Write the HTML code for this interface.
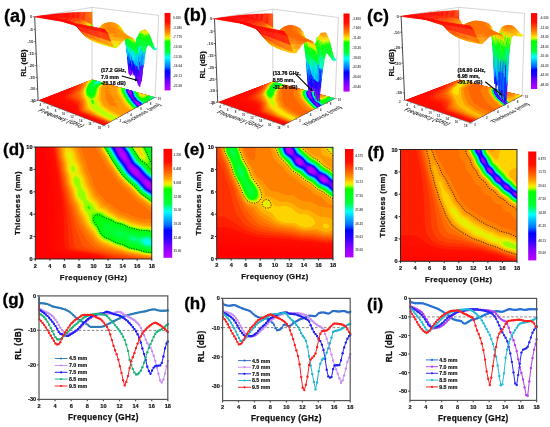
<!DOCTYPE html><html><head><meta charset="utf-8"><style>
html,body{margin:0;padding:0;background:#fff;width:550px;height:427px;overflow:hidden;}
svg{display:block;font-family:"Liberation Sans",sans-serif;filter:blur(0.35px);}
.cb{font-size:3.1px;fill:#555;font-weight:bold}
.tk{font-size:5.6px;fill:#111;font-weight:bold;stroke:#111;stroke-width:0.18px}
.ax{font-size:7.7px;fill:#111;font-weight:bold;letter-spacing:0.4px;stroke:#111;stroke-width:0.25px}
.ax2{font-size:8.2px;fill:#111;font-weight:bold;letter-spacing:0.35px;stroke:#111;stroke-width:0.25px}
.lg{font-size:5.3px;fill:#111;font-weight:bold;stroke:#111;stroke-width:0.18px}
.pl{font-size:17px;fill:#000;font-weight:bold;stroke:#000;stroke-width:0.3px}
.pl3{font-size:18px;fill:#000;font-weight:bold;stroke:#000;stroke-width:0.3px}
.z3{font-size:4.3px;fill:#333;font-weight:bold}
.t3{font-size:3.0px;fill:#444;font-weight:bold}
.a3{font-size:5.8px;fill:#333;font-weight:bold}
.a3b{font-size:5.3px;fill:#333;font-weight:bold}
.an{font-size:5.2px;fill:#000;font-weight:bold;stroke:#000;stroke-width:0.2px}
.r3{font-size:7.6px;fill:#111;font-weight:bold;stroke:#111;stroke-width:0.2px}
.k0{fill:#ff0100;stroke:#ff0100}.k1{fill:#ff0300;stroke:#ff0300}.k2{fill:#ff0500;stroke:#ff0500}.k3{fill:#ff0700;stroke:#ff0700}.k4{fill:#ff0900;stroke:#ff0900}.k5{fill:#ff0b00;stroke:#ff0b00}.k6{fill:#ff0e00;stroke:#ff0e00}.k7{fill:#ff1000;stroke:#ff1000}.k8{fill:#ff1c00;stroke:#ff1c00}.k9{fill:#ff2a00;stroke:#ff2a00}.k10{fill:#ff3800;stroke:#ff3800}.k11{fill:#ff4700;stroke:#ff4700}.k12{fill:#ff5500;stroke:#ff5500}.k13{fill:#ff6400;stroke:#ff6400}.k14{fill:#ff7300;stroke:#ff7300}.k15{fill:#ff8300;stroke:#ff8300}.k16{fill:#ff9500;stroke:#ff9500}.k17{fill:#ffa800;stroke:#ffa800}.k18{fill:#ffbe00;stroke:#ffbe00}.k19{fill:#ffd800;stroke:#ffd800}.k20{fill:#e8ed00;stroke:#e8ed00}.k21{fill:#c3ff00;stroke:#c3ff00}.k22{fill:#69ff00;stroke:#69ff00}.k23{fill:#10ff00;stroke:#10ff00}.k24{fill:#00ff06;stroke:#00ff06}.k25{fill:#00ff0d;stroke:#00ff0d}.k26{fill:#00ff14;stroke:#00ff14}.k27{fill:#00ff1c;stroke:#00ff1c}.k28{fill:#00ff23;stroke:#00ff23}.k29{fill:#00ff2a;stroke:#00ff2a}.k30{fill:#00ff31;stroke:#00ff31}.k31{fill:#00ff38;stroke:#00ff38}.k32{fill:#00ff50;stroke:#00ff50}.k33{fill:#00ff78;stroke:#00ff78}.k34{fill:#00ff9f;stroke:#00ff9f}.k35{fill:#00ffc4;stroke:#00ffc4}.k36{fill:#00ffe8;stroke:#00ffe8}.k37{fill:#00f7ff;stroke:#00f7ff}.k38{fill:#00e3ff;stroke:#00e3ff}.k39{fill:#00cfff;stroke:#00cfff}.k40{fill:#00bbff;stroke:#00bbff}.k41{fill:#00a9ff;stroke:#00a9ff}.k42{fill:#0097ff;stroke:#0097ff}.k43{fill:#0085ff;stroke:#0085ff}.k44{fill:#0073ff;stroke:#0073ff}.k45{fill:#0056ff;stroke:#0056ff}.k46{fill:#0034ff;stroke:#0034ff}.k47{fill:#0011ff;stroke:#0011ff}.k48{fill:#0400ff;stroke:#0400ff}.k49{fill:#0d00ff;stroke:#0d00ff}.k50{fill:#1600ff;stroke:#1600ff}.k51{fill:#1f00ff;stroke:#1f00ff}.k52{fill:#2800ff;stroke:#2800ff}.k53{fill:#3b00ff;stroke:#3b00ff}.k54{fill:#4d00ff;stroke:#4d00ff}.k55{fill:#5f00ff;stroke:#5f00ff}.k56{fill:#7000ff;stroke:#7000ff}.k57{fill:#7b00ff;stroke:#7b00ff}.k58{fill:#8600ff;stroke:#8600ff}.k59{fill:#9100ff;stroke:#9100ff}.k60{fill:#9d00ff;stroke:#9d00ff}.k61{fill:#a500ff;stroke:#a500ff}.k62{fill:#ad00ff;stroke:#ad00ff}.k63{fill:#b500ff;stroke:#b500ff}
</style></head><body>
<svg width="550" height="427" viewBox="0 0 550 427">
<rect width="550" height="427" fill="#fff"/>
<clipPath id="cd"><rect x="35.3" y="147" width="116.5" height="112"/></clipPath>
<g clip-path="url(#cd)">
<rect x="35.3" y="147" width="116.5" height="112" fill="#ff0100"/>
<path fill="#ff0400" fill-rule="evenodd" d="M151.9 147 151.8 259 86 259 84.8 257.9 79.7 256.6 63 255.3 56.4 254.3 52 252.8 49.5 250.6 48.7 248.7 48.2 245 47.6 182.5 46.9 167.5 45.1 147 151.9 147Z"/>
<path fill="#ff0700" fill-rule="evenodd" d="M151.9 147 151.8 259 89.9 259 89.2 258.1 87.2 257.1 83.3 256.2 65.2 254.5 58.9 253.4 55 251.9 52.6 249.7 51.9 247.8 51.5 244.1 51.1 199.3 50.6 181.5 49.6 166.6 47.3 147 151.9 147Z"/>
<path fill="#ff0a00" fill-rule="evenodd" d="M151.9 147 151.8 259 93.4 259 92.8 258.1 91.1 257.1 86.3 255.8 61.5 252.7 58.4 251.5 56 249.7 55.1 247.8 54.6 244.1 54.1 200.2 53.2 181.5 51.8 166.6 49.2 147 151.9 147Z"/>
<path fill="#ff0c00" fill-rule="evenodd" d="M151.9 147 151.8 259 97 259 96.4 258.1 94.9 257.1 89.2 255.4 64.4 252.1 60.7 250.6 58.8 248.7 58 246.9 57.7 244.1 57.4 213.3 56.6 194.6 53.7 166.6 50.7 147 151.9 147Z"/>
<path fill="#ff0f00" fill-rule="evenodd" d="M151.9 147 151.8 259 100.8 259 100.2 258.1 98.8 257.1 94.3 255.6 87 254.1 68.1 251.6 64.9 250.6 62.3 248.7 61.4 246.9 61 244.1 60.4 213.3 59.2 195.5 55.3 165.7 52.1 147 151.9 147Z"/>
<path fill="#ff1e00" fill-rule="evenodd" d="M151.9 147 151.8 259 105 259 103 257.1 97.7 255.3 90.6 253.8 71 250.8 67.6 249.7 65.5 247.8 64.5 244.1 63.7 217 62.8 205.8 61.4 194.6 53.4 147 151.9 147Z"/>
<path fill="#ff3100" fill-rule="evenodd" d="M151.9 147 151.8 259 110.6 259 107.9 257.1 102.8 255.3 92.8 253.1 76.9 250.6 73.2 249.6 70 247.8 69 245.9 68.6 244.1 67.7 225.4 66.2 210.5 54.7 147 151.9 147Z"/>
<path fill="#ff4400" fill-rule="evenodd" d="M151.8 147 151.8 259 125.5 259 102.3 253.7 81.2 249.7 78 248.7 75.1 246.9 73.8 244.1 73.1 236.6 69.4 213.3 63.1 186.2 55.9 147 151.8 147Z"/>
<path fill="#ff5800" fill-rule="evenodd" d="M151.8 147 151.8 259 138.2 259 134.8 258.1 112.5 254.5 87.8 248.7 85.3 247.8 82.7 245.9 81.2 243.2 75.4 227.3 70.8 208.6 68.2 200.2 66.6 192.7 64.2 184.3 63.1 177.8 61.5 171.3 60.4 163.8 58.7 157.3 57 147 151.8 147Z"/>
<path fill="#ff6c00" fill-rule="evenodd" d="M151.8 147 151.8 259 144.5 258.8 135.8 256.7 111 252.5 96.9 248.7 93.1 246.9 90.7 245 82.8 233.8 79.1 227.3 75.1 216.1 72.7 207.7 69.9 200.2 67.9 191.8 65.8 185.3 64.4 177.8 62.5 170.3 61.6 163.8 59.9 157.3 59.1 150.7 58.3 147 151.8 147Z"/>
<path fill="#ff8000" fill-rule="evenodd" d="M80.3 147 82.2 150.7 84.1 157.6 86.7 163.8 88.4 170.3 91 175.9 93.7 184.3 98.9 193.7 103.1 197.4 107.4 202.9 109.6 203 115.2 207.7 121.2 211.7 127 213.4 134.3 216.8 143.1 218.7 151.8 218.9 151.8 258.3 144.5 257.5 135.8 255.5 126.3 254.2 112.5 251.1 100.8 247.5 97.8 245.9 94.3 242.9 84.1 230.1 80.4 223.8 76.7 214.2 74.4 206.7 71 198.5 69.4 191.8 66.8 184.3 65.5 176.9 63.9 171.3 62.9 163.8 61 157.3 60.3 150.7 59.5 147 80.3 147ZM151.8 147 151.8 212.2 135.8 200.6 128.1 191.8 119.8 184.2 115 178.7 111.8 173.3 106 165.7 95.1 147 151.8 147Z"/>
<path fill="#ff9800" fill-rule="evenodd" d="M76.5 147 79 151.7 80.7 158.2 83.6 164.7 85.2 171.3 87.9 176.9 90.7 185.3 96.1 195.5 100.1 199.3 104.5 205.1 105.9 204.9 107.4 205.8 113.2 210.4 119.8 214.6 125.6 216.4 132.8 219.8 141.6 222.1 151.8 223.1 151.8 257.1 144.5 256.4 127 253.2 113.2 249.6 102.3 245.7 99.4 244 95.7 240.8 86.4 229.1 82.4 222.6 81.1 218.9 78.3 213.1 75.9 205.8 72.4 198.3 70.6 190.9 68.1 184.3 66.8 176.9 64.9 170.3 64.1 163.8 62 156.3 61.6 150.7 60.8 147 76.5 147ZM151.8 147 151.8 208.3 137.2 197.8 130.1 189.9 123.4 183.9 118.3 178.5 108.2 163.8 98.2 147 151.8 147Z"/>
<path fill="#ffb200" fill-rule="evenodd" d="M73.5 147 76.7 152.6 78.3 159.1 81.1 164.7 82.9 172.2 85.8 177.8 88.5 186.2 93.7 196.5 98.3 201.1 102.3 206.7 104 206.7 105.9 207.8 111 211.8 118.3 216.4 124.9 218.4 131.8 221.7 141.6 224.3 151.8 225.4 151.8 256.2 144.5 255.6 127.8 252.3 113.9 248.2 103 243.9 100.1 242.1 97.1 239.4 92.1 232.6 88.2 228.2 84.2 221.7 82.9 217.9 79.7 212 77.4 204.9 73.9 198.3 72.1 190.9 69.2 183.4 68.2 176.9 66 169.4 65.3 162.9 63.3 156.3 62.9 149.8 62.4 147 73.5 147ZM151.8 147 151.8 206.4 138.7 196.9 131.4 189 124.1 182.5 119 177 109.4 162.9 100 147 151.8 147Z"/>
<path fill="#ffd300" fill-rule="evenodd" d="M70.2 147 74.2 152.6 76.1 160.1 79.5 166.6 80.9 173.1 83.9 178.7 85.7 185.3 88.5 190.4 91 196.5 92.2 198.3 96.3 202.1 100.8 208.5 101.6 208.3 104.5 209.3 109.6 213.1 117.6 218 124.9 220.2 131.4 223.3 140.9 225.8 151.8 227.1 151.8 255.4 143.8 254.6 136.5 252.8 128.5 251.5 113.9 246.7 108.1 243.9 103.7 242.5 100.8 240.6 97.9 237.9 93.6 231.6 89.8 227.3 85.9 220.7 84.6 217 81.3 211.4 78.8 203.9 75.5 198.3 73.4 189.9 70.6 183.4 69.5 175.9 67.3 169.4 66.7 161.9 65 157.3 64.5 154.5 64.9 148.9 64.5 147 70.2 147ZM151.8 147 151.8 205.1 139.4 196 132.9 188.9 124.9 181.6 119.8 176.1 110.7 162.9 101.3 147 151.8 147Z"/>
<path fill="#e3f000" fill-rule="evenodd" d="M70.3 151.7 72.2 154.5 72.8 160.1 77.2 166.6 78.4 173.1 81.9 179 83.7 186.2 87 191.8 89 197.4 90 199.3 94.3 203 98.7 209.5 102.3 210.2 108.1 214.3 114.7 217.6 116.9 219.3 124.1 221.4 130.7 224.6 140.9 227.2 148.2 227.6 151.8 228.4 151.8 254.6 143.8 253.9 136.5 251.9 127.8 250.2 121.2 247.5 114.7 245.6 108.8 242.7 104.5 241.3 101.6 239.4 98.6 236.6 94.4 230.1 89.9 224.5 86.4 216.1 82.6 209.9 80.6 203 77.2 198.3 76.4 196.5 75.2 189.9 71.8 182.5 71.3 175.9 68.7 168.5 68.9 161 66.5 155.4 66.6 153.5 67.4 151.7 68.1 151.2 70.3 151.7ZM151.8 147 151.8 204 139.4 194.8 133.2 188.1 125.6 181.1 120.7 175.9 111.2 161.9 102.3 147 135.4 147 140.2 154.4 142.3 156.5 143.1 156.3 142.7 154.5 139.1 147 151.8 147Z"/>
<path fill="#96ff00" fill-rule="evenodd" d="M77 176.9 78.4 177.8 80.2 180.6 80.9 187.1 85 192.7 86.4 199.3 87 200.2 92.1 203.9 95.3 209.5 97.3 211.4 99.4 211.2 102.3 212.2 108 216.1 113.2 218.4 116.1 220.5 123.4 222.5 130.7 225.9 140.9 228.4 148.2 228.8 151.8 229.6 151.8 253.9 143.8 253.1 136.5 251 128.5 249.5 121.9 246.5 115.4 244.6 108.8 241.3 105.2 240.2 103 238.9 100.4 236.6 98.6 234.4 95.7 229.2 91.4 223.7 88.5 214.9 84.3 208.6 83.2 202.1 78.4 196.5 77.7 193.7 77.7 189.9 77.3 188.1 74.1 183.4 73.4 180.6 73.8 177.8 74.6 176.4 76.1 176.2 77 176.9ZM151.8 147 151.8 203.1 140.2 194.5 133.3 187.1 126.3 180.8 121.2 175.4 112 161.9 103.1 147 133.7 147 140.9 158.2 144.5 159.6 145.7 159.1 145.8 158.2 145 154.5 141.2 147 151.8 147ZM74 166.6 74.9 168.5 74.9 170.3 74.6 171.6 73.2 171.9 71.7 170.3 71.1 167.5 71.7 166.2 73.2 166.1 74 166.6Z"/>
<path fill="#1fff00" fill-rule="evenodd" d="M100.2 213.3 106.4 217 112.5 219.5 115.4 221.6 122.7 223.5 130 226.9 140.2 229.4 148.2 229.8 151.8 230.7 151.8 253.2 144.3 252.5 137.2 250.2 129.2 248.7 121.9 245.3 115.4 243.4 109.6 240.3 103.7 237.9 99.7 233.8 96.5 227.6 92.8 222.9 92 220.7 92 216.1 92.8 213.9 96.5 213.1 100.2 213.3ZM88.7 205.8 90 206.7 90.5 208.6 89.9 209.3 89.2 209.5 87.5 207.7 87.7 205.9 88.7 205.8ZM151.8 147 151.8 202.3 140.9 194.3 134.2 187.1 126.3 179.9 121.7 175 112.2 161 103.9 147 132.6 147 140.2 158.9 146 162.6 148.2 163.4 148.7 161.9 148.1 159.1 146.1 153.5 142.7 147 151.8 147Z"/>
<path fill="#00ff07" fill-rule="evenodd" d="M99.1 215.1 105.9 218.6 111.8 220.5 115.4 222.9 122.7 224.7 129.2 227.8 140.2 230.5 147.4 230.7 151.8 231.7 151.8 252.5 144.5 251.8 137.2 249.3 130 247.9 122.7 244.4 115.4 242.2 110.3 239.3 104.5 237 100.6 232.9 97.6 226.3 94.9 222.6 94.1 220.7 93.9 218.9 94.5 217 96.5 215.4 99.1 215.1ZM131.8 147 139.4 159.1 146.7 164.9 151.8 170.7 151.8 201.5 141 193.7 134.3 186.4 126.3 179.2 121.9 174.4 112.8 161 104.6 147 131.8 147ZM151.8 147 151.8 163.6 146.9 152.6 143.9 147 151.8 147Z"/>
<path fill="#00ff11" fill-rule="evenodd" d="M101.4 218.9 103.7 219.8 109.6 220.9 114.7 223.9 121.9 225.6 129.7 229.1 140.2 231.5 148.2 231.7 151.8 232.7 151.8 251.7 144.5 251 137.2 248.4 130 247 123.4 243.5 116.1 241.4 110.3 238 105.2 236.1 101.4 231.9 98.9 224.5 97 220.7 97.1 218.9 97.9 218.1 101.4 218.9ZM131 147 138.7 159.3 146.1 165.7 151.8 171.9 151.8 200.8 141.6 193.5 134.8 186.2 127 179.2 122.4 174.1 113.4 161 105.2 147 131 147ZM151.8 147 151.8 160.8 145.2 147 151.8 147Z"/>
<path fill="#00ff1a" fill-rule="evenodd" d="M110.2 222.6 114.7 225.3 121.9 226.7 129.2 230.1 140.2 232.5 147.4 232.5 151.8 233.6 151.8 251 144.5 250.3 137.2 247.4 130 246 123.4 242.3 116.9 240.5 111 237 105.9 235.1 103.6 232.9 101.9 230.1 101.3 226.3 101.8 223.5 103 222.3 105.9 221.8 110.2 222.6ZM130.4 147 138.6 160.1 144.2 164.7 151.8 172.8 151.8 200.2 141.6 192.9 135.1 185.7 127.8 179.2 123 174.1 113.4 160.1 105.7 147 130.4 147ZM151.8 147 151.8 157.9 146.4 147 151.8 147Z"/>
<path fill="#00ff24" fill-rule="evenodd" d="M108.4 223.5 110.3 224.1 113.9 226.5 121.2 227.6 128.5 231.1 140.2 233.5 147.4 233.4 151.8 234.5 151.8 250.2 145.1 249.7 137.2 246.5 130.7 245.2 124.1 241.4 117 239.4 111 235.4 106.7 234 103.7 230.7 103 228.2 103.1 226.3 103.7 224.8 105.2 223.9 106.7 223.4 108.4 223.5ZM129.8 147 138 160.1 143.4 164.7 151.8 173.6 151.8 199.6 142.1 192.7 135.2 185.3 127.8 178.6 123.4 173.9 113.9 160.1 106.2 147 129.8 147ZM151.8 147 151.8 155 147.8 147 151.8 147Z"/>
<path fill="#00ff2e" fill-rule="evenodd" d="M109.1 225.4 113.2 228.1 120.5 228.6 127.8 232.3 132.9 232.8 139.4 234.5 147.4 234.2 151.8 235.4 151.8 249.4 144.5 248.7 138 245.6 130.5 244.1 124.1 239.9 116.9 238 111.8 233.9 107.7 232.9 105.2 230.1 104.8 228.2 105.5 226.3 107.4 225.1 109.1 225.4ZM129.2 147 138 160.8 142.7 164.7 151.8 174.2 151.8 199.1 142.3 192.4 135.8 185.3 127.8 178 123.4 173.3 114.4 160.1 106.7 147 129.2 147ZM151.8 147 151.8 151.1 149.9 147 151.8 147Z"/>
<path fill="#00ff37" fill-rule="evenodd" d="M120.6 230.1 125.6 233.3 127 233.8 132.1 233.8 140.2 235.7 147.4 235.1 151.8 236.3 151.8 248.6 145.2 248.1 138 244.5 131.1 243.1 129.2 242.2 124.9 238.4 119.5 237.5 117.1 236.6 114.5 233.8 114 231.9 114.6 231 116.9 230 120.6 230.1ZM109.8 229.1 110 230.1 109.6 230.5 108.8 230.2 108.2 229.1 108.8 228.7 109.8 229.1ZM128.7 147 137.6 161 142.3 165 151.8 174.8 151.8 198.6 142.3 191.9 136.4 185.3 128.5 178.2 123.8 173.1 114.8 160.1 107.2 147 128.7 147Z"/>
<path fill="#00ff57" fill-rule="evenodd" d="M134.7 235.7 139.4 237 147.4 236 151.8 237.3 151.8 247.6 145.2 247.2 138 243.1 131.4 241.8 129.3 240.3 127.6 237.5 127.7 236.6 129.2 235.6 131.4 235.2 134.7 235.7ZM120.1 231.9 121.6 232.9 122.5 234.7 120.3 235.7 119 235.4 117.6 234.3 117.5 232.9 118.2 231.9 120.1 231.9ZM128.3 147 137.1 161 141.6 164.9 151.8 175.3 151.8 198.1 142.8 191.8 136 184.3 128.6 177.8 124.1 172.9 115.3 160.1 107.6 147 128.3 147Z"/>
<path fill="#00ff8c" fill-rule="evenodd" d="M149.9 237.5 151.8 238.4 151.8 246.6 148.2 246.8 145.2 246.3 141.6 244.1 138 240.4 132.9 240.4 131.2 239.4 130.7 238.5 131.4 237.4 134.3 237.5 138 239.4 144.5 237.1 147.4 236.9 149.9 237.5ZM127.8 147 130.5 150.7 136.6 161 141.6 165.4 147.8 172.2 151.8 175.8 151.8 197.6 143.1 191.6 136.5 184.3 129.1 177.8 124.1 172.4 121.2 167.5 115.1 159.1 108.1 147 127.8 147Z"/>
<path fill="#00ffbe" fill-rule="evenodd" d="M149.4 238.5 151.8 239.8 151.8 245.2 148.2 245.7 145.2 245.2 143.1 243.7 141.6 241.3 142.3 239.5 143.8 238.6 146.7 237.9 149.4 238.5ZM127.3 147 130.1 150.7 136.5 161.5 140.9 165.2 147.2 172.2 151.8 176.3 151.8 197.2 143.1 191.1 137 184.3 129.2 177.5 124.4 172.2 121.2 166.9 115.5 159.1 108.5 147 127.3 147Z"/>
<path fill="#00ffee" fill-rule="evenodd" d="M148 239.4 149.6 240.1 150.7 241.3 151.3 242.2 150.9 243.1 148.9 244.3 146.7 244.3 144.5 243.2 143.8 242.2 143.7 241.3 144.5 240 146 239.3 148 239.4ZM126.9 147 130 151.2 136.4 161.9 140.2 165 146.7 172.2 151.8 176.8 151.8 196.8 143.3 190.9 136.5 183.4 129.2 177 124.9 172.2 121.4 166.6 115.9 159.1 108.9 147 126.9 147Z"/>
<path fill="#00edff" fill-rule="evenodd" d="M126.5 147 129.9 151.7 136 161.9 140.2 165.5 147.1 173.1 151.8 177.2 151.8 196.4 143.8 190.9 137 183.4 126.9 174.1 116.3 159.1 109.3 147 126.5 147Z"/>
<path fill="#00d2ff" fill-rule="evenodd" d="M126.1 147 129.5 151.7 135.8 162.2 140.8 166.6 146.7 173.2 151.8 177.6 151.8 196 143.8 190.5 137.2 183.2 127.3 174.1 125 171.3 122.2 166.6 116.6 159.1 109.7 147 126.1 147Z"/>
<path fill="#00b8ff" fill-rule="evenodd" d="M125.7 147 129.1 151.7 133.3 159.1 135.8 162.7 139.4 165.7 146.2 173.1 151.8 178 151.8 195.6 143.8 190.1 137.2 182.7 127.7 174.1 125.3 171.3 122.6 166.6 117 159.1 110 147 125.7 147Z"/>
<path fill="#00a0ff" fill-rule="evenodd" d="M125.3 147 128.8 151.7 132.9 159.1 135.5 162.9 140.2 166.8 146.6 174.1 151.8 178.4 151.8 195.2 144.5 190.3 137.4 182.5 127.8 173.7 117.3 159.1 110.4 147 125.3 147Z"/>
<path fill="#0088ff" fill-rule="evenodd" d="M124.9 147 128.4 151.7 132.5 159.1 135.1 162.9 140.2 167.2 146.2 174.1 151.8 178.8 151.8 194.8 144.5 189.9 137.9 182.5 131.3 176.9 127.8 173.2 117.6 159 110.8 147 124.9 147Z"/>
<path fill="#0070ff" fill-rule="evenodd" d="M124.5 147 128.1 151.7 132.2 159.1 134.7 162.9 140 167.5 146 174.3 151.8 179.2 151.8 194.4 144.5 189.5 138 182.1 131.4 176.6 128.1 173.1 117.6 158.4 111.1 147 124.5 147Z"/>
<path fill="#0045ff" fill-rule="evenodd" d="M124.1 147 128.3 152.6 132.1 159.7 134.3 162.9 139.6 167.5 146 174.7 151.8 179.6 151.8 194.1 145.2 189.8 138 181.7 131.4 176.2 128.5 173.1 126.2 170.3 123.5 165.7 117.8 158.2 111.5 147 124.1 147Z"/>
<path fill="#0017ff" fill-rule="evenodd" d="M123.8 147 127.8 152.2 132 160.1 134.3 163.3 139.2 167.5 145.8 175 151.8 180 151.8 193.7 145.2 189.4 138.2 181.5 128.8 173.1 126.5 170.3 123.4 165.1 118.1 158.2 111.8 147 123.8 147Z"/>
<path fill="#0600ff" fill-rule="evenodd" d="M123.4 147 127.7 152.6 131.6 160.1 134.3 163.8 138.8 167.5 145.3 175 151.8 180.4 151.8 193.4 145.2 189.1 138.7 181.5 129.2 173.1 126.9 170.3 123.5 164.7 118.4 158.2 112.2 147 123.4 147Z"/>
<path fill="#1200ff" fill-rule="evenodd" d="M123 147 127.3 152.6 131.3 160.1 133.9 163.8 138.7 167.8 145.2 175.4 151.8 180.8 151.8 193 145.6 189 139.1 181.5 129.6 173.1 127 170 123.9 164.7 118.8 158.2 112.6 147 123 147Z"/>
<path fill="#1e00ff" fill-rule="evenodd" d="M122.6 147 127 152.6 130.9 160.1 133.6 163.9 138.7 168.2 145.2 175.8 151.8 181.1 151.8 192.6 146 189 139.4 181.4 130 173.1 127 169.5 124.3 164.7 119 158.1 113 147 122.6 147Z"/>
<path fill="#2b00ff" fill-rule="evenodd" d="M122.2 147 126.7 152.6 131.1 161 133.6 164.4 138.5 168.5 144.9 175.9 151.8 181.5 151.8 192.3 146 188.6 139.4 180.9 133.2 175.9 130 172.7 127.3 169.4 124.7 164.7 119 157.6 113.3 147 122.2 147Z"/>
<path fill="#4400ff" fill-rule="evenodd" d="M121.7 147 126.3 152.6 130.7 161 133.4 164.7 138.1 168.5 144.5 176.1 151.8 181.9 151.8 191.9 146 188.2 139.4 180.4 133.6 175.9 130 172.2 127.7 169.4 125.1 164.7 119.2 157.3 113.7 147 121.7 147Z"/>
<path fill="#5c00ff" fill-rule="evenodd" d="M121.3 147 126 152.6 130.3 161 133 164.7 138 168.7 144.5 176.6 151.8 182.3 151.8 191.5 146.2 188.1 139.4 179.9 133.6 175.5 130.3 172.2 128.1 169.4 125.6 164.7 119.5 157.3 114.2 147 121.3 147Z"/>
<path fill="#7200ff" fill-rule="evenodd" d="M120.8 147 126.2 153.5 129.8 161 131.7 163.8 138 169.1 143.8 176.4 151.8 182.7 151.8 191.2 146.7 188.1 140.2 180.1 133.6 175.1 130.7 172.2 128 168.5 126.1 164.7 119.8 157.1 114.6 147 120.8 147Z"/>
<path fill="#8100ff" fill-rule="evenodd" d="M120.2 147 125.9 153.5 129.3 161 131.2 163.8 137.8 169.4 143.7 176.9 151.8 183.1 151.8 190.8 146.7 187.6 140.3 179.7 132 173.1 128.5 168.7 125.9 163.8 120.5 157.6 115.1 147 120.2 147Z"/>
<path fill="#9000ff" fill-rule="evenodd" d="M119.6 147 125.5 153.5 129.2 161.9 130.6 163.8 137.3 169.4 143.1 177 151.8 183.5 151.8 190.3 146.7 187.2 140.9 179.5 133.6 174.2 130.8 171.3 128.8 168.5 126.6 163.8 120 156.3 115.8 147 119.6 147Z"/>
<path fill="#9f00ff" fill-rule="evenodd" d="M118.7 147 122.7 150.6 125.1 153.5 129.6 163.8 136.9 169.4 142.3 177.3 148.9 181.5 151.8 184 151.8 189.9 146.7 186.7 140.9 178.5 134.3 174.4 131.2 171.3 129.4 168.5 127.5 163.8 122.6 159.1 119.8 155.2 116.6 147 118.7 147Z"/>
<path fill="#a900ff" fill-rule="evenodd" d="M146.5 180.6 151.8 184.5 151.8 189.4 148.9 187.9 146.7 186.2 144.5 183.1 143.6 180.6 143.8 179.9 144.5 179.8 146.5 180.6ZM130.4 165.7 133.6 167.3 137.2 170.3 139.6 174.1 140.2 176.3 139.4 176.6 136.5 175.4 132.5 172.2 129.6 167.5 129.7 165.7 130.4 165.7ZM119.2 148.9 122.7 151.2 125.2 154.5 126.8 158.2 127 161.4 124.1 160 120.9 156.3 118.9 151.7 118.6 149.8 118.8 148.9 119.2 148.9Z"/>
<path fill="#b400ff" fill-rule="evenodd" d="M147.1 181.5 151.8 185.1 151.8 188.7 148.4 187.1 145.9 184.3 144.9 181.5 146 181.1 147.1 181.5ZM132.9 167.5 135.7 169.4 137.4 171.3 138.5 173.1 138.9 175 137.2 175 135.8 174.4 132.3 171.3 131.1 169.4 130.6 167.5 131.4 167.1 132.9 167.5ZM121.1 150.7 123.4 152.7 125.2 155.4 126.2 158.2 126.2 159.1 125.6 159.9 122.7 158 120.5 154.8 119.5 151.7 119.8 150.7 121.1 150.7Z"/>
<path fill="#b900ff" fill-rule="evenodd" d="M147.4 182.5 151.2 185.3 151.8 186.1 151.8 187.7 149.4 187.1 147.2 185.3 146.2 183.4 146.2 182.5 147.4 182.5ZM133.2 168.5 134.9 169.4 136.7 171.3 137.7 173.1 137.2 173.9 135.1 173.2 132.9 171.3 131.9 169.4 131.9 168.5 133.2 168.5ZM122.5 152.6 124.9 155.9 125.2 157.3 124.9 158.5 122.7 157.2 120.6 153.5 120.5 152.5 121.2 151.8 122.5 152.6Z"/>
<path fill="none" stroke="#111" stroke-width="0.9" stroke-dasharray="1.1 1.4" d="M151.8 252.6 144.5 251.9 137.2 249.5 130 248.1 122.7 244.6 116.1 242.7 109.6 239.2 105.2 237.7 102.3 235.3 100.4 232.9 97.3 226.3 94.3 222.1 93.7 220.7 93.6 218.9 94 217 95.7 215.3 97.2 214.8 99.4 214.8 105.2 218 111.8 220.3 115.2 222.6 122.7 224.5 129.2 227.6 140.2 230.3 147.4 230.6 151.8 231.5"/>
<path fill="none" stroke="#111" stroke-width="0.9" stroke-dasharray="1.1 1.4" d="M151.8 201.6 140.9 193.7 134.3 186.5 127 180 121.9 174.5 112.7 161 104.5 147"/>
<path fill="none" stroke="#111" stroke-width="0.9" stroke-dasharray="1.1 1.4" d="M131.9 147 139.5 159.1 147.4 165.3 151.8 170.5"/>
<path fill="none" stroke="#111" stroke-width="0.9" stroke-dasharray="1.1 1.4" d="M151.8 164 150.9 162.9 146.7 152.6 143.7 147"/>
</g>
<rect x="35.3" y="147" width="116.5" height="112" fill="none" stroke="#1a1a1a" stroke-width="0.9"/>
<path d="M35.3 259v1.8M49.9 259v1.8M64.4 259v1.8M79 259v1.8M93.6 259v1.8M108.1 259v1.8M122.7 259v1.8M137.2 259v1.8M151.8 259v1.8M35.3 259h-1.8M35.3 236.6h-1.8M35.3 214.2h-1.8M35.3 191.8h-1.8M35.3 169.4h-1.8M35.3 147h-1.8" stroke="#1a1a1a" stroke-width="0.9" fill="none"/>
<text x="35.3" y="267.6" class="tk" text-anchor="middle">2</text>
<text x="49.9" y="267.6" class="tk" text-anchor="middle">4</text>
<text x="64.4" y="267.6" class="tk" text-anchor="middle">6</text>
<text x="79" y="267.6" class="tk" text-anchor="middle">8</text>
<text x="93.6" y="267.6" class="tk" text-anchor="middle">10</text>
<text x="108.1" y="267.6" class="tk" text-anchor="middle">12</text>
<text x="122.7" y="267.6" class="tk" text-anchor="middle">14</text>
<text x="137.2" y="267.6" class="tk" text-anchor="middle">16</text>
<text x="151.8" y="267.6" class="tk" text-anchor="middle">18</text>
<text x="32.5" y="261" class="tk" text-anchor="end">0</text>
<text x="32.5" y="238.6" class="tk" text-anchor="end">2</text>
<text x="32.5" y="216.2" class="tk" text-anchor="end">4</text>
<text x="32.5" y="193.8" class="tk" text-anchor="end">6</text>
<text x="32.5" y="171.4" class="tk" text-anchor="end">8</text>
<text x="32.5" y="149" class="tk" text-anchor="end">10</text>
<text x="93.6" y="279.6" class="ax" text-anchor="middle">Frequency (GHz)</text>
<text transform="translate(19.7,203) rotate(-90)" class="ax" text-anchor="middle">Thickness (mm)</text>
<clipPath id="ce"><rect x="216.7" y="147.3" width="116.3" height="111.5"/></clipPath>
<g clip-path="url(#ce)">
<rect x="216.7" y="147.3" width="116.3" height="111.5" fill="#ff0100"/>
<path fill="#ff0400" fill-rule="evenodd" d="M333.1 147.3 333 253.7 308.3 252.5 259.6 251.6 230.5 249.7 216.7 249.5 216.7 147.3 333.1 147.3Z"/>
<path fill="#ff0700" fill-rule="evenodd" d="M333.1 147.3 333 250.7 309 249.3 261 248.2 229.8 245.2 216.7 245 216.7 147.3 333.1 147.3Z"/>
<path fill="#ff0a00" fill-rule="evenodd" d="M333.1 147.3 333 248.4 322.8 248.1 309 246.8 261.8 245.4 250.1 244.3 229.8 241.4 216.7 241 216.7 147.3 333.1 147.3Z"/>
<path fill="#ff0c00" fill-rule="evenodd" d="M333.1 147.3 333 246.4 323.6 246.2 311.8 244.9 287.2 243.5 261.8 242.8 250.1 241.4 229.1 237.4 216.7 237 216.7 147.3 333.1 147.3Z"/>
<path fill="#ff0f00" fill-rule="evenodd" d="M333.1 147.3 333 244.7 323.6 244.5 311.9 243 287.2 241.3 261 240.2 248.7 238.2 228.3 232.9 216.7 232.6 216.7 147.3 333.1 147.3Z"/>
<path fill="#ff1e00" fill-rule="evenodd" d="M333.1 147.3 333 243.1 324.3 242.9 311.9 241.2 301.7 240.8 287.9 239.2 260 237.4 247.4 234.6 228.3 227.4 224.7 226.9 216.7 226.9 216.7 147.3 333.1 147.3Z"/>
<path fill="#ff3100" fill-rule="evenodd" d="M333 147.3 333 241.5 324.3 241.4 312.6 239.5 301 239 287.9 237.1 266.1 235.6 257.4 234.2 250.1 232 243.5 229.1 226.1 217.4 224 216.8 216.7 216.3 216.7 147.3 333 147.3Z"/>
<path fill="#ff4400" fill-rule="evenodd" d="M333 147.3 333 240 324.3 239.9 313.4 237.9 301.7 237.4 289.4 235.3 263.9 232.5 254.4 230 246.1 225.4 242.8 222.6 240.4 219.8 237.7 216.1 235.3 211.4 232.8 203.1 230.7 191.9 229.1 186.3 225.6 178 221.8 166.6 216.7 155.9 216.7 147.3 333 147.3Z"/>
<path fill="#ff5800" fill-rule="evenodd" d="M333 147.3 333 238.4 327.9 238.6 322.8 238.2 313.4 236.3 301.7 235.8 290.1 233.4 270.6 230.9 258.9 228 255.1 226.3 251.6 223.9 246 217.9 242.5 212.3 240.3 207.7 236.8 198.4 233.6 188.2 228.8 177 224.7 165 220 154.7 218.5 150.1 218.2 147.3 333 147.3Z"/>
<path fill="#ff6c00" fill-rule="evenodd" d="M333 147.3 333 236.9 327.2 237.2 322.8 236.7 314.1 234.7 301.7 234.1 290.8 231.5 277.8 229.9 262.5 225.7 259.5 224.4 256 222.1 252.8 218.8 248.1 212.3 245 208.9 241 202.1 238.6 196.5 235.6 188 230.2 176.1 226.1 164.2 222.1 155.7 220.3 150.1 219.9 147.3 333 147.3Z"/>
<path fill="#ff8000" fill-rule="evenodd" d="M333 147.3 333 235.1 327.9 235.6 323.6 235.3 314.8 233 302.5 232.6 291.6 229.7 279.2 228 273.4 226.4 263.9 222.5 258.1 218.9 255.2 215.7 250.9 209.6 249.4 209 246.5 206.6 242.6 201.2 240.3 196.5 236.7 187.3 231.1 175.2 227.6 164.7 222.6 153.8 221.5 150.1 221.1 147.3 243.5 147.3 248 156.9 250.1 159.4 252.3 160.5 253.8 160.1 255.2 157.5 255.6 154.7 255.6 147.3 333 147.3Z"/>
<path fill="#ff9800" fill-rule="evenodd" d="M241.5 147.3 245.8 158.2 252.1 167.7 255.6 175.2 264 182.6 269.8 190.4 276.3 191.4 285 195 288.7 195.4 289.4 194.8 293 195.4 301.7 200.7 307.6 202.1 309.7 201.7 311.2 202.1 319.9 206.6 333 208.5 333 233.2 326.5 233.9 323.6 233.5 315.6 231.1 303.2 231 298.8 230 292.3 227.7 282.8 226.6 278.5 225.5 274.9 224.3 263 217.9 258.4 214.2 253.5 207.7 250.9 207.1 246.5 204 244.3 201.5 242 197.5 237.8 187 232.4 176.1 228.3 163.9 223.6 153.8 222.2 149.2 222 147.3 241.5 147.3ZM333 147.3 333 205.8 327.9 203.6 322.8 198.4 320.6 196.7 314.1 194.1 308.7 188.2 301 184 296.1 178.9 288.7 174.5 285 170.5 282.6 166.8 277 162.4 275.2 160.3 273.6 157.5 271.4 151 268.7 147.3 333 147.3Z"/>
<path fill="#ffb200" fill-rule="evenodd" d="M240.2 147.3 244.3 158.4 250 167.7 253.4 176.1 260.2 184.5 263.7 190 265.4 193.8 265.4 196 269.8 196.6 279.9 201.4 283.6 202 286.5 201.6 289.4 202.3 293 204 299.6 208.4 303.2 209.6 306.1 210.1 306.8 209.8 309.7 210.5 319.2 216.2 321.4 216.9 328.6 217.6 330.8 218.4 333 220 333 230.3 329.4 231.7 326.5 231.9 322.8 231.2 316.3 228.8 304.7 229.4 299.6 228.2 293 225.5 284.3 224.8 280.7 223.9 275.6 221.8 271.9 218.6 261.8 212.5 259.6 210.4 256 205.6 251.6 205.3 246.5 202.2 245 200.6 242.2 195.6 238.5 186.3 232.9 175.2 229.2 164 224.5 153.8 223 149.2 222.8 147.3 240.2 147.3ZM303.6 147.3 313 154.7 320.6 157.8 325.5 164 333 169.5 333 200.7 329.4 198.9 322.5 193.8 316.3 190.6 310.4 185.4 303.9 181.6 297.5 176.1 290.8 172 285 164.9 278.4 158.4 276.8 155.7 274.6 150.1 272.9 147.3 303.6 147.3ZM333 147.3 333 160.1 329.4 157.8 323.6 155.6 322.4 154.7 321.4 152.9 320.6 147.3 333 147.3Z"/>
<path fill="#ffd300" fill-rule="evenodd" d="M328.4 224.4 329.1 225.4 329 227.2 327.2 228.4 325 228.2 323.6 227.4 322.6 225.4 323.2 224.4 325 223.6 326.5 223.6 328.4 224.4ZM239.2 147.3 243.6 159.4 249.1 168.7 252.2 177 258.6 185.4 260.8 189.1 262.8 194.7 262.9 197.5 262.1 199.3 262.5 199.9 265.4 198.6 268.3 198.8 270.5 200.3 274.1 205.4 275.6 206.3 279.9 206.6 284.3 205.7 287.2 206.2 290.8 207.8 298.1 213.5 300.3 214.2 305.4 214.2 309 215.3 313.4 218.8 315.1 222.6 314.8 223.8 313.4 225.3 311.2 226.4 305.4 227.4 300.3 226 294.5 222.9 285.8 222.7 282.1 222 277 219.5 273.4 214.6 271.2 212.6 262.5 208.3 260.7 205.8 260.2 203.1 259.6 202.2 256 203.9 252.3 204 250.1 203.2 246.5 200.8 242.9 194.9 239.4 186.3 233.7 175.2 229.8 163.4 225.2 153.8 223.5 147.3 239.2 147.3ZM260.3 202 259.9 202.1 260.3 202.7 260.3 202ZM261 201.2 261 201.2ZM261.8 200 261.8 200.5 261.8 200ZM301.9 147.3 311.2 155.7 318.5 159.8 325 165.8 333 171.2 333 199.2 329.4 197.3 323.6 192.8 317 189.4 311.2 184.4 304.7 180.4 298.5 175.2 291.6 170.9 286 164 279.4 157.5 274.5 147.3 301.9 147.3ZM333 147.3 333 157.1 327.7 151.9 324.7 147.3 333 147.3Z"/>
<path fill="#e3f000" fill-rule="evenodd" d="M268.8 201.2 269.5 202.1 270 204 269 206.2 266.1 207 264.7 206.5 263.3 204.9 263.1 203.1 264.7 200.9 266.9 200.3 268.8 201.2ZM238.4 147.3 242.2 158.4 248 168.7 251.5 178 257.1 185.4 259.7 190 260.9 194.7 260.7 197.5 259.6 199.9 256.5 202.1 253 202.6 249.4 201.6 246.5 199.4 244.3 196 240 185.8 234 174.2 230.5 163.3 225.9 153.8 224.2 147.3 238.4 147.3ZM300.8 147.3 303.3 150.1 310.8 156.6 317.7 160.7 323.5 165.9 330.1 170 333 172.3 333 198.2 329.4 196.2 323.8 191.9 317.7 188.8 311.6 183.5 304.7 179.4 298.8 174.3 292.3 170.4 286.4 163.1 280.5 157.5 278.8 154.7 275.6 147.3 300.8 147.3ZM333 147.3 333 154.8 327 147.3 333 147.3Z"/>
<path fill="#96ff00" fill-rule="evenodd" d="M267.3 203.1 267.2 204 265.9 204 266.1 202.8 267.3 203.1ZM237.6 147.3 239.1 151 241.7 159.4 247.1 168.7 250.4 178 256.5 186.3 258.5 190 259.4 195.6 257.9 199.3 256.7 200.4 253.8 201.4 250.1 200.7 247.5 199.3 245 195.6 240.5 185.4 234.6 174.2 231.1 163.1 226.2 152.9 224.9 147.3 237.6 147.3ZM300 147.3 302.3 150.1 310.8 157.5 317.7 161.6 323.5 166.8 329.4 170.3 333 173.2 333 197.4 330.1 195.9 324.3 191.4 317.7 188 311.5 182.6 306.1 179.5 299.9 174.2 292.5 169.6 287.2 163 280.6 156.6 276.4 147.3 300 147.3ZM333 147.3 333 152.6 328.9 147.3 333 147.3Z"/>
<path fill="#1fff00" fill-rule="evenodd" d="M236.8 147.3 238.5 151 240.8 159.4 246.3 168.7 249.9 178.9 255.4 186.3 257.8 191 258.1 195.6 256.9 198.4 256 199.3 253 200.3 249.4 199.5 248 198.6 245.3 194.7 241.3 185.4 235.2 174.2 231.8 163.1 226.8 152.9 225.5 147.3 236.8 147.3ZM299.3 147.3 301.7 150.3 309.8 157.5 317 161.8 322.8 167 329.4 170.9 333 173.9 333 196.8 330.1 195.2 324.7 191 318.5 187.8 312.4 182.6 305.4 178.4 299.6 173.3 293 169.4 287.3 162.2 281.3 156.6 277.1 147.3 299.3 147.3ZM333 147.3 333 150.3 330.7 147.3 333 147.3Z"/>
<path fill="#00ff07" fill-rule="evenodd" d="M236.1 147.3 238.1 151.9 240 159.4 246 169.6 249 178.9 255 187.3 256.8 191 256.9 195.6 256.1 197.5 255.2 198.4 252.3 199.3 248.7 198.4 245.5 193.8 241.6 184.5 235.8 174.2 232.5 163.1 227.7 153.8 226.1 147.3 236.1 147.3ZM298.7 147.3 301.7 151 310.1 158.4 317 162.5 322.8 167.7 328.6 171 333 174.6 333 196.3 325 190.6 317.7 186.7 312 181.7 306.1 178.3 300.4 173.3 293 168.7 287.9 162.1 281.4 155.9 277.7 147.3 298.7 147.3Z"/>
<path fill="#00ff11" fill-rule="evenodd" d="M235.4 147.3 237.5 151.9 239.6 160.3 245.3 169.6 248.6 179.8 254.1 187.3 255.9 191 256.2 191.9 256.1 194.7 254.5 197.6 252.3 198.3 250.1 198.2 249 197.5 246.3 193.8 242.4 184.5 236.3 174 233.3 163.1 228.3 153.8 226.7 148.2 226.7 147.3 235.4 147.3ZM298.2 147.3 301.1 151 309.4 158.4 316.3 162.5 322.1 167.7 328.6 171.5 333 175.1 333 195.8 325 190 318.5 186.7 312.8 181.7 306.8 178.3 300.3 172.7 293.6 168.7 287.9 161.5 281.7 155.7 278.2 147.3 298.2 147.3Z"/>
<path fill="#00ff1a" fill-rule="evenodd" d="M234.7 147.3 236.8 151.9 238.7 160.3 244.6 169.6 245.7 172.4 247.7 179.8 253.1 187.3 255 191 255.3 193.8 253.8 196.8 251.6 197.5 250.1 197.3 246.5 192.8 242.8 183.5 237 174.2 235.7 170.5 233.7 162.2 228.5 152.9 227.3 147.3 234.7 147.3ZM297.8 147.3 300.5 151 309.7 159.3 316.3 163 322.1 168.2 328.6 172 333 175.7 333 195.4 325.7 190 319.2 186.8 312.6 181.1 306.8 177.8 300.6 172.4 293.7 168.3 288.3 161.2 282.2 155.7 278.6 147.3 297.8 147.3Z"/>
<path fill="#00ff24" fill-rule="evenodd" d="M234 147.3 236.2 151.9 237.2 158.4 238.1 161.2 243.9 169.6 245.1 172.4 247.1 180.8 252.2 187.3 254.1 191 254.7 193.8 252.3 196.5 250.6 196.5 246.8 191.9 243.8 183.5 238.5 175.8 237.1 172.9 234.3 161.2 230.5 155.6 229.1 152.6 228 147.3 234 147.3ZM297.3 147.3 300.3 151.3 309.3 159.4 316.3 163.4 322.1 168.7 327.9 171.9 333 176.1 333 195 325.7 189.6 318.5 185.8 312.8 180.8 306.8 177.4 301 172.2 293.7 167.8 288.8 161.2 282.6 155.7 281.2 152.9 279.1 147.3 297.3 147.3Z"/>
<path fill="#00ff2e" fill-rule="evenodd" d="M237.5 163.1 240.7 165.9 243.7 170.5 244.8 174.2 245.9 181.7 250.3 186.3 252.8 190 253.6 193.8 252.3 195.4 251.6 195.6 250.1 194.7 248 192.3 246.5 189.1 244.9 182.6 240 176.8 237.9 173.3 236.9 170.5 236.3 166.8 236.3 163.8 237.1 162.8 237.5 163.1ZM297 147.3 300.3 151.8 309 159.6 316.3 163.8 321.5 168.7 327.9 172.3 333 176.6 333 194.6 325.7 189.2 319.2 185.9 313.4 180.7 307.6 177.5 301 171.8 294.1 167.7 289.2 161.2 282.8 155.4 279.5 147.3 297 147.3ZM233.2 147.3 234.9 150.3 235.9 153.8 236.1 157.5 235.6 159.8 233.4 158.3 231.2 155.6 229.8 152.9 229 150.1 228.8 147.3 233.2 147.3Z"/>
<path fill="#00ff37" fill-rule="evenodd" d="M296.6 147.3 300 151.9 309 160 315.6 163.7 321.4 169 327.9 172.7 333 177 333 194.3 326.3 189.1 319.2 185.6 314 180.8 306.8 176.6 301.2 171.5 294.5 167.7 289.4 160.9 282.8 154.9 279.8 147.3 296.6 147.3ZM249.5 187.3 251.1 189.1 251.9 191 252.1 191.9 251.6 193.2 250.9 193.5 249.7 192.8 247.9 190 247.4 187.3 248 186.5 249.5 187.3ZM239.2 165.9 241.8 168.7 243.6 172.3 244.1 175.2 243.6 178.3 242.1 177.8 240 175.6 237.8 171.5 237.3 166.8 237.8 165.7 239.2 165.9ZM232 147.3 234 150.1 234.9 152.6 235.1 155.7 234.9 156.6 234.1 157 231.6 154.7 229.9 151 229.6 149.2 230 147.3 232 147.3Z"/>
<path fill="#00ff57" fill-rule="evenodd" d="M296.3 147.3 299.5 151.9 308.8 160.3 315.6 164.1 321.4 169.4 327.9 173 333 177.4 333 194 326.5 188.9 319.2 185.2 313.4 179.9 306.8 176.3 301.7 171.5 294.5 167.3 289.4 160.4 283.1 154.7 280.2 147.3 296.3 147.3ZM240.7 168.7 242.1 170.8 243 173.3 242.9 175.2 242.1 175.9 240 174.3 238.4 170.5 238.5 168.3 239.2 167.8 240.7 168.7ZM232 149.2 233.7 151.9 233.7 153.8 233.4 154.3 232 153.5 231.2 151.9 230.8 150.1 231.1 149.2 232 149.2Z"/>
<path fill="#00ff8c" fill-rule="evenodd" d="M295.9 147.3 299.1 151.9 308.3 160.3 315.6 164.4 321.1 169.6 327.2 172.9 333 177.7 333 193.7 326.5 188.5 319.2 184.9 314.1 180 307.1 176.1 301.7 171.1 294.5 166.9 289.7 160.3 283.4 154.7 280.5 147.3 295.9 147.3ZM240.8 171.5 241 172.4 240.7 172.6 240.3 171.5 240.8 171.5Z"/>
<path fill="#00ffbe" fill-rule="evenodd" d="M295.6 147.3 298.8 152.1 303.9 156.3 308.3 160.6 315.6 164.7 320.6 169.6 327.2 173.2 333 178.1 333 193.4 326.5 188.2 319.2 184.5 314.1 179.7 307.5 176.1 301.7 170.8 295.2 167.2 293.2 165 290.1 160.3 283.8 154.7 282.3 151.9 280.8 147.3 295.6 147.3Z"/>
<path fill="#00ffee" fill-rule="evenodd" d="M295.3 147.3 298.8 152.5 303.2 156 308.3 161 314.8 164.5 320.6 170 327.2 173.5 333 178.4 333 193.1 327.1 188.2 319.5 184.5 314.1 179.3 307.6 175.8 301.7 170.4 295.2 166.9 290.1 159.9 284.1 154.7 282.6 151.9 281.1 147.3 295.3 147.3Z"/>
<path fill="#00edff" fill-rule="evenodd" d="M295 147.3 298.8 152.9 303.2 156.3 308.1 161.2 314.8 164.8 320.6 170.3 327.2 173.8 333 178.8 333 192.8 327.2 187.9 319.9 184.4 314.1 179 307.6 175.5 301.7 170.1 295.2 166.5 290.1 159.5 284.3 154.6 282.9 151.9 281.5 147.3 295 147.3Z"/>
<path fill="#00d2ff" fill-rule="evenodd" d="M294.7 147.3 298.4 152.9 303.1 156.6 307.7 161.2 314.8 165.1 320.4 170.5 327.2 174.1 333 179.1 333 192.5 327.2 187.6 319.9 184.2 314.1 178.6 307.6 175.2 302.5 170.2 295.2 166.2 290.4 159.4 284.3 154.2 283.1 151.9 281.7 147.3 294.7 147.3Z"/>
<path fill="#00b8ff" fill-rule="evenodd" d="M294.4 147.3 298 152.9 302.8 156.6 307.6 161.5 314.8 165.4 320 170.5 326.5 173.9 333 179.4 333 192.2 327.2 187.3 319.9 183.9 314.1 178.3 307.9 175.2 302.5 169.9 295.9 166.5 293.7 164.1 290.8 159.4 285.8 155.5 284.3 153.8 282 147.3 294.4 147.3Z"/>
<path fill="#00a0ff" fill-rule="evenodd" d="M294.1 147.3 297.6 152.9 302.5 156.6 307.6 161.9 314.8 165.7 319.9 170.8 326.5 174.1 333 179.7 333 192 327.2 186.9 319.9 183.6 314.8 178.5 308.3 175.2 302.5 169.6 295.9 166.2 294 164 291.1 159.4 284.6 153.8 283.6 151.9 282.3 147.3 294.1 147.3Z"/>
<path fill="#0088ff" fill-rule="evenodd" d="M293.9 147.3 297.4 153 302.5 156.9 307.6 162.2 314.7 165.9 319.9 171.2 326.5 174.4 333 180 333 191.7 327.2 186.6 320.2 183.5 314.8 178.1 308.3 174.9 302.5 169.2 295.9 166 294.3 164 291.5 159.4 284.8 153.8 283.9 151.9 282.6 147.3 293.9 147.3Z"/>
<path fill="#0070ff" fill-rule="evenodd" d="M293.6 147.3 297.4 153.4 302.5 157.2 307.6 162.6 314.3 165.9 319.8 171.5 326.5 174.7 330.9 178.9 333 180.3 333 191.4 327.9 186.8 320.6 183.5 314.8 177.8 308.3 174.6 303.2 169.4 295.9 165.6 291.6 159 285.1 153.8 283.8 151 282.9 147.3 293.6 147.3Z"/>
<path fill="#0045ff" fill-rule="evenodd" d="M293.4 147.3 296.7 153 302.5 157.5 306.8 162.3 314.1 166 319.4 171.5 326.5 174.9 330.8 179.2 333 180.6 333 191.2 327.9 186.4 320.6 183.3 314.8 177.5 308.3 174.4 303.2 169.1 295.9 165.3 291.6 158.6 285.4 153.8 284 151 283.1 147.3 293.4 147.3Z"/>
<path fill="#0017ff" fill-rule="evenodd" d="M293.1 147.3 296.7 153.5 302.5 157.8 306.8 162.7 314.1 166.3 319.2 171.7 326.4 175.2 330.8 179.6 333 180.9 333 190.9 327.9 186.1 320.6 183 315.6 177.6 308.5 174.2 303.2 168.7 296.7 165.7 295.1 164 291.6 158.2 285.7 153.8 284.3 151 283.4 147.3 293.1 147.3Z"/>
<path fill="#0600ff" fill-rule="evenodd" d="M292.8 147.3 296.7 153.9 302.5 158.1 306.8 163.1 314.1 166.5 319.2 172.1 326 175.2 330.8 179.9 333 181.2 333 190.6 327.9 185.7 322.8 184 320.6 182.8 315.6 177.3 308.9 174.2 303.2 168.3 296.7 165.4 294.7 163.1 292.2 158.4 285.8 153.6 284.3 150.4 283.7 147.3 292.8 147.3Z"/>
<path fill="#1200ff" fill-rule="evenodd" d="M292.6 147.3 296.7 154.3 301.7 157.7 306.8 163.5 314.1 166.8 319.1 172.4 325.7 175.2 330.8 180.3 333 181.5 333 190.3 328.6 185.8 320.8 182.6 315.6 176.9 309 174.1 303.9 168.5 296.7 165.1 294.9 163.1 292.3 158.1 285.8 153.2 284.4 150.1 284 147.3 292.6 147.3Z"/>
<path fill="#1e00ff" fill-rule="evenodd" d="M292.3 147.3 295.9 154 301.7 158 306.8 163.9 313.7 166.8 318.6 172.4 325.7 175.5 330.8 180.8 333 181.8 333 190.1 328.6 185.4 321.2 182.6 315.6 176.5 309 173.8 303.9 168.1 296.8 165 295.2 163.1 292.3 157.6 287.2 154.4 285.8 152.9 284.7 150.1 284.3 147.3 292.3 147.3Z"/>
<path fill="#2b00ff" fill-rule="evenodd" d="M292 147.3 295.9 154.6 301.7 158.3 306.1 163.8 307.6 164.7 313.4 166.8 315.6 168.8 318.5 172.8 325.7 175.8 330.8 181.2 333 182.1 333 189.8 328.6 185 321.4 182.5 319.5 180.8 316.3 176.5 309 173.6 303.9 167.6 298.8 165.9 296.7 164.5 295.2 162.6 292.7 157.5 288.1 154.7 286.1 152.9 284.9 150.1 284.6 147.3 292 147.3Z"/>
<path fill="#4400ff" fill-rule="evenodd" d="M291.7 147.3 293.5 150.1 295.5 154.7 301.6 158.4 306.1 164.3 313.4 167.1 315.9 169.6 318.5 173.3 325.7 176 327.8 178 330.1 181.1 333 182.5 333 189.5 328.6 184.5 323.6 183.3 320.7 181.7 316.3 176.1 311.2 174.5 309 173.3 303.9 167.2 298.8 165.6 296.7 164.2 295.2 162.2 293 157.2 287.2 153.8 285.8 151.9 285.1 150.1 284.9 147.3 291.7 147.3Z"/>
<path fill="#5c00ff" fill-rule="evenodd" d="M291.4 147.3 293.2 150.1 295.2 155.2 301.2 158.4 303.7 161.2 306.1 164.9 311.2 166.3 313.4 167.4 315.6 169.6 318.5 173.9 322.8 174.9 325.5 176.1 327.5 178 330.1 181.8 333 182.8 333 189.2 329.4 184.4 323.6 183.1 321.1 181.7 319.4 179.8 317 176 311.2 174.3 309 173 307.5 171.5 304.7 167 298.8 165.4 296.8 164 295.5 162.2 294.2 158.4 293.1 156.6 287.6 153.8 286.5 152.7 285.6 151 285.1 147.3 291.4 147.3Z"/>
<path fill="#7200ff" fill-rule="evenodd" d="M291.1 147.3 293.3 151 294.5 155.7 299.6 157.6 301 158.6 303.9 162.1 305.4 165.6 310.5 166.3 313.4 167.6 315.6 170 317.7 174.6 322.1 175 325 176.1 327.2 178 330.1 183 333 183.1 333 188.9 329.4 183.4 324.3 183 321.4 181.6 319.7 179.8 317.7 175.6 317 174.9 311.9 174.2 309 172.7 307.2 170.5 305.4 166.3 299.6 165.4 297.1 164 295.3 161.2 294.2 156.6 288.7 154.3 286.9 152.9 285.9 151 285.4 147.3 291.1 147.3Z"/>
<path fill="#8100ff" fill-rule="evenodd" d="M333 183.5 333 188.5 332 187.3 331 184.5 331.5 183.8 333 183.5ZM321.5 175.2 324.5 176.1 326.8 178 328.5 180.8 328.5 182.6 324.3 182.8 320.6 180.7 319.4 178.9 318.6 176.1 319.2 175.4 321.5 175.2ZM311.3 166.8 313.4 168 315.6 170.5 316.2 172.4 315.8 174.2 312.6 174.1 309.7 172.9 307.5 170.5 306.5 167.7 306.7 166.8 307.6 166.5 311.3 166.8ZM298.7 157.5 301 158.9 302.5 160.4 304 163.1 303.9 165.1 301.7 165.5 299.6 165.2 296.6 163.1 295.3 160.3 295.1 157.5 296.7 157 298.7 157.5ZM290.7 147.3 292.3 149.4 293.4 151.9 293.6 153.8 293 155 290.8 154.9 288.7 154 287.2 152.8 286.1 151 285.7 147.3 290.7 147.3Z"/>
<path fill="#9000ff" fill-rule="evenodd" d="M333 184.5 333 188.1 331.9 186.3 331.8 184.5 333 183.9 333 184.5ZM323.9 176.1 326.5 177.9 327.8 179.8 327.9 181.7 327.2 182.5 324.7 182.6 322.2 181.7 320.3 179.8 319.5 178 319.3 176.1 319.9 175.7 323.9 176.1ZM310.1 166.8 312.6 167.7 314.1 169 315.6 171.5 315.5 173.3 314.1 173.9 311.9 173.7 310.5 173.1 308.5 171.5 307.5 169.6 307.1 167.7 308.3 166.8 310.1 166.8ZM297.6 157.5 299.6 158.2 302.1 160.3 303.6 163.1 303.6 164 303.2 164.7 301.7 165.2 299.6 164.9 296.9 163.1 295.8 161.2 295.5 158.4 296.6 157.5 297.6 157.5ZM290.3 147.3 292.3 149.9 293.1 151.9 293 153.8 292.3 154.4 290.8 154.5 288.7 153.7 286.8 151.9 286.1 150.1 286.1 147.3 290.3 147.3Z"/>
<path fill="#9f00ff" fill-rule="evenodd" d="M333 184.5 333 187.6 332.3 185.4 332.6 184.5 333 184.5ZM323 176.1 326.1 178 327.4 179.8 327.5 180.8 327.2 181.7 325.7 182.3 323.6 182 320.6 179.8 319.8 178 320.2 176.1 323 176.1ZM312.1 167.7 313.5 168.7 314.9 170.5 315.3 172.4 314.8 173.1 312.6 173.5 310.5 172.8 308.8 171.5 307.8 169.6 307.7 167.7 308.3 167.3 310.5 167.2 312.1 167.7ZM299.5 158.4 302.4 161.2 303.2 163.1 303.1 164 301.7 164.8 299.6 164.6 298.1 163.9 296.7 162.2 296 160.3 296.1 158.4 297.4 157.9 299.5 158.4ZM289.9 147.3 290.9 148.2 292.5 151 292.6 152.9 292.3 153.9 290.8 154.1 288.7 153.3 286.7 151 286.3 149.2 286.5 147.3 289.9 147.3Z"/>
<path fill="#a900ff" fill-rule="evenodd" d="M333 185.4 333 187.1 333 185.4ZM324.6 177 327 179.8 327 180.8 326.5 181.5 325 181.9 322.8 181.4 321 179.8 320.3 178 320.6 176.7 321.4 176.4 324.6 177ZM311.2 167.7 313.9 169.6 314.9 171.5 314.8 172.4 312.6 173.2 310.5 172.5 309.2 171.5 308.2 169.6 308.5 167.7 311.2 167.7ZM298.5 158.4 300.4 159.4 302 161.2 302.7 163.1 302.4 164 299.6 164.3 297.4 162.8 296.5 161.2 296.3 159.4 297.4 158.4 298.5 158.4ZM289.3 147.3 290.8 148.6 292.2 151 292.2 152.9 291.6 153.5 290.1 153.7 288.7 153 287 151 286.7 149.2 287.1 147.3 289.3 147.3Z"/>
<path fill="#b400ff" fill-rule="evenodd" d="M324 177 326 178.9 326.6 179.8 326.5 180.8 325 181.5 323.6 181.4 322.1 180.5 320.9 178.9 320.7 178 321.2 177 324 177ZM312.5 168.7 314.2 170.5 314.4 171.5 314.1 172.4 312.6 172.9 310.9 172.4 309.6 171.5 308.6 169.6 309 168.2 309.7 168 312.5 168.7ZM299.8 159.4 302.1 162.2 302.3 163.1 301.7 163.8 300.3 164.1 298.8 163.7 298 163.1 296.9 161.2 296.8 159.4 297.4 159 298.1 158.8 299.8 159.4ZM290.1 148.2 291.8 151 291.6 153 290.1 153.3 289 152.9 287.8 151.9 287.2 150.7 287 149.2 287.9 147.4 290.1 148.2Z"/>
<path fill="#b900ff" fill-rule="evenodd" d="M324.8 178 326.1 179.8 325.8 180.8 325 181.1 323 180.8 321.3 178.9 321.2 178 322.1 177.2 324.8 178ZM311.9 168.7 313.7 170.5 313.9 171.5 313.4 172.3 311.2 172.1 309.4 170.5 309.1 169.6 309.5 168.7 311.9 168.7ZM298.7 159.4 300.5 160.3 301.2 161.2 301.7 163.1 300.3 163.7 298.1 162.7 297.1 160.3 297.8 159.4 298.7 159.4ZM289.5 148.2 290.5 149.2 291.4 151 291.4 151.9 290.8 152.6 289.4 152.7 287.7 151 287.4 150.1 287.8 148.2 289.5 148.2Z"/>
<path fill="none" stroke="#111" stroke-width="0.9" stroke-dasharray="1.1 1.4" d="M268.9 200.3 269.9 201.2 271.2 204 271.2 205.8 270 207.7 268.3 208.1 265.4 208 263.9 207.4 262.5 205.8 261.9 204 262 203.1 263.2 200.9 264.7 199.9 266.1 199.5 268.9 200.3"/>
<path fill="none" stroke="#111" stroke-width="0.9" stroke-dasharray="1.1 1.4" d="M238.7 147.3 242.9 159.1 248.5 168.7 251.6 177.1 258.4 186.3 259.9 189.1 261.3 192.8 261.8 195.6 261.3 198.4 260.2 200.3 258.1 202 255.2 203.2 251.6 203 247.2 200.7 244.8 197.5 242.8 193.8 239.4 185.4 233.7 174.2 230.5 164 225.6 153.8 224.1 149.2 223.9 147.3"/>
<path fill="none" stroke="#111" stroke-width="0.9" stroke-dasharray="1.1 1.4" d="M333 198.6 330.1 197.1 323 191.9 317 188.8 310.9 183.5 305.4 180.3 299.3 175.2 291.6 170.2 285.9 163.1 280 157.5 278.9 155.7 276.6 150.1 275.1 147.3"/>
<path fill="none" stroke="#111" stroke-width="0.9" stroke-dasharray="1.1 1.4" d="M301.3 147.3 303.9 150.1 311.5 156.6 318.5 160.6 324.1 165.9 329.4 169 333 171.8"/>
<path fill="none" stroke="#111" stroke-width="0.9" stroke-dasharray="1.1 1.4" d="M333 155.8 328.6 151 326.1 147.3"/>
</g>
<rect x="216.7" y="147.3" width="116.3" height="111.5" fill="none" stroke="#1a1a1a" stroke-width="0.9"/>
<path d="M216.7 258.8v1.8M231.2 258.8v1.8M245.8 258.8v1.8M260.3 258.8v1.8M274.9 258.8v1.8M289.4 258.8v1.8M303.9 258.8v1.8M318.5 258.8v1.8M333 258.8v1.8M216.7 258.8h-1.8M216.7 236.5h-1.8M216.7 214.2h-1.8M216.7 191.9h-1.8M216.7 169.6h-1.8M216.7 147.3h-1.8" stroke="#1a1a1a" stroke-width="0.9" fill="none"/>
<text x="216.7" y="267.4" class="tk" text-anchor="middle">2</text>
<text x="231.2" y="267.4" class="tk" text-anchor="middle">4</text>
<text x="245.8" y="267.4" class="tk" text-anchor="middle">6</text>
<text x="260.3" y="267.4" class="tk" text-anchor="middle">8</text>
<text x="274.9" y="267.4" class="tk" text-anchor="middle">10</text>
<text x="289.4" y="267.4" class="tk" text-anchor="middle">12</text>
<text x="303.9" y="267.4" class="tk" text-anchor="middle">14</text>
<text x="318.5" y="267.4" class="tk" text-anchor="middle">16</text>
<text x="333" y="267.4" class="tk" text-anchor="middle">18</text>
<text x="213.9" y="260.8" class="tk" text-anchor="end">0</text>
<text x="213.9" y="238.5" class="tk" text-anchor="end">2</text>
<text x="213.9" y="216.2" class="tk" text-anchor="end">4</text>
<text x="213.9" y="193.9" class="tk" text-anchor="end">6</text>
<text x="213.9" y="171.6" class="tk" text-anchor="end">8</text>
<text x="213.9" y="149.3" class="tk" text-anchor="end">10</text>
<text x="274.9" y="279.4" class="ax" text-anchor="middle">Frequency (GHz)</text>
<text transform="translate(201.1,203.1) rotate(-90)" class="ax" text-anchor="middle">Thickness (mm)</text>
<clipPath id="cf"><rect x="400.5" y="149.5" width="116.5" height="111.8"/></clipPath>
<g clip-path="url(#cf)">
<rect x="400.5" y="149.5" width="116.5" height="111.8" fill="#ff0700"/>
<path fill="#ff0a00" fill-rule="evenodd" d="M517.1 149.5 517 261.3 400.5 261.3 400.5 149.5 517.1 149.5Z"/>
<path fill="#ff0c00" fill-rule="evenodd" d="M517.1 149.5 517 261.3 494.9 261.3 488.9 259.4 477 258 444.2 257.1 418 254.6 400.5 254.4 400.5 149.5 517.1 149.5Z"/>
<path fill="#ff0f00" fill-rule="evenodd" d="M517.1 149.5 517 261.3 508.5 261.3 494.4 256.6 479.9 254 443.5 252.5 432.5 250.7 417.2 246.4 400.5 246.2 400.5 149.5 517.1 149.5Z"/>
<path fill="#ff1e00" fill-rule="evenodd" d="M517.1 149.5 517 261.3 515.6 261.3 494.4 254.5 479.1 251.2 467.5 250.1 447.8 249.5 439.3 248.3 434 246.7 428.9 244.4 416.5 235.7 400.5 235.1 400.5 149.5 517.1 149.5Z"/>
<path fill="#ff3100" fill-rule="evenodd" d="M517.1 149.5 517 260.1 494.9 252.9 479.1 249.1 463.8 247.1 447.8 246.4 441.3 245.1 436.9 243.5 432.5 240.9 429.6 238 427.7 235.2 425.7 230.6 424.8 225 423.8 197 422.3 179.7 420.2 167.1 416.4 149.5 517.1 149.5Z"/>
<path fill="#ff4400" fill-rule="evenodd" d="M517 149.5 517 258.7 495.2 251.6 478.4 247 462.4 244 449.3 243.1 444.9 242.3 439.1 239.7 436.9 238 434.5 235.2 432.8 231.5 431.5 225.9 430.3 206.3 428.8 193.3 425.9 178.4 420.2 154.2 419.4 149.5 517 149.5Z"/>
<path fill="#ff5800" fill-rule="evenodd" d="M517 149.5 517 257.6 479.1 245.4 460.9 240.6 447.8 238.6 443.5 236.6 440.2 233.4 438.7 230.6 437.7 226.8 435.3 210.1 432.7 197 422.2 154.2 421.4 149.5 517 149.5Z"/>
<path fill="#ff6c00" fill-rule="evenodd" d="M517 149.5 517 256.5 504.6 252.8 495.6 249.2 470.4 241.3 462.4 237.9 449.7 233.4 447.1 231.7 445.3 229.6 443.9 226.8 442 221.3 431.6 184.9 427.7 170 423.1 149.5 517 149.5Z"/>
<path fill="#ff8000" fill-rule="evenodd" d="M434.5 149.5 438.2 158.8 442.5 165.3 445.6 172.3 450.4 178.4 452.9 185 456.6 191.4 460.2 198.9 468.2 208.3 471.9 210.2 478.1 214.7 489.3 221.1 495.9 223.6 501.2 226.8 511.9 229.9 517 232.7 517 255.5 504.6 251.8 495.9 248.1 471.5 239.9 456.6 232 449.3 226.8 444.3 217.5 437.8 199.8 433 184 429 169.1 427.5 160.7 425.3 153.2 424.8 149.5 434.5 149.5ZM517 149.5 517 219.6 514.8 218.8 513.4 217.6 510.4 212.8 505.4 211.4 503.9 210.5 501.6 206.3 500.3 205 496.6 203.9 493.7 202 490.8 196.8 485.7 194.8 483.2 192.4 480.8 186.8 476.2 184.4 474.8 183 474 181.1 472 178.4 471.1 174.7 466.1 170 464.4 162.5 460.1 157.9 459.6 156 459.7 152.3 458.8 150.4 457.7 149.5 517 149.5Z"/>
<path fill="#ff9800" fill-rule="evenodd" d="M431 149.5 432.5 152.3 434.5 158.8 438.6 165.3 441.8 173.7 446.4 180.2 456.5 200.7 460.7 205.4 465.3 211.5 469.7 214 478.4 220.2 487.1 225.1 495.2 228.5 499.5 231 509.7 233.8 517 237.1 517 254.6 504.6 250.8 495.9 246.9 488.6 244.7 481.3 241.6 472.6 238.6 458.8 230.4 451.5 224.5 446.5 216.6 443.3 209.1 439.6 199.8 434.3 183 432.7 175.6 430.4 168.1 429.3 159.7 427.5 154.2 427 151.4 427 149.5 431 149.5ZM517 149.5 517 210 514.3 207.3 508.3 204.1 504.4 199.8 498.8 196.6 494.5 191.4 490.1 188.9 488.8 187.7 485.1 182.1 480.6 178.6 477.8 174.7 476.3 170.9 472.4 166.3 470.2 159.7 466.5 154.2 465.5 149.5 517 149.5Z"/>
<path fill="#ffb200" fill-rule="evenodd" d="M434.9 165.3 436.6 168.1 438.8 174.7 443.8 181.2 447.2 188.6 450.9 194.2 454.2 201.7 459 207.3 463.7 213.8 468.2 216.1 476.2 222.1 486.4 227.8 494.4 231.1 498.8 233.6 509 236.1 517 239.5 517 253.6 505.4 250 496.6 245.9 489.3 243.6 482.1 240.3 473.3 237.2 459.5 228.3 453.7 223.3 447.4 213.8 440.7 197.9 438.7 190.5 436.2 183.6 434.8 174.7 432.6 168.1 432.5 165.7 433.3 164.5 434.9 165.3ZM517 149.5 517 176 516 177.4 515.7 179.3 516 181.2 517 182.8 517 207 515 205.4 510.4 203 506.1 198.7 500.3 194.9 496.3 190.5 490.8 186.6 486.8 181.2 482.1 177 479.7 173.7 478 170 474.4 165.3 471.8 158.8 468.5 153.2 467.5 149.5 488.9 149.5 490.8 152.1 493 151.8 495 149.5 517 149.5Z"/>
<path fill="#ffd300" fill-rule="evenodd" d="M439.9 181.2 441.5 183 443.6 188.6 448.8 195.2 452.2 203.1 457.3 208.5 461.7 215 467.5 218.3 474 223.5 485.7 230.1 493 232.8 498.1 235.8 508.3 237.8 517 241.4 517 252.5 505.4 248.9 496.6 244.4 490.1 242.5 482.8 238.8 474.8 236 458.8 225.1 455.1 221.6 449.6 213.8 443.3 199.8 442.1 196.1 441.1 189.6 438.5 183 438.7 181.2 439.9 181.2ZM517 149.5 517 167.2 513.4 168.4 510.4 170.3 509.3 171.9 508.8 173.7 509.8 176.5 513.4 180.1 515.3 183 517 184.7 517 205.5 511.2 202.1 506.8 197.9 501 194 496.8 189.6 491.7 185.8 487.4 180.2 482.8 176.1 480.4 172.8 478.6 169.1 475.2 164.4 472.6 158 469.8 153.2 468.6 149.5 487.3 149.5 489.1 153.2 492.5 156 495.2 159.3 496.6 159.7 498.5 157.9 500.1 149.5 517 149.5Z"/>
<path fill="#e3f000" fill-rule="evenodd" d="M451.9 207.3 455.3 210.1 459.5 217 464.9 219.4 471.9 225.5 479.9 229.6 485 233 492.2 235 498.1 238.6 507.5 239.5 517 243.4 517 251.3 505.4 247.7 497.3 242.6 490.8 241 483.5 236.6 475.9 234.3 473.3 232.6 469.7 229.1 462.4 225.3 459.2 222.2 456 217.5 451.5 212.2 450.6 210.1 450.3 208.2 450.7 207.1 451.9 207.3ZM486.4 149.5 487.9 153.1 490.6 156 493.7 161.2 495 162.5 497.3 163.1 499.4 164.4 502 168.1 504.9 170.9 507.6 176.5 511.9 180.3 514.9 184 517 185.7 517 204.6 511.2 201.1 506.9 197 501.7 193.7 497.3 189 492.2 185.4 488.4 180.2 483.5 175.7 481.3 172.8 479.5 169.1 476.1 164.4 473.4 157.9 470.6 153.2 469.4 149.5 486.4 149.5Z"/>
<path fill="#96ff00" fill-rule="evenodd" d="M508.4 241.7 517 245.6 517 249.6 505.8 246.4 503.3 244.5 502.8 243.6 502.8 242.7 503.9 241.5 508.4 241.7ZM485.8 149.5 487.2 153.2 490.3 157 493.5 162.5 497.2 165.3 500 169.1 503.9 172.7 507.2 177.4 511.2 180.7 515 184.9 517 186.4 517 203.9 511.9 200.9 507.5 196.8 501.7 192.9 497.8 188.6 492.6 184.9 488.6 179.7 484.2 175.6 482 172.8 479.9 168.6 476.8 164.4 474 157.9 471.3 153.2 470 149.5 485.8 149.5Z"/>
<path fill="#1fff00" fill-rule="evenodd" d="M485.3 149.5 486.6 153.2 489.6 157 493 163.1 495.9 165.4 499.5 170 503.2 173.2 507.2 178.4 511.2 181.5 514.3 184.9 517 187 517 203.3 511.9 200.3 507.4 196.1 502.4 192.9 498.1 188.3 493 184.6 488.9 179.3 484.2 175 476.8 163.5 474 157 471.4 152.3 470.5 149.5 485.3 149.5Z"/>
<path fill="#00ff07" fill-rule="evenodd" d="M484.9 149.5 486.4 153.7 489 157 492.6 163.5 495.8 166.3 498.6 170 502.7 173.7 506.5 178.4 511.2 182.1 514.8 186 517 187.5 517 202.8 512.6 200.3 508 196.1 502.4 192.3 498.1 187.7 493 184 489.3 179.2 484.5 174.7 482.4 171.9 480.6 168.1 477.2 163.5 474.8 157.5 471.8 152.3 470.9 149.5 484.9 149.5Z"/>
<path fill="#00ff11" fill-rule="evenodd" d="M484.5 149.5 485.7 153.2 489.1 157.9 492.2 163.7 495.1 166.3 498.8 170.9 502.4 174.2 506.1 178.6 511.2 182.6 514.8 186.5 517 187.9 517 202.4 512.6 199.9 508.3 195.8 502.4 191.9 498.6 187.7 493.4 184 489.3 178.6 485 174.6 482.9 171.9 481 168.1 477.7 163.5 474.9 157 472.2 152.3 471.2 149.5 484.5 149.5Z"/>
<path fill="#00ff1a" fill-rule="evenodd" d="M484.2 149.5 485.7 153.9 488.1 157 490.8 162.3 492.2 164.4 494.6 166.3 498.2 170.9 502.3 174.7 506.2 179.3 510.4 182.4 514.7 186.8 517 188.2 517 202 512.6 199.5 508.3 195.4 503.2 192.1 499.1 187.7 493.7 183.8 489.5 178.4 485 174.1 483.3 171.9 481.4 168.1 478 163.5 471.6 149.5 484.2 149.5Z"/>
<path fill="#00ff24" fill-rule="evenodd" d="M483.9 149.5 485.5 154.2 488.3 157.9 490.5 162.5 491.8 164.4 494.4 166.6 497.7 170.9 501.8 174.7 505.8 179.3 510.4 182.9 514.2 186.8 517 188.6 517 201.7 512.6 199.1 508.5 195.2 503.2 191.7 499.5 187.7 493.7 183.4 490 178.4 485.7 174.5 483.5 171.7 481.8 168.1 477.8 162.5 475.6 157 472.9 152.3 471.9 149.5 483.9 149.5Z"/>
<path fill="#00ff2e" fill-rule="evenodd" d="M483.6 149.5 485.2 154.2 488 157.9 491.5 164.5 494.4 167.1 497.3 171.1 501.7 175 505.4 179.4 510.4 183.2 514.1 187.1 517 188.9 517 201.4 513.4 199.3 508.9 195.2 503.3 191.4 498.9 186.8 494.4 183.7 490.1 178.1 485.7 174.1 483.5 171.2 482.1 168 478.1 162.5 475.9 157 473.2 152.3 472.1 149.5 483.6 149.5Z"/>
<path fill="#00ff37" fill-rule="evenodd" d="M483.3 149.5 484.9 154.2 487.7 157.9 490.1 163 491.5 165 494.1 167.2 497.3 171.5 501.7 175.5 505.4 179.8 510.4 183.6 514.1 187.4 517 189.2 517 201.1 513.4 199 509 194.9 503.2 191 499.3 186.8 494.4 183.4 490.1 177.7 485.7 173.7 483.6 170.9 482.1 167.5 478.4 162.5 476.2 157 473.5 152.3 472.4 149.5 483.3 149.5Z"/>
<path fill="#00ff57" fill-rule="evenodd" d="M483.1 149.5 484.6 154.2 487.4 157.9 490 163.5 491.5 165.3 493.7 167.2 497.2 171.9 501 175.1 505.4 180.1 509.7 183.3 514 187.7 517 189.5 517 200.8 513.4 198.7 509 194.6 503.9 191.3 499.5 186.6 494.5 183 490.2 177.4 486 173.7 483.9 170.9 482.2 167.2 478.7 162.5 476.5 157 473.7 152.3 472.7 149.5 483.1 149.5Z"/>
<path fill="#00ff8c" fill-rule="evenodd" d="M482.8 149.5 484.3 154.2 487.1 157.9 489.8 163.5 491.2 165.3 493.4 167.2 496.9 171.9 501 175.5 505.1 180.2 509.7 183.6 513.7 187.7 517 189.7 517 200.5 513.4 198.5 509 194.3 503.9 191 499.5 186.3 494.8 183 490.5 177.4 486.3 173.7 484.2 170.9 482.4 167.2 479 162.5 476.7 157 474 152.3 472.9 149.5 482.8 149.5Z"/>
<path fill="#00ffbe" fill-rule="evenodd" d="M482.6 149.5 484.1 154.2 486.9 157.9 489.5 163.5 490.8 165.3 493.1 167.2 496.6 172 501 175.8 504.7 180.2 509.7 183.9 513.4 187.7 517 190 517 200.3 513.4 198.2 509.3 194.2 504.6 191.3 499.5 186 495.2 183.1 490.8 177.4 487.1 174.3 484.4 170.9 482.7 167.2 479.1 162.4 477 156.8 474.2 152.3 473.1 149.5 482.6 149.5Z"/>
<path fill="#00ffee" fill-rule="evenodd" d="M482.4 149.5 483.8 154.2 486.6 157.9 489.2 163.5 490.8 165.6 493 167.4 496.6 172.3 500.4 175.6 504.6 180.5 509 183.5 513.4 188 517 190.2 517 200 514.1 198.5 509.7 194.2 504.6 191.1 499.6 185.8 495.2 182.8 491.1 177.4 487.1 174 484.7 170.9 483 167.2 479.4 162.5 477 156.3 474.4 152.3 473.3 149.5 482.4 149.5Z"/>
<path fill="#00edff" fill-rule="evenodd" d="M482.2 149.5 483.6 154.2 486.9 158.8 488.9 163.5 490.8 166 493 167.7 496.6 172.7 500.3 175.7 504.6 180.8 509 183.8 513.4 188.3 517 190.4 517 199.8 514.1 198.2 509.7 194 504.6 190.8 500 185.8 495.2 182.6 491.4 177.4 487.1 173.7 485 170.9 483.2 167.2 479.7 162.5 477 156 474.7 152.3 473.5 149.5 482.2 149.5Z"/>
<path fill="#00d2ff" fill-rule="evenodd" d="M482 149.5 483.4 154.2 486.7 158.8 488.7 163.5 490.7 166.3 493 168 496.4 172.8 500.3 176 504.6 181.1 509 184.1 513.4 188.6 517 190.7 517 199.6 513.4 197.4 509.1 193.3 504.6 190.6 500.3 185.8 495.2 182.3 491.5 177.3 485.8 171.9 483.5 167.2 479.4 161.6 477.3 156 474.9 152.3 473.7 149.5 482 149.5Z"/>
<path fill="#00b8ff" fill-rule="evenodd" d="M481.8 149.5 483.1 154.2 486.5 158.8 488.5 163.5 489.7 165.3 492.8 168.1 496.1 172.8 500.3 176.3 504.4 181.2 509 184.3 513.4 188.8 517 190.9 517 199.4 513.4 197.2 509.5 193.3 504.6 190.3 500.3 185.6 495.9 182.7 491.5 177 486.1 171.9 483.7 167.2 479.6 161.6 477.5 156 475.1 152.3 473.9 149.5 481.8 149.5Z"/>
<path fill="#00a0ff" fill-rule="evenodd" d="M481.6 149.5 482.9 154.2 486.3 158.8 489.4 165.3 492.5 168.1 495.8 172.8 500.3 176.6 504.1 181.2 509 184.5 513.4 189.1 517 191.1 517 199.2 514.1 197.5 509.7 193.2 504.6 190.1 500.3 185.3 495.9 182.5 491.5 176.7 486.3 171.9 483.9 167.2 479.8 161.6 477.7 156 475.3 152.3 474.1 149.5 481.6 149.5Z"/>
<path fill="#0088ff" fill-rule="evenodd" d="M481.4 149.5 482.7 154.2 486.1 158.8 489.1 165.3 492.3 168.1 495.6 172.8 500.3 176.8 503.9 181.3 509 184.8 513.4 189.3 517 191.3 517 199 514.1 197.3 509.7 193 504.6 189.9 500.3 185 495.9 182.3 491.6 176.5 486.5 171.9 484.2 167.2 480 161.6 478 156 475.5 152.3 474.3 149.5 481.4 149.5Z"/>
<path fill="#0070ff" fill-rule="evenodd" d="M481.3 149.5 482.5 154.2 485.9 158.8 488.9 165.3 492.2 168.4 495.3 172.8 500.3 177.1 503.9 181.5 508.9 184.9 512.6 189 517 191.5 517 198.8 514 197 509.7 192.7 504.6 189.7 500.4 184.9 495.9 182 491.9 176.5 486.7 171.9 484.2 166.9 480.2 161.6 478.2 156 475.5 151.9 474.5 149.5 481.3 149.5Z"/>
<path fill="#0045ff" fill-rule="evenodd" d="M481.1 149.5 482.2 154.2 485.7 158.8 488.6 165.3 492.2 168.6 495.2 173 500.3 177.4 503.9 181.8 508.6 184.9 513 189.6 517 191.7 517 198.6 514.1 196.9 510.4 193 504.8 189.6 500.7 184.9 495.9 181.8 492.2 176.5 486.9 171.9 485.7 170 484.2 166.5 480.4 161.6 478.4 156 475.9 152.3 474.7 149.5 481.1 149.5Z"/>
<path fill="#0017ff" fill-rule="evenodd" d="M480.9 149.5 482.5 155.1 485.7 159.2 488.4 165.3 492.2 168.9 495.2 173.3 499.5 176.9 503.9 182.1 508.3 184.9 512.6 189.6 517 191.9 517 198.4 514.1 196.7 510.4 192.7 505 189.6 501 184.8 495.9 181.6 492.2 176.3 487.1 171.9 484.3 166.3 480.6 161.6 478.6 156 476.1 152.3 474.8 149.5 480.9 149.5Z"/>
<path fill="#0600ff" fill-rule="evenodd" d="M480.7 149.5 482.1 154.7 485.8 159.7 487.5 164.4 488.9 166.3 492.2 169.1 495.2 173.6 499.5 177.1 503.6 182.1 509 185.7 512.6 189.8 517 192 517 198.2 514.1 196.4 510.4 192.5 505.3 189.6 501 184.6 495.9 181.3 492.2 176 487.3 171.9 484.6 166.3 480.7 161.6 478.9 156 476.2 152.2 475 149.5 480.7 149.5Z"/>
<path fill="#1200ff" fill-rule="evenodd" d="M480.5 149.5 481.9 155.1 485.6 159.7 487.8 165.3 491.9 169.1 494.9 173.7 499.5 177.3 503.2 182.1 508.3 185.3 512.6 190.1 517 192.2 517 198 514.1 196.2 510.4 192.2 505.4 189.4 501 184.3 496.6 181.8 492.2 175.7 487.5 171.9 485.9 169.1 484.9 166.3 480.9 161.6 479.1 156 476.2 151.8 475.2 149.5 480.5 149.5Z"/>
<path fill="#1e00ff" fill-rule="evenodd" d="M480.4 149.5 481.6 155.1 485.4 159.7 487.5 165.3 491.7 169.1 494.6 173.7 499.4 177.4 503.2 182.4 508.3 185.5 511.9 189.9 517 192.4 517 197.8 514.2 196.1 510.4 191.8 505.4 189.2 501 184 496.6 181.6 495.2 179.9 493 176.1 487.7 171.9 486.1 169.1 485.2 166.3 481.1 161.6 479.4 156 476.2 151.5 475.4 149.5 480.4 149.5Z"/>
<path fill="#2b00ff" fill-rule="evenodd" d="M480.2 149.5 481.3 155.1 485.3 159.7 487.2 165.3 491.5 169.1 494.4 173.9 499.2 177.4 503.2 182.8 508.3 185.7 511.9 190.3 517 192.6 517 197.6 514.4 196.1 511.2 192 505.4 189 501.4 184 496.6 181.4 495 179.3 493 175.7 487.9 171.8 486.3 169.1 485.5 166.3 481.3 161.6 480.5 159.7 479.7 156 476.3 151.4 475.6 149.5 480.2 149.5Z"/>
<path fill="#4400ff" fill-rule="evenodd" d="M480 149.5 480.8 155.1 485.1 159.7 486.6 165.3 491.2 169.1 494.7 174.7 499.5 178.1 502.4 182.6 508.1 185.8 511.9 190.9 517 192.9 517 197.4 514.1 195.5 511.2 191.5 506.8 189.8 505.4 188.7 501.7 183.7 496.6 181.2 495.2 179.3 493.3 175.6 487.9 171.5 486.5 169.1 486 166.3 481.5 161.6 480.7 159.7 479.8 155.1 477 152 475.8 149.5 480 149.5Z"/>
<path fill="#5c00ff" fill-rule="evenodd" d="M515.7 192.4 517 193.1 517 197.2 514.1 195.2 512.3 192.4 512.6 191.7 513.4 191.7 515.7 192.4ZM504.1 184 508.3 186.2 510 188.6 510.6 190.5 507.5 189.9 505.4 188.5 503.1 184.9 503 184 504.1 184ZM488.2 167.2 490.1 168.3 491.8 170 493.9 174.7 497.3 176.4 499.5 178.4 500.9 180.2 501.8 183 498.8 182.3 496.9 181.2 495.4 179.3 493.7 175.1 490.8 173.7 488.4 171.9 486.7 169.1 486.5 167.2 487.1 166.6 488.2 167.2ZM482.2 157 485 160 485.8 162.5 485.7 164.6 485 164.7 483.5 163.6 481.2 160.7 480.7 158.8 480.6 156.6 481.3 156.3 482.2 157ZM479.8 149.5 480.3 152.3 479.9 154.4 477.4 152.3 476 149.5 479.8 149.5Z"/>
<path fill="#7200ff" fill-rule="evenodd" d="M515 192.4 517 193.3 517 197 514.3 195.2 512.9 192.4 515 192.4ZM506 184.9 508.5 186.8 509.7 188.6 509.7 189.9 507.5 189.7 505.8 188.6 504.2 186.8 503.6 184.9 504.6 184.4 506 184.9ZM497 176.5 500 179.3 501.1 182.1 498.8 182 496.3 180.2 494.6 176.5 495.2 175.9 497 176.5ZM489.5 168.1 491.6 170 492.5 171.9 493 173.8 492.2 174 489.7 172.8 487.9 170.9 487 169.1 487.1 167.3 489.5 168.1ZM481.4 157 482.8 157.7 484.6 159.7 485.6 162.5 485 164.1 482.8 162.7 481.4 160.7 480.9 157.9 481.4 157ZM479.6 149.5 480 152.3 479.9 153 479.1 153.4 477 151.4 476.1 149.5 479.6 149.5Z"/>
<path fill="#8100ff" fill-rule="evenodd" d="M514.2 192.4 517 193.5 517 196.8 515.5 196 513.9 194.2 513.5 193.3 514.2 192.4ZM505.5 184.9 508.3 186.8 509.4 188.6 509.3 189.6 507.5 189.5 505.1 187.7 504.1 185.8 504.2 184.9 505.5 184.9ZM496.2 176.5 498.1 177.4 499.8 179.3 500.6 181.2 500.3 181.9 498.1 181.5 496.5 180.2 495.1 177.4 495.2 176.5 496.2 176.5ZM489 168.1 491.5 170.3 492.3 171.9 492.2 173.5 490.1 172.8 487.9 170.5 487.2 168.1 487.9 167.8 489 168.1ZM482.7 157.9 484.9 160.7 485.3 162.5 485 163.4 484.2 163.5 483.5 163 481.7 160.7 481.2 157.9 482.1 157.6 482.7 157.9ZM479.4 149.5 479.8 151.4 479.1 152.9 477.7 152 476.4 149.5 479.4 149.5Z"/>
<path fill="#9000ff" fill-rule="evenodd" d="M516.3 193.3 517 193.8 517 196.5 514.8 195.2 514 193.3 514.8 192.9 516.3 193.3ZM506.9 185.8 508.3 187.1 509 188.8 508.3 189.3 506.8 188.9 505.4 187.7 504.4 185.8 505.4 185.2 506.9 185.8ZM497.7 177.4 499.6 179.3 500.2 181.2 498.8 181.5 497.3 180.8 496.1 179.3 495.4 177.4 495.9 176.9 497.7 177.4ZM490.1 169.1 491.7 170.9 491.9 172.8 490.8 172.9 489.3 172 487.9 170.1 487.6 169.1 487.9 168.3 488.6 168.2 490.1 169.1ZM483.4 158.8 485 161.6 485 162.5 484.2 163.1 482.8 162 481.6 159.7 481.5 158.8 482.1 158 483.4 158.8ZM479.2 149.5 479.5 151.4 479.1 152.3 477.7 151.6 476.6 149.5 479.2 149.5Z"/>
<path fill="#9f00ff" fill-rule="evenodd" d="M515.6 193.3 517 194.1 517 196.3 515.2 195.2 514.5 194.2 514.7 193.3 515.6 193.3ZM506.2 185.8 507.7 186.8 508.6 188.6 507.5 188.9 505.7 187.7 505 185.8 506.2 185.8ZM497.1 177.4 499.3 179.3 499.7 180.2 499.6 181.2 498.1 181 496.3 179.3 495.8 177.4 497.1 177.4ZM489.7 169.1 491.4 170.9 491.5 172.3 490.1 172.2 488.1 170 488 169.1 488.6 168.6 489.7 169.1ZM483 158.8 484.4 160.7 484.6 161.6 484.2 162.5 482.8 161.7 482.1 160.4 482 158.8 483 158.8ZM478.9 149.5 479.2 151.4 478.4 151.8 477.7 151.2 476.8 149.5 478.9 149.5Z"/>
<path fill="#a900ff" fill-rule="evenodd" d="M516.7 194.2 517 195.8 515.6 195.2 515 194.2 515.5 193.8 516.7 194.2ZM507.2 186.8 507.9 187.7 507.5 188.5 506.1 187.7 505.5 186.8 506.1 186.4 507.2 186.8ZM498.1 178.4 499.4 180.2 498.8 180.8 497.4 180.2 496.3 178.4 496.6 177.8 498.1 178.4ZM490.4 170 491 170.9 491.1 171.9 490.1 171.9 489 170.9 488.5 170 488.6 169.1 490.4 170ZM483.6 159.7 484.2 161.6 483.3 161.6 482.3 159.7 482.8 159.2 483.6 159.7ZM478.6 149.5 478.8 150.4 478.4 151.3 477.2 149.5 478.6 149.5Z"/>
<path fill="#b400ff" fill-rule="evenodd" d="M506.9 187.7 506.9 187.7ZM497.4 178.4 498.5 179.3 498.8 180.2 498.1 180.3 497.1 179.3 497.1 178.4 497.4 178.4ZM489.8 170 490.5 170.9 489.5 170.9 489.1 170 489.8 170ZM483.5 160.7 483.5 160.7Z"/>
<path fill="none" stroke="#111" stroke-width="0.9" stroke-dasharray="1.1 1.4" d="M517 254.6 504.6 250.8 495.9 246.9 488.6 244.7 481.3 241.6 472.6 238.6 458.8 230.4 451.5 224.6 446 215.6 439.3 198.9 437.2 191.4 434.6 184 432.7 175.6 430.6 169.1 429.2 159.7 427.2 153.2 426.9 149.5"/>
<path fill="none" stroke="#111" stroke-width="0.9" stroke-dasharray="1.1 1.4" d="M431.1 149.5 432.6 152.3 434.6 158.8 438.6 165.3 441.9 173.7 446.4 180.2 449.4 186.8 453.2 193.3 456.6 200.7 460.8 205.4 465.3 211.4 469.7 213.9 478.4 220.2 487.1 225.1 495.2 228.5 499.5 231 509.7 233.8 517 237.1"/>
<path fill="none" stroke="#111" stroke-width="0.9" stroke-dasharray="1.1 1.4" d="M517 210.1 514.2 207.3 509.7 205.2 508.3 204.2 504.3 199.8 498.8 196.7 494.4 191.4 490.1 189 488.7 187.7 485.1 182.1 480.6 178.8 477.8 174.7 476.3 170.9 472.3 166.3 470.1 159.7 466.5 154.2 465.5 149.5"/>
</g>
<rect x="400.5" y="149.5" width="116.5" height="111.8" fill="none" stroke="#1a1a1a" stroke-width="0.9"/>
<path d="M400.5 261.3v1.8M415.1 261.3v1.8M429.6 261.3v1.8M444.2 261.3v1.8M458.8 261.3v1.8M473.3 261.3v1.8M487.9 261.3v1.8M502.4 261.3v1.8M517 261.3v1.8M400.5 261.3h-1.8M400.5 238.9h-1.8M400.5 216.6h-1.8M400.5 194.2h-1.8M400.5 171.9h-1.8M400.5 149.5h-1.8" stroke="#1a1a1a" stroke-width="0.9" fill="none"/>
<text x="400.5" y="269.9" class="tk" text-anchor="middle">2</text>
<text x="415.1" y="269.9" class="tk" text-anchor="middle">4</text>
<text x="429.6" y="269.9" class="tk" text-anchor="middle">6</text>
<text x="444.2" y="269.9" class="tk" text-anchor="middle">8</text>
<text x="458.8" y="269.9" class="tk" text-anchor="middle">10</text>
<text x="473.3" y="269.9" class="tk" text-anchor="middle">12</text>
<text x="487.9" y="269.9" class="tk" text-anchor="middle">14</text>
<text x="502.4" y="269.9" class="tk" text-anchor="middle">16</text>
<text x="517" y="269.9" class="tk" text-anchor="middle">18</text>
<text x="397.7" y="263.3" class="tk" text-anchor="end">0</text>
<text x="397.7" y="240.9" class="tk" text-anchor="end">2</text>
<text x="397.7" y="218.6" class="tk" text-anchor="end">4</text>
<text x="397.7" y="196.2" class="tk" text-anchor="end">6</text>
<text x="397.7" y="173.9" class="tk" text-anchor="end">8</text>
<text x="397.7" y="151.5" class="tk" text-anchor="end">10</text>
<text x="458.8" y="281.9" class="ax" text-anchor="middle">Frequency (GHz)</text>
<text transform="translate(384.9,205.4) rotate(-90)" class="ax" text-anchor="middle">Thickness (mm)</text>
<linearGradient id="gd" x1="0" y1="0" x2="0" y2="1"><stop offset="0.000" stop-color="#ff0000"/><stop offset="0.120" stop-color="#ff1000"/><stop offset="0.190" stop-color="#ff5000"/><stop offset="0.240" stop-color="#ff8000"/><stop offset="0.280" stop-color="#ffb000"/><stop offset="0.310" stop-color="#ffe000"/><stop offset="0.335" stop-color="#c8ff00"/><stop offset="0.370" stop-color="#00ff00"/><stop offset="0.500" stop-color="#00ff3c"/><stop offset="0.535" stop-color="#00ff96"/><stop offset="0.580" stop-color="#00ffff"/><stop offset="0.630" stop-color="#00beff"/><stop offset="0.700" stop-color="#006eff"/><stop offset="0.750" stop-color="#0000ff"/><stop offset="0.820" stop-color="#2800ff"/><stop offset="0.880" stop-color="#6e00ff"/><stop offset="0.950" stop-color="#a000ff"/><stop offset="1.000" stop-color="#b900ff"/></linearGradient><rect x="163.5" y="148.8" width="8.7" height="109" fill="url(#gd)"/><text x="173.6" y="156.3" class="cb">3.200</text><text x="173.6" y="170.4" class="cb">6.400</text><text x="173.6" y="183.9" class="cb">9.600</text><text x="173.6" y="197.5" class="cb">12.80</text><text x="173.6" y="211.3" class="cb">16.00</text><text x="173.6" y="225.1" class="cb">19.20</text><text x="173.6" y="238.5" class="cb">22.40</text><text x="173.6" y="252.2" class="cb">25.60</text>
<linearGradient id="ge" x1="0" y1="0" x2="0" y2="1"><stop offset="0.000" stop-color="#ff0000"/><stop offset="0.120" stop-color="#ff1000"/><stop offset="0.190" stop-color="#ff5000"/><stop offset="0.240" stop-color="#ff8000"/><stop offset="0.280" stop-color="#ffb000"/><stop offset="0.310" stop-color="#ffe000"/><stop offset="0.335" stop-color="#c8ff00"/><stop offset="0.370" stop-color="#00ff00"/><stop offset="0.500" stop-color="#00ff3c"/><stop offset="0.535" stop-color="#00ff96"/><stop offset="0.580" stop-color="#00ffff"/><stop offset="0.630" stop-color="#00beff"/><stop offset="0.700" stop-color="#006eff"/><stop offset="0.750" stop-color="#0000ff"/><stop offset="0.820" stop-color="#2800ff"/><stop offset="0.880" stop-color="#6e00ff"/><stop offset="0.950" stop-color="#a000ff"/><stop offset="1.000" stop-color="#b900ff"/></linearGradient><rect x="345" y="149" width="8.5" height="108.4" fill="url(#ge)"/><text x="355.2" y="156.6" class="cb">4.375</text><text x="355.2" y="170.2" class="cb">8.750</text><text x="355.2" y="183.2" class="cb">13.13</text><text x="355.2" y="196.9" class="cb">17.50</text><text x="355.2" y="211.4" class="cb">21.88</text><text x="355.2" y="224.8" class="cb">26.25</text><text x="355.2" y="238" class="cb">30.63</text><text x="355.2" y="250.9" class="cb">35.00</text>
<linearGradient id="gf" x1="0" y1="0" x2="0" y2="1"><stop offset="0.000" stop-color="#ff0000"/><stop offset="0.120" stop-color="#ff1000"/><stop offset="0.190" stop-color="#ff5000"/><stop offset="0.240" stop-color="#ff8000"/><stop offset="0.280" stop-color="#ffb000"/><stop offset="0.310" stop-color="#ffe000"/><stop offset="0.335" stop-color="#c8ff00"/><stop offset="0.370" stop-color="#00ff00"/><stop offset="0.500" stop-color="#00ff3c"/><stop offset="0.535" stop-color="#00ff96"/><stop offset="0.580" stop-color="#00ffff"/><stop offset="0.630" stop-color="#00beff"/><stop offset="0.700" stop-color="#006eff"/><stop offset="0.750" stop-color="#0000ff"/><stop offset="0.820" stop-color="#2800ff"/><stop offset="0.880" stop-color="#6e00ff"/><stop offset="0.950" stop-color="#a000ff"/><stop offset="1.000" stop-color="#b900ff"/></linearGradient><rect x="528.2" y="151.5" width="8.1" height="108.9" fill="url(#gf)"/><text x="538.2" y="159.5" class="cb">6.875</text><text x="538.2" y="173.1" class="cb">13.75</text><text x="538.2" y="186.7" class="cb">20.63</text><text x="538.2" y="199.5" class="cb">27.50</text><text x="538.2" y="213.9" class="cb">34.38</text><text x="538.2" y="227.2" class="cb">41.25</text><text x="538.2" y="241.6" class="cb">48.13</text><text x="538.2" y="253.8" class="cb">55.00</text>
<path d="M39 330.4H167.8" stroke="#666" stroke-width="0.8" stroke-dasharray="2.6 1.8"/>
<marker id="mg45" markerWidth="3" markerHeight="3" refX="1.5" refY="1.5" markerUnits="userSpaceOnUse"><circle cx="1.5" cy="1.5" r="1.2" fill="#2b7bb9"/></marker><marker id="mg70" markerWidth="3" markerHeight="3" refX="1.5" refY="1.5" markerUnits="userSpaceOnUse"><circle cx="1.5" cy="1.5" r="1.2" fill="#c88cf5"/></marker><marker id="mg75" markerWidth="3" markerHeight="3" refX="1.5" refY="1.5" markerUnits="userSpaceOnUse"><circle cx="1.5" cy="1.5" r="1.2" fill="#1c1cff"/></marker><marker id="mg85" markerWidth="3" markerHeight="3" refX="1.5" refY="1.5" markerUnits="userSpaceOnUse"><circle cx="1.5" cy="1.5" r="1.2" fill="#1fb37a"/></marker><marker id="mg95" markerWidth="3" markerHeight="3" refX="1.5" refY="1.5" markerUnits="userSpaceOnUse"><circle cx="1.5" cy="1.5" r="1.2" fill="#ff1f1f"/></marker>
<polyline points="39,296.9 39.3,303.1 40.9,303.2 42.5,303.3 44.2,303.5 45.8,303.8 47.4,304.1 49,304.7 50.6,305.4 52.2,306.2 53.8,306.7 55.4,307 57,307.4 58.6,307.7 60.3,308.1 61.9,308.5 63.5,309 65.1,309.5 66.7,310.2 68.3,311 69.9,312.1 71.5,313.4 73.1,314.9 74.7,316.5 76.4,317.9 78,319.1 79.6,320.1 81.2,321.1 82.8,322.1 84.4,322.9 86,323.6 87.6,324.6 89.2,326 90.8,326.9 92.5,326.9 94.1,326.9 95.7,326.9 97.3,326.9 98.9,326.9 100.5,326.9 102.1,326.6 103.7,326.2 105.3,325.5 106.9,324.7 108.6,323.9 110.2,323 111.8,322.1 113.4,321.3 115,320.5 116.6,319.7 118.2,318.9 119.8,318.2 121.4,317.4 123,316.7 124.7,316 126.3,315.5 127.9,315 129.5,314.6 131.1,314.2 132.7,313.9 134.3,313.5 135.9,313.1 137.5,312.7 139.1,312.4 140.8,312.1 142.4,311.8 144,311.5 145.6,311.2 147.2,310.8 148.8,310.3 150.4,309.9 152,309.5 153.6,309.4 155.2,309.5 156.9,310 158.5,310.4 160.1,310.7 161.7,310.7 163.3,310.7 164.9,310.7 166.5,310.5 167.8,310.4" fill="none" stroke="#2b7bb9" stroke-width="1.0" stroke-linejoin="round" marker-mid="url(#mg45)" marker-end="url(#mg45)"/>
<polyline points="39,297.6 39.4,309 41,309.7 42.6,310.4 44.2,311.1 45.8,311.9 47.5,312.7 49.1,313.6 50.7,314.6 52.3,315.9 53.9,317.7 55.5,319.8 57.1,322 58.7,324.9 60.3,327.6 61.9,330 63.6,331.9 65.2,332.7 66.8,333.3 68.4,333.8 70,333.8 71.6,333.4 73.2,332.7 74.8,331.9 76.4,330.9 78,329.7 79.7,328.3 81.3,326.8 82.9,325 84.5,323.2 86.1,321.7 87.7,320.4 89.3,319.1 90.9,318.1 92.5,317 94.1,316.1 95.8,315.3 97.4,314.8 99,314.4 100.6,314.2 102.2,314 103.8,313.8 105.4,313.7 107,313.6 108.6,313.5 110.2,313.4 111.9,313.3 113.5,313.1 115.1,312.6 116.7,312 118.3,311.8 119.9,312.1 121.5,312.8 123.1,313.8 124.7,314.9 126.3,315.8 128,316.6 129.6,317.4 131.2,318.3 132.8,319.2 134.4,320.3 136,321.6 137.6,323.2 139.2,325 140.8,327.7 142.4,331.3 144.1,335.2 145.7,339.7 147.3,343.2 148.9,345.4 150.5,347.6 152.1,351.1 153.7,355.8 155.3,361.1 156.9,367.5 158.5,373.7 160.2,380.5 161.8,382.6 163.4,379.4 165,373.4 166.6,366.3 167.8,361.1" fill="none" stroke="#c88cf5" stroke-width="1.0" stroke-linejoin="round" marker-mid="url(#mg70)" marker-end="url(#mg70)"/>
<polyline points="39,297.6 39.4,309.7 41,310.7 42.6,311.9 44.2,313.1 45.8,314.5 47.5,316 49.1,317.7 50.7,319.6 52.3,321.6 53.9,323.8 55.5,326.1 57.1,328.7 58.7,331.9 60.3,333.7 61.9,334.2 63.6,334.7 65.2,335.4 66.8,335.9 68.4,335.7 70,334.8 71.6,333.8 73.2,332.8 74.8,331.6 76.4,330.4 78,329 79.7,327.3 81.3,325.5 82.9,323.8 84.5,322.2 86.1,320.7 87.7,319.3 89.3,318.1 90.9,317 92.5,316.1 94.1,315.4 95.8,314.7 97.4,314.1 99,313.8 100.6,313.5 102.2,313.4 103.8,313 105.4,312.1 107,311.8 108.6,312.1 110.2,312.7 111.9,313.4 113.5,314 115.1,314.4 116.7,314.7 118.3,315.2 119.9,315.7 121.5,316.5 123.1,317.6 124.7,318.8 126.3,320 128,321.5 129.6,323.3 131.2,325.1 132.8,327 134.4,329 136,331.4 137.6,334.2 139.2,337.7 140.8,342.5 142.4,348.4 144.1,354 145.7,360 147.3,366.8 148.9,371.1 150.5,373.7 152.1,370.5 153.7,367.6 155.3,366.1 156.9,365.7 158.5,365.6 160.2,365.4 161.8,362.9 163.4,356.4 165,348.3 166.6,343.4 167.8,341.4" fill="none" stroke="#1c1cff" stroke-width="1.0" stroke-linejoin="round" marker-mid="url(#mg75)" marker-end="url(#mg75)"/>
<polyline points="39,297.6 39.4,313.8 41,314.5 42.6,315.7 44.2,317.2 45.8,319.2 47.5,321.8 49.1,324.8 50.7,327.9 52.3,331.3 53.9,334.2 55.5,337.3 57.1,339.3 58.7,339.4 60.3,339.3 61.9,338.1 63.6,336.3 65.2,334.8 66.8,333.1 68.4,331.4 70,329.8 71.6,328.2 73.2,326.7 74.8,325.3 76.4,323.9 78,322.5 79.7,321 81.3,319.6 82.9,318.2 84.5,317.2 86.1,316.4 87.7,315.7 89.3,315.2 90.9,314.8 92.5,314.4 94.1,314.1 95.8,313.9 97.4,313.8 99,314 100.6,314.2 102.2,314.4 103.8,314.6 105.4,315 107,316.1 108.6,317.8 110.2,319.6 111.9,321.3 113.5,323.1 115.1,325.1 116.7,327.1 118.3,329.1 119.9,331.3 121.5,333.8 123.1,336.7 124.7,340.1 126.3,344.6 128,350.9 129.6,359.7 131.2,365 132.8,368.9 134.4,372.4 136,374.5 137.6,374.2 139.2,372.8 140.8,370.8 142.4,367.3 144.1,362.7 145.7,357.5 147.3,352.2 148.9,347.9 150.5,344.1 152.1,340.6 153.7,336.9 155.3,333.7 156.9,331.8 158.5,330.8 160.2,330 161.8,329.1 163.4,327.9 165,326.7 166.6,325.3 167.8,324.2" fill="none" stroke="#1fb37a" stroke-width="1.0" stroke-linejoin="round" marker-mid="url(#mg85)" marker-end="url(#mg85)"/>
<polyline points="39,303.5 39.4,319.4 41,321 42.6,322.9 44.2,325 45.8,327.4 47.5,330.1 49.1,332.8 50.7,335.5 52.3,338.2 53.9,340.7 55.5,343.5 57.1,344.5 58.7,344 60.3,342.3 61.9,338.6 63.6,335.2 65.2,332.5 66.8,330 68.4,327.6 70,325.2 71.6,323.2 73.2,321.7 74.8,320.3 76.4,319.1 78,318.1 79.7,316.9 81.3,315.8 82.9,315.1 84.5,314.9 86.1,314.9 87.7,314.9 89.3,314.9 90.9,314.9 92.5,315.3 94.1,316.1 95.8,317 97.4,317.8 99,318.4 100.6,319.3 102.2,320.7 103.8,322.6 105.4,324.7 107,327 108.6,329.9 110.2,334.4 111.9,340.1 113.5,345.7 115.1,350.3 116.7,354.3 118.3,359.6 119.9,366.3 121.5,372.9 123.1,380.2 124.7,385.4 126.3,381.9 128,376 129.6,368.1 131.2,361.2 132.8,357.2 134.4,353 136,348.1 137.6,343.6 139.2,339.5 140.8,336.3 142.4,333.5 144.1,331.2 145.7,329.4 147.3,327.8 148.9,326.5 150.5,325.3 152.1,324.1 153.7,323.1 155.3,322.8 156.9,323.3 158.5,324.2 160.2,325.3 161.8,326.4 163.4,327.7 165,329.1 166.6,330.8 167.8,332.1" fill="none" stroke="#ff1f1f" stroke-width="1.0" stroke-linejoin="round" marker-mid="url(#mg95)" marker-end="url(#mg95)"/>
<rect x="39" y="295.9" width="128.8" height="103.5" fill="none" stroke="#555" stroke-width="1.2"/>
<path d="M39 399.4v1.8M55.1 399.4v1.8M71.2 399.4v1.8M87.3 399.4v1.8M103.4 399.4v1.8M119.5 399.4v1.8M135.6 399.4v1.8M151.7 399.4v1.8M167.8 399.4v1.8M39 295.9h-1.8M39 330.4h-1.8M39 364.9h-1.8M39 399.4h-1.8" stroke="#555" stroke-width="1.2" fill="none"/>
<text x="39" y="408" class="tk" text-anchor="middle">2</text>
<text x="55.1" y="408" class="tk" text-anchor="middle">4</text>
<text x="71.2" y="408" class="tk" text-anchor="middle">6</text>
<text x="87.3" y="408" class="tk" text-anchor="middle">8</text>
<text x="103.4" y="408" class="tk" text-anchor="middle">10</text>
<text x="119.5" y="408" class="tk" text-anchor="middle">12</text>
<text x="135.6" y="408" class="tk" text-anchor="middle">14</text>
<text x="151.7" y="408" class="tk" text-anchor="middle">16</text>
<text x="167.8" y="408" class="tk" text-anchor="middle">18</text>
<text x="36.2" y="297.9" class="tk" text-anchor="end">0</text>
<text x="36.2" y="332.4" class="tk" text-anchor="end">-10</text>
<text x="36.2" y="366.9" class="tk" text-anchor="end">-20</text>
<text x="36.2" y="401.4" class="tk" text-anchor="end">-30</text>
<path d="M54.8 358.5H67.5" stroke="#2b7bb9" stroke-width="0.95"/>
<circle cx="61.1" cy="358.5" r="1.1" fill="#2b7bb9"/>
<text x="68.9" y="360.4" class="lg">4.5 mm</text>
<path d="M54.8 365.5H67.5" stroke="#c88cf5" stroke-width="0.95"/>
<circle cx="61.1" cy="365.5" r="1.1" fill="#c88cf5"/>
<text x="68.9" y="367.4" class="lg">7.0 mm</text>
<path d="M54.8 372.3H67.5" stroke="#1c1cff" stroke-width="0.95"/>
<circle cx="61.1" cy="372.3" r="1.1" fill="#1c1cff"/>
<text x="68.9" y="374.2" class="lg">7.5 mm</text>
<path d="M54.8 379.1H67.5" stroke="#1fb37a" stroke-width="0.95"/>
<circle cx="61.1" cy="379.1" r="1.1" fill="#1fb37a"/>
<text x="68.9" y="381" class="lg">8.5 mm</text>
<path d="M54.8 386H67.5" stroke="#ff1f1f" stroke-width="0.95"/>
<circle cx="61.1" cy="386" r="1.1" fill="#ff1f1f"/>
<text x="68.9" y="387.9" class="lg">9.5 mm</text>
<text x="103.4" y="419.8" class="ax2" text-anchor="middle">Frequency (GHz)</text>
<text transform="translate(20.8,343.8) rotate(-90)" class="ax2" text-anchor="middle">RL (dB)</text>
<path d="M222.6 327.6H350.2" stroke="#666" stroke-width="0.8" stroke-dasharray="2.6 1.8"/>
<marker id="mh45" markerWidth="3" markerHeight="3" refX="1.5" refY="1.5" markerUnits="userSpaceOnUse"><circle cx="1.5" cy="1.5" r="1.2" fill="#2a6ccc"/></marker><marker id="mh70" markerWidth="3" markerHeight="3" refX="1.5" refY="1.5" markerUnits="userSpaceOnUse"><circle cx="1.5" cy="1.5" r="1.2" fill="#c98ef0"/></marker><marker id="mh75" markerWidth="3" markerHeight="3" refX="1.5" refY="1.5" markerUnits="userSpaceOnUse"><circle cx="1.5" cy="1.5" r="1.2" fill="#2020f5"/></marker><marker id="mh85" markerWidth="3" markerHeight="3" refX="1.5" refY="1.5" markerUnits="userSpaceOnUse"><circle cx="1.5" cy="1.5" r="1.2" fill="#20b4cc"/></marker><marker id="mh95" markerWidth="3" markerHeight="3" refX="1.5" refY="1.5" markerUnits="userSpaceOnUse"><circle cx="1.5" cy="1.5" r="1.2" fill="#ff1f1f"/></marker>
<polyline points="222.6,299.3 223,303.9 224.6,304.7 226.2,305.3 227.8,305.6 229.4,305.7 231,305.5 232.6,305.2 234.2,305.1 235.8,305.5 237.4,306.3 238.9,307 240.5,307.6 242.1,308.3 243.7,308.9 245.3,309.5 246.9,309.9 248.5,310.5 250.1,311.2 251.7,312.5 253.3,314 254.9,315.4 256.5,316.3 258.1,317.1 259.7,317.6 261.3,317.8 262.9,318 264.5,318.1 266.1,318.3 267.7,319 269.3,320 270.8,321.2 272.4,322.7 274,324.7 275.6,328.2 277.2,330.2 278.8,329.9 280.4,329.2 282,327.8 283.6,325 285.2,324.5 286.8,325.4 288.4,326.1 290,325.8 291.6,324.7 293.2,323.2 294.8,322.1 296.4,321.2 298,320.3 299.6,319.5 301.2,318.9 302.7,318.4 304.3,317.8 305.9,317.1 307.5,316.3 309.1,315.7 310.7,315.7 312.3,315.9 313.9,316.1 315.5,316.1 317.1,314.7 318.7,313.2 320.3,312.7 321.9,312.5 323.5,312.4 325.1,312.8 326.7,313.3 328.3,313.6 329.9,313 331.5,311.8 333.1,311 334.6,311 336.2,311.3 337.8,311.5 339.4,311.5 341,311.2 342.6,311 344.2,311 345.8,311.5 347.4,312.2 349,312.4 350.2,311.8" fill="none" stroke="#2a6ccc" stroke-width="1.0" stroke-linejoin="round" marker-mid="url(#mh45)" marker-end="url(#mh45)"/>
<polyline points="222.6,300.7 223,311.5 224.6,311.8 226.2,312.1 227.8,312.6 229.4,313.1 231,313.8 232.6,314.8 234.2,316 235.8,317.9 237.4,320.3 238.9,322.8 240.5,325.6 242.1,328.3 243.7,331.2 245.3,333.6 246.9,335.1 248.5,336.3 250.1,336.6 251.7,336.5 253.3,336.1 254.9,335.6 256.5,334.8 258.1,333.4 259.7,331.8 261.3,330.3 262.9,328.9 264.5,327.3 266.1,325.7 267.7,323.9 269.3,322 270.8,320.6 272.4,319.3 274,318.3 275.6,317.3 277.2,316.4 278.8,315.5 280.4,314.8 282,314.2 283.6,313.6 285.2,313.1 286.8,313 288.4,313 290,313 291.6,313 293.2,313 294.8,313 296.4,313 298,313.1 299.6,313.4 301.2,313.8 302.7,314.3 304.3,314.7 305.9,315.1 307.5,315.9 309.1,317.4 310.7,319.3 312.3,320.9 313.9,322.5 315.5,323.8 317.1,324.9 318.7,325.9 320.3,326.8 321.9,327.7 323.5,329.4 325.1,334 326.7,338.7 328.3,343.1 329.9,348.6 331.5,354.6 333.1,360.5 334.6,365.2 336.2,369.4 337.8,373.8 339.4,378.2 341,382.8 342.6,380.2 344.2,375.4 345.8,368.8 347.4,361.8 349,357.7 350.2,353.9" fill="none" stroke="#c98ef0" stroke-width="1.0" stroke-linejoin="round" marker-mid="url(#mh70)" marker-end="url(#mh70)"/>
<polyline points="222.6,300.7 223,312.4 224.6,313.1 226.2,313.9 227.8,314.9 229.4,315.9 231,317.1 232.6,318.5 234.2,320.2 235.8,322.7 237.4,325.5 238.9,328.2 240.5,330.9 242.1,333 243.7,334.9 245.3,336 246.9,336.1 248.5,336.1 250.1,336.1 251.7,336 253.3,335.4 254.9,334.3 256.5,333 258.1,331.1 259.7,329.2 261.3,327.6 262.9,326.1 264.5,324.7 266.1,323.1 267.7,321.2 269.3,319.3 270.8,318 272.4,317.2 274,316.5 275.6,315.8 277.2,315 278.8,314 280.4,313.2 282,312.9 283.6,312.6 285.2,312.5 286.8,312.5 288.4,313.4 290,313.8 291.6,313.9 293.2,314 294.8,314.2 296.4,314.6 298,315.2 299.6,315.8 301.2,316.4 302.7,317.2 304.3,318 305.9,318.9 307.5,319.8 309.1,321.4 310.7,325.2 312.3,328.9 313.9,332 315.5,334.1 317.1,336.1 318.7,338.4 320.3,341.1 321.9,344.7 323.5,349.9 325.1,358.7 326.7,369.7 328.3,376.4 329.9,377.6 331.5,377.1 333.1,369.1 334.6,365.5 336.2,365.3 337.8,365.3 339.4,365 341,360.3 342.6,353.2 344.2,347.4 345.8,342.6 347.4,338.8 349,336.1 350.2,334.9" fill="none" stroke="#2020f5" stroke-width="1.0" stroke-linejoin="round" marker-mid="url(#mh75)" marker-end="url(#mh75)"/>
<polyline points="222.6,300.7 223,313.3 224.6,314.7 226.2,316.3 227.8,318.2 229.4,320.3 231,322.7 232.6,325.4 234.2,328.3 235.8,331.6 237.4,334.8 238.9,337.9 240.5,340.8 242.1,341.1 243.7,340 245.3,338.5 246.9,336.3 248.5,334 250.1,332 251.7,330 253.3,328.1 254.9,326.3 256.5,324.5 258.1,323 259.7,321.8 261.3,320.7 262.9,319.8 264.5,318.9 266.1,318 267.7,316.9 269.3,315.7 270.8,314.8 272.4,314.4 274,314.2 275.6,314.1 277.2,314 278.8,313.8 280.4,313.6 282,313.3 283.6,313.1 285.2,313 286.8,314.3 288.4,316.6 290,318.3 291.6,319.7 293.2,321.1 294.8,322.8 296.4,324.7 298,327 299.6,329.7 301.2,333 302.7,335.8 304.3,337.8 305.9,340.8 307.5,346.8 309.1,356.3 310.7,365.6 312.3,374 313.9,381.9 315.5,389.4 317.1,382.4 318.7,371.2 320.3,363.7 321.9,359.8 323.5,358.5 325.1,356.7 326.7,352.6 328.3,348.2 329.9,343.3 331.5,337.8 333.1,331.9 334.6,331 336.2,330.7 337.8,330.4 339.4,329.9 341,329.2 342.6,328.3 344.2,327.3 345.8,326 347.4,324.9 349,324.3 350.2,324.1" fill="none" stroke="#20b4cc" stroke-width="1.0" stroke-linejoin="round" marker-mid="url(#mh85)" marker-end="url(#mh85)"/>
<polyline points="222.6,301.3 223,317.1 224.6,319.2 226.2,321.6 227.8,324.2 229.4,327.4 231,330.6 232.6,333.5 234.2,336.2 235.8,338.8 237.4,342.1 238.9,344.4 240.5,344.1 242.1,342.6 243.7,339.7 245.3,336.7 246.9,333.9 248.5,331.4 250.1,329.2 251.7,327.3 253.3,325.4 254.9,323.6 256.5,321.8 258.1,320.3 259.7,319.2 261.3,318.4 262.9,317.6 264.5,316.9 266.1,316 267.7,315.2 269.3,314.6 270.8,314.5 272.4,315 274,315.9 275.6,316.9 277.2,317.6 278.8,318.3 280.4,319.1 282,320 283.6,321.1 285.2,322.4 286.8,323.9 288.4,326.1 290,330.3 291.6,334.5 293.2,339.1 294.8,345.1 296.4,350.4 298,356.1 299.6,364.3 301.2,377 302.7,387.7 304.3,390.1 305.9,384.7 307.5,376.8 309.1,365 310.7,359.4 312.3,357.8 313.9,356.1 315.5,353.5 317.1,347.2 318.7,339.4 320.3,333.7 321.9,331.2 323.5,330.9 325.1,330.7 326.7,330.4 328.3,329.3 329.9,327.4 331.5,325.8 333.1,324.3 334.6,323.5 336.2,323.6 337.8,323.8 339.4,324 341,324.3 342.6,324.8 344.2,325.5 345.8,326.5 347.4,329.2 349,331.9 350.2,333.4" fill="none" stroke="#ff1f1f" stroke-width="1.0" stroke-linejoin="round" marker-mid="url(#mh95)" marker-end="url(#mh95)"/>
<rect x="222.6" y="298.4" width="127.6" height="102.2" fill="none" stroke="#555" stroke-width="1.2"/>
<path d="M222.6 400.6v1.8M238.5 400.6v1.8M254.5 400.6v1.8M270.4 400.6v1.8M286.4 400.6v1.8M302.4 400.6v1.8M318.3 400.6v1.8M334.2 400.6v1.8M350.2 400.6v1.8M222.6 298.4h-1.8M222.6 327.6h-1.8M222.6 356.8h-1.8M222.6 386h-1.8" stroke="#555" stroke-width="1.2" fill="none"/>
<text x="222.6" y="409.2" class="tk" text-anchor="middle">2</text>
<text x="238.5" y="409.2" class="tk" text-anchor="middle">4</text>
<text x="254.5" y="409.2" class="tk" text-anchor="middle">6</text>
<text x="270.4" y="409.2" class="tk" text-anchor="middle">8</text>
<text x="286.4" y="409.2" class="tk" text-anchor="middle">10</text>
<text x="302.4" y="409.2" class="tk" text-anchor="middle">12</text>
<text x="318.3" y="409.2" class="tk" text-anchor="middle">14</text>
<text x="334.2" y="409.2" class="tk" text-anchor="middle">16</text>
<text x="350.2" y="409.2" class="tk" text-anchor="middle">18</text>
<text x="219.8" y="300.4" class="tk" text-anchor="end">0</text>
<text x="219.8" y="329.6" class="tk" text-anchor="end">-10</text>
<text x="219.8" y="358.8" class="tk" text-anchor="end">-20</text>
<text x="219.8" y="388" class="tk" text-anchor="end">-30</text>
<path d="M238 360.6H251" stroke="#2a6ccc" stroke-width="0.95"/>
<circle cx="244.5" cy="360.6" r="1.1" fill="#2a6ccc"/>
<text x="251.9" y="362.5" class="lg">4.5 mm</text>
<path d="M238 367.2H251" stroke="#c98ef0" stroke-width="0.95"/>
<circle cx="244.5" cy="367.2" r="1.1" fill="#c98ef0"/>
<text x="251.9" y="369.1" class="lg">7.0 mm</text>
<path d="M238 373.8H251" stroke="#2020f5" stroke-width="0.95"/>
<circle cx="244.5" cy="373.8" r="1.1" fill="#2020f5"/>
<text x="251.9" y="375.7" class="lg">7.5 mm</text>
<path d="M238 380.5H251" stroke="#20b4cc" stroke-width="0.95"/>
<circle cx="244.5" cy="380.5" r="1.1" fill="#20b4cc"/>
<text x="251.9" y="382.4" class="lg">8.5 mm</text>
<path d="M238 387.3H251" stroke="#ff1f1f" stroke-width="0.95"/>
<circle cx="244.5" cy="387.3" r="1.1" fill="#ff1f1f"/>
<text x="251.9" y="389.2" class="lg">9.5 mm</text>
<text x="286.4" y="421" class="ax2" text-anchor="middle">Frequency (GHz)</text>
<text transform="translate(204.4,346.4) rotate(-90)" class="ax2" text-anchor="middle">RL (dB)</text>
<path d="M410 316.9H536.6" stroke="#666" stroke-width="0.8" stroke-dasharray="2.6 1.8"/>
<marker id="mi45" markerWidth="3" markerHeight="3" refX="1.5" refY="1.5" markerUnits="userSpaceOnUse"><circle cx="1.5" cy="1.5" r="1.2" fill="#2470d4"/></marker><marker id="mi70" markerWidth="3" markerHeight="3" refX="1.5" refY="1.5" markerUnits="userSpaceOnUse"><circle cx="1.5" cy="1.5" r="1.2" fill="#b340f0"/></marker><marker id="mi75" markerWidth="3" markerHeight="3" refX="1.5" refY="1.5" markerUnits="userSpaceOnUse"><circle cx="1.5" cy="1.5" r="1.2" fill="#2a2af0"/></marker><marker id="mi85" markerWidth="3" markerHeight="3" refX="1.5" refY="1.5" markerUnits="userSpaceOnUse"><circle cx="1.5" cy="1.5" r="1.2" fill="#22bcd8"/></marker><marker id="mi95" markerWidth="3" markerHeight="3" refX="1.5" refY="1.5" markerUnits="userSpaceOnUse"><circle cx="1.5" cy="1.5" r="1.2" fill="#ff1f1f"/></marker>
<polyline points="410,299 410.6,301.9 412.2,302.5 413.8,302.9 415.4,303.2 417,303.2 418.5,303.2 420.1,303.2 421.7,303.2 423.3,303.5 424.9,304 426.5,304.5 428,305 429.6,305.7 431.2,306.3 432.8,306.9 434.4,307.5 436,308 437.5,308.7 439.1,309.5 440.7,310.4 442.3,311.4 443.9,312.4 445.4,313.4 447,314.2 448.6,315.5 450.2,317 451.8,318.4 453.4,319.3 454.9,319.8 456.5,320.2 458.1,320.5 459.7,320.8 461.3,321.3 462.9,322.7 464.4,323.6 466,323.2 467.6,322.2 469.2,321.2 470.8,320.3 472.4,319.6 473.9,319.2 475.5,318.9 477.1,318.4 478.7,317.7 480.3,317 481.8,316.3 483.4,315.5 485,314.8 486.6,314.1 488.2,313.5 489.8,312.9 491.3,312.4 492.9,311.9 494.5,311.4 496.1,311.2 497.7,311.3 499.3,311.5 500.8,311.7 502.4,311.7 504,311.2 505.6,310.5 507.2,309.9 508.7,309.3 510.3,309.2 511.9,309.5 513.5,309.8 515.1,309.9 516.7,309.7 518.2,309.4 519.8,309.2 521.4,309.3 523,309.6 524.6,309.9 526.2,309.8 527.7,309.5 529.3,309.2 530.9,309.2 532.5,309.2 534.1,309.2 535.7,309.2 536.6,309.2" fill="none" stroke="#2470d4" stroke-width="1.0" stroke-linejoin="round" marker-mid="url(#mi45)" marker-end="url(#mi45)"/>
<polyline points="410,299.9 410.6,306.4 412.2,307 413.8,307.8 415.4,308.5 417,309.3 418.5,310 420.1,310.9 421.7,312.2 423.3,314.3 424.9,316.7 426.5,319.3 428,322.2 429.6,324.6 431.2,326.9 432.8,328.2 434.4,328.2 436,328 437.5,327.6 439.1,327.2 440.7,326.5 442.3,325.5 443.9,324.5 445.4,323 447,321.4 448.6,319.7 450.2,318.1 451.8,316.4 453.4,314.8 454.9,313.5 456.5,312.3 458.1,311.3 459.7,310.9 461.3,310.7 462.9,310.6 464.4,310.5 466,310.3 467.6,310.2 469.2,310 470.8,309.9 472.4,309.9 473.9,309.9 475.5,309.9 477.1,309.9 478.7,309.9 480.3,309.9 481.8,309.9 483.4,309.9 485,310 486.6,310.2 488.2,310.4 489.8,310.7 491.3,311 492.9,311.4 494.5,312.1 496.1,313.8 497.7,315.7 499.3,317.4 500.8,319 502.4,320.1 504,320.7 505.6,321.5 507.2,324 508.7,327.8 510.3,332.3 511.9,336.2 513.5,340.2 515.1,345.2 516.7,351.1 518.2,359.2 519.8,367.3 521.4,372.9 523,379.4 524.6,387.4 526.2,395.1 527.7,395.8 529.3,381.4 530.9,368.1 532.5,358.1 534.1,349.6 535.7,343.9 536.6,339.2" fill="none" stroke="#b340f0" stroke-width="1.0" stroke-linejoin="round" marker-mid="url(#mi70)" marker-end="url(#mi70)"/>
<polyline points="410,299.9 410.6,306.9 412.2,307.9 413.8,309 415.4,310.1 417,311.2 418.5,312.3 420.1,313.5 421.7,315 423.3,317.1 424.9,319.3 426.5,321.9 428,324.4 429.6,326 431.2,327 432.8,327.5 434.4,327.4 436,327 437.5,326.4 439.1,325.7 440.7,324.4 442.3,323 443.9,321.6 445.4,320 447,318.4 448.6,317.1 450.2,315.9 451.8,315 453.4,314.1 454.9,313.3 456.5,312.5 458.1,311.9 459.7,311.4 461.3,311.1 462.9,310.8 464.4,310.5 466,310.1 467.6,309.6 469.2,309.2 470.8,309.2 472.4,309.2 473.9,309.2 475.5,309.2 477.1,309.3 478.7,309.6 480.3,309.9 481.8,310.2 483.4,310.5 485,310.9 486.6,311.4 488.2,311.8 489.8,312.4 491.3,313.2 492.9,314.4 494.5,316.2 496.1,318.7 497.7,322 499.3,325.4 500.8,328.9 502.4,332.4 504,335.1 505.6,337.8 507.2,341.2 508.7,346.6 510.3,353.5 511.9,361.9 513.5,372.5 515.1,383.4 516.7,385 518.2,375.1 519.8,363.7 521.4,352.6 523,349.8 524.6,349 526.2,348.2 527.7,346.7 529.3,342.2 530.9,337.5 532.5,332.7 534.1,329.8 535.7,327.8 536.6,326.2" fill="none" stroke="#2a2af0" stroke-width="1.0" stroke-linejoin="round" marker-mid="url(#mi75)" marker-end="url(#mi75)"/>
<polyline points="410,299.9 410.6,307.9 412.2,309.8 413.8,311.7 415.4,313.7 417,315.6 418.5,317.6 420.1,319.7 421.7,322 423.3,324.7 424.9,327.3 426.5,329.8 428,331.4 429.6,330.8 431.2,329.3 432.8,327.9 434.4,326.3 436,324.6 437.5,323 439.1,321.4 440.7,319.7 442.3,318.2 443.9,316.6 445.4,315.1 447,313.9 448.6,313.1 450.2,312.4 451.8,311.8 453.4,311.4 454.9,311 456.5,310.6 458.1,310.3 459.7,310 461.3,309.8 462.9,309.6 464.4,309.4 466,309.3 467.6,309.4 469.2,309.7 470.8,310.1 472.4,310.9 473.9,312 475.5,313.2 477.1,314.6 478.7,316.2 480.3,318 481.8,320.4 483.4,323.2 485,326.1 486.6,329.1 488.2,331.9 489.8,335 491.3,339.1 492.9,343.9 494.5,349.4 496.1,356.7 497.7,365.4 499.3,376.1 500.8,385.2 502.4,384.2 504,373.2 505.6,357.7 507.2,349.5 508.7,343.5 510.3,339 511.9,335.6 513.5,332.7 515.1,330.2 516.7,327.8 518.2,325.4 519.8,323.7 521.4,323.1 523,322.8 524.6,322.5 526.2,322.1 527.7,321.7 529.3,321.3 530.9,320.8 532.5,320.2 534.1,319.4 535.7,318.5 536.6,317.9" fill="none" stroke="#22bcd8" stroke-width="1.0" stroke-linejoin="round" marker-mid="url(#mi85)" marker-end="url(#mi85)"/>
<polyline points="410,300.3 410.6,311.6 412.2,314.1 413.8,316.7 415.4,319.3 417,322.1 418.5,324.7 420.1,327 421.7,329.1 423.3,330.7 424.9,332 426.5,332.7 428,332.1 429.6,330.8 431.2,328.3 432.8,326.1 434.4,323.8 436,321.9 437.5,320.1 439.1,318.5 440.7,317.1 442.3,315.8 443.9,314.6 445.4,313.6 447,312.7 448.6,311.9 450.2,311.2 451.8,310.9 453.4,310.7 454.9,310.6 456.5,310.5 458.1,310.5 459.7,311 461.3,312 462.9,313 464.4,313.7 466,314.4 467.6,315.2 469.2,316 470.8,316.7 472.4,317.8 473.9,320.2 475.5,325.6 477.1,330.5 478.7,334 480.3,338 481.8,343.5 483.4,350 485,359.6 486.6,371.4 488.2,378.8 489.8,385.1 491.3,377.6 492.9,365.9 494.5,355.4 496.1,346.9 497.7,337.6 499.3,333.6 500.8,331.4 502.4,329.6 504,326.9 505.6,323.9 507.2,321.7 508.7,320.9 510.3,320.6 511.9,320.4 513.5,320.3 515.1,320.1 516.7,319.9 518.2,319.8 519.8,319.7 521.4,320 523,320.5 524.6,321 526.2,321 527.7,321 529.3,321 530.9,321.1 532.5,322 534.1,323.5 535.7,326.8 536.6,327.1" fill="none" stroke="#ff1f1f" stroke-width="1.0" stroke-linejoin="round" marker-mid="url(#mi95)" marker-end="url(#mi95)"/>
<rect x="410" y="298.4" width="126.6" height="102" fill="none" stroke="#555" stroke-width="1.2"/>
<path d="M410 400.4v1.8M425.8 400.4v1.8M441.6 400.4v1.8M457.5 400.4v1.8M473.3 400.4v1.8M489.1 400.4v1.8M505 400.4v1.8M520.8 400.4v1.8M536.6 400.4v1.8M410 298.4h-1.8M410 316.9h-1.8M410 335.5h-1.8M410 354h-1.8M410 372.6h-1.8M410 391.1h-1.8" stroke="#555" stroke-width="1.2" fill="none"/>
<text x="410" y="409" class="tk" text-anchor="middle">2</text>
<text x="425.8" y="409" class="tk" text-anchor="middle">4</text>
<text x="441.6" y="409" class="tk" text-anchor="middle">6</text>
<text x="457.5" y="409" class="tk" text-anchor="middle">8</text>
<text x="473.3" y="409" class="tk" text-anchor="middle">10</text>
<text x="489.1" y="409" class="tk" text-anchor="middle">12</text>
<text x="505" y="409" class="tk" text-anchor="middle">14</text>
<text x="520.8" y="409" class="tk" text-anchor="middle">16</text>
<text x="536.6" y="409" class="tk" text-anchor="middle">18</text>
<text x="407.2" y="300.4" class="tk" text-anchor="end">0</text>
<text x="407.2" y="318.9" class="tk" text-anchor="end">-10</text>
<text x="407.2" y="337.5" class="tk" text-anchor="end">-20</text>
<text x="407.2" y="356" class="tk" text-anchor="end">-30</text>
<text x="407.2" y="374.6" class="tk" text-anchor="end">-40</text>
<text x="407.2" y="393.1" class="tk" text-anchor="end">-50</text>
<path d="M425.9 359.9H438.2" stroke="#2470d4" stroke-width="0.95"/>
<circle cx="432" cy="359.9" r="1.1" fill="#2470d4"/>
<text x="439.2" y="361.8" class="lg">4.5 mm</text>
<path d="M425.9 366.7H438.2" stroke="#b340f0" stroke-width="0.95"/>
<circle cx="432" cy="366.7" r="1.1" fill="#b340f0"/>
<text x="439.2" y="368.6" class="lg">7.0 mm</text>
<path d="M425.9 373.3H438.2" stroke="#2a2af0" stroke-width="0.95"/>
<circle cx="432" cy="373.3" r="1.1" fill="#2a2af0"/>
<text x="439.2" y="375.2" class="lg">7.5 mm</text>
<path d="M425.9 380.1H438.2" stroke="#22bcd8" stroke-width="0.95"/>
<circle cx="432" cy="380.1" r="1.1" fill="#22bcd8"/>
<text x="439.2" y="382" class="lg">8.5 mm</text>
<path d="M425.9 386.9H438.2" stroke="#ff1f1f" stroke-width="0.95"/>
<circle cx="432" cy="386.9" r="1.1" fill="#ff1f1f"/>
<text x="439.2" y="388.8" class="lg">9.5 mm</text>
<text x="473.3" y="420.8" class="ax2" text-anchor="middle">Frequency (GHz)</text>
<text transform="translate(391.8,346.4) rotate(-90)" class="ax2" text-anchor="middle">RL (dB)</text>
<text x="4" y="22.4" class="pl3">(a)</text>
<text x="183.8" y="21" class="pl3">(b)</text>
<text x="366.9" y="22.2" class="pl3">(c)</text>
<text x="3" y="154.6" class="pl">(d)</text>
<text x="184" y="154.6" class="pl">(e)</text>
<text x="367.4" y="157.8" class="pl">(f)</text>
<text x="2.5" y="305.2" class="pl">(g)</text>
<text x="184.2" y="308.6" class="pl">(h)</text>
<text x="367.1" y="310.3" class="pl">(i)</text>
<path d="M34.7 16.8L92.1 7.4L158.7 15.3M92.1 7.4L92.1 79.4M158.7 15.3L155 97.3" stroke="#b8b8b8" stroke-width="0.6" fill="none"/>
<clipPath id="fla"><polygon points="38.1,100.2 103.9,125.4 155,97.3 92.1,79.4"/></clipPath>
<g clip-path="url(#fla)">
<polygon points="38.1,100.2 103.9,125.4 155,97.3 92.1,79.4" fill="#ff0200"/>
<path fill="#ff0500" fill-rule="evenodd" d="M155.1 97.3 103.9 125.4 38.3 100.3 92.4 79.4 155.1 97.3Z"/>
<path fill="#ff0800" fill-rule="evenodd" d="M155.1 97.3 103.9 125.4 76.9 114 66.3 107.5 54.2 102.5 52.1 101.1 51.2 100 50.7 98.7 51 96.3 50.2 95.7 92.4 79.4 155.1 97.3Z"/>
<path fill="#ff0c00" fill-rule="evenodd" d="M155.1 97.3 105.5 124.5 78.4 113.3 75.6 111.3 72.4 107.4 70.4 105.7 61.1 102 58.7 100.7 57.6 99.3 57.3 98 57.7 96.6 60.1 93.2 60.3 92.5 59.7 92 92.3 79.4 155.1 97.3Z"/>
<path fill="#ff0f00" fill-rule="evenodd" d="M155.1 97.3 106.4 124 79.4 112.8 77.3 111 74.9 106.3 73.3 104.5 71.6 103.5 63.8 100.5 62.4 99.5 61.6 98.4 61.6 96.8 62.4 95.5 66.2 91.2 66.4 90.4 65.8 89.7 92.3 79.4 155.1 97.3Z"/>
<path fill="#ff2000" fill-rule="evenodd" d="M155.1 97.3 107.2 123.6 80.3 112.4 78.3 110.1 77 105.4 75.7 103.4 73.3 102 67 99.5 65.7 98.6 65.1 96.9 65.6 95.5 71.2 89.6 71.3 88.4 70.5 87.9 92.3 79.4 155.1 97.3Z"/>
<path fill="#ff3700" fill-rule="evenodd" d="M155.1 97.3 107.9 123.2 81.2 112 79.6 109.9 78.8 104.5 77.7 102.5 76.8 101.7 68.9 97.6 68.5 96.5 69 95.1 74.5 89.6 75.4 88.3 75.5 87.2 74.4 86.3 92.3 79.4 155.1 97.3Z"/>
<path fill="#ff4e00" fill-rule="evenodd" d="M155.1 97.3 108.5 122.8 83.1 112 81.5 110.9 80.8 109.4 80.3 103.4 79.5 101.7 72.5 96.9 72 96.1 72.1 95.1 72.9 93.8 77 89.8 78.8 87.2 78.8 85.9 77.8 85.1 92.3 79.4 155.1 97.3Z"/>
<path fill="#ff6600" fill-rule="evenodd" d="M155.1 97.3 109.1 122.5 93.5 115.8 84.1 111.5 82.6 110.4 82.1 108.8 82 104 81.4 101.7 75.5 95.2 76 93.6 81.2 87 81.4 85.2 80.5 84 92.3 79.4 155.1 97.3Z"/>
<path fill="#ff7e00" fill-rule="evenodd" d="M155.1 97.3 109.8 122.1 94.3 115.4 84.8 110.7 83.7 109.4 82.9 101.5 79.4 96.3 78.6 94 79.3 92.2 83 86.2 83.3 84.5 82.8 83.1 92.3 79.4 155.1 97.3Z"/>
<path fill="#ff9b00" fill-rule="evenodd" d="M155.1 97.3 110.5 121.8 95.2 115 86.7 110.3 85.1 108.7 84.3 101.4 81.4 96.2 80.8 93.4 82.4 89.2 84.3 86.1 85.1 82.2 92.3 79.4 155.1 97.3ZM119.3 108.8 116.7 109.1 117.2 109.4 118.3 109.3 119 109.2 119.3 108.8ZM119.2 107.4 116.3 107.2 114.2 107.6 114.2 107.9 115.8 108.1 118.2 107.8 119.2 107.4ZM111 93.4 107.2 93.1 105.1 93.5 105.5 93.8 106.6 94.1 105 94.8 106.1 95.6 104.9 96.3 105.8 97.8 105.1 98.6 106.4 99.2 105.9 100.1 107.2 100.6 106.5 101.4 108 102 108.7 104 108.2 104.6 110.8 105.3 110.5 105.9 110.9 106.1 113.7 106.4 117.5 105.4 118.2 104.9 115.6 104.8 115.7 104.3 117.2 103.7 117.4 103.4 115.2 103.1 113.6 101.6 115.2 101 115.5 100.6 113.2 100.4 113.5 100 115 99.5 112.5 99 112.4 98.6 114.1 98.2 113.9 97.8 111.7 97.6 111.4 97.3 112.3 97.1 113.2 96 109.8 95.4 112.3 94.7 108.4 94.1 110.4 93.7 111.1 93.4 111 93.4ZM120 109 119.5 108.8 120 109ZM115 106.5 114.4 106.6 114.5 106.8 114.9 106.8 115 106.5ZM116 106.5 115.8 106.6 116 106.5ZM117.9 106 117.5 106.2 117.9 106ZM110.2 91.3 107.6 90.9 105.1 91.1 105.3 92.4 106.4 92.7 108.2 92.6 110.1 92.2 110.2 91.3ZM109.7 90 106.5 89.5 105.1 89.8 104.7 90.1 106.8 90.5 109.7 90.3 109.7 90ZM109.9 88.8 106.8 88.3 104.4 88.7 105.4 89.3 106.8 89.4 110 89.1 109.9 88.8ZM108.5 86.8 107.6 86.5 106.4 86.8 105.4 87.8 106.1 88.2 108.1 88.1 108.8 87.9 108.5 86.8Z"/>
<path fill="#ffbc00" fill-rule="evenodd" d="M106.9 83.6 102.5 86 101.3 87.8 100.9 89 101.1 94.2 100.6 98.9 103.8 105.4 111.5 110.8 121.4 115.8 111.2 121.4 96.6 114.8 88.6 109.9 86.7 108 85.7 101.3 83.1 96.2 82.5 92.7 83.5 89.1 85.1 86.4 87.1 81.4 92.3 79.4 106.9 83.6ZM155.1 97.3 130.7 110.7 128.3 109.2 127.6 108.1 125.6 107.6 126.5 106.6 124.4 106 125.4 105.3 123.7 105 124.7 104 122.7 103.6 123.6 102.6 121.9 102.1 120.9 101.2 121.8 100.6 121.8 100.3 120.2 99.7 121.1 98.9 119.3 98.3 120.3 97.7 118.6 96.9 119.4 96 117.6 95.2 118.4 94.7 118.4 94.4 116.8 93.9 117.6 93.1 116 92.7 117.2 92.1 116.9 91.4 115.6 90.7 117.1 90.3 115.6 89.7 115.7 89.5 117.1 89 115.6 88.5 117 86.5 155.1 97.3Z"/>
<path fill="#fae300" fill-rule="evenodd" d="M105.8 83.3 101.3 85.7 99.7 87.8 99.3 88.9 99 94.4 98 98.5 101.1 105.8 108.9 111.6 119.3 116.9 112.1 120.9 98.2 114.5 91 109.7 88.2 106.8 87 100.9 84.5 96 83.8 92.2 84.5 89.1 85.9 86.6 86.9 83.9 88.3 82.2 89 80.7 92.3 79.4 105.8 83.3ZM155.1 97.3 132.4 109.7 130.7 108.5 130.2 107.7 128.8 107.4 129 106.3 127.3 105.7 127.9 105.1 126.4 104.6 127.1 103.8 125.3 103.2 125.8 102.3 124.4 101.8 123.8 101.1 123.8 100.7 124.3 100.4 123 99.7 122.9 99.4 123.5 99 123.2 98.7 122 98.2 122.7 97.4 121.2 96.9 121.8 95.8 120.3 95.2 121 94.6 119.6 93.9 120.2 93.2 118.8 92.6 119.6 91.9 119.7 91.5 118.6 90.7 119.6 90.2 118.7 89.8 118.6 89.5 119.3 89.1 118.4 88.5 119.2 87.1 141.6 93.5 140.5 94 141.1 94.2 142.5 94.4 144.2 94.2 155.1 97.3ZM143.1 95 142.3 95 141.6 95.2 142.9 95.2 143.1 95Z"/>
<path fill="#baff00" fill-rule="evenodd" d="M105 83 100.1 85.7 98.5 87.8 97.4 94.4 95.6 98.7 98.4 106.1 106.6 112.3 117.4 118 113.3 120.2 99.5 113.7 91.7 107.9 89.8 105.5 88.3 99.5 85.4 94.8 84.9 91.3 85.3 89.2 87.6 84.1 89.8 81.7 90.7 80.1 92.3 79.4 105 83ZM155.1 97.3 133.4 109.2 131.5 107.5 130.3 107.1 130.7 106.4 129.2 105.7 129.1 104.7 128 104.3 128.4 103.6 126.8 102.9 127.2 102.2 125.2 100.9 125.7 100.2 124.3 99.5 124.8 98.8 123.5 98.1 124.1 97.4 122.7 96.7 123 95.7 122 95.3 121.9 94.9 122.4 94.5 121.2 93.9 121.4 93 120.4 92.6 121.1 91.5 120.3 91.1 120.1 90.8 120.7 90.5 120.7 90.1 120.1 89.6 120.8 89.2 119.9 88.5 120.5 87.5 138.5 92.6 139.8 93.4 138.9 94 140.2 94.7 139.6 95.1 139.8 95.3 141 95.6 140.6 96.3 142 96.5 143.9 96.3 144.6 96.1 144.8 95.5 145.7 95.1 145.7 94.6 155.1 97.3Z"/>
<path fill="#2bff00" fill-rule="evenodd" d="M93.1 100.1 93.8 101.3 93.8 104.1 93 104.1 91.7 103 91.2 101.5 91.2 99.9 91.6 99.5 92.5 99.7 93.1 100.1ZM104.4 82.9 99.3 85.5 97.1 88.7 96.3 93.1 95.3 95.7 93.7 97.7 92.7 98.4 91.9 98.6 91.6 99 89.4 97.8 87.4 95.9 86.2 93.4 86 90.6 86.2 89.1 88.3 84.2 90.8 81.6 92.3 79.4 104.4 82.9ZM155.1 97.3 134 108.8 132.6 107.5 131.4 107.1 131.5 106 130.3 105.6 130.2 104.6 129 104.2 129.3 103.4 127.8 102.9 127.9 101.9 126.8 101.5 126.2 100.9 126.7 100.1 125.3 99.4 125.8 98.7 124.4 98 124.9 97.4 123.6 96.7 123.9 95.7 122.8 95.1 123.2 94.3 122.2 93.9 122.7 93.3 121.4 92.5 122 91.7 121.1 91 121.3 90.7 121.9 90.4 121 89.7 121.9 89.1 120.9 88.4 121.4 87.7 137.9 92.4 137.5 92.8 138.6 93.2 138.1 93.9 139 94.8 138.5 95.2 139.3 95.6 139.4 96.5 141.8 97.1 141.6 97.7 143.3 97.8 144.5 97.4 144.5 97 146.1 96.1 146.8 95 155.1 97.3Z"/>
<path fill="#00ff08" fill-rule="evenodd" d="M103.9 82.7 98.4 85.6 96.2 88.8 94.5 94.4 93 95.9 91.5 96.5 89.6 96.1 87.9 94.5 87 91.6 87 89.2 89 84.1 93.2 79.7 103.9 82.7ZM155.1 97.3 134.5 108.6 133.6 107.5 132.1 106.7 132.4 106 130.8 105.3 131.1 104.7 129.9 104.3 129.9 103.3 128.5 102.7 128.7 102 127 100.9 127.2 99.9 126.1 99.5 126.5 98.6 125.3 98.1 125.6 97.4 124.4 96.7 124.8 95.7 123.6 94.9 123.9 94.4 122.9 93.8 123.4 93 122.3 92.6 122.8 91.6 121.8 90.8 122.5 90.5 121.8 89.6 122.4 89.3 121.8 88.4 122.1 87.9 137.4 92.3 136.9 92.8 137.8 93.3 137.2 94 138.3 94.7 137.7 95.5 138.8 95.8 138.5 96.5 140.3 97.1 140.3 97.9 143.1 98.3 144.3 98.2 145.6 97.8 147.2 96 147.5 95.2 155.1 97.3ZM144.1 98.8 143.6 98.6 142.7 98.7 142.7 99 143.5 99.1 144.1 98.8Z"/>
<path fill="#00ff14" fill-rule="evenodd" d="M103.4 82.6 97.8 85.5 95.2 88.9 93.6 93.2 92.1 94.7 91.2 94.8 89.8 94.5 88.8 93.4 87.9 90.5 87.9 89.1 89.5 84.3 94 79.9 103.4 82.6ZM155 97.3 135 108.3 134 107.3 132.8 106.8 133 106.2 131.6 105.4 131.5 104.5 130.4 104 130.3 103.1 129.2 102.7 129.1 101.7 128.1 101.3 127.5 100.7 127.9 100 126.6 99.2 127 98.6 125.8 97.9 126.2 97.2 125.2 96.8 125.3 95.8 124.1 95.1 124.6 94.5 123.5 93.7 123.9 93.1 122.8 92.4 123.3 91.7 122.5 91 123.2 90.4 122.4 89.7 123.1 89.1 122.4 88.5 122.7 88.1 136.9 92.1 136.2 92.8 137.3 93.5 136.8 94.2 137.6 94.6 137.1 95.3 138.1 95.7 137.8 96.4 139.2 97 139.3 97.9 141.1 98.4 140.7 99.1 142.7 99.5 142.7 100 144.8 99.8 145.5 99.6 146.4 98.1 147.3 97.3 148.3 95.4 155 97.3Z"/>
<path fill="#00ff1f" fill-rule="evenodd" d="M155 97.3 135.3 108.1 134.8 107.4 133.2 106.6 133.5 105.9 132 105.2 132.2 104.6 130.9 103.9 131 103.2 129.5 102.5 129.8 101.9 128.1 100.8 128.2 99.8 127.2 99.4 127.3 98.4 126.4 98 126.8 97.3 125.5 96.6 125.8 95.6 124.9 95.2 125.1 94.4 124.1 93.8 124.4 93.3 123.4 92.5 123.8 91.8 123.1 91 123.7 90.3 123 89.8 123.6 89.2 122.8 88.5 123.1 88.2 136.1 91.9 136.3 92.2 135.7 92.7 136.8 93.4 136.1 94.1 137.1 94.8 136.8 95.5 137.6 95.9 137.4 96.6 138.6 97.1 138.5 97.9 140.1 98.4 139.9 99 140.2 99.4 141.5 99.7 141.5 100.2 144.8 100.3 146.3 99.8 147.4 98.7 149 95.6 155 97.3ZM102.9 82.5 97.2 85.3 94.3 88.8 92.5 91.9 91.7 92.6 90.7 92.6 89.5 91.4 88.8 89.3 90.1 84.4 94.6 80.1 102.9 82.5Z"/>
<path fill="#00ff2b" fill-rule="evenodd" d="M155 97.3 146.3 102.1 145.4 102.4 145.1 102.8 135.6 108 135 107.2 133.9 106.8 133.8 105.8 132.7 105.4 132.6 104.4 131.4 104 131.4 103.1 129.9 102.3 130.2 101.7 128.5 100.7 128.8 100 127.6 99.2 128 98.5 126.8 97.8 127.1 97.2 125.9 96.5 126.3 95.7 125.1 95 125.5 94.4 124.5 93.7 124.9 93 123.8 92.3 124.3 91.7 123.4 90.8 123.9 90.6 124.1 90.2 123.4 89.7 123.9 89.3 123.4 88.3 135.1 91.6 135.8 92 135.9 92.3 135.3 92.7 136.3 93.5 135.8 94 136.7 94.7 136.2 95.4 137.1 95.8 136.9 96.6 138.1 97.1 137.9 97.8 139.3 98.4 139.7 98.7 139.3 99.1 140.6 99.7 140.5 100.2 143.1 100.8 142.9 101.4 145.2 101.7 146.7 101.4 147.1 101 147.1 100.2 147.9 99.4 149.7 95.8 155 97.3ZM102.5 82.3 100.6 83.4 96.6 85.1 92.6 89.1 91.7 89.8 91.1 89.9 90.3 89.3 90 87.9 90.8 84.5 95.2 80.2 102.5 82.3Z"/>
<path fill="#00ff36" fill-rule="evenodd" d="M134.8 91.5 135.5 92.2 134.9 92.9 135.8 93.3 135.5 93.9 136.3 94.9 135.8 95.3 136.8 95.9 136.5 96.6 137.9 97.2 137.6 97.9 139.1 98.5 139.2 99.4 140.3 99.8 140 100.3 142.1 100.8 142 101.4 142.4 101.7 144.5 102.1 144.3 103.2 135.9 107.8 135.3 107.1 134.2 106.6 134 105.7 132.9 105.2 132.8 104.3 131.7 103.9 131.9 103.2 130.5 102.5 130.4 101.6 129 100.8 129.3 99.9 128.2 99.4 128.2 98.4 127.2 97.9 127.4 97 126.4 96.6 126.6 95.7 125.5 95 125.8 94.3 125 93.8 125.3 93.1 124.1 92.4 124.6 91.6 123.8 91 124.6 90.3 123.7 89.6 124.4 89.2 123.7 88.4 134.8 91.5ZM102.1 82.2 100.1 83.3 96.1 85 93.4 87.2 91.9 87.8 91.3 87 91.5 84.4 95.7 80.4 102.1 82.2ZM155 97.3 148 101.1 150.3 96 155 97.3Z"/>
<path fill="#00ff5c" fill-rule="evenodd" d="M134.6 91.5 135.1 92.1 134.6 92.8 135.6 93.5 135.1 94.1 135.8 94.6 135.5 95.3 136.5 96 136.3 96.7 137.4 97.2 137.3 98 138.7 98.7 138.4 99.3 139.5 99.7 139.4 100.3 141.3 100.8 141.6 101.6 143.5 102.1 144 103.4 136.1 107.7 136 107.2 134.5 106.5 134.7 105.8 133.2 105.1 133 104.2 132.1 103.8 132.2 103.1 130.7 102.4 130.9 101.8 129.3 100.7 129.6 100 128.4 99.3 128.7 98.6 127.5 97.9 127.9 97.1 126.7 96.5 126.8 95.5 125.9 95.1 126.2 94.3 125.2 93.7 125.6 93.1 124.5 92.4 124.9 91.7 124.2 90.9 124.8 90.4 124 89.7 124.8 89.1 123.9 88.4 134.6 91.5ZM101.7 82.1 99.7 83.1 94.8 85 93.8 85.6 92.9 85.6 92.4 84.8 92.5 84.3 96.2 80.5 101.7 82.1ZM155 97.3 149.4 100.4 149.3 99.8 150.9 96.1 155 97.3Z"/>
<path fill="#00ff9c" fill-rule="evenodd" d="M134.4 91.4 134.8 92.4 134.3 92.8 135.2 93.4 134.7 94.1 135.7 94.9 135.1 95.4 136.1 95.9 136 96.8 137.1 97.2 136.9 97.9 138.1 98.5 138 99.2 139.3 99.9 139.2 100.4 141 100.9 141.3 101.8 143.1 102.3 143.1 103.2 143.8 103.5 136.4 107.5 136.2 107.1 135 106.7 135 105.7 133.8 105.3 133.7 104.3 132.5 103.9 132.5 102.9 131 102.2 131.2 101.6 129.8 100.9 129.5 100.5 129.9 99.9 128.7 99.1 129.1 98.5 127.8 97.7 128.1 97.1 126.9 96.4 127.1 95.5 126.2 95 126.6 94.4 125.4 93.6 125.9 93 125 92.6 125.2 91.6 124.6 91.1 125.1 90.5 124.4 89.8 125 89.2 124.2 88.5 134.4 91.4ZM101.2 82 99.2 83 96.7 83.9 95.1 84.3 94.4 84.3 94 84.2 94.8 82.6 96.7 80.7 101.2 82ZM155 97.3 150.3 99.9 151.5 96.3 155 97.3Z"/>
<path fill="#00ffd6" fill-rule="evenodd" d="M134.1 91.4 133.7 91.6 134.6 92.2 134.1 92.9 134.9 93.3 134.3 94 135.4 94.8 134.8 95.5 135.9 96 135.5 96.6 136.8 97.3 136.5 97.9 137.9 98.6 137.7 99.3 139.1 100 138.8 100.4 140.8 101 141.1 101.9 142.4 102.2 143 103.4 143.6 103.6 136.7 107.4 135.2 106.6 135.3 105.9 134 105.2 133.9 104.2 132.7 103.8 132.6 102.9 131.5 102.5 131.5 101.5 130 100.8 130.2 99.8 129.2 99.4 129.3 98.5 128.3 98 128.3 97 127.3 96.5 127.6 95.7 126.7 95.2 126.7 94.3 125.8 93.8 126.2 93 125.2 92.5 125.5 91.5 124.8 90.8 125.3 90.3 124.7 89.8 125.3 89.2 124.6 88.6 134.1 91.4ZM100.7 81.8 97.9 83 96.3 83.4 95.6 83.2 95.8 82.4 97.3 80.8 100.7 81.8ZM155 97.3 151.5 99.2 152.6 96.6 155 97.3Z"/>
<path fill="#00f5ff" fill-rule="evenodd" d="M133.9 91.3 133.5 91.6 134.3 92.3 133.8 93 134.7 93.4 134.2 94.1 135 94.7 134.5 95.4 135.6 96.1 135.3 96.7 136.6 97.4 136.3 98 137.6 98.6 137.4 99.4 138.6 99.9 138.8 100.6 140.1 100.9 140.4 101.7 142.2 102.3 142.4 103.2 143.4 103.7 136.9 107.3 135.4 106.5 135.6 105.9 134.2 105.1 134 104.1 132.9 103.7 132.8 102.8 131.7 102.4 131.6 101.4 130.2 100.7 130.5 99.8 129.3 99.3 129.6 98.6 128.4 97.9 128.5 96.9 127.6 96.5 127.9 95.7 126.8 95.1 126.9 94.2 126.1 93.7 126.5 93.1 125.4 92.4 125.8 91.7 125 90.9 125.6 90.2 124.9 89.7 125.5 89.1 125 88.8 133.9 91.3ZM100.1 81.6 97.4 82.5 97.2 82.3 98 81 100.1 81.6Z"/>
<path fill="#00d5ff" fill-rule="evenodd" d="M133.7 91.2 133.3 91.5 134.1 92.2 133.5 92.9 134.5 93.5 134 94.2 134.8 94.7 134.3 95.4 135.2 95.8 135.1 96.8 136.3 97.3 136.1 98.2 137.2 98.5 137.1 99.4 138.3 99.9 138.2 100.4 139.9 101 140.2 101.9 142 102.4 142.1 103.4 143.2 103.8 137.1 107.1 135.7 106.5 135.8 105.7 134.3 105 134.1 104.1 133.1 103.6 133.3 103 131.8 102.3 131.8 101.3 130.4 100.6 130.8 99.9 129.5 99.2 129.9 98.5 128.6 97.8 129 97.1 127.8 96.4 128.2 95.8 126.9 95 127.4 94.4 126.3 93.6 126.7 93 125.6 92.3 126.1 91.6 125.2 90.9 125.9 90.3 125.2 89.6 125.6 88.9 133.7 91.2Z"/>
<path fill="#00b5ff" fill-rule="evenodd" d="M133.5 91.2 133 91.6 133.8 92.1 133.2 92.8 134.2 93.5 133.8 94.3 134.6 94.8 134.1 95.5 135.1 95.9 135 96.9 136 97.3 135.7 98.1 137 98.6 136.8 99.3 138.1 100 137.9 100.6 139.7 101.1 140 101.9 141.8 102.5 141.9 103.5 143.1 103.9 137.3 107 136.2 106.6 136.1 105.6 134.5 104.9 134.7 104.3 133.3 103.5 133.5 102.9 132 102.2 132 101.3 130.6 100.5 131 99.8 129.7 99.1 130.1 98.4 128.9 97.6 129.3 97.1 128 96.3 128.4 95.7 127.2 94.9 127.7 94.3 126.7 93.9 126.9 92.9 125.8 92.4 126.3 91.7 125.5 91 126.2 90.4 125.4 89.7 126 89 133.5 91.2Z"/>
<path fill="#0099ff" fill-rule="evenodd" d="M133.4 91.1 132.8 91.7 133.6 92.2 133 92.8 134 93.5 133.4 94.2 134.4 94.9 133.9 95.6 134.9 96 134.5 96.8 135.8 97.4 135.4 98 136.9 98.7 136.5 99.4 137.9 100.1 137.8 100.7 139.6 101.2 139.9 102 141.1 102.4 141.8 103.6 142.9 104 137.4 107 136.3 106.5 136.2 105.5 135.1 105.1 135 104.1 133.8 103.8 133.7 102.8 132.2 102.1 132.5 101.4 131.1 100.8 130.8 100.4 131.2 99.7 130.1 99.2 130.4 98.4 129.3 97.9 129.5 97.2 128.2 96.3 128.6 95.6 127.7 95.1 127.9 94.4 126.9 93.8 127 92.9 126.1 92.5 126.5 91.7 125.7 91.1 126.4 90.4 125.6 89.7 126.3 89.1 133.4 91.1Z"/>
<path fill="#007cff" fill-rule="evenodd" d="M133.2 91.1 132.6 91.8 133.4 92.3 132.8 92.7 132.9 93 133.8 93.4 133.1 94.1 134.2 94.9 133.7 95.6 134.6 96.1 134.2 96.7 135.6 97.5 135.3 98.1 136.7 98.8 136.3 99.5 137.7 100.1 137.4 100.5 137.6 100.7 139.4 101.3 139.3 101.8 141 102.4 141.2 103.3 142.7 104.1 137.5 106.9 136.4 106.5 136.3 105.5 135.2 105 135.1 104.1 133.9 103.7 133.9 102.7 132.4 102 132.7 101.4 131.2 100.7 131.3 99.7 130.4 99.2 130.7 98.4 129.4 97.8 129.8 97.2 128.4 96.4 128.8 95.6 127.8 95.1 128.1 94.4 126.9 93.6 127.3 92.8 126.3 92.4 126.7 91.7 126.1 90.8 126.6 90.5 125.8 89.7 126.5 89.2 133.2 91.1Z"/>
<path fill="#0052ff" fill-rule="evenodd" d="M133 91 132.2 91.7 133.1 92.1 133.2 92.4 132.6 92.7 133.6 93.5 133 94.2 134 94.8 133.2 95.5 134.2 95.9 134 96.6 135.4 97.5 135.1 98.2 136.4 98.8 136.1 99.6 137.2 100 137.1 100.5 138.8 101.1 139.2 101.4 139 102 140.8 102.5 141 103.5 142.5 104.2 137.6 106.9 136.6 106.4 136.5 105.4 135.3 105 135.2 104 134 103.6 134 102.6 132.5 101.9 132.8 101.3 131.3 100.6 131.7 99.7 130.5 99.1 130.9 98.5 129.5 97.6 130 97.1 128.6 96.4 129.2 95.7 127.9 95 128.3 94.4 127.2 93.7 127.7 93 126.4 92.3 126.9 91.6 126.2 91.2 126.8 90.5 126 89.9 126.1 89.5 126.7 89.2 133 91Z"/>
<path fill="#001bff" fill-rule="evenodd" d="M132.8 91 132 91.6 132.9 92.1 132.4 92.8 133.3 93.7 132.9 94.3 133.8 94.8 133 95.4 134.1 95.9 133.8 96.6 134 96.9 135.2 97.5 135 98.3 136.1 98.7 135.7 99.5 137.1 100 136.9 100.6 138.7 101.2 138.9 102 140.7 102.6 140.8 103.5 142.3 104.3 137.7 106.8 136.7 106.3 137 105.6 135.4 104.9 135.7 104.3 134.2 103.5 134.1 102.6 132.8 102 133 101.2 131.5 100.5 132 99.8 130.7 99.1 131.1 98.4 129.7 97.7 130.2 97 128.9 96.3 129.4 95.6 128 94.9 128.5 94.3 127.4 93.5 127.9 93 126.6 92.2 127.1 91.6 126.4 91.1 126.9 90.4 126.3 89.9 126.3 89.5 126.9 89.3 132.8 91Z"/>
<path fill="#0700ff" fill-rule="evenodd" d="M132.4 90.9 132.5 91.3 131.9 91.6 132.9 92.3 132.1 92.9 133.2 93.7 132.7 94 133.5 94.9 132.9 95.4 134.1 96.2 133.5 96.7 135 97.4 134.4 98.1 135.9 98.7 135.4 99.5 137 100.1 136.7 100.7 138.5 101.2 138.8 102.1 140.5 102.7 140.7 103.6 141.9 104 142.1 104.4 137.8 106.7 136.9 106.2 137.2 105.5 135.6 104.8 135.9 104.2 134.3 103.5 134.3 102.5 133 102.1 133.2 101.1 131.7 100.4 132.2 99.7 130.8 99 131.3 98.3 129.9 97.7 130.5 97 129.3 96.5 129.5 95.5 128.2 94.9 128.7 94.2 127.7 93.8 128.1 93.1 126.8 92.3 127.3 91.6 126.5 91 127.1 90.3 126.4 89.6 127 89.3 132.4 90.9Z"/>
<path fill="#1500ff" fill-rule="evenodd" d="M132 90.8 132.4 91.1 131.7 91.5 132.7 92.2 131.9 92.9 132.9 93.4 132.3 94.2 133.3 95 132.7 95.3 133.9 96.1 133.3 96.8 134.8 97.4 134.2 98.2 135.7 98.8 135.2 99.5 136.8 100.2 136.5 100.8 138.4 101.3 138.7 102.2 140.4 102.8 140.6 103.7 141.9 104.3 137.9 106.7 137.1 106.1 137.4 105.4 135.7 104.7 136.1 104 134.5 103.4 134.8 102.6 133.2 102.1 133.5 101.2 132.1 100.7 131.9 100.3 132.4 99.6 131 99 131.6 98.2 130.3 97.8 130.2 97.5 130.7 97 129.4 96.5 129.7 95.5 128.5 95 129 94.2 127.8 93.7 128.3 93.1 127 92.3 127.6 91.6 126.6 91 127.4 90.3 126.5 89.6 127.1 89.3 132 90.8Z"/>
<path fill="#2400ff" fill-rule="evenodd" d="M131.5 90.6 132.2 91.2 131.6 91.5 132.5 92.2 131.7 92.8 132.9 93.6 132 94.2 133 94.7 133.1 95 132.2 95.5 133.7 96.1 133 96.8 134.6 97.5 133.9 98 134 98.3 135.6 98.9 135.1 99.6 136.7 100.2 136.1 100.6 136.4 100.9 138.3 101.4 138.1 102 139.9 102.5 140.1 103.4 141.7 104.3 141.3 104.8 138 106.6 137.3 106 137.5 105.4 135.9 104.7 136.2 104 134.7 103.3 135 102.6 133.4 102 133.9 101.2 132.3 100.6 132.6 99.5 131.2 99.1 132.1 98.3 130.4 97.8 130.4 97.4 131 97 129.5 96.4 129.8 95.4 128.7 95 129.3 94.3 127.9 93.7 128.5 93 127.1 92.4 127.8 91.7 126.8 91 127.7 90.4 126.7 89.6 127.2 89.4 131.5 90.6Z"/>
<path fill="#3c00ff" fill-rule="evenodd" d="M131 90.5 132.1 91.2 131.3 91.6 132.2 92.1 132.1 92.5 131.5 92.8 132.7 93.5 131.8 94.2 133 95 131.8 95.5 133.4 96 133.3 96.4 132.6 96.7 134.1 97.3 134.3 97.7 133.2 98.2 135.1 98.7 135.4 98.9 134.3 99.6 136.2 100 136.4 100.2 135.7 100.7 138.1 101.5 137.8 102.1 139.8 102.6 139.8 103.6 141.5 104.2 141.1 105 138.1 106.6 137.4 106 137.6 105.3 136.3 104.9 136.1 104.6 136.3 103.9 135.1 103.6 135.2 102.5 133.5 101.9 134.2 101.1 132.4 100.6 133.3 99.6 131.5 99.1 132.3 98.2 130.6 97.7 130.6 97.5 131.6 96.8 129.7 96.4 130.6 95.6 128.9 95 129.5 94.2 128.1 93.6 128.7 92.9 127.4 92.4 128 91.7 127 91 127.9 90.4 126.8 89.7 127.3 89.4 131 90.5Z"/>
<path fill="#5a00ff" fill-rule="evenodd" d="M134.2 97.6 132.8 98.1 132.9 98.4 134.5 98.5 135.2 98.8 134 99.5 134 99.7 136.1 100.1 135.3 101 137.6 101.2 138 101.5 137.6 102.2 139.6 102.6 139.6 103.7 141.3 104.3 140.9 105.1 138.2 106.5 137.6 106 138.1 105.6 136.3 104.6 136.5 103.8 135.2 103.5 135.3 102.4 133.7 101.8 134.6 101.1 132.5 100.5 133.5 99.8 133.5 99.5 131.6 99 132.5 98.1 131.2 97.9 130.7 97.5 131.8 97.1 132.8 97 134.2 97.6ZM130.8 90.4 131.9 91.1 131 91.7 132.1 92.1 132 92.5 131.3 92.9 132.5 93.5 131.5 94.1 132.8 94.9 131.3 95.6 133.1 96 133.1 96.4 132.4 96.6 130.8 96.7 129.8 96.3 130.8 95.7 129.1 94.9 129.6 94.2 128.2 93.6 129 92.9 127.7 92.5 127.6 92.2 128.2 91.8 127.1 91.1 128.1 90.5 127 89.7 127.4 89.4 130.8 90.4Z"/>
<path fill="#7300ff" fill-rule="evenodd" d="M137.8 101.6 137.4 102.3 139.5 102.7 139.5 103.7 140.8 104.1 141.2 104.4 140.7 105.2 138.3 106.5 137.8 106.1 138.3 105.4 136.5 104.8 136.9 104.1 135.3 103.4 135.5 102.4 133.9 101.8 134.2 101.4 136 101.1 137.5 101.3 137.8 101.6ZM135 98.8 134.6 99.2 133.8 99.4 133.7 99.8 135.9 100.2 135.2 100.8 133.8 100.8 132.9 100.6 132.9 100.1 133.7 99.8 133.7 99.4 132.2 99.2 131.8 98.9 132.6 98.5 134.4 98.6 135 98.8ZM134 97.6 132.7 98 130.9 97.6 132.4 97.1 134 97.6ZM133 96.3 132.2 96.6 131 96.6 130.3 96.4 130.4 96 131.1 95.8 131.7 95.8 133 96.1 133 96.3ZM130.5 90.3 131.8 91.1 130.7 91.6 131.9 92.2 131.1 93 132.3 93.4 131.1 94.3 132.7 94.9 131.2 95.3 129.5 95.1 129.2 94.8 129.8 94.5 129.8 94.1 128.4 93.6 129.4 93 127.8 92.5 127.7 92.1 128.4 91.8 127.3 91.1 127.5 90.7 128.2 90.5 127.2 89.8 127.5 89.5 130.5 90.3ZM130.5 94.2 130.2 94.1 130 94.4 130.7 94.3 130.5 94.2Z"/>
<path fill="#8500ff" fill-rule="evenodd" d="M137.5 101.5 137 102.3 139.4 102.8 139.4 103.8 140.7 104.1 141 104.5 140.4 104.9 140.6 105.3 138.4 106.4 137.9 106.1 138.6 105.3 136.6 104.7 137.3 103.9 135.4 103.4 136.3 102.4 134.1 101.9 134.3 101.5 135.1 101.2 136.6 101.2 137.5 101.5ZM135.6 100.4 135 100.7 133.9 100.7 133.2 100.6 133.1 100.1 134.5 99.9 135.7 100.3 135.6 100.4ZM134.5 99.1 133 99.3 132 98.8 132.8 98.6 134.3 98.6 134.5 99.1ZM133.8 97.5 132.9 97.9 131.2 97.7 131.6 97.3 132.6 97.2 133.8 97.5ZM132.8 96.3 131.1 96.6 130.5 96.4 130.5 96.1 131.6 95.8 132.8 96.3ZM132.4 94.8 132 95.1 130.9 95.3 129.6 95 129.4 94.8 130 94.5 130.9 94.4 132.4 94.8ZM130.4 90.3 131.6 91.1 130.4 91.7 131.8 92.3 130.3 93 132.1 93.4 131.9 93.8 130.7 94.1 128.7 93.7 129.6 92.9 127.9 92.4 127.9 92.1 128.7 91.6 127.6 91.2 127.6 90.8 128.4 90.5 127.4 89.9 127.6 89.5 130.4 90.3Z"/>
<path fill="#9700ff" fill-rule="evenodd" d="M139.3 103 138.6 103.7 140.6 104.2 140.8 104.5 139.7 105.2 140.4 105.3 138.5 106.4 138.1 106 138.9 105.4 138.8 105.2 136.8 104.7 137.5 103.8 135.5 103.3 136.3 102.6 137.1 102.5 138.7 102.6 139.3 103ZM137.2 101.9 136.6 102.2 134.9 102.2 134.4 102 134.5 101.5 135.3 101.3 136.5 101.3 137.3 101.4 137.2 101.9ZM135.5 100.4 134.1 100.6 133.4 100.5 133.2 100.2 134.4 100 135.5 100.4ZM134.4 99.1 133.1 99.2 132.3 98.9 133 98.7 134.1 98.7 134.4 99.1ZM133.2 97.3 133.2 97.8 131.5 97.7 131.7 97.4 133.2 97.3ZM132.7 96.2 131.2 96.5 130.7 96.1 131.6 95.9 132.7 96.2ZM131.8 95.1 130.7 95.2 129.6 94.9 130.1 94.6 131.5 94.6 132.1 94.7 131.8 95.1ZM130.2 90.2 130.1 90.5 131.4 91 131.1 91.3 130.2 91.5 130.2 91.7 131.7 92.3 130.9 92.7 130 92.8 130 93.1 131.9 93.5 131.8 93.7 130.9 94 130 94 128.9 93.7 129.1 93.4 129.8 93.1 129.9 92.8 128.1 92.4 128 92.2 129.4 91.7 127.8 91.2 127.8 90.8 128.8 90.4 127.8 90 127.8 89.5 130.2 90.2Z"/>
<path fill="#a600ff" fill-rule="evenodd" d="M139.8 105.7 138.6 106.3 138.4 105.8 139.2 105.5 140.3 105.4 139.8 105.7ZM139.2 103 138.1 103.7 138.1 104 139.9 104 140.6 104.4 139.4 105.1 137.4 104.9 137 104.6 137.8 104 137.8 103.7 136.2 103.5 135.7 103.2 136.4 102.6 136.9 102.6 138.7 102.7 139.2 103ZM137.1 101.8 136.3 102.1 135 102.1 134.6 101.6 135.4 101.3 136.4 101.4 137.1 101.5 137.1 101.8ZM135.3 100.3 134.3 100.5 133.4 100.2 134.5 100.1 135.3 100.3ZM134.1 99 132.5 99 133.2 98.7 134 98.8 134.1 99ZM133 97.7 131.8 97.6 131.9 97.4 133 97.4 133 97.7ZM132.2 96.1 131.7 96.4 130.8 96.1 132.2 96.1ZM131.7 95 130.4 95.1 129.8 94.9 130.3 94.6 131.3 94.6 131.7 95ZM131.7 93.7 130.1 93.9 129.5 93.8 129.2 93.4 130.7 93.2 131.7 93.7ZM131.1 90.9 130.9 91.3 130 91.5 130 91.8 131.3 92.1 131.5 92.3 131 92.6 129.2 92.7 128.2 92.2 129.2 91.8 129.8 91.8 129.8 91.5 128.4 91.3 127.9 90.8 129.3 90.5 131.1 90.9ZM130.1 90.2 128.4 90.1 127.9 89.6 130.1 90.2Z"/>
<path fill="#b300ff" fill-rule="evenodd" d="M139.8 105.7 138.7 106.2 138.6 105.8 140.1 105.5 139.8 105.7ZM140.4 104.4 140.1 104.8 139.1 105 137.5 104.8 137.2 104.5 138 104.1 139 104 140.4 104.4ZM138.9 102.9 138.6 103.3 137.8 103.6 136.3 103.4 135.9 103.1 136.8 102.7 138.2 102.7 138.9 102.9ZM136.9 101.8 135.2 102 134.8 101.6 136.3 101.4 136.9 101.8ZM134.9 100.2 133.7 100.3 134.9 100.2ZM133.9 98.9 133.6 98.9 133.9 98.9ZM132.7 97.6 132.1 97.4 132.7 97.6ZM131.5 96.4 131.3 96.3 131.5 96.4ZM131.5 95 130.6 95 130.5 94.7 131.2 94.7 131.5 95ZM131.5 93.6 130.3 93.9 129.6 93.8 129.3 93.4 130.6 93.3 131.5 93.6ZM131.3 92.3 130.8 92.6 129.6 92.6 128.3 92.3 128.9 91.9 129.9 91.9 130.7 92 131.3 92.3ZM130.8 91.3 129.1 91.4 128.1 91.1 128 90.9 129.1 90.6 129.9 90.7 130.9 91 130.8 91.3ZM129.9 90.2 128.5 90.1 128 89.6 129.9 90.2Z"/>
<path fill="#b900ff" fill-rule="evenodd" d="M139.8 105.7 138.9 106.2 138.7 105.9 140 105.5 139.8 105.7ZM140 104.2 139.9 104.7 138.9 104.9 137.6 104.8 137.4 104.4 138.9 104.1 140 104.2ZM138.5 102.8 138.5 103.3 137.7 103.5 136.4 103.4 136.1 103 136.8 102.7 138.5 102.8ZM136.8 101.7 135.3 101.9 135 101.7 135.8 101.5 136.8 101.7ZM131.2 94.9 130.8 94.8 131.2 94.9ZM131.3 93.6 130.4 93.8 129.5 93.5 130.5 93.3 131.3 93.6ZM131.1 92.2 130.7 92.5 130.3 92.6 129.3 92.6 128.6 92.3 128.9 92 130.6 92 131.1 92.2ZM130.7 91.2 129.3 91.4 128.2 90.9 128.9 90.7 129.8 90.7 130.4 90.8 130.7 91.2ZM129.8 90.1 128.6 90.1 128.1 89.6 129.8 90.1Z"/>
</g>
<path d="M38.1 100.2L103.9 125.4L155 97.3" stroke="#555" stroke-width="0.6" fill="none"/><path d="M38.1 100.2L36.2 101M45.2 103L43.3 103.7M52.6 105.8L50.7 106.6M60.3 108.7L58.5 109.6M68.4 111.8L66.5 112.7M76.7 115L74.8 115.9M85.4 118.3L83.5 119.2M94.5 121.8L92.6 122.7M103.9 125.4L102.1 126.4M103.9 125.4L105.9 126.1M115.7 118.9L117.6 119.6M126.6 112.9L128.5 113.6M136.7 107.3L138.6 107.9M146.2 102.2L148 102.7M155 97.3L156.8 97.8" stroke="#555" stroke-width="0.5"/><text x="33.3" y="103.3" class="t3" text-anchor="middle">2</text><text x="40.4" y="106.1" class="t3" text-anchor="middle">4</text><text x="47.9" y="109" class="t3" text-anchor="middle">6</text><text x="55.6" y="112" class="t3" text-anchor="middle">8</text><text x="63.6" y="115.2" class="t3" text-anchor="middle">10</text><text x="72" y="118.4" class="t3" text-anchor="middle">12</text><text x="80.7" y="121.8" class="t3" text-anchor="middle">14</text><text x="89.8" y="125.4" class="t3" text-anchor="middle">16</text><text x="99.3" y="129.1" class="t3" text-anchor="middle">18</text><text x="108.6" y="128.4" class="t3" text-anchor="middle">0</text><text x="120.3" y="121.8" class="t3" text-anchor="middle">2</text><text x="131.2" y="115.7" class="t3" text-anchor="middle">4</text><text x="141.2" y="110" class="t3" text-anchor="middle">6</text><text x="150.6" y="104.7" class="t3" text-anchor="middle">8</text><text x="159.4" y="99.8" class="t3" text-anchor="middle">10</text><text transform="translate(61.4,118) rotate(20.9) skewX(-40)" class="a3" text-anchor="middle" dy="2">Frequency (GHz)</text><text transform="translate(141.4,113.6) rotate(-28.8) skewX(40)" class="a3b" text-anchor="middle" dy="2">Thickness (mm)</text>
<path d="M34.7 16.8L38.1 100.2" stroke="#333" stroke-width="0.9"/><path d="M34.7 16.8h-1.6M35.2 29.3h-1.6M35.7 41.7h-1.6M36.2 53.8h-1.6M36.7 65.7h-1.6M37.2 77.4h-1.6M37.6 88.9h-1.6M38.1 100.2h-1.6" stroke="#333" stroke-width="0.7"/><text x="32.5" y="18.3" class="z3" text-anchor="end">0</text><text x="33" y="30.8" class="z3" text-anchor="end">-5</text><text x="33.5" y="43.2" class="z3" text-anchor="end">-10</text><text x="34" y="55.3" class="z3" text-anchor="end">-15</text><text x="34.5" y="67.2" class="z3" text-anchor="end">-20</text><text x="35" y="78.9" class="z3" text-anchor="end">-25</text><text x="35.4" y="90.4" class="z3" text-anchor="end">-30</text><text x="35.9" y="101.7" class="z3" text-anchor="end">-35</text>
<g stroke-width="0.35" stroke-linejoin="round"><path class="k23" d="M91.1 24.4l1.5 2.3 1.1.9-1.4-2.4z"/><path class="k14" d="M90.9 12.1l.2 12.3 1.2.8-.2-13z"/><path class="k21" d="M90 23.7l1.4 2.1 1.2.9-1.5-2.3z"/><path class="k24" d="M91.4 25.8l1.5 3.1 1.1 1-1.4-3.2z"/><path class="k14" d="M89.8 12.1l.2 11.6 1.1.7-.2-12.3z"/><path class="k20" d="M88.9 23.1l1.4 1.9 1.1.8-1.4-2.1z"/><path class="k23" d="M90.3 25l1.5 3 1.1.9-1.5-3.1z"/><path class="k13" d="M88.6 12.1l.3 11 1.1.6-.2-11.6z"/><path class="k19" d="M87.7 22.5l1.5 1.7 1.1.8-1.4-1.9z"/><path class="k22" d="M89.2 24.2l1.4 2.8 1.2 1-1.5-3z"/><path class="k12" d="M87.5 12.1l.2 10.4 1.2.6-.3-11z"/><path class="k18" d="M86.5 21.9l1.5 1.6 1.2.7-1.5-1.7z"/><path class="k20" d="M88 23.5l1.4 2.5 1.2 1-1.4-2.8z"/><path class="k12" d="M86.3 12.1l.2 9.8 1.2.6-.2-10.4z"/><path class="k17" d="M85.4 21.3l1.4 1.5 1.2.7-1.5-1.6z"/><path class="k11" d="M85.1 12.1l.3 9.2 1.1.6-.2-9.8z"/><path class="k19" d="M86.8 22.8l1.5 2.4 1.1.8-1.4-2.5z"/><path class="k22" d="M88.3 25.2l1.4 3.5 1.2 1-1.5-3.7z"/><path class="k16" d="M84.2 20.8l1.4 1.3 1.2.7-1.4-1.5z"/><path class="k11" d="M83.9 12.2l.3 8.6 1.2.5-.3-9.2z"/><path class="k18" d="M85.6 22.1l1.5 2.3 1.2.8-1.5-2.4z"/><path class="k21" d="M87.1 24.4l1.5 3.3 1.1 1-1.4-3.5z"/><path class="k15" d="M83 20.3l1.4 1.2 1.2.6-1.4-1.3z"/><path class="k10" d="M82.8 12.2l.2 8.1 1.2.5-.3-8.6z"/><path class="k17" d="M84.4 21.5l1.5 2.1 1.2.8-1.5-2.3z"/><path class="k14" d="M81.8 19.8l1.4 1 1.2.7-1.4-1.2z"/><path class="k20" d="M85.9 23.6l1.5 2.9 1.2 1.2-1.5-3.3z"/><path class="k10" d="M81.5 12.2l.3 7.6 1.2.5-.2-8.1z"/><path class="k16" d="M83.2 20.8l1.5 1.7 1.2 1.1-1.5-2.1z"/><path class="k18" d="M84.7 22.5l1.5 2.4 1.2 1.6-1.5-2.9z"/><path class="k9" d="M80.3 12.2l.3 7.1 1.2.5-.3-7.6z"/><path class="k21" d="M86.2 24.9l1.5 3.3 1.2 1.9-1.5-3.6z"/><path class="k15" d="M82 20.1l1.5 1.3 1.2 1.1-1.5-1.7z"/><path class="k16" d="M107.5 23l1.6-.4 1.1-.2-1.6.2z"/><path class="k13" d="M79.4 18.9l1.4.6 1.2.6-1.4-.8z"/><path class="k9" d="M79.1 12.3l.3 6.6 1.2.4-.3-7.1z"/><path class="k16" d="M83.5 21.4l1.5 2.1 1.2 1.4-1.5-2.4z"/><path class="k19" d="M85 23.5l1.5 2.9 1.2 1.8-1.5-3.3z"/><path class="k13" d="M80.8 19.5l1.5 1.1 1.2.8-1.5-1.3z"/><path class="k16" d="M106.4 23.4l1.5-.5 1.2-.3-1.6.4zM109.1 22.6l1.5.1 1.1-.2-1.5-.1z"/><path class="k12" d="M78.1 18.5l1.5.5 1.2.5-1.4-.6z"/><path class="k8" d="M77.9 12.3l.2 6.2 1.3.4-.3-6.6z"/><path class="k15" d="M82.3 20.6l1.5 1.7 1.2 1.2-1.5-2.1z"/><path class="k16" d="M110.6 22.7l1.6.3 1.1-.2-1.6-.3zM105.2 23.7l1.6-.5 1.1-.3-1.5.5zM107.9 22.9l1.6 0 1.1-.2-1.5-.1z"/><path class="k12" d="M79.6 19l1.4.9 1.3.7-1.5-1.1z"/><path class="k17" d="M83.8 22.3l1.5 2.6 1.2 1.5-1.5-2.9z"/><path class="k8" d="M76.6 12.4l.3 5.7 1.2.4-.2-6.2z"/><path class="k20" d="M85.3 24.9l1.5 3.3 1.2 1.8-1.5-3.6z"/><path class="k14" d="M81 19.9l1.5 1.5 1.3.9-1.5-1.7z"/><path class="k16" d="M112.2 23l1.6.5 1.1-.2-1.6-.5zM104.1 24.1l1.6-.7 1.1-.2-1.6.5zM109.5 22.9l1.6.3 1.1-.2-1.6-.3zM106.8 23.2l1.6 0 1.1-.3-1.6 0z"/><path class="k12" d="M78.3 18.6l1.5.8 1.2.5-1.4-.9z"/><path class="k16" d="M82.5 21.4l1.5 2.2 1.3 1.3-1.5-2.6z"/><path class="k10" d="M75.6 17.8l1.5.4 1.2.4-1.4-.5z"/><path class="k7" d="M75.4 12.4l.2 5.4 1.3.3-.3-5.7z"/><path class="k16" d="M113.8 23.5l1.6.6 1.1-.2-1.6-.6zM111.1 23.2l1.5.4 1.2-.1-1.6-.5zM103 24.5l1.5-.7 1.2-.4-1.6.7z"/><path class="k18" d="M84 23.6l1.5 3 1.3 1.6-1.5-3.3z"/><path class="k16" d="M108.4 23.2l1.5.2 1.2-.2-1.6-.3z"/><path class="k13" d="M79.8 19.4l1.5 1.3 1.2.7-1.5-1.5z"/><path class="k11" d="M77.1 18.2l1.5.8 1.2.4-1.5-.8z"/><path class="k7" d="M74.1 12.5l.3 5 1.2.3-.2-5.4z"/><path class="k10" d="M74.4 17.5l1.4.4 1.3.3-1.5-.4z"/><path class="k17" d="M115.4 24.1l1.5.7 1.1 0-1.5-.9z"/><path class="k61" d="M128.3 58.4l.8 4.5.7 11.4-.8-.4z"/><path class="k14" d="M81.3 20.7l1.5 1.9 1.2 1-1.5-2.2z"/><path class="k16" d="M112.6 23.6l1.6.6 1.2-.1-1.6-.6z"/><path class="k17" d="M101.8 25.4l1.6-1 1.1-.6-1.5.7z"/><path class="k57" d="M127.6 56.3l.7 2.1.7 15.5-.6-8z"/><path class="k16" d="M109.9 23.4l1.6.4 1.1-.2-1.5-.4zM107.2 23.4l1.6.2 1.1-.2-1.5-.2zM104.5 23.8l1.6-.1 1.1-.3-1.5 0z"/><path class="k12" d="M78.6 19l1.4 1.1 1.3.6-1.5-1.3z"/><path class="k17" d="M82.8 22.6l1.5 2.6 1.2 1.4-1.5-3zM116.9 24.8l1.6 1 1.1.1-1.6-1.1z"/><path class="k10" d="M75.8 17.9l1.5.7 1.3.4-1.5-.8z"/><path class="k7" d="M72.8 12.5l.3 4.7 1.3.3-.3-5z"/><path class="k16" d="M114.2 24.2l1.6.6 1.1 0-1.5-.7z"/><path class="k9" d="M73.1 17.2l1.5.4 1.2.3-1.4-.4z"/><path class="k16" d="M111.5 23.8l1.6.4 1.1 0-1.6-.6z"/><path class="k13" d="M80 20.1l1.5 1.7 1.3.8-1.5-1.9z"/><path class="k16" d="M108.8 23.6l1.6.3 1.1-.1-1.6-.4zM103.4 24.4l1.5-.4 1.2-.3-1.6.1z"/><path class="k15" d="M106.1 23.7l1.6.1 1.1-.2-1.6-.2z"/><path class="k63" d="M128.7 68.5l.9-.7.8 8-.7-4.8z"/><path class="k19" d="M118.5 25.8l1.7 1.3 1 .5-1.6-1.7z"/><path class="k11" d="M77.3 18.6l1.5 1.1 1.2.4-1.4-1.1z"/><path class="k59" d="M128 63.8l.7 4.7 1 2.5-.6-8.1z"/><path class="k15" d="M81.5 21.8l1.6 2.4 1.2 1-1.5-2.6z"/><path class="k17" d="M115.8 24.8l1.6.8 1.1.2-1.6-1z"/><path class="k10" d="M74.6 17.6l1.4.7 1.3.3-1.5-.7z"/><path class="k6" d="M71.6 12.6l.2 4.4 1.3.2-.3-4.7z"/><path class="k16" d="M113.1 24.2l1.6.6 1.1 0-1.6-.6z"/><path class="k63" d="M129.6 67.8l.8-1 1 4.3-1 4.7z"/><path class="k9" d="M71.8 17l1.5.4 1.3.2-1.5-.4z"/><path class="k20" d="M120.2 27.1l1.4 1.9 1 1-1.4-2.4z"/><path class="k16" d="M110.4 23.9l1.6.4 1.1-.1-1.6-.4zM102.2 25.1l1.6-.6 1.1-.5-1.5.4z"/><path class="k15" d="M107.7 23.8l1.6.3 1.1-.2-1.6-.3z"/><path class="k18" d="M83.1 24.2l1.5 3 1.2 1.4-1.5-3.4z"/><path class="k16" d="M104.9 24l1.6 0 1.2-.2-1.6-.1z"/><path class="k12" d="M78.8 19.7l1.5 1.5 1.2.6-1.5-1.7z"/><path class="k22" d="M121.6 29l.7 1.9 1.1 1-.8-1.9z"/><path class="k18" d="M117.4 25.6l1.7 1.3 1.1.2-1.7-1.3z"/><path class="k10" d="M76 18.3l1.5 1.1 1.3.3-1.5-1.1z"/><path class="k19" d="M98.3 29.2l1.5-2 1.2-1.2-1.5 1.7z"/><path class="k17" d="M114.7 24.8l1.6.9 1.1-.1-1.6-.8z"/><path class="k9" d="M73.3 17.4l1.5.7 1.2.2-1.4-.7z"/><path class="k14" d="M80.3 21.2l1.5 2.1 1.3.9-1.6-2.4z"/><path class="k6" d="M70.3 12.7l.2 4 1.3.3-.2-4.4z"/><path class="k16" d="M112 24.3l1.6.7 1.1-.2-1.6-.6z"/><path class="k17" d="M101 26l1.6-.8 1.2-.7-1.6.6z"/><path class="k8" d="M70.5 16.7l1.5.5 1.3.2-1.5-.4z"/><path class="k16" d="M109.3 24.1l1.6.5 1.1-.3-1.6-.4z"/><path class="k15" d="M106.5 24l1.6.4 1.2-.3-1.6-.3z"/><path class="k16" d="M103.8 24.5l1.6-.1 1.1-.4-1.6 0z"/><path class="k19" d="M119.1 26.9l1.4 1 1.1 1.1-1.4-1.9z"/><path class="k11" d="M77.5 19.4l1.5 1.4 1.3.4-1.5-1.5z"/><path class="k16" d="M81.8 23.3l1.5 2.7 1.3 1.2-1.5-3z"/><path class="k40" d="M126 40.6l.8 4.9.8 10.8-.8-4.3z"/><path class="k17" d="M116.3 25.7l1.7.5 1.1.7-1.7-1.3z"/><path class="k10" d="M74.8 18.1l1.4 1 1.3.3-1.5-1.1z"/><path class="k16" d="M113.6 25l1.6.3 1.1.4-1.6-.9z"/><path class="k36" d="M125.2 38.7l.8 1.9.8 11.4-.6-6.8z"/><path class="k55" d="M128 54.4l.6 8.1 1 5.3-.9.7z"/><path class="k17" d="M99.8 27.2l1.6-1.2 1.2-.8-1.6.8z"/><path class="k9" d="M72 17.2l1.5.7 1.3.2-1.5-.7z"/><path class="k16" d="M110.9 24.6l1.6.1 1.1.3-1.6-.7z"/><path class="k13" d="M79 20.8l1.5 1.8 1.3.7-1.5-2.1z"/><path class="k16" d="M108.1 24.4l1.6.1 1.2.1-1.6-.5zM102.6 25.2l1.6-.4 1.2-.4-1.6.1z"/><path class="k6" d="M68.6 12.8l.2 3.7 1.7.2-.2-4z"/><path class="k15" d="M105.4 24.4l1.6 0 1.1 0-1.6-.4z"/><path class="k50" d="M127.3 48.8l.7 5.6.7 14.1-.7-4.7z"/><path class="k8" d="M68.8 16.5l1.5.4 1.7.3-1.5-.5z"/><path class="k25" d="M122.9 31.2l.8 3.1 1 .6-.8-1.9z"/><path class="k18" d="M118 26.2l1.4.7 1.1 1-1.4-1z"/><path class="k11" d="M76.2 19.1l1.5 1.3 1.3.4-1.5-1.4z"/><path class="k15" d="M80.5 22.6l1.6 2.4 1.2 1-1.5-2.7z"/><path class="k45" d="M126.5 46.4l.8 2.4.7 15-.6-9.4z"/><path class="k17" d="M115.2 25.3l1.6.8 1.2.1-1.7-.5z"/><path class="k18" d="M98.6 28.8l1.6-1.5 1.2-1.3-1.6 1.2z"/><path class="k9" d="M73.5 17.9l1.5 1 1.2.2-1.4-1z"/><path class="k16" d="M112.5 24.7l1.6.8 1.1-.2-1.6-.3z"/><path class="k19" d="M119.4 26.9l.8 1.2 1.1.1-.8-.3z"/><path class="k16" d="M109.7 24.5l1.6.6 1.2-.4-1.6-.1zM101.4 26l1.6-.4 1.2-.8-1.6.4z"/><path class="k15" d="M107 24.4l1.6.5 1.1-.4-1.6-.1z"/><path class="k16" d="M104.2 24.8l1.6.1 1.2-.5-1.6 0z"/><path class="k12" d="M77.7 20.4l1.6 1.7 1.2.5-1.5-1.8z"/><path class="k8" d="M70.3 16.9l1.5.7 1.7.3-1.5-.7z"/><path class="k20" d="M120.2 28.1l.8 1.3 1.1-.2-.8-1z"/><path class="k38" d="M125.7 43.5l.8 2.9.9 8-.6-8.9z"/><path class="k57" d="M128.5 57.5l.8 2.4.7 15.2-.8-2.6z"/><path class="k17" d="M116.8 26.1l1.5 1.2 1.1-.4-1.4-.7z"/><path class="k21" d="M121 29.4l.8 1 1.1.8-.8-2z"/><path class="k20" d="M97.5 30.5l1.5-1.8 1.2-1.4-1.6 1.5z"/><path class="k10" d="M75 18.9l1.5 1.2 1.2.3-1.5-1.3z"/><path class="k53" d="M127.7 56.5l.8 1 .7 15-.6-10z"/><path class="k59" d="M129.3 59.9l.7 6.6 1 2.8-1 5.8z"/><path class="k16" d="M114.1 25.5l1.6.7 1.1-.1-1.6-.8z"/><path class="k14" d="M79.3 22.1l1.5 1.9 1.3 1-1.6-2.4z"/><path class="k16" d="M111.3 25.1l1.6.4 1.2 0-1.6-.8z"/><path class="k17" d="M100.2 27.3l1.6-1 1.2-.7-1.6.4z"/><path class="k5" d="M65.8 13l.2 3.1 2.8.4-.2-3.7z"/><path class="k9" d="M71.8 17.6l1.5 1 1.7.3-1.5-1z"/><path class="k18" d="M118.3 27.3l.8.3 1.1.5-.8-1.2z"/><path class="k16" d="M108.6 24.9l1.6.2 1.1 0-1.6-.6zM103 25.6l1.6-.3 1.2-.4-1.6-.1z"/><path class="k15" d="M105.8 24.9l1.6.1 1.2-.1-1.6-.5z"/><path class="k7" d="M66 16.1l1.5.4 2.8.4-1.5-.4z"/><path class="k47" d="M127 50.7l.7 5.8.9 6-.6-8.1z"/><path class="k12" d="M76.5 20.1l1.5 1.5 1.3.5-1.6-1.7z"/><path class="k19" d="M119.1 27.6l.8.2 1.1 1.6-.8-1.3z"/><path class="k16" d="M80.8 24l1.5 2.3 1.3 1.3-1.5-2.6z"/><path class="k17" d="M115.7 26.2l1.5.2 1.1.9-1.5-1.2z"/><path class="k18" d="M99 28.7l1.6-1.2 1.2-1.2-1.6 1z"/><path class="k10" d="M73.3 18.6l1.5 1.2 1.7.3-1.5-1.2z"/><path class="k16" d="M112.9 25.5l1.7.3 1.1.4-1.6-.7zM110.2 25.1l1.6.4 1.1 0-1.6-.4z"/><path class="k13" d="M78 21.6l1.5 1.7 1.3.7-1.5-1.9z"/><path class="k16" d="M101.8 26.3l1.6-.4 1.2-.6-1.6.3z"/><path class="k7" d="M67.5 16.5l1.5.8 2.8.3-1.5-.7z"/><path class="k15" d="M107.4 25l1.6.3 1.2-.2-1.6-.2z"/><path class="k16" d="M104.6 25.3l1.6 0 1.2-.3-1.6-.1z"/><path class="k17" d="M117.2 26.4l.8.5 1.1.7-.8-.3z"/><path class="k21" d="M121.5 29.9l.8 2 1.1 0-.8-1z"/><path class="k60" d="M129.8 64.5l.9-.3.8 10.1-.9 1.1z"/><path class="k31" d="M124.8 35.9l.8 3.1.9 7.4-.8-2.9z"/><path class="k29" d="M124 34.5l.8 1.4.9 7.6-.7-4.4z"/><path class="k11" d="M74.8 19.8l1.5 1.4 1.7.4-1.5-1.5z"/><path class="k18" d="M118 26.9l.8 1 1.1-.1-.8-.2z"/><path class="k15" d="M79.5 23.3l1.5 2.1 1.3.9-1.5-2.3z"/><path class="k17" d="M114.6 25.8l1.4 1 1.2-.4-1.5-.2z"/><path class="k35" d="M134.5 50l.9-2.6 1.4-9.6-1 5.2z"/><path class="k8" d="M69 17.3l1.5 1 2.8.3-1.5-1z"/><path class="k16" d="M111.8 25.5l1.6.8 1.2-.5-1.7-.3z"/><path class="k52" d="M128.3 56.6l.7 6.6 1 3.3-.7-6.6z"/><path class="k17" d="M100.6 27.5l1.6-.7 1.2-.9-1.6.4z"/><path class="k18" d="M118.8 27.9l.8.9 1.1-.4-.8-.6z"/><path class="k16" d="M109 25.3l1.6.6 1.2-.4-1.6-.4z"/><path class="k15" d="M106.2 25.3l1.6.4 1.2-.4-1.6-.3z"/><path class="k16" d="M103.4 25.9l1.6 0 1.2-.6-1.6 0z"/><path class="k5" d="M62.9 13.2l.2 2.6 2.9.3-.2-3.1z"/><path class="k58" d="M130.7 64.2l.7 4.3 1.2-2.9-1.1 8.7z"/><path class="k17" d="M116 26.8l.8.5 1.2-.4-.8-.5z"/><path class="k19" d="M119.6 28.8l.8.6 1.1.5-.8-1.5z"/><path class="k12" d="M76.3 21.2l1.5 1.5 1.7.6-1.5-1.7z"/><path class="k6" d="M63.1 15.8l1.5.4 2.9.3-1.5-.4z"/><path class="k17" d="M116.8 27.3l.9.2 1.1.4-.8-1z"/><path class="k9" d="M70.5 18.3l1.5 1.2 2.8.3-1.5-1.2z"/><path class="k16" d="M113.4 26.3l1.5.2 1.1.3-1.4-1z"/><path class="k41" d="M126.9 43.1l.8 5.1.8 9.3-.8-1z"/><path class="k18" d="M99.4 28.8l1.6-1.1 1.2-.9-1.6.7z"/><path class="k38" d="M126.1 41.6l.8 1.5.8 13.4-.7-5.8z"/><path class="k16" d="M110.6 25.9l1.7.2 1.1.2-1.6-.8z"/><path class="k31" d="M135.4 47.4l1.1-5.2 1.2-5-.9.6z"/><path class="k14" d="M77.8 22.7l1.6 1.8 1.6.9-1.5-2.1z"/><path class="k16" d="M107.8 25.7l1.7.1 1.1.1-1.6-.6zM102.2 26.8l1.6-.5 1.2-.4-1.6 0zM105 25.9l1.7-.1 1.1-.1-1.6-.4z"/><path class="k34" d="M125.3 40.1l.8 1.5.9 9.1-.7-7.7z"/><path class="k17" d="M114.9 26.5l.8.2 1.1.6-.8-.5z"/><path class="k6" d="M64.6 16.2l1.5.8 2.9.3-1.5-.8z"/><path class="k29" d="M124.5 36.8l.8 3.3 1 2.9-.7-4z"/><path class="k10" d="M72 19.5l1.5 1.3 2.8.4-1.5-1.4z"/><path class="k19" d="M98.2 30.3l1.6-1.4 1.2-1.2-1.6 1.1z"/><path class="k17" d="M115.7 26.7l.8.4 1.2.4-.9-.2z"/><path class="k16" d="M112.3 26.1l1.4.4 1.2 0-1.5-.2z"/><path class="k17" d="M101 27.7l1.6-.7 1.2-.7-1.6.5z"/><path class="k16" d="M109.5 25.8l1.6.4 1.2-.1-1.7-.2z"/><path class="k15" d="M106.7 25.8l1.6.2 1.2-.2-1.7-.1z"/><path class="k16" d="M103.8 26.3l1.7-.1 1.2-.4-1.7.1z"/><path class="k7" d="M66.1 17l1.5 1 2.9.3-1.5-1z"/><path class="k11" d="M73.5 20.8l1.5 1.4 2.8.5-1.5-1.5z"/><path class="k17" d="M116.5 27.1l.9.3 1.1.2-.8-.1z"/><path class="k58" d="M131.2 69.3l1-4.9 1 4.2-1 3.4z"/><path class="k32" d="M135.3 45.8l.9-1.9 1.3-6.4-1 4.7z"/><path class="k19" d="M120.2 28.8l.8.7 1.1.9-.8-.8z"/><path class="k46" d="M128.3 47.8l.7 5.4.8 11.3-.8-1.3z"/><path class="k16" d="M113.7 26.5l.9.2 1.1 0-.8-.2z"/><path class="k4" d="M60 13.5l.2 2 2.9.3-.2-2.6z"/><path class="k43" d="M127.5 46.8l.8 1 .7 15.4-.7-6.6z"/><path class="k20" d="M121 29.5l.8 1.7 1.1.6-.8-1.4z"/><path class="k17" d="M117.4 27.4l.8.5 1.1.3-.8-.6z"/><path class="k5" d="M60.2 15.5l1.5.5 2.9.2-1.5-.4z"/><path class="k38" d="M126.7 44.4l.8 2.4.8 9.8-.6-8.4z"/><path class="k17" d="M99.8 28.9l1.6-1 1.2-.9-1.6.7z"/><path class="k16" d="M111.1 26.2l1.5.3 1.1 0-1.4-.4zM114.6 26.7l.8.3 1.1.1-.8-.4z"/><path class="k13" d="M75 22.2l1.6 1.4 2.8.9-1.6-1.8z"/><path class="k8" d="M67.6 18l1.5 1.2 2.9.3-1.5-1.2z"/><path class="k15" d="M108.3 26l1.6.3 1.2-.1-1.6-.4z"/><path class="k16" d="M102.6 27l1.7-.3 1.2-.5-1.7.1z"/><path class="k15" d="M105.5 26.2l1.6.1 1.2-.3-1.6-.2z"/><path class="k18" d="M118.2 27.9l.8.8 1.2.1-.9-.6z"/><path class="k33" d="M125.9 40.4l.8 4 1 3.8-.8-5.1z"/><path class="k29" d="M136.2 43.9l.9-1.4 1.3-7.3-.9 2.3z"/><path class="k27" d="M124.3 33.9l.8 2 1 5.7-.8-1.5z"/><path class="k17" d="M115.4 27l.8.6 1.2-.2-.9-.3z"/><path class="k18" d="M119 28.7l.9.9 1.1-.1-.8-.7z"/><path class="k16" d="M112.6 26.5l.8.4 1.2-.2-.9-.2z"/><path class="k14" d="M76.6 23.6l1.5 1.5 2.8 1.3-1.5-1.9z"/><path class="k6" d="M61.7 16l1.5.7 2.9.3-1.5-.8z"/><path class="k17" d="M116.2 27.6l.9.6 1.1-.3-.8-.5z"/><path class="k19" d="M119.9 29.6l.8.4 1.1 1.2-.8-1.7z"/><path class="k9" d="M69.1 19.2l1.5 1.3 2.9.3-1.5-1.3z"/><path class="k23" d="M138.4 35.2l.9-.5 1.2-3.5-1 2.3z"/><path class="k16" d="M109.9 26.3l1.5.6 1.2-.4-1.5-.3z"/><path class="k51" d="M129.7 53.5l.7 4.7.8 11.1-.9.6z"/><path class="k16" d="M113.4 26.9l.8.5 1.2-.4-.8-.3zM101.4 27.9l1.7-.4 1.2-.8-1.7.3z"/><path class="k48" d="M128.8 51.8l.9 1.7.6 16.4-.7-6.4z"/><path class="k15" d="M107.1 26.3l1.7.5 1.1-.5-1.6-.3z"/><path class="k16" d="M104.3 26.7l1.6.2 1.2-.6-1.6-.1z"/><path class="k53" d="M130.4 58.2l.7 8.5 1.1-2.3-1 4.9z"/><path class="k27" d="M137.1 42.5l1-3.6 1.2-4.2-.9.5z"/><path class="k17" d="M117.1 28.2l.8.3 1.1.2-.8-.8z"/><path class="k16" d="M114.2 27.4l.9.2 1.1 0-.8-.6z"/><path class="k43" d="M128 49.6l.8 2.2.8 11.7-.6-10.3z"/><path class="k31" d="M136 45.9l1-4.7 1.1-2.3-1 3.6z"/><path class="k16" d="M111.4 26.9l.8.3 1.2-.3-.8-.4z"/><path class="k6" d="M63.2 16.7l1.5 1 2.9.3-1.5-1z"/><path class="k22" d="M139.3 34.7l.9-.7 1.2-3.4-.9.6z"/><path class="k10" d="M70.6 20.5l1.6 1.3 2.8.4-1.5-1.4z"/><path class="k4" d="M57 13.8l.2 1.6 3 .1-.2-2z"/><path class="k17" d="M115.1 27.6l.8.1 1.2.5-.9-.6zM100.2 29.2l1.6-.9 1.3-.8-1.7.4z"/><path class="k16" d="M108.8 26.8l1.4.1 1.2 0-1.5-.6z"/><path class="k37" d="M127.3 44.1l.7 5.5 1 3.6-.7-5.4z"/><path class="k16" d="M112.2 27.2l.9-.1 1.1.3-.8-.5zM103.1 27.5l1.6-.2 1.2-.4-1.6-.2z"/><path class="k24" d="M138.1 38.9l1-3.5 1.1-1.4-.9.7z"/><path class="k15" d="M105.9 26.9l1.7 0 1.2-.1-1.7-.5z"/><path class="k5" d="M57.2 15.4l1.5.4 3 .2-1.5-.5z"/><path class="k28" d="M124.9 35.9l.8.7 1 7.8-.8-4z"/><path class="k21" d="M140.2 34l1-1.8 1.1-1.6-.9 0z"/><path class="k30" d="M125.7 36.6l.8 2.5 1 7.7-.8-2.4z"/><path class="k33" d="M126.5 39.1l.8 5 1 3.7-.8-1z"/><path class="k11" d="M72.2 21.8l1.5 1.3 2.9.5-1.6-1.4z"/><path class="k7" d="M64.7 17.7l1.5 1.2 2.9.3-1.5-1.2z"/><path class="k34" d="M135.6 52.9l1-5.2 1.3-7.5-.9 1z"/><path class="k18" d="M119.6 28.8l.8 1 1.2.4-.9-.2z"/><path class="k27" d="M137 41.2l.9-1 1.2-4.8-1 3.5z"/><path class="k52" d="M130.2 59.3l.8-.3.7 14.7-.6-7z"/><path class="k19" d="M120.4 29.8l.9 1.1 1.1 0-.8-.7z"/><path class="k16" d="M113.9 27.3l.8.4 1.2 0-.8-.1z"/><path class="k15" d="M107.6 26.9l1.4.2 1.2-.2-1.4-.1z"/><path class="k54" d="M131 59l.8 3.3.9 7-1 4.4z"/><path class="k16" d="M101.8 28.3l1.7-.5 1.2-.5-1.6.2z"/><path class="k5" d="M58.7 15.8l1.5.7 3 .2-1.5-.7z"/><path class="k16" d="M104.7 27.3l1.7-.1 1.2-.3-1.7 0zM111 27l.9.2 1.2-.1-.9.1z"/><path class="k13" d="M73.7 23.1l1.6 1.3 2.8.7-1.5-1.5z"/><path class="k47" d="M129.4 54.6l.8 4.7.9 7.4-.7-8.5z"/><path class="k8" d="M66.2 18.9l1.5 1.3 2.9.3-1.5-1.3z"/><path class="k17" d="M117.6 28.4l.8.7 1.2-.3-.9-.4z"/><path class="k16" d="M114.7 27.7l.9.5 1.1-.4-.8-.1z"/><path class="k25" d="M137.9 40.2l.9-1.3 1.3-5.4-1 1.9z"/><path class="k19" d="M142.1 30.8l1-.5 1-.4-.9.7z"/><path class="k30" d="M136.6 47.7l1.1-5.8 1.1-3-.9 1.3z"/><path class="k16" d="M111.9 27.2l.8.4 1.2-.3-.8-.2z"/><path class="k18" d="M118.4 29.1l.9.3 1.1.4-.8-1z"/><path class="k15" d="M109 27.1l.9.3 1.1-.4-.8-.1z"/><path class="k35" d="M135.4 50.6l1-1.2 1.3-7.5-1.1 5.8z"/><path class="k21" d="M140.1 33.5l.9-.3 1.1-2.4-.9 1.4z"/><path class="k16" d="M115.6 28.2l.8.3 1.2-.1-.9-.6z"/><path class="k6" d="M60.2 16.5l1.5 1 3 .2-1.5-1z"/><path class="k17" d="M100.6 29.3l1.7-.6 1.2-.9-1.7.5z"/><path class="k9" d="M67.7 20.2l1.6 1.3 2.9.3-1.6-1.3z"/><path class="k3" d="M54 14.1l.2 1.2 3 .1-.2-1.6z"/><path class="k15" d="M106.4 27.2l1.4.3 1.2-.4-1.4-.2z"/><path class="k16" d="M112.7 27.6l.9.3 1.1-.2-.8-.4z"/><path class="k18" d="M143.1 30.3l.8.4 1.1-1.3-.9.5z"/><path class="k16" d="M103.5 27.8l1.6 0 1.3-.6-1.7.1z"/><path class="k36" d="M127.9 42.5l.8 5 1 6-.9-1.7z"/><path class="k31" d="M126.3 39.1l.8.5.9 10-.7-5.5z"/><path class="k34" d="M127.1 39.6l.8 2.9.9 9.3-.8-2.2z"/><path class="k16" d="M109.9 27.4l.8.2 1.2-.4-.9-.2z"/><path class="k28" d="M125.4 37.5l.9 1.6 1 5-.8-5z"/><path class="k24" d="M138.8 38.9l1-2.3 1.2-3.4-.9.3z"/><path class="k17" d="M116.4 28.5l.9-.1 1.1.7-.8-.7z"/><path class="k20" d="M141 33.2l.9-.3 1.2-2.6-1 .5z"/><path class="k4" d="M54.2 15.3l1.5.4 3 .1-1.5-.4z"/><path class="k16" d="M113.6 27.9l.8 0 1.2.3-.9-.5z"/><path class="k18" d="M143.9 30.7l.9.3 1.1-1.1-.9-.5z"/><path class="k16" d="M110.7 27.6l.8 0 1.2 0-.8-.4z"/><path class="k56" d="M131.6 64.3l.9 0 .7 11-.7-4.1z"/><path class="k15" d="M107.8 27.5l.9 0 1.2-.1-.9-.3z"/><path class="k6" d="M61.7 17.5l1.5 1.1 3 .3-1.5-1.2z"/><path class="k10" d="M69.3 21.5l1.5 1.2 2.9.4-1.5-1.3z"/><path class="k32" d="M136.4 49.4l.9-1.7 1.4-9.6-1 3.8z"/><path class="k19" d="M141.9 32.9l.9-1 1.1-1.2-.8-.4z"/><path class="k51" d="M130.8 60.4l.8 3.9.9 6.9-.7-8.9z"/><path class="k19" d="M144.8 31l1 .2 1-.3-.9-1z"/><path class="k22" d="M139.8 36.6l1-2.8 1.1-.9-.9.3z"/><path class="k16" d="M105.1 27.8l1.5-.1 1.2-.2-1.4-.3zM102.3 28.7l1.6-.5 1.2-.4-1.6 0zM111.5 27.6l.9.1 1.2.2-.9-.3z"/><path class="k55" d="M132.5 64.3l.8 1.8 1 3.7-1.1 5.5z"/><path class="k15" d="M108.7 27.5l.8 0 1.2.1-.8-.2z"/><path class="k20" d="M121.8 30.9l.9 1.4 1.1.2-.8-1z"/><path class="k17" d="M118.1 28.6l.9.6 1.1.3-.8-.1z"/><path class="k4" d="M55.7 15.7l1.5.7 3 .1-1.5-.7z"/><path class="k19" d="M145.8 31.2l.9.2 1 .6-.9-1.1z"/><path class="k16" d="M115.3 28l.8.4 1.2 0-.9.1z"/><path class="k19" d="M142.8 31.9l1-.7 1-.2-.9-.3z"/><path class="k7" d="M63.2 18.6l1.6 1.2 2.9.4-1.5-1.3z"/><path class="k16" d="M112.4 27.7l.8.2 1.2 0-.8 0z"/><path class="k24" d="M138.7 38.1l.9.3 1.2-4.6-1 2.8z"/><path class="k17" d="M119 29.2l.8.9 1.2-.3-.9-.3z"/><path class="k15" d="M109.5 27.5l.8.2 1.2-.1-.8 0z"/><path class="k20" d="M146.7 31.4l.8 1.6 1.1.1-.9-1.1z"/><path class="k15" d="M106.6 27.7l.8 0 1.3-.2-.9 0z"/><path class="k29" d="M137.3 47.7l1.1-4.5 1.2-4.8-.9-.3z"/><path class="k38" d="M128.5 44.6l.9 1.3.8 13.4-.8-4.7z"/><path class="k41" d="M129.4 45.9l.7 5.5.9 7.6-.8.3z"/><path class="k16" d="M116.1 28.4l.9.6 1.1-.4-.8-.2z"/><path class="k19" d="M143.8 31.2l.9.7 1.1-.7-1-.2z"/><path class="k35" d="M127.7 43.4l.8 1.2.9 10-.7-7.1z"/><path class="k17" d="M101 29.6l1.7-.5 1.2-.9-1.6.5z"/><path class="k21" d="M147.5 33l.9 1.2 1 .3-.8-1.4z"/><path class="k16" d="M103.9 28.2l1.5 0 1.2-.5-1.5.1z"/><path class="k18" d="M119.8 30.1l.9.5 1.1.3-.8-1.1z"/><path class="k16" d="M113.2 27.9l.9.5 1.2-.4-.9-.1z"/><path class="k15" d="M110.3 27.7l.9.3 1.2-.3-.9-.1z"/><path class="k5" d="M57.2 16.4l1.5.9 3 .2-1.5-1z"/><path class="k41" d="M135.6 63.4l1-5.3 1.4-10.7-.9.3z"/><path class="k30" d="M126.9 39.9l.8 3.5 1 4.1-.8-5z"/><path class="k23" d="M148.4 34.2l.9 1.4.9 1.2-.8-2.3z"/><path class="k15" d="M107.4 27.7l.9.2 1.2-.4-.8 0z"/><path class="k25" d="M125.3 34.3l.8 2.5 1 2.8-.8-.5z"/><path class="k3" d="M50.9 14.5l.2.9 3.1-.1-.2-1.2z"/><path class="k8" d="M64.8 19.8l1.5 1.3 3 .4-1.6-1.3z"/><path class="k17" d="M117 29l.8.3 1.2-.1-.9-.6z"/><path class="k23" d="M139.6 38.4l.9-1.4 1.3-4.4-1 1.2z"/><path class="k20" d="M141.8 32.6l.8.8 1.2-2.2-1 .7z"/><path class="k25" d="M149.3 35.6l.8 2 1 1.2-.9-2z"/><path class="k19" d="M144.7 31.9l.9.5 1.1-1-.9-.2z"/><path class="k16" d="M114.1 28.4l.8.3 1.2-.3-.8-.4z"/><path class="k27" d="M150.1 37.6l.8 2.5 1 .9-.8-2.2z"/><path class="k29" d="M150.9 40.1l.9 2.3 1 1.1-.9-2.5z"/><path class="k16" d="M111.2 28l.8.3 1.2-.4-.8-.2z"/><path class="k31" d="M151.8 42.4l.8 2.1 1 1.3-.8-2.3z"/><path class="k15" d="M108.3 27.9l.8.2 1.2-.4-.8-.2z"/><path class="k3" d="M51.1 15.4l1.5.3 3.1 0-1.5-.4z"/><path class="k26" d="M138.4 43.2l1-4.3 1.1-1.9-.9 1.4z"/><path class="k15" d="M105.4 28.2l.8.1 1.2-.6-.8 0z"/><path class="k58" d="M133 70.5l1-2.8.8 7.6-.8-1.3z"/><path class="k20" d="M145.6 32.4l.9.3 1 .3-.8-1.6z"/><path class="k33" d="M152.6 44.5l.9 1.9 1 1.1-.9-1.7z"/><path class="k20" d="M142.6 33.4l1-.5 1.1-1-.9-.7z"/><path class="k31" d="M137.1 47.7l.9-.3 1.4-8.5-1 4.3z"/><path class="k16" d="M114.9 28.7l.9 0 1.2.3-.9-.6zM102.7 29.1l1.4-.3 1.3-.6-1.5 0z"/><path class="k22" d="M140.5 37l1-2.3 1.1-1.3-.8-.8z"/><path class="k6" d="M58.7 17.3l1.5 1 3 .3-1.5-1.1z"/><path class="k34" d="M153.5 46.4l.8 1.8 1 .2-.8-.9z"/><path class="k16" d="M112 28.3l.9.1 1.2 0-.9-.5z"/><path class="k9" d="M66.3 21.1l1.6 1.1 2.9.5-1.5-1.2z"/><path class="k21" d="M146.5 32.7l.9.9 1 .6-.9-1.2z"/><path class="k15" d="M109.1 28.1l.9.1 1.2-.2-.9-.3z"/><path class="k17" d="M118.7 29.4l.8.1 1.2 1.1-.9-.5z"/><path class="k15" d="M106.2 28.3l.9 0 1.2-.4-.9-.2z"/><path class="k20" d="M143.6 32.9l.9-.4 1.1-.1-.9-.5z"/><path class="k35" d="M154.3 48.2l.9 1.2 1.1-.8-1-.2z"/><path class="k22" d="M147.4 33.6l.8 1.7 1.1.3-.9-1.4z"/><path class="k37" d="M136.6 58.1l1.2-8.1 1.2-4.3-1 1.7z"/><path class="k16" d="M112.9 28.4l.8 0 1.2.3-.8-.3z"/><path class="k45" d="M130.8 50.1l.8 6.7.9 7.5-.9 0z"/><path class="k23" d="M148.2 35.3l.9 1.9 1 .4-.8-2z"/><path class="k24" d="M139.4 38.9l.9-.8 1.2-3.4-1 2.3z"/><path class="k42" d="M130 48.2l.8 1.9.8 14.2-.8-3.9z"/><path class="k4" d="M52.6 15.7l1.5.6 3.1.1-1.5-.7z"/><path class="k15" d="M110 28.2l.8 0 1.2.1-.8-.3z"/><path class="k21" d="M141.5 34.7l1-.8 1.1-1-1 .5z"/><path class="k55" d="M134 67.7l.8 1.3 1.2-1.7-1.2 8z"/><path class="k16" d="M104.1 28.8l.9-.2 1.2-.3-.8-.1z"/><path class="k15" d="M107.1 28.3l.8-.1 1.2-.1-.8-.2z"/><path class="k29" d="M138 47.4l1-1.7 1.3-7.6-.9.8z"/><path class="k25" d="M149.1 37.2l.8 1.8 1 1.1-.8-2.5z"/><path class="k20" d="M144.5 32.5l.9.6 1.1-.4-.9-.3z"/><path class="k38" d="M129.1 47.1l.9 1.1.8 12.2-.7-9z"/><path class="k7" d="M60.2 18.3l1.6 1.1 3 .4-1.6-1.2z"/><path class="k35" d="M155.2 49.4l1 .1 1-1.2-.9.3z"/><path class="k27" d="M149.9 39l.9 1.8 1 1.6-.9-2.3z"/><path class="k16" d="M116.6 28.8l.9.4 1.2.2-.9-.1zM101.4 30l1.5-.6 1.2-.6-1.4.3z"/><path class="k29" d="M150.8 40.8l.8 2.3 1 1.4-.8-2.1z"/><path class="k16" d="M113.7 28.4l.9.3 1.2 0-.9 0z"/><path class="k26" d="M125.8 36.5l.9.2 1 6.7-.8-3.5z"/><path class="k18" d="M120.4 30.2l.9.5 1.1.3-.8-.5z"/><path class="k31" d="M151.6 43.1l.9 2.4 1 .9-.9-1.9z"/><path class="k20" d="M145.4 33.1l.9 1.3 1.1-.8-.9-.9z"/><path class="k33" d="M128.3 42.7l.8 4.4 1 4.3-.7-5.5z"/><path class="k16" d="M105 28.6l.8 0 1.3-.3-.9 0z"/><path class="k20" d="M142.5 33.9l.9.5 1.1-1.9-.9.4z"/><path class="k27" d="M126.7 36.7l.8 1.9 1 6-.8-1.2z"/><path class="k33" d="M152.5 45.5l.8 2.1 1 .6-.8-1.8z"/><path class="k23" d="M140.3 38.1l.9 0 1.3-4.2-1 .8z"/><path class="k40" d="M136.4 60.6l.9-.8 1.5-13.5-1 3.7z"/><path class="k16" d="M117.5 29.2l.9.4 1.1-.1-.8-.1z"/><path class="k29" d="M127.5 38.6l.8 4.1 1.1 3.2-.9-1.3z"/><path class="k18" d="M121.3 30.7l.8.9 1.2.6-.9-1.2z"/><path class="k22" d="M146.3 34.4l.9 1.1 1-.2-.8-1.7z"/><path class="k3" d="M47.8 14.9l.2.6 3.1-.1-.2-.9z"/><path class="k35" d="M153.3 47.6l.9 1.4 1 .4-.9-1.2z"/><path class="k4" d="M54.1 16.3l1.5.8 3.1.2-1.5-.9z"/><path class="k16" d="M114.6 28.7l.9.3 1.1-.2-.8-.1z"/><path class="k27" d="M139 45.7l1-3.7 1.2-3.9-.9 0z"/><path class="k15" d="M111.7 28.4l.8.2 1.2-.2-.8 0z"/><path class="k7" d="M61.8 19.4l1.5 1.1 3 .6-1.5-1.3z"/><path class="k16" d="M102.9 29.4l.8-.1 1.3-.7-.9.2z"/><path class="k21" d="M143.4 34.4l.9.7 1.1-2-.9-.6z"/><path class="k15" d="M108.8 28.3l.8.2 1.2-.3-.8 0z"/><path class="k32" d="M137.8 50l1-3.7 1.2-4.3-1 3.7z"/><path class="k23" d="M147.2 35.5l.9 1 1 .7-.9-1.9z"/><path class="k15" d="M105.8 28.6l.9.1 1.2-.5-.8.1z"/><path class="k17" d="M118.4 29.6l.8.4 1.2.2-.9-.7z"/><path class="k35" d="M154.2 49l.9.8 1.1-.3-1-.1z"/><path class="k23" d="M141.2 38.1l1-.7 1.2-3-.9-.5z"/><path class="k3" d="M48 15.5l1.5.3 3.1-.1-1.5-.3z"/><path class="k24" d="M148.1 36.5l.8 1.4 1 1.1-.8-1.8z"/><path class="k16" d="M115.5 29l.8.3 1.2-.1-.9-.4z"/><path class="k21" d="M144.3 35.1l.9-.1 1.1-.6-.9-1.3z"/><path class="k15" d="M112.5 28.6l.9.3 1.2-.2-.9-.3z"/><path class="k26" d="M148.9 37.9l.9 2.1 1 .8-.9-1.8z"/><path class="k58" d="M134.4 74.7l1-3.1 1.1 2-.9-.1z"/><path class="k15" d="M109.6 28.5l.9.2 1.2-.3-.9-.2z"/><path class="k17" d="M119.2 30l.9.7 1.2 0-.9-.5z"/><path class="k16" d="M103.7 29.3l.9-.1 1.2-.6-.8 0z"/><path class="k15" d="M106.7 28.7l.8 0 1.3-.4-.9-.1z"/><path class="k37" d="M137.3 59.8l1-4.6 1.4-9.4-.9.5z"/><path class="k46" d="M131.4 53.2l.9 1.4.7 15.9-.8-4z"/><path class="k28" d="M149.8 40l.8 2.3 1 .8-.8-2.3z"/><path class="k5" d="M55.6 17.1l1.5.8 3.1.4-1.5-1z"/><path class="k25" d="M140 42l1.1-3.1 1.1-1.5-1 .7z"/><path class="k49" d="M132.3 54.6l.7 6.8 1 6.3-1 2.8z"/><path class="k30" d="M150.6 42.3l.9 2 1 1.2-.9-2.4z"/><path class="k16" d="M116.3 29.3l.9.4 1.2-.1-.9-.4z"/><path class="k22" d="M142.2 37.4l1-1.5 1.1-.8-.9-.7z"/><path class="k8" d="M63.3 20.5l1.6 1 3 .7-1.6-1.1z"/><path class="k22" d="M145.2 35l.9.3 1.1.2-.9-1.1z"/><path class="k42" d="M130.6 51.2l.8 2 .8 13.3-.6-9.7z"/><path class="k32" d="M151.5 44.3l.9 1.8.9 1.5-.8-2.1z"/><path class="k16" d="M113.4 28.9l.9.2 1.2-.1-.9-.3z"/><path class="k18" d="M120.1 30.7l.9.3 1.1.6-.8-.9z"/><path class="k15" d="M110.5 28.7l.8.1 1.2-.2-.8-.2z"/><path class="k29" d="M138.8 46.3l.9-.5 1.4-6.9-1.1 3.1z"/><path class="k15" d="M107.5 28.7l.9.1 1.2-.3-.8-.2z"/><path class="k16" d="M104.6 29.2l.8-.1 1.3-.4-.9-.1z"/><path class="k33" d="M152.4 46.1l.8 2 1 .9-.9-1.4z"/><path class="k22" d="M146.1 35.3l.9 1.1 1.1.1-.9-1z"/><path class="k16" d="M117.2 29.7l.8.4 1.2-.1-.8-.4z"/><path class="k3" d="M49.5 15.8l1.5.5 3.1 0-1.5-.6z"/><path class="k22" d="M143.2 35.9l.9-.2 1.1-.7-.9.1z"/><path class="k35" d="M153.2 48.1l.9 1.6 1 .1-.9-.8z"/><path class="k16" d="M114.3 29.1l.8.4 1.2-.2-.8-.3z"/><path class="k37" d="M129.8 46.5l.8 4.7 1 5.6-.8-6.7z"/><path class="k23" d="M147 36.4l.9 1.7 1-.2-.8-1.4z"/><path class="k15" d="M111.3 28.8l.9.4 1.2-.3-.9-.3z"/><path class="k24" d="M141.1 38.9l.9-.4 1.2-2.6-1 1.5z"/><path class="k28" d="M127.3 38.6l.9.3.9 8.2-.8-4.4z"/><path class="k6" d="M57.1 17.9l1.6 1 3.1.5-1.6-1.1z"/><path class="k15" d="M108.4 28.8l.8.2 1.3-.3-.9-.2zM105.4 29.1l.9 0 1.2-.4-.8 0z"/><path class="k25" d="M147.9 38.1l.9 1.6 1 .3-.9-2.1z"/><path class="k30" d="M128.2 38.9l.8 2.2 1 7.1-.9-1.1z"/><path class="k34" d="M138.3 55.2l1.2-6.8 1.2-3.3-1 .7z"/><path class="k28" d="M139.7 45.8l1-.7 1.3-6.6-.9.4z"/><path class="k48" d="M136.5 73.6l1.2-9.7 1.3-6.2-.9-.1z"/><path class="k22" d="M144.1 35.7l.9 1 1.1-1.4-.9-.3z"/><path class="k16" d="M115.1 29.5l.9.2 1.2 0-.9-.4z"/><path class="k27" d="M148.8 39.7l.8 1.3 1 1.3-.8-2.3z"/><path class="k16" d="M112.2 29.2l.8.2 1.3-.3-.9-.2z"/><path class="k15" d="M109.2 29l.9.2 1.2-.4-.8-.1z"/><path class="k16" d="M103.3 29.8l.9-.1 1.2-.6-.8.1z"/><path class="k28" d="M149.6 41l.9 1.8 1 1.5-.9-2z"/><path class="k23" d="M142 38.5l.9.7 1.2-3.5-.9.2z"/><path class="k2" d="M44.6 15.3l.2.4 3.2-.2-.2-.6z"/><path class="k15" d="M106.3 29.1l.8.2 1.3-.5-.9-.1z"/><path class="k17" d="M118.9 30.1l.9.2 1.2.7-.9-.3z"/><path class="k4" d="M51 16.3l1.5.6 3.1.2-1.5-.8z"/><path class="k23" d="M145 36.7l.9 1 1.1-1.3-.9-1.1z"/><path class="k30" d="M150.5 42.8l.9 2.3 1 1-.9-1.8z"/><path class="k51" d="M132.8 60.2l1-.4.6 14.9-.8-2.6z"/><path class="k32" d="M151.4 45.1l.8 2.1 1 .9-.8-2z"/><path class="k6" d="M58.7 18.9l1.5.9 3.1.7-1.5-1.1z"/><path class="k16" d="M113 29.4l.9 0 1.2.1-.8-.4z"/><path class="k27" d="M140.7 45.1l1-3.1 1.2-2.8-.9-.7z"/><path class="k23" d="M145.9 37.7l.9.5 1.1-.1-.9-1.7z"/><path class="k15" d="M110.1 29.2l.9.1 1.2-.1-.9-.4z"/><path class="k20" d="M123.6 32.9l.9 1.1 1.1.9-.9-1.8z"/><path class="k23" d="M142.9 39.2l.9-.4 1.2-2.1-.9-1z"/><path class="k34" d="M152.2 47.2l.9 2 1 .5-.9-1.6z"/><path class="k47" d="M132 56.5l.8 3.7.8 11.9-.6-10.7z"/><path class="k16" d="M104.2 29.7l.8 0 1.3-.6-.9 0z"/><path class="k61" d="M135.9 79.6l1.1-4.8 1.1 1.3-1 1.1z"/><path class="k17" d="M119.8 30.3l.9.7 1.2.1-.9-.1z"/><path class="k15" d="M107.1 29.3l.9.1 1.2-.4-.8-.2z"/><path class="k3" d="M44.8 15.7l1.5.3 3.2-.2-1.5-.3z"/><path class="k52" d="M133.8 59.8l.7 5.4.9 6.4-1 3.1z"/><path class="k37" d="M138.1 57.6l.9.1 1.5-12.2-1 2.9z"/><path class="k16" d="M116.9 29.7l.8.3 1.2.1-.9 0z"/><path class="k24" d="M146.8 38.2l.9.6 1.1.9-.9-1.6z"/><path class="k31" d="M139.5 48.4l1-2.9 1.2-3.5-1 3.1z"/><path class="k53" d="M137.1 77.2l1-1.1 1.5-13.9-.9-2z"/><path class="k17" d="M120.7 31l.8.8 1.2-.2-.8-.5z"/><path class="k23" d="M143.8 38.8l1-.7 1.1-.4-.9-1z"/><path class="k4" d="M52.5 16.9l1.5.7 3.1.3-1.5-.8z"/><path class="k15" d="M108 29.4l.9-.1 1.2-.1-.9-.2z"/><path class="k16" d="M105 29.7l.9 0 1.2-.4-.8-.2z"/><path class="k25" d="M147.7 38.8l.9 1.6 1 .6-.8-1.3zM141.7 42l1-2 1.1-1.2-.9.4z"/><path class="k43" d="M137.7 63.9l1-3.7 1.5-9.3-1.2 6.8z"/><path class="k16" d="M117.7 30l.9.6 1.2-.3-.9-.2z"/><path class="k7" d="M60.2 19.8l1.6.9 3.1.8-1.6-1z"/><path class="k40" d="M131.3 50.2l.7 6.3 1 4.9-.7-6.8z"/><path class="k27" d="M148.6 40.4l.9 1.5 1 .9-.9-1.8z"/><path class="k18" d="M121.5 31.8l.9.3 1.2.8-.9-1.3z"/><path class="k16" d="M114.8 29.5l.9.4 1.2-.2-.9 0z"/><path class="k10" d="M68 23.1l1.6.4 3 1-1.6-.5z"/><path class="k23" d="M126.2 34.6l.9 2 1.1 2.3-.9-.3z"/><path class="k15" d="M111.8 29.3l.9.2 1.2-.1-.9 0z"/><path class="k24" d="M144.8 38.1l.9.1 1.1 0-.9-.5z"/><path class="k29" d="M149.5 41.9l.9 2.3 1 .9-.9-2.3z"/><path class="k3" d="M46.3 16l1.5.4 3.2-.1-1.5-.5z"/><path class="k15" d="M108.9 29.3l.8.1 1.3-.1-.9-.1z"/><path class="k30" d="M128.8 41.4l.9.4.9 9.4-.8-4.7z"/><path class="k15" d="M105.9 29.7l.9-.1 1.2-.2-.9-.1z"/><path class="k27" d="M127.9 39.6l.9 1.8 1 5.1-.8-5.4z"/><path class="k35" d="M139 57.7l1.2-6.8 1.2-5.1-.9-.3z"/><path class="k31" d="M150.4 44.2l.8 2.2 1 .8-.8-2.1z"/><path class="k35" d="M130.5 44.5l.8 5.7 1 4.4-.9-1.4z"/><path class="k33" d="M129.7 41.8l.8 2.7.9 8.7-.8-2z"/><path class="k17" d="M118.6 30.6l.9.5 1.2-.1-.9-.7z"/><path class="k28" d="M140.5 45.5l.9.3 1.3-5.8-1 2z"/><path class="k33" d="M151.2 46.4l.9 1.6 1 1.2-.9-2z"/><path class="k16" d="M115.7 29.9l.8.5 1.2-.4-.8-.3z"/><path class="k25" d="M142.7 40l.9 0 1.2-1.9-1 .7z"/><path class="k50" d="M138.1 76.1l1.2-9.1 1.3-6.5-1 1.7z"/><path class="k24" d="M145.7 38.2l.9 1.4 1.1-.8-.9-.6z"/><path class="k5" d="M54 17.6l1.5.8 3.2.5-1.6-1z"/><path class="k15" d="M112.7 29.5l.9.4 1.2-.4-.9-.1zM109.7 29.4l.9.3 1.2-.4-.8 0zM106.8 29.6l.8.1 1.3-.4-.9.1z"/><path class="k16" d="M103.4 30.5l.9-.1 1.6-.7-.9 0z"/><path class="k25" d="M146.6 39.6l1 .4 1 .4-.9-1.6z"/><path class="k40" d="M138.7 60.2l.9 2 1.6-13.6-1 2.3z"/><path class="k54" d="M134.4 63.7l.9-.5.6 16.4-.8-3.4z"/><path class="k16" d="M116.5 30.4l.9.1 1.2.1-.9-.6z"/><path class="k2" d="M41.4 15.8l.2.2 3.2-.3-.2-.4z"/><path class="k24" d="M143.6 40l1 .9 1.1-2.7-.9-.1z"/><path class="k10" d="M69.6 23.5l1.6.4 3 1.1-1.6-.5z"/><path class="k27" d="M141.4 45.8l1-2.2 1.2-3.6-.9 0z"/><path class="k16" d="M113.6 29.9l.8.3 1.3-.3-.9-.4z"/><path class="k55" d="M137.9 75.9l.7 6.8 1.7-18.4-1 2.7z"/><path class="k3" d="M47.8 16.4l1.5.5 3.2 0-1.5-.6z"/><path class="k26" d="M147.6 40l.8 1.9 1.1 0-.9-1.5z"/><path class="k15" d="M110.6 29.7l.9.3 1.2-.5-.9-.2z"/><path class="k17" d="M120.4 31.1l.9.1 1.1.9-.9-.3z"/><path class="k63" d="M137.5 82.7l1.1-5.1 1 3.1-1 2z"/><path class="k15" d="M107.6 29.7l.9.2 1.2-.5-.8-.1z"/><path class="k49" d="M133.6 59.2l.8 4.5.7 12.5-.6-11z"/><path class="k32" d="M140.2 50.9l1-2.3 1.2-5-1 2.2z"/><path class="k54" d="M135.3 63.2l.8 4.8.9 6.8-1.1 4.8z"/><path class="k28" d="M148.4 41.9l.9 1.9 1.1.4-.9-2.3z"/><path class="k16" d="M104.3 30.4l.8.1 1.7-.9-.9.1z"/><path class="k56" d="M138.6 82.7l1-2 1.6-14.3-.9-2.1z"/><path class="k39" d="M139.6 62.2l1-1.7 1.5-10.6-.9-1.3z"/><path class="k5" d="M55.5 18.4l1.6.7 3.1.7-1.5-.9z"/><path class="k25" d="M144.6 40.9l.9-1.1 1.1-.2-.9-1.4z"/><path class="k2" d="M41.6 16l1.4.3 3.3-.3-1.5-.3z"/><path class="k30" d="M149.3 43.8l.9 1.2 1 1.4-.8-2.2z"/><path class="k16" d="M114.4 30.2l.9 0 1.2.2-.8-.5z"/><path class="k8" d="M63.3 21.5l1.6.6 3.1 1-1.6-.7z"/><path class="k15" d="M111.5 30l.8 0 1.3-.1-.9-.4z"/><path class="k17" d="M121.3 31.2l.8.7 1.2.2-.9 0z"/><path class="k26" d="M142.4 43.6l1-1.3 1.2-1.4-1-.9z"/><path class="k15" d="M108.5 29.9l.9.2 1.2-.4-.9-.3z"/><path class="k31" d="M150.2 45l.9 1.5 1 1.5-.9-1.6z"/><path class="k16" d="M105.1 30.5l.9 0 1.6-.8-.8-.1zM118.3 30.5l.9.4 1.2.2-.9 0z"/><path class="k25" d="M145.5 39.8l.9 1.5 1.2-1.3-1-.4z"/><path class="k45" d="M139.3 67l1-2.7 1.4-10-1.1 6.2z"/><path class="k10" d="M71.2 23.9l1.6.4 3 1.4-1.6-.7z"/><path class="k30" d="M141.2 48.6l.9 1.3 1.3-7.6-1 1.3z"/><path class="k42" d="M132.9 51.2l.7 8 .9 6-.7-5.4z"/><path class="k23" d="M126.8 36l.9.4 1.1 5-.9-1.8z"/><path class="k3" d="M49.3 16.9l1.5.5 3.2.2-1.5-.7z"/><path class="k16" d="M115.3 30.2l.9.1 1.2.2-.9-.1z"/><path class="k37" d="M131.1 47.2l1 .1.7 12.9-.8-3.7z"/><path class="k18" d="M122.1 31.9l.9 1 1.2-.2-.9-.6z"/><path class="k34" d="M130.3 44.3l.8 2.9.9 9.3-.7-6.3z"/><path class="k26" d="M146.4 41.3l.9 1.3 1.1-.7-.8-1.9zM143.4 42.3l.9 1.3 1.2-3.8-.9 1.1z"/><path class="k15" d="M109.4 30.1l.8-.1 1.3 0-.9-.3z"/><path class="k38" d="M132.1 47.3l.8 3.9.9 8.6-1 .4z"/><path class="k37" d="M140.6 60.5l1.1-6.2 1.3-5.1-.9.7z"/><path class="k24" d="M127.7 36.4l.9 2.5 1.1 2.9-.9-.4z"/><path class="k6" d="M57.1 19.1l1.5.7 3.2.9-1.6-.9z"/><path class="k30" d="M129.4 42.2l.9 2.1 1 5.9-.8-5.7z"/><path class="k16" d="M119.2 30.9l.9.6 1.2-.3-.9-.1z"/><path class="k15" d="M106 30.5l.9-.1 1.6-.5-.9-.2z"/><path class="k2" d="M43 16.3l1.5.3 3.3-.2-1.5-.4z"/><path class="k18" d="M123 32.9l.9.3 1.2 1-.9-1.5z"/><path class="k27" d="M147.3 42.6l1 .3 1 .9-.9-1.9z"/><path class="k30" d="M142.1 49.9l.9-.7 1.3-5.6-.9-1.3z"/><path class="k16" d="M116.2 30.3l.9.5 1.2-.3-.9 0z"/><path class="k53" d="M139.6 80.7l1.3-9.9 1.3-7.5-1 3.1z"/><path class="k8" d="M64.9 22.1l1.6.4 3.1 1-1.6-.4z"/><path class="k15" d="M113.2 30.1l.9.2 1.2-.1-.9 0z"/><path class="k27" d="M144.3 43.6l.9.3 1.2-2.6-.9-1.5z"/><path class="k15" d="M110.2 30l.9.1 1.2-.1-.8 0z"/><path class="k17" d="M120.1 31.5l.9.5 1.1-.1-.8-.7z"/><path class="k28" d="M148.3 42.9l.9 1 1 1.1-.9-1.2z"/><path class="k15" d="M106.9 30.4l.8 0 1.7-.3-.9-.2z"/><path class="k42" d="M140.3 64.3l.9 2.1 1.6-14.6-1.1 2.5z"/><path class="k11" d="M72.8 24.3l1.6.5 3 1.7-1.6-.8z"/><path class="k4" d="M50.8 17.4l1.5.6 3.2.4-1.5-.8z"/><path class="k16" d="M117.1 30.8l.9.4 1.2-.3-.9-.4z"/><path class="k29" d="M149.2 43.9l.9 2 1 .6-.9-1.5z"/><path class="k27" d="M145.2 43.9l1-1 1.1-.3-.9-1.3z"/><path class="k30" d="M143 49.2l1.1-3.1 1.1-2.2-.9-.3z"/><path class="k15" d="M114.1 30.3l.9.4 1.2-.4-.9-.1z"/><path class="k55" d="M136 65.9l.9-.9.6 17.7-.8-3.2z"/><path class="k2" d="M38.1 16.2l.2.2 3.3-.4-.2-.2z"/><path class="k15" d="M111.1 30.1l.9.3 1.2-.3-.9-.1z"/><path class="k17" d="M121 32l.9 0 1.1.9-.9-1z"/><path class="k6" d="M58.6 19.8l1.6.7 3.1 1-1.5-.8z"/><path class="k57" d="M139.4 79.7l.9 4 1.7-17.9-1.1 5z"/><path class="k34" d="M141.7 54.3l1.1-2.5 1.3-5.7-1.1 3.1z"/><path class="k15" d="M107.7 30.4l.9.2 1.6-.6-.8.1z"/><path class="k3" d="M44.5 16.6l1.5.3 3.3 0-1.5-.5z"/><path class="k51" d="M135.1 62.4l.9 3.5.7 13.6-.6-11.5z"/><path class="k16" d="M118 31.2l.9.2 1.2.1-.9-.6z"/><path class="k57" d="M136.9 65l.7 8.8 1 3.8-1.1 5.1z"/><path class="k16" d="M102.4 32.2l.9-.1 2.7-1.6-.9 0z"/><path class="k42" d="M141.2 66.4l1-3.1 1.5-10.3-.9-1.2z"/><path class="k9" d="M66.5 22.5l1.6.3 3.1 1.1-1.6-.4z"/><path class="k27" d="M146.2 42.9l1 0 1.1 0-1-.3z"/><path class="k16" d="M115 30.7l.9.3 1.2-.2-.9-.5z"/><path class="k63" d="M139.1 85.9l1.1-6.8 1.1 1.9-1 2.7z"/><path class="k15" d="M112 30.4l.9.3 1.2-.4-.9-.2z"/><path class="k2" d="M38.3 16.4l1.5.3 3.2-.4-1.4-.3z"/><path class="k28" d="M144.1 46.1l1-1.3 1.1-1.9-1 1z"/><path class="k4" d="M52.3 18l1.6.5 3.2.6-1.6-.7z"/><path class="k15" d="M108.6 30.6l.9.2 1.6-.7-.9-.1z"/><path class="k28" d="M147.2 42.9l.9 1.5 1.1-.5-.9-1z"/><path class="k23" d="M127.5 37.3l.9 1 1 3.9-.8-3.3z"/><path class="k16" d="M115.9 31l.9 0 1.2.2-.9-.4zM103.3 32.1l.8-.1 2.8-1.6-.9.1z"/><path class="k56" d="M140.3 83.7l1-2.7 1.6-15.6-.9.4z"/><path class="k7" d="M60.2 20.5l1.6.5 3.1 1.1-1.6-.6z"/><path class="k15" d="M112.9 30.7l.8.1 1.3-.1-.9-.4z"/><path class="k32" d="M142.8 51.8l.9 1.2 1.4-8.2-1 1.3z"/><path class="k44" d="M134.4 54.1l.7 8.3 1 5.6-.8-4.8z"/><path class="k25" d="M128.4 38.3l.8 1.5 1.1 4.5-.9-2.1z"/><path class="k46" d="M140.9 70.8l1.1-5 1.4-9.5-1.2 7z"/><path class="k29" d="M148.1 44.4l.9 1 1.1.5-.9-2z"/><path class="k38" d="M132.7 49.5l.9.1.8 14.1-.8-4.5z"/><path class="k3" d="M46 16.9l1.6.4 3.2.1-1.5-.5z"/><path class="k16" d="M119.8 31.4l.9.3 1.2.3-.9 0z"/><path class="k15" d="M109.5 30.8l.9.1 1.6-.5-.9-.3z"/><path class="k40" d="M133.6 49.6l.8 4.5.9 9.1-.9.5z"/><path class="k27" d="M129.2 39.8l1 .1.9 7.3-.8-2.9z"/><path class="k35" d="M131.8 46.7l.9 2.8.9 9.7-.7-8z"/><path class="k28" d="M145.1 44.8l.9 1.2 1.2-3.1-1 0z"/><path class="k18" d="M123.6 33l.9 1.1 1.2-.1-.9-.7z"/><path class="k9" d="M68.1 22.8l1.6.3 3.1 1.2-1.6-.4z"/><path class="k16" d="M116.8 31l.8.2 1.3.2-.9-.2z"/><path class="k39" d="M142.2 63.3l1.2-7 1.3-4.9-1 1.6z"/><path class="k16" d="M104.1 32l.9-.1 2.7-1.5-.8 0z"/><path class="k28" d="M130.2 39.9l.8 2.2 1.1 5.2-1-.1z"/><path class="k2" d="M39.8 16.7l1.4.2 3.3-.3-1.5-.3z"/><path class="k32" d="M143.7 53l1-1.6 1.3-5.4-.9-1.2z"/><path class="k30" d="M131 42.1l.8 4.6 1.1 4.5-.8-3.9z"/><path class="k5" d="M53.9 18.5l1.5.6 3.2.7-1.5-.7z"/><path class="k28" d="M146 46l.9.2 1.2-1.8-.9-1.5z"/><path class="k17" d="M120.7 31.7l.8.8 1.3-.3-.9-.2z"/><path class="k19" d="M124.5 34.1l.9.5 1.2 1.2-.9-1.8z"/><path class="k15" d="M110.4 30.9l.9-.1 1.6-.1-.9-.3z"/><path class="k16" d="M117.6 31.2l.9.4 1.3-.2-.9 0z"/><path class="k7" d="M61.8 21l1.6.3 3.1 1.2-1.6-.4z"/><path class="k16" d="M105 31.9l.9-.2 2.7-1.1-.9-.2z"/><path class="k15" d="M114.6 30.9l.9.2 1.3-.1-.9 0z"/><path class="k58" d="M140.2 79.1l1-.1 1.4-9.1-1.3 11.1z"/><path class="k17" d="M121.5 32.5l.9.5 1.2 0-.8-.8z"/><path class="k29" d="M146.9 46.2l1.1-1.7 1 .9-.9-1z"/><path class="k3" d="M47.6 17.3l1.5.4 3.2.3-1.5-.6z"/><path class="k51" d="M141.3 81l1.3-11.1 1.4-6.4-1.1 1.9z"/><path class="k57" d="M137.6 66.7l.9 1.4.6 17.8-.9-1.3z"/><path class="k15" d="M111.3 30.8l.8.3 1.6-.3-.8-.1z"/><path class="k31" d="M144.7 51.4l1.1-3.7 1.1-1.5-.9-.2z"/><path class="k2" d="M34.7 16.8l.2.1 3.4-.5-.2-.2z"/><path class="k42" d="M142 65.8l.9-.4 1.6-12.9-1.1 3.8z"/><path class="k54" d="M136.7 65.7l.9 1 .6 17.9-.6-10.8z"/><path class="k16" d="M118.5 31.6l.9.5 1.3-.4-.9-.3z"/><path class="k9" d="M69.7 23.1l1.6.3 3.1 1.4-1.6-.5z"/><path class="k16" d="M115.5 31.1l.9.5 1.2-.4-.8-.2zM105.9 31.7l.9.1 2.7-1-.9-.2z"/><path class="k18" d="M122.4 33l.9.4 1.2.7-.9-1.1z"/><path class="k2" d="M41.2 16.9l1.6.3 3.2-.3-1.5-.3z"/><path class="k5" d="M55.4 19.1l1.6.5 3.2.9-1.6-.7z"/><path class="k58" d="M138.5 68.1l.7 8 1 3-1.1 6.8z"/><path class="k61" d="M139.2 76.1l.6 11 1.4-8.1-1 .1z"/><path class="k35" d="M143.4 56.3l1.1-3.8 1.3-4.8-1.1 3.7z"/><path class="k15" d="M112.1 31.1l.9.3 1.6-.5-.9-.1z"/><path class="k21" d="M127.2 36.1l1 0 1 3.7-.8-1.5z"/><path class="k16" d="M119.4 32.1l.9.3 1.2.1-.8-.8z"/><path class="k2" d="M34.9 16.9l1.5.2 3.4-.4-1.5-.3z"/><path class="k7" d="M63.4 21.3l1.6.3 3.1 1.2-1.6-.3z"/><path class="k16" d="M116.4 31.6l.9.2 1.2-.2-.9-.4zM106.8 31.8l.9.1 2.7-1-.9-.1z"/><path class="k47" d="M136 58.3l.7 7.4.9 8.1-.7-8.8z"/><path class="k29" d="M145.8 47.7l1-1.7 1.2-1.5-1.1 1.7z"/><path class="k3" d="M49.1 17.7l1.5.4 3.3.4-1.6-.5z"/><path class="k40" d="M142.9 65.4l1.1-1.9 1.5-11.7-1 .7z"/><path class="k22" d="M128.2 36.1l.9 1.2 1.1 2.6-1-.1z"/><path class="k15" d="M113 31.4l.9.2 1.6-.5-.9-.2z"/><path class="k17" d="M120.3 32.4l.9.3 1.2.3-.9-.5z"/><path class="k9" d="M71.3 23.4l1.6.4 3.1 1.6-1.6-.6z"/><path class="k16" d="M117.3 31.8l.9.2 1.2.1-.9-.5z"/><path class="k40" d="M134.3 51.1l1 0 .7 14.8-.9-3.5z"/><path class="k26" d="M129.9 40.2l.9.9 1 5.6-.8-4.6z"/><path class="k15" d="M107.7 31.9l.8 0 2.8-1.1-.9.1z"/><path class="k2" d="M42.8 17.2l1.5.3 3.3-.2-1.6-.4z"/><path class="k42" d="M135.3 51.1l.7 7.2.9 6.7-.9.9z"/><path class="k36" d="M133.4 48.8l.9 2.3.8 11.3-.7-8.3z"/><path class="k32" d="M144.5 52.5l1-.7 1.3-5.8-1 1.7z"/><path class="k28" d="M130.8 41.1l1 .2.9 8.2-.9-2.8z"/><path class="k15" d="M113.9 31.6l.9.1 1.6-.1-.9-.5z"/><path class="k2" d="M36.4 17.1l1.5.3 3.3-.5-1.4-.2z"/><path class="k16" d="M118.2 32l.9.3 1.2.1-.9-.3z"/><path class="k32" d="M132.6 44l.8 4.8 1 5.3-.8-4.5z"/><path class="k29" d="M131.8 41.3l.8 2.7 1 5.6-.9-.1z"/><path class="k7" d="M65 21.6l1.6.3 3.1 1.2-1.6-.3z"/><path class="k15" d="M108.5 31.9l.9.1 2.7-.9-.8-.3z"/><path class="k3" d="M50.6 18.1l1.6.4 3.2.6-1.5-.6z"/><path class="k17" d="M122.1 33l1 .3 1.2.5-1-.4z"/><path class="k16" d="M114.8 31.7l.9.2 1.6-.1-.9-.2z"/><path class="k9" d="M72.9 23.8l1.7.4 3 1.9-1.6-.7z"/><path class="k16" d="M119.1 32.3l.9.3 1.2.1-.9-.3z"/><path class="k2" d="M44.3 17.5l1.5.3 3.3-.1-1.5-.4z"/><path class="k15" d="M109.4 32l.9.1 2.7-.7-.9-.3z"/><path class="k56" d="M138.3 69.2l.9 1.4.6 16.5-.6-11z"/><path class="k16" d="M115.7 31.9l.9.3 1.6-.2-.9-.2z"/><path class="k2" d="M37.9 17.4l1.5.2 3.4-.4-1.6-.3z"/><path class="k16" d="M120 32.6l.9.2 1.2.2-.9-.3z"/><path class="k7" d="M66.6 21.9l1.6.3 3.1 1.2-1.6-.3z"/><path class="k15" d="M110.3 32.1l.9.1 2.7-.6-.9-.2z"/><path class="k4" d="M52.2 18.5l1.6.4 3.2.7-1.6-.5z"/><path class="k16" d="M104 33.6l.9-.1 2.8-1.6-.9-.1zM116.6 32.2l.9.2 1.6-.1-.9-.3z"/><path class="k22" d="M128.8 37.2l.9 0 1.1 3.9-.9-.9z"/><path class="k49" d="M137.6 60.7l.7 8.5.9 6.9-.7-8z"/><path class="k3" d="M45.8 17.8l1.5.2 3.3.1-1.5-.4z"/><path class="k15" d="M111.2 32.2l.9.1 2.7-.6-.9-.1z"/><path class="k18" d="M124.9 34l.9 1 1.2.2-.9-1z"/><path class="k16" d="M117.5 32.4l.9 0 1.6.2-.9-.3z"/><path class="k22" d="M129.7 37.2l.9 1.6 1.2 2.5-1-.2z"/><path class="k16" d="M104.9 33.5l.9-.1 2.7-1.5-.8 0zM121.9 32.8l.9.6 1.2-.1-.9 0z"/><path class="k2" d="M39.4 17.6l1.5.3 3.4-.4-1.5-.3z"/><path class="k38" d="M135.1 50.9l.9.3.7 14.5-.7-7.4z"/><path class="k27" d="M131.5 41.5l.9 1.2 1 6.1-.8-4.8z"/><path class="k40" d="M136 51.2l.9 2.2.7 13.3-.9-1z"/><path class="k43" d="M136.9 53.4l.7 7.3.9 7.4-.9-1.4z"/><path class="k7" d="M68.2 22.2l1.6.3 3.1 1.3-1.6-.4z"/><path class="k15" d="M112.1 32.3l.9.1 2.7-.5-.9-.2z"/><path class="k4" d="M53.8 18.9l1.5.3 3.3.7-1.6-.3z"/><path class="k28" d="M132.4 42.7l1 .2.9 8.2-.9-2.3z"/><path class="k33" d="M134.2 47.4l.9 3.5.9 7.4-.7-7.2z"/><path class="k16" d="M118.4 32.4l1 .2 1.5.2-.9-.2zM105.8 33.4l.9-.1 2.7-1.3-.9-.1z"/><path class="k17" d="M122.8 33.4l.9.7 1.2-.1-.9-.7z"/><path class="k30" d="M133.4 42.9l.8 4.5 1.1 3.7-1 0z"/><path class="k3" d="M47.3 18l1.6.3 3.3.2-1.6-.4z"/><path class="k15" d="M113 32.4l.9 0 2.7-.2-.9-.3z"/><path class="k16" d="M119.4 32.6l.9.6 1.6-.4-1 0z"/><path class="k17" d="M123.7 34.1l.9.2 1.2.7-.9-1z"/><path class="k16" d="M106.7 33.3l.9-.1 2.7-1.1-.9-.1z"/><path class="k2" d="M40.9 17.9l1.5.2 3.4-.3-1.5-.3z"/><path class="k7" d="M69.8 22.5l1.7.3 3.1 1.4-1.7-.4z"/><path class="k4" d="M55.3 19.2l1.6.3 3.3.8-1.6-.4z"/><path class="k15" d="M113.9 32.4l.9.3 2.7-.3-.9-.2z"/><path class="k16" d="M120.3 33.2l.9.4 1.6-.2-.9-.6zM107.6 33.2l.9 0 2.7-1-.9-.1z"/><path class="k3" d="M48.9 18.3l1.6.3 3.3.3-1.6-.4z"/><path class="k15" d="M114.8 32.7l1 .3 2.6-.6-.9 0z"/><path class="k16" d="M121.2 33.6l.9 0 1.6.5-.9-.7z"/><path class="k22" d="M130.4 38.2l1 .6 1 3.9-.9-1.2z"/><path class="k15" d="M108.5 33.2l.9-.1 2.7-.8-.9-.1z"/><path class="k2" d="M42.4 18.1l1.6.3 3.3-.4-1.5-.2z"/><path class="k16" d="M115.8 33l.9.2 2.7-.6-1-.2z"/><path class="k4" d="M56.9 19.5l1.6.3 3.3.7-1.6-.2z"/><path class="k17" d="M122.1 33.6l.9.1 1.6.6-.9-.2z"/><path class="k23" d="M131.4 38.8l.8 2.5 1.2 1.6-1-.2z"/><path class="k18" d="M126.5 35.1l.9 1 1.2.1-.9-1z"/><path class="k42" d="M137.6 53.9l.9 2.2.7 14.5-.9-1.4z"/><path class="k39" d="M136.7 53.4l.9.5.7 15.3-.7-8.5z"/><path class="k15" d="M109.4 33.1l.9.2 2.7-.9-.9-.1z"/><path class="k27" d="M133.2 42.7l.9 0 1 8.2-.9-3.5z"/><path class="k3" d="M50.5 18.6l1.5.3 3.3.3-1.5-.3z"/><path class="k35" d="M135.8 49.2l.9 4.2.9 7.3-.7-7.3z"/><path class="k16" d="M116.7 33.2l.9.1 2.7-.1-.9-.6z"/><path class="k17" d="M123 33.7l1 .7 1.5-.1-.9 0z"/><path class="k28" d="M134.1 42.7l.9 2.2 1 6.3-.9-.3z"/><path class="k30" d="M135 44.9l.8 4.3 1.1 4.2-.9-2.2z"/><path class="k15" d="M110.3 33.3l.9.2 2.7-1.1-.9 0z"/><path class="k2" d="M44 18.4l1.5.3 3.4-.4-1.6-.3z"/><path class="k17" d="M124 34.4l.9.6 1.6.1-1-.8z"/><path class="k16" d="M117.6 33.3l.9.2 2.7.1-.9-.4z"/><path class="k4" d="M58.5 19.8l1.6.2 3.3.8-1.6-.3z"/><path class="k15" d="M111.2 33.5l.9.1 2.7-.9-.9-.3z"/><path class="k16" d="M104.7 35.1l.9.1 2.9-2-.9 0z"/><path class="k17" d="M124.9 35l.9-.1 1.6 1.2-.9-1z"/><path class="k16" d="M118.5 33.5l.9.5 2.7-.4-.9 0z"/><path class="k3" d="M52 18.9l1.6.3 3.3.3-1.6-.3z"/><path class="k15" d="M112.1 33.6l.9 0 2.8-.6-1-.3z"/><path class="k2" d="M45.5 18.7l1.6.2 3.4-.3-1.6-.3z"/><path class="k22" d="M131.1 38.6l1 0 1.1 4.1-1-1.4z"/><path class="k16" d="M105.6 35.2l1 0 2.8-2.1-.9.1zM119.4 34l1 0 2.6-.3-.9-.1z"/><path class="k4" d="M60.1 20l1.7.3 3.2.8-1.6-.3z"/><path class="k22" d="M132.1 38.6l.9 1.7 1.1 2.4-.9 0z"/><path class="k18" d="M126.8 35.9l.9.5 1.6.4-1-1.1z"/><path class="k15" d="M113 33.6l.9.2 2.8-.6-.9-.2z"/><path class="k16" d="M120.4 34l.9.5 2.7-.1-1-.7zM106.6 35.2l.9-.1 2.8-1.8-.9-.2z"/><path class="k3" d="M53.6 19.2l1.6.2 3.3.4-1.6-.3z"/><path class="k28" d="M134.8 44.5l1 0 .9 8.9-.9-4.2z"/><path class="k15" d="M113.9 33.8l1 .4 2.7-.9-.9-.1z"/><path class="k2" d="M47.1 18.9l1.6.3 3.3-.3-1.5-.3z"/><path class="k16" d="M121.3 34.5l.9.4 2.7.1-.9-.6z"/><path class="k30" d="M135.8 44.5l.9 2.1.9 7.3-.9-.5z"/><path class="k16" d="M107.5 35.1l.9 0 2.8-1.6-.9-.2z"/><path class="k4" d="M61.8 20.3l1.6.3 3.2.8-1.6-.3z"/><path class="k19" d="M128.7 36.3l.9.3 1.5 2-.9-.4z"/><path class="k31" d="M136.7 46.6l.9 3 .9 6.5-.9-2.2z"/><path class="k15" d="M114.9 34.2l.9.1 2.7-.8-.9-.2z"/><path class="k16" d="M122.2 34.9l1 0 2.6 0-.9.1z"/><path class="k6" d="M70 22.1l1.6.6 3.2 1.5-1.7-.8z"/><path class="k16" d="M108.4 35.1l.9.1 2.8-1.6-.9-.1z"/><path class="k3" d="M55.2 19.4l1.6.3 3.3.3-1.6-.2z"/><path class="k16" d="M115.8 34.3l.9.2 2.7-.5-.9-.5z"/><path class="k2" d="M48.7 19.2l1.6.2 3.3-.2-1.6-.3z"/><path class="k17" d="M123.2 34.9l.9.1 2.7.9-1-1z"/><path class="k16" d="M109.3 35.2l.9 0 2.8-1.6-.9 0z"/><path class="k4" d="M63.4 20.6l1.7.3 3.2.8-1.7-.3z"/><path class="k21" d="M131.5 39l1 0 1.4 4-.9-2.7z"/><path class="k16" d="M116.7 34.5l1 .1 2.7-.6-1 0z"/><path class="k17" d="M124.1 35l1 .6 2.6.8-.9-.5z"/><path class="k6" d="M71.6 22.7l1.7.9 3.2 1.8-1.7-1.2z"/><path class="k3" d="M56.8 19.7l1.7.3 3.3.3-1.7-.3z"/><path class="k16" d="M110.2 35.2l.9.2 2.8-1.6-.9-.2z"/><path class="k22" d="M132.5 39l.9.4 1.4 5.1-.9-1.5z"/><path class="k17" d="M125.1 35.6l.9.6 2.7.1-1 .1z"/><path class="k16" d="M117.7 34.6l.9 0 2.7-.1-.9-.5z"/><path class="k2" d="M50.3 19.4l1.6.3 3.3-.3-1.6-.2z"/><path class="k23" d="M133.4 39.4l.9 1.5 1.5 3.6-1 0z"/><path class="k16" d="M111.1 35.4l1 0 2.8-1.2-1-.4z"/><path class="k4" d="M65.1 20.9l1.6.3 3.3.9-1.7-.4z"/><path class="k17" d="M126 36.2l1 0 2.6.4-.9-.3z"/><path class="k16" d="M118.6 34.6l.9.3 2.7 0-.9-.4z"/><path class="k23" d="M134.3 40.9l1 1.1 1.4 4.6-.9-2.1z"/><path class="k17" d="M105.5 38l.9-.1 2.9-2.7-.9-.1z"/><path class="k3" d="M58.5 20l1.6.2 3.3.4-1.6-.3z"/><path class="k25" d="M135.3 42l1 1 1.3 6.6-.9-3z"/><path class="k16" d="M112.1 35.4l.9 0 2.8-1.1-.9-.1z"/><path class="k17" d="M127 36.2l1 .1 2.5 1.6-.9-1.3z"/><path class="k16" d="M119.5 34.9l1 .5 2.7-.5-1 0z"/><path class="k2" d="M51.9 19.7l1.6.3 3.3-.3-1.6-.3z"/><path class="k4" d="M66.7 21.2l1.7.4 3.2 1.1-1.6-.6z"/><path class="k17" d="M106.4 37.9l1-.2 2.8-2.5-.9 0z"/><path class="k16" d="M113 35.4l.9.1 2.8-1-.9-.2z"/><path class="k18" d="M128 36.3l.9.5 2.6 2.2-1-1.1z"/><path class="k16" d="M120.5 35.4l.9.1 2.7-.5-.9-.1z"/><path class="k3" d="M60.1 20.2l1.7.3 3.3.4-1.7-.3z"/><path class="k19" d="M86.7 37.1l.9.5 3.1 2.1-.9-.5z"/><path class="k16" d="M113.9 35.5l1 .2 2.8-1.1-1-.1z"/><path class="k18" d="M128.9 36.8l1 .5 2.6 1.7-1 0z"/><path class="k17" d="M107.4 37.7l.9 0 2.8-2.3-.9-.2z"/><path class="k16" d="M121.4 35.5l1 0 2.7.1-1-.6z"/><path class="k2" d="M53.5 20l1.6.2 3.4-.2-1.7-.3z"/><path class="k4" d="M68.4 21.6l1.7.6 3.2 1.4-1.7-.9z"/><path class="k19" d="M87.6 37.6l.9.5 3 2.1-.8-.5z"/><path class="k18" d="M129.9 37.3l.9.4 2.6 1.7-.9-.4z"/><path class="k16" d="M114.9 35.7l.9.1 2.8-1.2-.9 0z"/><path class="k17" d="M108.3 37.7l.9 0 2.9-2.3-1 0z"/><path class="k16" d="M122.4 35.5l.9.4 2.7.3-.9-.6z"/><path class="k19" d="M88.5 38.1l.9.5 3 2-.9-.4zM130.8 37.7l1 .4 2.5 2.8-.9-1.5z"/><path class="k3" d="M61.8 20.5l1.6.3 3.3.4-1.6-.3z"/><path class="k16" d="M115.8 35.8l1 0 2.7-.9-.9-.3z"/><path class="k17" d="M109.2 37.7l.9 0 2.9-2.3-.9 0z"/><path class="k16" d="M123.3 35.9l1 .2 2.7.1-1 0z"/><path class="k20" d="M131.8 38.1l1 .4 2.5 3.5-1-1.1z"/><path class="k5" d="M70.1 22.2l1.7.8 3.3 1.7-1.8-1.1z"/><path class="k2" d="M55.1 20.2l1.7.3 3.3-.3-1.6-.2z"/><path class="k19" d="M89.4 38.6l.9.4 3 1.9-.9-.3z"/><path class="k16" d="M116.8 35.8l.9.1 2.8-.5-1-.5zM110.1 37.7l1-.1 2.8-2.1-.9-.1zM124.3 36.1l1 .3 2.7-.1-1-.1z"/><path class="k20" d="M132.8 38.5l1 .4 2.5 4.1-1-1zM90.3 39l.9.4 3 2-.9-.5z"/><path class="k15" d="M81.8 32.7l.9.9 3.2 2.8-.9-.8z"/><path class="k3" d="M63.4 20.8l1.7.3 3.3.5-1.7-.4z"/><path class="k16" d="M117.7 35.9l1 .2 2.7-.6-.9-.1zM125.3 36.4l.9.2 2.7.2-.9-.5zM111.1 37.6l.9-.1 2.9-1.8-1-.2z"/><path class="k20" d="M91.2 39.4l.9.5 3 1.9-.9-.4z"/><path class="k2" d="M56.8 20.5l1.6.3 3.4-.3-1.7-.3z"/><path class="k15" d="M82.7 33.6l.9.9 3.1 2.6-.8-.7z"/><path class="k16" d="M118.7 36.1l.9.2 2.8-.8-1 0z"/><path class="k17" d="M126.2 36.6l1 .3 2.7.4-1-.5z"/><path class="k16" d="M112 37.5l1 .1 2.8-1.8-.9-.1z"/><path class="k20" d="M92.1 39.9l.9.5 3 1.7-.9-.3z"/><path class="k16" d="M83.6 34.5l.9.6 3.1 2.5-.9-.5z"/><path class="k3" d="M65.1 21.1l1.7.4 3.3.7-1.7-.6z"/><path class="k18" d="M106.3 40.8l.9 0 2.9-3.1-.9 0z"/><path class="k16" d="M119.6 36.3l1 .2 2.7-.6-.9-.4z"/><path class="k17" d="M127.2 36.9l1 .3 2.6.5-.9-.4z"/><path class="k16" d="M113 37.6l.9 0 2.9-1.8-1 0zM84.5 35.1l.9.4 3.1 2.6-.9-.5z"/><path class="k2" d="M58.4 20.8l1.7.3 3.3-.3-1.6-.3z"/><path class="k16" d="M120.6 36.5l1 .2 2.7-.6-1-.2z"/><path class="k17" d="M128.2 37.2l1 .2 2.6.7-1-.4z"/><path class="k18" d="M107.2 40.8l1-.1 2.9-3.1-1 .1z"/><path class="k20" d="M93.9 40.9l.9.4 3 1.4-.9-.3z"/><path class="k16" d="M85.4 35.5l.9.4 3.1 2.7-.9-.5zM113.9 37.6l1 .1 2.8-1.8-.9-.1z"/><path class="k8" d="M76 25.9l.9.9 3.2 3.6-.9-1.2z"/><path class="k3" d="M66.8 21.5l1.7.4 3.3 1.1-1.7-.8z"/><path class="k16" d="M121.6 36.7l.9.2 2.8-.5-1-.3z"/><path class="k17" d="M129.2 37.4l1 .3 2.6.8-1-.4z"/><path class="k18" d="M108.2 40.7l.9-.1 2.9-3.1-.9.1z"/><path class="k21" d="M94.8 41.3l.9.5 3 1.2-.9-.3z"/><path class="k16" d="M86.3 35.9l.9.4 3.1 2.7-.9-.4zM114.9 37.7l.9.1 2.9-1.7-1-.2z"/><path class="k2" d="M60.1 21.1l1.7.2 3.3-.2-1.7-.3z"/><path class="k16" d="M122.5 36.9l1 .2 2.7-.5-.9-.2z"/><path class="k17" d="M130.2 37.7l.9.2 2.7 1-1-.4zM87.2 36.3l.9.4 3.1 2.7-.9-.4z"/><path class="k18" d="M109.1 40.6l1-.1 2.9-2.9-1-.1z"/><path class="k16" d="M115.8 37.8l1 .1 2.8-1.6-.9-.2z"/><path class="k4" d="M68.5 21.9l1.6.4 3.2 1.5-1.5-.8z"/><path class="k11" d="M78.6 28.7l.9 1 3.2 3.9-.9-.9z"/><path class="k16" d="M123.5 37.1l1 .2 2.7-.4-1-.3z"/><path class="k17" d="M88.1 36.7l.9.3 3.1 2.9-.9-.5z"/><path class="k18" d="M110.1 40.5l.9.1 2.9-3-.9 0z"/><path class="k16" d="M116.8 37.9l1 .1 2.8-1.5-1-.2z"/><path class="k12" d="M79.5 29.7l.9.8 3.2 4-.9-.9z"/><path class="k2" d="M61.8 21.3l1.7.3 3.3-.1-1.7-.4z"/><path class="k4" d="M70.1 22.3l.8.3 3.3 1.8-.9-.6z"/><path class="k16" d="M124.5 37.3l1 .2 2.7-.3-1-.3z"/><path class="k17" d="M89 37l.9.4 3.1 3-.9-.5z"/><path class="k12" d="M80.4 30.5l.9.7 3.2 3.9-.9-.6z"/><path class="k17" d="M111 40.6l1 0 2.9-2.9-1-.1z"/><path class="k16" d="M117.8 38l.9.1 2.9-1.4-1-.2z"/><path class="k4" d="M70.9 22.6l.9.3 3.3 2.2-.9-.7z"/><path class="k17" d="M89.9 37.4l.9.5 3.1 3-.9-.5z"/><path class="k16" d="M125.5 37.5l1 .2 2.7-.3-1-.2z"/><path class="k12" d="M81.3 31.2l.9.4 3.2 3.9-.9-.4z"/><path class="k17" d="M112 40.6l.9.1 2.9-2.9-.9-.1z"/><path class="k16" d="M118.7 38.1l1 .2 2.8-1.4-.9-.2z"/><path class="k5" d="M71.8 22.9l.9.4 3.3 2.6-.9-.8z"/><path class="k2" d="M63.5 21.6l1.7.3 3.3 0-1.7-.4z"/><path class="k18" d="M90.8 37.9l.9.4 3.1 3-.9-.4z"/><path class="k16" d="M126.5 37.7l.9.1 2.8-.1-1-.3z"/><path class="k13" d="M82.2 31.6l.9.3 3.2 4-.9-.4z"/><path class="k16" d="M119.7 38.3l1 .1 2.8-1.3-1-.2z"/><path class="k17" d="M112.9 40.7l1 0 2.9-2.8-1-.1z"/><path class="k5" d="M72.7 23.3l.9.4 3.3 3.1-.9-.9z"/><path class="k18" d="M91.7 38.3l1 .4 3 3.1-.9-.5z"/><path class="k16" d="M127.4 37.8l1 .2 2.7-.1-.9-.2z"/><path class="k20" d="M107.1 43.9l1 .1 2.9-3.4-.9-.1z"/><path class="k13" d="M83.1 31.9l.9.2 3.2 4.2-.9-.4z"/><path class="k5" d="M73.6 23.7l.8.4 3.3 3.6-.8-.9z"/><path class="k16" d="M120.7 38.4l1 .1 2.8-1.2-1-.2z"/><path class="k17" d="M113.9 40.7l1 .1 2.9-2.8-1-.1z"/><path class="k2" d="M65.2 21.9l1.5.3 3.4.1-1.6-.4z"/><path class="k18" d="M92.7 38.7l.9.5 3 3.1-.9-.5z"/><path class="k13" d="M84 32.1l.9.3 3.2 4.3-.9-.4z"/><path class="k6" d="M74.4 24.1l.9.5 3.3 4.1-.9-1z"/><path class="k20" d="M108.1 44l.9.1 3-3.5-1 0z"/><path class="k16" d="M121.7 38.5l1 .1 2.8-1.1-1-.2z"/><path class="k17" d="M114.9 40.8l.9 0 2.9-2.7-.9-.1z"/><path class="k18" d="M93.6 39.2l.9.5 3.1 3-1-.4z"/><path class="k3" d="M66.7 22.2l.9.1 3.3.3-.8-.3z"/><path class="k7" d="M75.3 24.6l.9.5 3.3 4.6-.9-1z"/><path class="k13" d="M84.9 32.4l.9.2 3.2 4.4-.9-.3z"/><path class="k20" d="M109 44.1l1 0 2.9-3.4-.9-.1z"/><path class="k16" d="M122.7 38.6l1 .2 2.8-1.1-1-.2z"/><path class="k19" d="M94.5 39.7l.9.4 3.1 3-.9-.4z"/><path class="k17" d="M115.8 40.8l1 .1 2.9-2.6-1-.2z"/><path class="k7" d="M76.2 25.1l.9.5 3.3 4.9-.9-.8z"/><path class="k3" d="M67.6 22.3l.9.2 3.3.4-.9-.3z"/><path class="k13" d="M85.8 32.6l.9.3 3.2 4.5-.9-.4z"/><path class="k19" d="M110 44.1l1 .1 2.9-3.5-1 0zM95.4 40.1l1 .5 3 2.9-.9-.4z"/><path class="k16" d="M123.7 38.8l.9.1 2.8-1.1-.9-.1z"/><path class="k17" d="M116.8 40.9l1 0 2.9-2.5-1-.1z"/><path class="k7" d="M77.1 25.6l.9.4 3.3 5.2-.9-.7z"/><path class="k3" d="M68.5 22.5l.8.1 3.4.7-.9-.4z"/><path class="k13" d="M86.7 32.9l1 .3 3.1 4.7-.9-.5z"/><path class="k19" d="M111 44.2l.9.1 3-3.5-1-.1zM96.4 40.6l.9.5 3.1 2.8-1-.4z"/><path class="k16" d="M124.6 38.9l1.1.1 2.7-1-1-.2z"/><path class="k8" d="M78 26l.9.2 3.3 5.4-.9-.4z"/><path class="k17" d="M117.8 40.9l1 .1 2.9-2.5-1-.1z"/><path class="k3" d="M69.3 22.6l.9.2 3.4.9-.9-.4z"/><path class="k13" d="M87.7 33.2l.9.3 3.1 4.8-.9-.4z"/><path class="k19" d="M97.3 41.1l1 .4 3 2.8-.9-.4zM111.9 44.3l1 0 2.9-3.5-.9 0z"/><path class="k8" d="M78.9 26.2l.9.2 3.3 5.5-.9-.3z"/><path class="k17" d="M118.8 41l1 .1 2.9-2.5-1-.1z"/><path class="k3" d="M70.2 22.8l.9.1 3.3 1.2-.8-.4z"/><path class="k14" d="M88.6 33.5l.9.4 3.2 4.8-1-.4z"/><path class="k19" d="M98.3 41.5l.9.3 3 2.8-.9-.3zM112.9 44.3l1 .1 2.9-3.5-1-.1z"/><path class="k8" d="M79.8 26.4l.9.2 3.3 5.5-.9-.2z"/><path class="k17" d="M119.8 41.1l1 0 2.9-2.3-1-.2z"/><path class="k3" d="M71.1 22.9l.9.2 3.3 1.5-.9-.5z"/><path class="k14" d="M89.5 33.9l.9.3 3.2 5-.9-.5z"/><path class="k20" d="M99.2 41.8l1 .4 3 2.7-1-.3z"/><path class="k19" d="M113.9 44.4l1 0 2.9-3.5-1 0z"/><path class="k8" d="M80.7 26.6l1 .2 3.2 5.6-.9-.3z"/><path class="k3" d="M72 23.1l.9.1 3.3 1.9-.9-.5z"/><path class="k14" d="M90.4 34.2l1 .4 3.1 5.1-.9-.5z"/><path class="k17" d="M120.8 41.1l1 .1 2.8-2.3-.9-.1z"/><path class="k20" d="M100.2 42.2l.9.3 3 2.6-.9-.2z"/><path class="k8" d="M81.7 26.8l.9.2 3.2 5.6-.9-.2z"/><path class="k19" d="M114.9 44.4l.9.1 3-3.5-1-.1z"/><path class="k3" d="M72.9 23.2l.9.2 3.3 2.2-.9-.5z"/><path class="k14" d="M91.4 34.6l.9.3 3.1 5.2-.9-.4z"/><path class="k17" d="M121.8 41.2l1 .1 2.9-2.3-1.1-.1z"/><path class="k20" d="M101.1 42.5l1 .4 3 2.5-1-.3z"/><path class="k21" d="M108.9 46.3l1 .2 3-2.2-1 0z"/><path class="k8" d="M82.6 27l.9.2 3.2 5.7-.9-.3z"/><path class="k19" d="M115.8 44.5l1 0 3-3.4-1-.1z"/><path class="k14" d="M92.3 34.9l1 .4 3.1 5.3-1-.5z"/><path class="k3" d="M73.8 23.4l.9.1 3.3 2.5-.9-.4z"/><path class="k20" d="M102.1 42.9l.9.3 3 2.4-.9-.2z"/><path class="k21" d="M109.9 46.5l1 .2 3-2.3-1-.1z"/><path class="k8" d="M83.5 27.2l.9.2 3.3 5.8-1-.3z"/><path class="k15" d="M93.3 35.3l.9.3 3.1 5.5-.9-.5z"/><path class="k4" d="M74.7 23.5l.9.2 3.3 2.5-.9-.2z"/><path class="k19" d="M116.8 44.5l1 .1 3-3.5-1 0z"/><path class="k20" d="M103 43.2l1 .4 3 2.3-1-.3z"/><path class="k21" d="M110.9 46.7l1 .2 3-2.5-1 0z"/><path class="k8" d="M84.4 27.4l.9.2 3.3 5.9-.9-.3z"/><path class="k15" d="M94.2 35.6l1 .3 3.1 5.6-1-.4z"/><path class="k4" d="M75.6 23.7l.9.2 3.3 2.5-.9-.2z"/><path class="k18" d="M117.8 44.6l1 0 3-3.4-1-.1z"/><path class="k20" d="M104 43.6l1 .3 3 2.2-1-.2z"/><path class="k21" d="M111.9 46.9l1 .2 2.9-2.6-.9-.1z"/><path class="k8" d="M85.3 27.6l1 .2 3.2 6.1-.9-.4z"/><path class="k15" d="M95.2 35.9l.9.3 3.1 5.6-.9-.3z"/><path class="k4" d="M76.5 23.9l.9.1 3.3 2.6-.9-.2z"/><path class="k18" d="M118.8 44.6l1 .1 3-3.4-1-.1z"/><path class="k20" d="M105 43.9l.9.4 3 2-.9-.2z"/><path class="k8" d="M86.3 27.8l.9.3 3.2 6.1-.9-.3z"/><path class="k21" d="M112.9 47.1l1 .1 2.9-2.7-1 0z"/><path class="k15" d="M96.1 36.2l1 .3 3.1 5.7-1-.4z"/><path class="k4" d="M77.4 24l.9.2 3.4 2.6-1-.2z"/><path class="k20" d="M105.9 44.3l1 .3 3 1.9-1-.2z"/><path class="k8" d="M87.2 28.1l1 .2 3.2 6.3-1-.4z"/><path class="k15" d="M97.1 36.5l.9.4 3.1 5.6-.9-.3z"/><path class="k21" d="M113.9 47.2l1 .2 2.9-2.8-1-.1z"/><path class="k4" d="M78.3 24.2l.9.1 3.4 2.7-.9-.2z"/><path class="k20" d="M106.9 44.6l1 .4 3 1.7-1-.2z"/><path class="k9" d="M88.2 28.3l.9.3 3.2 6.3-.9-.3z"/><path class="k15" d="M98 36.9l1 .3 3.1 5.7-1-.4z"/><path class="k20" d="M114.9 47.4l1 .1 2.9-2.9-1 0z"/><path class="k4" d="M79.2 24.3l1 .2 3.3 2.7-.9-.2z"/><path class="k20" d="M107.9 45l1 .3 3 1.6-1-.2z"/><path class="k9" d="M89.1 28.6l.9.2 3.3 6.5-1-.4z"/><path class="k16" d="M99 37.2l1 .3 3 5.7-.9-.3z"/><path class="k20" d="M115.9 47.5l1 .1 2.9-2.9-1-.1z"/><path class="k4" d="M80.2 24.5l.9.2 3.3 2.7-.9-.2z"/><path class="k20" d="M108.9 45.3l1 .3 3 1.5-1-.2z"/><path class="k16" d="M100 37.5l.9.3 3.1 5.8-1-.4z"/><path class="k9" d="M90 28.8l1 .2 3.2 6.6-.9-.3z"/><path class="k4" d="M81.1 24.7l.9.1 3.3 2.8-.9-.2z"/><path class="k20" d="M109.9 45.6l1 .4 3 1.2-1-.1z"/><path class="k16" d="M100.9 37.8l1 .3 3.1 5.8-1-.3z"/><path class="k9" d="M91 29l1 .2 3.2 6.7-1-.3z"/><path class="k4" d="M82 24.8l1 .2 3.3 2.8-1-.2z"/><path class="k20" d="M110.9 46l1 .3 3 1.1-1-.2z"/><path class="k16" d="M101.9 38.1l1 .4 3 5.8-.9-.4z"/><path class="k9" d="M92 29.2l.9.3 3.2 6.7-.9-.3z"/><path class="k4" d="M83 25l.9.2 3.3 2.9-.9-.3z"/><path class="k20" d="M111.9 46.3l1 .3 3 .9-1-.1z"/><path class="k16" d="M102.9 38.5l1 .3 3 5.8-1-.3z"/><path class="k9" d="M92.9 29.5l1 .2 3.2 6.8-1-.3z"/><path class="k4" d="M83.9 25.2l1 .2 3.3 2.9-1-.2z"/><path class="k20" d="M112.9 46.6l1 .3 3 .7-1-.1z"/><path class="k16" d="M103.9 38.8l1 .4 3 5.8-1-.4z"/><path class="k9" d="M93.9 29.7l1 .2 3.1 7-.9-.4z"/><path class="k4" d="M84.9 25.4l.9.2 3.3 3-.9-.3z"/><path class="k16" d="M104.9 39.2l1 .3 3 5.8-1-.3z"/><path class="k9" d="M94.9 29.9l.9.3 3.2 7-1-.3z"/><path class="k4" d="M85.8 25.6l1 .1 3.2 3.1-.9-.2z"/><path class="k16" d="M105.9 39.5l1 .3 3 5.8-1-.3z"/><path class="k9" d="M95.8 30.2l1 .2 3.2 7.1-1-.3z"/><path class="k4" d="M86.8 25.7l.9.2 3.3 3.1-1-.2z"/><path class="k17" d="M106.9 39.8l1 .4 3 5.8-1-.4z"/><path class="k9" d="M96.8 30.4l1 .2 3.1 7.2-.9-.3z"/><path class="k4" d="M87.7 25.9l1 .2 3.3 3.1-1-.2z"/><path class="k17" d="M107.9 40.2l1 .3 3 5.8-1-.3z"/><path class="k10" d="M97.8 30.6l1 .3 3.1 7.2-1-.3z"/><path class="k4" d="M88.7 26.1l.9.2 3.3 3.2-.9-.3z"/><path class="k17" d="M108.9 40.5l1 .4 3 5.7-1-.3z"/><path class="k10" d="M98.8 30.9l1 .3 3.1 7.3-1-.4z"/><path class="k4" d="M89.6 26.3l1 .2 3.3 3.2-1-.2z"/><path class="k17" d="M109.9 40.9l1 .4 3 5.6-1-.3z"/><path class="k10" d="M99.8 31.2l1 .2 3.1 7.4-1-.3z"/><path class="k4" d="M90.6 26.5l1 .1 3.3 3.3-1-.2z"/><path class="k10" d="M100.8 31.4l1 .3 3.1 7.5-1-.4z"/><path class="k4" d="M91.6 26.6l1 .2 3.2 3.4-.9-.3z"/><path class="k10" d="M101.8 31.7l1 .3 3.1 7.5-1-.3z"/><path class="k4" d="M92.6 26.8l1 .2 3.2 3.4-1-.2z"/><path class="k10" d="M102.8 32l1 .2 3.1 7.6-1-.3z"/><path class="k4" d="M93.6 27l.9.2 3.3 3.4-1-.2z"/><path class="k10" d="M103.8 32.2l1 .3 3.1 7.7-1-.4z"/><path class="k4" d="M94.5 27.2l1 .2 3.3 3.5-1-.3z"/><path class="k10" d="M104.8 32.5l1 .3 3.1 7.7-1-.3z"/><path class="k4" d="M95.5 27.4l1 .2 3.3 3.6-1-.3z"/><path class="k10" d="M105.8 32.8l1 .3 3.1 7.8-1-.4z"/><path class="k4" d="M96.5 27.6l1 .2 3.3 3.6-1-.2z"/><path class="k10" d="M106.8 33.1l1.1.3 3 7.9-1-.4z"/><path class="k4" d="M97.5 27.8l1 .2 3.3 3.7-1-.3z"/><path class="k5" d="M98.5 28l1 .2 3.3 3.8-1-.3zM99.5 28.2l1.1.2 3.2 3.8-1-.2zM100.6 28.4l1 .2 3.2 3.9-1-.3zM101.6 28.6l1 .2 3.2 4-1-.3zM102.6 28.8l1 .3 3.2 4-1-.3zM103.6 29.1l1.1.2 3.2 4.1-1.1-.3z"/></g>
<text x="100.9" y="71.8" class="an">(17.2 GHz,</text><text x="100.9" y="78.6" class="an">7.0 mm</text><text x="100.9" y="85.4" class="an">-25.18 dB)</text><path d="M121.8 76L135.1 79.7" stroke="#000" stroke-width="1.1"/><path d="M138.2 80.6L134.7 81.2L135.5 78.3z" fill="#000"/>
<linearGradient id="g3a" x1="0" y1="0" x2="0" y2="1"><stop offset="0.000" stop-color="#ff0000"/><stop offset="0.120" stop-color="#ff1000"/><stop offset="0.190" stop-color="#ff5000"/><stop offset="0.240" stop-color="#ff8000"/><stop offset="0.280" stop-color="#ffb000"/><stop offset="0.310" stop-color="#ffe000"/><stop offset="0.335" stop-color="#c8ff00"/><stop offset="0.370" stop-color="#00ff00"/><stop offset="0.500" stop-color="#00ff3c"/><stop offset="0.535" stop-color="#00ff96"/><stop offset="0.580" stop-color="#00ffff"/><stop offset="0.630" stop-color="#00beff"/><stop offset="0.700" stop-color="#006eff"/><stop offset="0.750" stop-color="#0000ff"/><stop offset="0.820" stop-color="#2800ff"/><stop offset="0.880" stop-color="#6e00ff"/><stop offset="0.950" stop-color="#a000ff"/><stop offset="1.000" stop-color="#b900ff"/></linearGradient><rect x="164.6" y="12.9" width="5.9" height="77.5" fill="url(#g3a)"/><text x="173.1" y="18.9" class="cb">0.000</text><text x="173.1" y="28.6" class="cb">-3.380</text><text x="173.1" y="38.3" class="cb">-7.770</text><text x="173.1" y="48" class="cb">-10.06</text><text x="173.1" y="57.7" class="cb">-13.56</text><text x="173.1" y="67.4" class="cb">-16.64</text><text x="173.1" y="77.1" class="cb">-20.13</text><text x="173.1" y="86.8" class="cb">-23.68</text>
<text transform="translate(26.1,63) rotate(-90)" class="r3" text-anchor="middle">RL (dB)</text>
<path d="M214.5 18.7L272.7 9.1L338.4 17.5M272.7 9.1L272.8 81.4M338.4 17.5L335.2 98.3" stroke="#b8b8b8" stroke-width="0.6" fill="none"/>
<clipPath id="flb"><polygon points="217.7,102.1 283.5,125.2 335.2,98.3 272.8,81.4"/></clipPath>
<g clip-path="url(#flb)">
<polygon points="217.7,102.1 283.5,125.2 335.2,98.3 272.8,81.4" fill="#ff0200"/>
<path fill="#ff0500" fill-rule="evenodd" d="M335.3 98.3 283.5 125.2 217.9 102.2 273.1 81.4 335.3 98.3Z"/>
<path fill="#ff0800" fill-rule="evenodd" d="M335.3 98.3 284.6 124.7 257.7 114.5 255.4 113.3 248.9 108.2 238 104.1 235.7 102.8 234.5 101.5 234.2 100.2 234.8 98.5 236.4 96.2 235.9 95.4 273 81.4 335.3 98.3Z"/>
<path fill="#ff0c00" fill-rule="evenodd" d="M335.3 98.3 285.8 124 259 113.9 256.9 112.2 254.1 108 252.3 106.3 242.5 102.6 241 101.8 240 100.4 240.1 98.9 241.4 97 245.2 93.2 245.4 92.5 244.9 92 273 81.4 335.3 98.3Z"/>
<path fill="#ff0f00" fill-rule="evenodd" d="M335.3 98.3 286.7 123.5 260.1 113.4 258.2 111.4 256.7 106.8 255.4 105 252.3 103.6 246.3 101.5 244.9 100.6 244.2 99.4 244.5 98 246.7 95.6 251.4 91.5 251.9 90.3 251.2 89.6 273 81.4 335.3 98.3Z"/>
<path fill="#ff2000" fill-rule="evenodd" d="M335.3 98.3 287.5 123.2 261.2 112.9 259.7 111 259 106.2 258.1 104.2 256.8 103.2 249.6 100.2 248.4 99.2 248.2 97.8 249.1 96.4 255 91.5 256.4 89.9 256.9 88.7 256.2 87.7 273 81.4 335.3 98.3Z"/>
<path fill="#ff3700" fill-rule="evenodd" d="M335.3 98.3 288.2 122.8 262.3 112.4 261.2 110.7 260.9 105.5 259.8 103.1 252.2 98 252.4 96.5 253.4 95.2 257.9 91.3 260.5 88.3 260.6 87 259.9 86.3 273 81.4 335.3 98.3Z"/>
<path fill="#ff4e00" fill-rule="evenodd" d="M335.3 98.3 288.8 122.4 264.5 112.3 262.9 110.8 262.5 105.4 261.8 103.1 256.1 97.5 255.8 96.5 256.4 95 262.6 88.3 263 87.1 262.8 85.3 273 81.4 335.3 98.3Z"/>
<path fill="#ff6600" fill-rule="evenodd" d="M335.2 98.3 289.5 122.1 274.6 115.9 266.2 111.7 264.4 110.2 263.3 103 258.6 96.5 258.4 95.3 261.9 90.3 264 88.3 265.5 84.2 273 81.4 335.2 98.3Z"/>
<path fill="#ff7e00" fill-rule="evenodd" d="M288.5 85.6 284.4 87.8 281.4 91.1 281.8 93.9 282.3 94.5 282 95.2 282.4 96.9 281.9 98.7 282.2 100.1 282.8 100.7 285.3 106.3 289.8 109.1 292.7 111.4 301.9 115.6 290.2 121.7 276 115.7 266.5 110.1 265.7 108.7 264.7 102.9 261.3 97.6 260.3 94.9 263 90.3 264.9 88.5 266 85.9 268 83.3 273 81.4 288.5 85.6ZM335.2 98.3 309.5 111.7 307 110.5 305.5 109.3 303.3 109 303.1 108.6 304.2 107.9 301.7 107.4 302.9 106.4 301.3 106.2 301.1 105.9 302 105.4 299.8 105 300.5 103.9 298.5 103.6 298.8 102.9 298.3 102.1 298.8 101.6 296.8 101.3 296.5 101 297.8 100.4 295.4 99.9 296.7 99.2 294.4 98.7 294.3 98.5 295.6 97.9 294.4 97.1 293.2 96.8 293.6 96.4 294.7 96.2 294.5 95.8 292.9 95.4 294.4 94.8 292.8 94.3 292.9 94 294.3 93.5 293.2 93.2 293.3 91.5 293.4 91.1 294.6 91 295 90.7 293.9 90 295.9 89.7 294.5 88.9 295.3 88.7 296.2 87.7 335.2 98.3Z"/>
<path fill="#ff9b00" fill-rule="evenodd" d="M286.7 85.1 282.1 87.5 279.2 90.9 279 99.2 282.4 106.7 290 112.2 299.6 116.8 291 121.3 277.4 115.5 268.2 109.3 267.3 108 265.8 102.5 261.7 94.9 263.8 90.4 265.7 88.8 267 85.7 270.2 82.5 273 81.4 286.7 85.1ZM335.2 98.3 312.1 110.3 309.5 108.7 307.7 108.2 308.2 107.4 306.5 106.9 306.3 106.5 306.9 106.1 305.3 105.6 305.8 104.8 304.1 104.4 304.4 103.4 302.6 102.9 302.8 101.4 301.1 101 301.1 100.6 301.7 100.2 300.2 99.7 300 99.4 300.7 98.9 298.9 98.2 299.6 97.5 298 96.6 299 95.8 297.6 95.3 298.8 94.7 297.5 94.1 297.4 93.9 298.4 93.3 297.6 92.9 297.7 91.8 297.8 91.5 298.6 91.3 298.9 90.9 298.3 90.3 299.8 89.9 298.9 89.3 299.7 89.1 299.9 88.7 321.9 94.7 320.6 95.2 320.8 95.4 322.1 95.6 324.1 95.3 335.2 98.3Z"/>
<path fill="#ffbc00" fill-rule="evenodd" d="M285.8 84.9 280.8 87.5 277.8 91 277 99.7 280 107 288 112.7 298 117.7 291.8 120.9 278.5 114.9 269.7 108.6 268.3 106.3 267.1 102.4 263.1 94.8 264.6 90.7 266.6 88.6 267.7 85.9 272.1 81.7 273 81.4 285.8 84.9ZM335.2 98.3 313.3 109.7 311.1 108.4 309.8 108 310 107.1 308.3 106.5 308.7 105.8 307.1 105.2 307.5 104.6 305.9 104 306.2 103.4 304.7 102.8 304.3 101.2 303 100.6 303.4 99.9 301.9 99.3 302.4 98.7 301 98.1 301.6 97.4 300.1 96.5 301 95.8 299.9 95.4 299.8 95.1 300.6 94.7 299.4 94 300.2 93.4 299.6 92.8 299.7 92 299.9 91.6 300.6 91.4 300.8 91.2 300.4 90.5 301.2 90.3 301.6 90 301 89.4 301.6 89.2 318.4 93.8 318 94.1 319.3 94.8 318.6 95.2 319.7 95.9 319.4 96.5 321.3 96.9 321 97.4 322.1 97.3 322.9 96.7 325.1 96 325.3 95.6 335.2 98.3Z"/>
<path fill="#fae300" fill-rule="evenodd" d="M285.1 84.7 279.9 87.3 276.9 90.7 275.2 99.7 278 107.5 285.9 113.3 296.3 118.5 293 120.3 280.3 114.5 271.4 107.9 269.8 105.6 268 101.2 264.3 94.9 265.3 90.7 267.3 88.8 268.3 86.1 273.5 81.5 285.1 84.7ZM335.2 98.3 314 109.3 312.4 108.2 311.1 107.9 311.1 106.9 309.5 106.3 309.5 105.4 308.3 105.1 308.6 104.5 307 103.9 307.1 103 305.6 102.3 305.5 101.3 304.3 100.8 304.4 99.9 303.2 99.2 303.5 98.6 302.3 98 302.7 97.3 301.4 96.4 302.1 95.7 301.1 95.2 301.7 94.6 300.7 94 301.4 93.3 300.9 93 300.7 91.8 302 91.4 301.4 90.8 302.6 90.3 302.4 89.4 317.5 93.5 316.8 94.2 317.9 94.7 317.4 95.4 318.3 95.8 317.8 96.4 319 96.9 318.7 97.7 321.1 97.9 323.3 97.7 324.7 97.2 326.3 95.9 335.2 98.3Z"/>
<path fill="#baff00" fill-rule="evenodd" d="M284.5 84.5 279.2 87.1 275.8 90.8 274.9 94.6 273 99.8 274.3 103.8 274.1 105.3 273.5 105.7 271.5 104.5 269.1 99.9 266.9 97.4 265.5 95.1 265.4 93.4 266.1 90.7 268 89 269.2 85.9 274.3 81.7 284.5 84.5ZM335.2 98.3 314.5 109.1 311.7 107.6 311.9 107 310.5 106.3 310.4 105.4 309.3 105 309.2 104.2 307.7 103.5 308 103 306.5 102.3 306.3 101.1 305.1 100.4 305.4 99.8 304.1 99.2 304.4 98.6 303.1 97.9 303.5 97.4 302.5 96.6 302.7 95.7 301.9 95.2 302.6 94.5 301.6 93.8 302.1 93.2 301.7 93 301.6 92.1 302.7 91.4 302.3 90.8 303.2 90.4 303 89.6 316 93.1 316.6 93.7 316.2 94.3 317.1 94.7 316.5 95.4 317.6 96.1 316.9 96.4 318.1 97.1 317.8 97.7 319.4 98.2 319.2 98.8 319.7 99 321.7 99 323.5 98.6 324.4 98 326.1 97.1 327.1 96.1 335.2 98.3Z"/>
<path fill="#2bff00" fill-rule="evenodd" d="M283.9 84.4 278.2 87.3 274.8 91 273.7 94.7 272.3 97.1 271.4 97.9 270.5 98.1 268.7 97.5 266.7 95 266.4 93 266.8 90.8 268.8 88.8 269.7 86.1 274.9 81.9 283.9 84.4ZM335.2 98.3 314.9 108.8 312.5 107.6 312.5 106.7 311 106.1 311.1 105.4 309.7 104.8 309.9 104.3 308.4 103.6 308.4 102.8 307.1 102.2 307 101.2 305.7 100.5 306 100 304.8 99.3 304.8 98.4 303.8 98 304 97.1 302.9 96.4 303.6 95.7 302.7 95.3 302.6 95 303.2 94.7 302.2 93.9 302.9 93.3 302.3 92.7 302.3 92 303.3 91.3 302.9 90.8 304.1 90.3 303.6 89.7 315.6 93 315.9 93.6 315.4 94.2 316.4 94.9 315.9 95.2 316.9 96 316.5 96.6 317.4 97.1 316.9 97.7 318.4 98.3 318.1 98.9 318.5 99.1 321.1 99.6 322.1 99.5 324.1 99 325.6 98.3 327.7 96.3 335.2 98.3ZM322.5 99.8 322 99.6 320.7 100.1 322.1 100 322.5 99.8Z"/>
<path fill="#00ff08" fill-rule="evenodd" d="M283.4 84.2 277.6 87.1 274 90.7 272.1 94.7 270.8 95.8 269.8 95.9 268.4 95 267.8 93.9 267.7 90.7 269.6 89 270.4 86.1 275.5 82.1 283.4 84.2ZM335.2 98.3 315.3 108.7 312.9 107.4 312.8 106.6 311.7 106.2 311.5 105.3 310.2 104.6 310.3 104.1 308.9 103.4 309.1 102.8 307.6 102.2 307.4 101 306.3 100.6 306.5 99.7 305.3 99 305.6 98.5 304.3 97.8 304.6 97.2 303.6 96.5 304.1 95.8 303.1 95.1 303.7 94.4 302.9 94 302.8 93.7 303.4 93.4 302.8 92 303.9 91.4 303.4 90.9 304.5 90.4 304.1 89.9 315.2 92.9 314.7 93.2 315.3 93.5 314.9 94.1 315.9 94.7 315.3 95.5 316.3 96.2 315.8 96.5 316.7 96.9 316.6 97.9 317.7 98.3 317.6 99.1 319.3 99.6 319 100.2 320.5 100.3 321.3 100.8 322.9 100.7 326.4 98.5 328.4 96.5 335.2 98.3Z"/>
<path fill="#00ff14" fill-rule="evenodd" d="M335.2 98.3 315.6 108.5 313.7 107.6 313.5 106.7 312 106 311.8 105.1 310.8 104.8 310.6 103.9 309.5 103.6 309.4 102.7 308 102.1 307.9 101 306.7 100.5 306.9 99.8 305.8 99.2 306 98.6 304.8 97.8 304.9 97.1 304 96.3 304.4 95.7 303.7 95.3 304.2 94.5 303.2 93.9 303.7 93.3 303.2 92.1 304.3 91.6 303.9 91 304.8 90.5 304.6 90 314.6 92.7 314.3 93.2 315 93.7 314.6 94.2 315.3 94.7 314.9 95.3 315.9 96.1 315.6 96.7 316.4 97.1 316 97.7 317.2 98.4 316.9 99 318.4 99.6 318.2 100.3 319.9 100.7 319.9 101.1 322.4 101.2 324.6 100.7 327.5 98.4 329.1 96.6 335.2 98.3ZM283 84.1 281 85.2 277 86.9 273.9 89.4 271.7 92.8 270.8 93.4 270.2 93.6 269.4 93.2 268.8 92.4 268.7 90.5 270.4 89.3 271.1 86.1 276 82.2 283 84.1Z"/>
<path fill="#00ff1f" fill-rule="evenodd" d="M335.2 98.3 325.9 103.1 324.2 103.4 323.7 103.7 324.3 104 315.8 108.4 313.9 107.4 313.8 106.5 312.3 105.8 312.5 105.3 311.1 104.6 310.8 103.8 309.8 103.4 309.7 102.6 308.5 102.2 308.3 101 307 100.3 307.3 99.8 306.1 99.1 306.4 98.5 305.2 97.8 305.5 97.3 304.4 96.3 304.7 95.6 304 95.1 304.5 94.5 303.6 93.9 304.2 93.2 303.6 92.2 304.6 91.6 304.3 91.1 304.4 90.8 305.1 90.5 305.1 90.1 314.1 92.6 314.1 93.2 314.5 93.5 314.2 94.3 315 94.8 314.6 95.5 315.4 95.9 315.2 96.7 316 97.3 315.7 97.9 316.8 98.5 316.6 99.2 317.9 99.7 317.7 100.4 319 100.6 319 101.1 321.7 101.6 321.9 102.4 324.1 102.4 325.4 101.8 325.2 101.2 326.4 100.3 329.6 96.8 335.2 98.3ZM271.3 90.4 271.2 90.8 270.7 91 270.3 90.6 271.1 90.3 271.3 90.4ZM282.5 84 280.5 85 276.4 86.7 273.7 88.5 272.7 88.8 272.1 88.7 271.7 86.2 276.5 82.4 282.5 84Z"/>
<path fill="#00ff2b" fill-rule="evenodd" d="M313.6 92.5 314.2 93.6 313.7 94.2 314.7 94.9 314.3 95.6 315.1 96 314.6 96.6 315.6 97.1 315.3 97.7 316.4 98.4 316.3 99.3 317.4 99.7 317.1 100.4 318.2 100.6 318.6 101.3 320.6 101.7 320.8 102.5 323.4 103 322.6 103.9 323.8 104.2 316.1 108.3 314.1 107.3 314 106.4 312.9 106 312.7 105.2 311.4 104.5 311.5 103.9 310 103.3 309.9 102.5 308.8 102.1 308.5 100.9 307.5 100.4 307.6 99.6 306.6 99.2 306.7 98.4 305.7 98 305.8 97.1 304.7 96.4 305.3 95.7 304.3 95 304.8 94.4 304 93.9 304.5 93.3 304 92.3 304.2 92 304.8 91.7 304.7 90.9 305.4 90.6 305.5 90.2 313.6 92.5ZM282 83.9 280 84.9 274 87.3 273.2 87.3 272.6 86.5 272.8 86.1 277 82.5 282 83.9ZM335.2 98.3 326.8 102.7 326.4 102.4 326.8 101.7 326.8 100.9 330.2 97 335.2 98.3Z"/>
<path fill="#00ff36" fill-rule="evenodd" d="M313.3 92.3 313.7 92.9 313.2 93.2 313.9 93.7 313.6 94.3 314.3 94.8 313.9 95.5 314.9 96.2 314.2 96.5 315.4 97.2 315 97.8 316 98.6 315.7 99.1 317.1 99.8 316.7 100.4 318 100.7 318.3 101.4 320.2 101.8 320.5 102.6 322.4 103.1 322.3 104.1 323.4 104.4 316.3 108.2 314.4 107.2 314.5 106.6 313.1 105.9 312.9 105.1 311.7 104.6 311.7 103.8 310.6 103.5 310.4 102.6 309 102 308.7 100.8 307.8 100.4 308 99.7 306.8 99.1 307.1 98.5 305.9 97.9 306.1 97.3 305.1 96.2 305.5 95.6 304.6 95.1 305.1 94.4 304.3 93.8 304.7 93.2 304.3 92.2 305.2 91.5 304.9 90.9 305.9 90.4 313.3 92.3ZM335.2 98.3 327.7 102.2 328 100.7 330.8 97.1 335.2 98.3ZM281.5 83.7 279.5 84.7 277.6 85.4 275.6 86 274.6 86.1 274.4 85.8 274.8 85 277.5 82.6 281.5 83.7Z"/>
<path fill="#00ff5c" fill-rule="evenodd" d="M313 92.3 313.5 92.8 312.7 93 313.5 93.5 313.4 94.4 314.1 94.9 313.6 95.5 314.6 96.1 314 96.5 315 97.1 314.7 97.9 315.6 98.3 315.6 99.2 316.7 99.9 316.5 100.5 317.7 100.8 318.1 101.5 319.9 102 319.8 102.6 321.7 103.1 321.5 104 323.1 104.6 316.5 108 315 107.4 314.8 106.5 313.3 105.8 313.4 105.3 312 104.6 311.9 103.7 310.6 103.3 310.6 102.5 309.2 101.9 309.3 101 308 100.3 308.3 99.7 307 99 307.3 98.5 306.1 97.8 306.3 97.3 305.4 96.2 305.8 95.8 305 95.1 305.5 94.5 304.5 93.8 304.9 93.1 304.5 92.1 305.5 91.5 305.2 91 306.2 90.4 313 92.3ZM335.2 98.3 329 101.5 329 100.6 331.4 97.3 335.2 98.3ZM280.9 83.6 278.8 84.6 277.7 84.8 276.7 84.9 276.5 84.4 278.2 82.8 280.9 83.6Z"/>
<path fill="#00ff9c" fill-rule="evenodd" d="M312.7 92.2 313.2 92.8 312.4 93 313.4 93.6 313 94.2 313.8 95 313.4 95.6 314.3 96 313.8 96.6 314.7 97.1 314.4 97.8 315.5 98.4 315.1 99 316.4 99.8 316.3 100.6 317.5 101 317.4 101.4 319.2 101.9 319.5 102.7 321.3 103.2 321.3 104.1 322.7 104.8 316.7 107.9 315.1 107.3 315 106.4 313.5 105.7 313.7 105.1 312.2 104.5 312.1 103.7 310.9 103.3 310.9 102.4 309.8 102.1 309.4 100.9 308.2 100.2 308.5 99.6 307.3 99 307.5 98.4 306.4 97.8 306.6 97.1 305.6 96.2 306 95.8 305.4 95.3 305.7 94.5 304.8 93.8 305.2 93.1 304.8 92.1 305.8 91.6 305.4 91 306.5 90.5 312.7 92.2ZM335.2 98.3 330.1 100.9 330.1 100.4 332 97.5 335.2 98.3ZM279.9 83.3 279.2 83.3 279.2 83.1 279.9 83.3Z"/>
<path fill="#00ffd6" fill-rule="evenodd" d="M312.5 92.2 313 92.7 312.2 92.9 313.1 93.7 312.7 94.3 313.6 95 313.2 95.3 314 96.1 313.7 96.7 314.5 97.2 314.2 97.8 315.3 98.5 314.9 99.1 316.1 99.8 315.7 100.5 317.1 100.9 317.2 101.5 319 102 319.3 102.8 321 103.3 321 104.2 322.3 104.7 322.1 105.1 316.8 107.9 315.3 107.2 315.1 106.3 313.8 105.7 313.8 105.1 312.4 104.4 312.5 103.8 311.1 103.2 311.2 102.5 309.9 102 309.6 100.8 308.5 100.3 308.6 99.6 307.6 99.1 307.7 98.3 306.8 97.9 306.9 97.1 305.8 96.3 306.3 95.7 305.5 95.2 305.9 94.6 305 93.8 305.6 93.2 305 92.2 306 91.6 305.6 91.1 306.1 90.8 306.6 90.6 312.5 92.2ZM335.2 98.3 331.3 100.3 333.1 97.7 335.2 98.3Z"/>
<path fill="#00f5ff" fill-rule="evenodd" d="M312.3 92.1 312.7 92.6 312 93 312.8 93.8 312.5 94.2 313.3 94.8 312.9 95.4 313.8 96.2 313.3 96.7 314.4 97.2 314 97.8 315 98.5 314.7 99.2 315.9 100 315.6 100.6 316.8 100.9 317.1 101.6 318.8 102.1 318.9 102.8 320.4 103.2 320.7 104.3 322 104.7 321.7 105.3 317 107.8 315.5 107.1 315.6 106.6 314.2 105.9 314 105 312.6 104.3 312.7 103.8 311.3 103.1 311.5 102.5 310.1 101.9 310 101.1 308.8 100.3 308.8 99.5 307.8 99.1 308 98.3 306.9 97.8 307.1 97.1 306.1 96.4 306.5 95.6 305.7 95.1 306.1 94.5 305.3 93.7 305.8 93.3 305.2 92.2 306.3 91.7 305.8 91.2 306.2 90.8 306.8 90.6 312.3 92.1Z"/>
<path fill="#00d5ff" fill-rule="evenodd" d="M312.2 92.1 312.4 92.5 311.8 93.1 312.6 93.5 312.2 94.2 313.2 94.9 312.6 95.5 313.5 96 313.6 96.3 313 96.6 314.2 97.3 313.8 97.9 314.7 98.4 314.4 99.2 315.5 99.7 315.4 100.6 316.6 101 316.9 101.7 318.5 102.2 318.4 102.7 320.1 103.3 320.2 104.2 321.7 104.8 321.4 105.5 317.2 107.7 315.6 107 315.8 106.5 314.3 105.8 314.1 104.9 312.9 104.4 312.9 103.7 311.5 103 311.7 102.5 310.2 101.8 310.3 100.9 309 100.3 309.2 99.5 308 99 308.3 98.4 307.1 97.8 307.4 97.2 306.4 96.4 306.8 95.7 305.8 95.1 306.4 94.4 305.6 94 305.5 93.6 306 93.3 305.4 92.3 306.4 91.7 306 91.2 306.3 90.9 307 90.6 312.2 92.1Z"/>
<path fill="#00b5ff" fill-rule="evenodd" d="M312.1 92 312.2 92.5 311.7 93.2 312.5 93.6 312.1 94.2 312.9 94.8 312.4 95.5 313.4 96 312.9 96.7 314 97.3 313.6 98 314.5 98.4 314.2 99.1 315.3 99.8 315.2 100.7 316.4 101 316.4 101.6 318.1 102.1 318.3 102.8 320 103.4 320 104.3 321.5 105 321.3 105.6 317.3 107.6 316.2 107.2 316 106.4 314.5 105.7 314.3 104.8 313.2 104.5 313.1 103.6 311.8 103.1 311.9 102.4 310.4 101.8 310.5 100.8 309.4 100.5 309.2 100.2 309.5 99.6 308.2 98.9 308.5 98.3 307.2 97.7 307.5 97.1 306.5 96.4 307 95.7 306 95 306.6 94.3 305.7 93.7 306.2 93.3 305.6 92.3 306.6 91.8 306.2 91.3 306.5 90.9 307.1 90.7 312.1 92Z"/>
<path fill="#0099ff" fill-rule="evenodd" d="M311.9 92 312 92.6 311.4 93.1 312.3 93.7 311.9 94.3 312.6 94.7 312.2 95.5 313.2 96.1 312.8 96.7 313.7 97.2 313.4 98 314.4 98.5 314 99.1 315.2 99.9 314.7 100.5 316.2 101.1 316.1 101.6 317.9 102.1 318.1 102.9 319.8 103.5 319.9 104.4 321.2 104.9 321.1 105.7 317.4 107.6 316.3 107.2 316.1 106.3 315 105.9 314.7 104.9 313.3 104.4 313.2 103.5 312.1 103.2 311.9 102.8 312 102.3 310.6 101.7 310.7 100.9 309.3 100.1 309.6 99.5 308.6 99.1 308.4 98.8 308.7 98.3 307.4 97.7 307.7 97 306.7 96.3 307.1 95.7 306.3 95.1 306.8 94.4 305.9 93.7 306.4 93.2 305.8 92.4 306.8 91.8 306.6 91 307.3 90.7 311.9 92Z"/>
<path fill="#007cff" fill-rule="evenodd" d="M311.8 92 311.9 92.7 311.1 93 312.2 93.7 311.7 94.3 312.5 94.8 312 95.4 313.1 96.1 312.6 96.8 313.5 97.2 313.1 97.9 314.2 98.6 313.8 99.2 315 99.9 314.5 100.6 315.8 101 316 101.7 317.7 102.2 317.8 103 319.5 103.5 319.4 104.1 320.9 104.8 320.9 105.7 317.5 107.5 316.4 107.1 316.3 106.2 314.8 105.5 315 105 313.5 104.3 313.5 103.6 312.2 103.1 312.2 102.2 311 101.9 310.9 101 309.5 100.1 309.8 99.4 308.6 98.9 308.8 98.2 307.7 97.7 307.9 97 306.8 96.2 307.3 95.6 306.5 95.2 307 94.5 306 93.7 306.6 93.1 306 92.5 307 91.8 306.7 91 307.4 90.8 311.8 92Z"/>
<path fill="#0052ff" fill-rule="evenodd" d="M311.7 91.9 311.3 92.2 311.7 92.8 311 93 312 93.7 311.6 94.4 312.4 94.8 311.9 95.5 312.8 96.1 312.4 96.8 313.4 97.3 312.9 97.9 314.1 98.6 313.6 99.3 314.8 100 314.2 100.5 315.6 101 315.8 101.8 317.6 102.3 317.8 103.1 319.4 103.6 319.3 104.3 320.7 104.9 320.8 105.8 317.7 107.4 316.5 107.1 316.4 106.2 315.2 105.8 315.1 104.9 313.6 104.3 313.8 103.7 312.3 103.1 312.3 102.1 311.1 101.8 311.2 101 309.7 100.2 309.9 99.4 308.8 99 309 98.1 307.9 97.8 308.1 97 307.2 96.5 307.4 95.5 306.7 95.1 307.2 94.4 306.2 93.8 306.8 93.1 306.2 92.5 306.4 92.1 307.1 91.7 306.9 91 307.6 90.8 311.7 91.9Z"/>
<path fill="#001bff" fill-rule="evenodd" d="M311.5 91.9 311.1 92.2 311.6 92.7 310.8 92.9 311.8 93.6 311.2 94.3 312.3 94.9 311.7 95.6 312.6 96 312.1 96.7 313.2 97.4 312.7 98 313.9 98.6 313.3 99.3 314.5 99.8 314.6 100.2 314 100.5 314.3 100.8 315.5 101 315.6 101.9 317.4 102.3 317.3 102.9 319.3 103.7 319 104.3 320.6 105 320.2 105.6 320.7 105.9 317.8 107.4 316.6 107 316.5 106.1 315.2 105.6 315.3 104.8 313.7 104.2 314 103.6 312.4 103 312.5 102.1 311.3 101.8 311.1 101.5 311.4 100.8 309.9 100.2 310.4 99.6 309 99 309.3 98.2 308 97.7 308.4 97 307.3 96.4 307.6 95.5 306.8 95 307.3 94.4 306.4 93.8 307 93.2 306.3 92.5 307.3 91.6 307 91.1 307.7 90.8 311.5 91.9Z"/>
<path fill="#0700ff" fill-rule="evenodd" d="M311.4 91.8 310.9 92.1 311.5 92.7 310.7 92.9 311.7 93.6 311 94.3 312.1 95 311.5 95.7 312.5 96 311.9 96.7 313.1 97.4 312.6 98.1 313.6 98.5 313 99.3 314.3 99.8 314.4 100.1 313.7 100.6 315.4 101.1 315.3 101.8 317.1 102.3 317.1 103 318.8 103.5 318.8 104.4 320.4 105 320 105.7 320.6 105.9 317.9 107.3 316.8 106.9 317.1 106.3 315.4 105.7 315.4 104.7 314 104.2 314.2 103.5 312.6 102.9 312.6 102 311.3 101.5 311.7 100.7 310.3 100.3 310.6 99.5 309.1 98.9 309.6 98.2 308.2 97.7 308.6 97 307.3 96.3 308 95.6 307 94.9 307.4 94.3 306.6 93.9 306.7 93.5 307.2 93.2 306.5 92.4 307.5 91.6 307.1 91.1 307.8 90.9 311.4 91.8Z"/>
<path fill="#1500ff" fill-rule="evenodd" d="M311.3 91.8 310.7 92.1 311.3 92.7 310.5 92.9 311.5 93.7 310.9 94.3 312 95 311.3 95.6 312.3 96.1 311.8 96.8 312.9 97.4 312.4 98.2 313.5 98.5 312.8 99.3 314.2 99.9 313.4 100.7 315.2 101.2 314.9 101.8 316.8 102.2 316.9 103.1 318.7 103.5 318.7 104.5 320.2 105.1 319.8 105.8 320.4 106 318 107.3 316.9 106.8 317.3 106.2 315.6 105.6 315.7 104.8 314.2 104.3 314.4 103.4 312.7 102.9 313.2 102.2 311.5 101.7 311.6 101.2 312.1 100.9 310.6 100.4 310.4 100 310.9 99.6 309.3 98.8 309.7 98.2 308.3 97.6 308.7 97 307.5 96.3 308.2 95.7 307.3 95.2 307.5 94.3 306.7 93.8 307.4 93.2 306.7 92.2 307.8 91.7 307.3 91.1 307.9 90.9 311.3 91.8Z"/>
<path fill="#2400ff" fill-rule="evenodd" d="M311.2 91.8 310.5 92 311.2 92.6 310.2 93 311.3 93.7 310.8 94.4 311.8 94.9 311 95.6 312.2 96.2 311.6 96.8 312.8 97.4 312 98.1 313.3 98.6 312.5 99.4 314.1 100 312.8 100.6 315.1 101.2 314.6 101.9 316.7 102.3 316.7 103.2 318.6 103.6 318.2 104.3 320 105 319.6 105.9 320.3 106 318 107.2 317.1 106.8 317.5 106.1 315.7 105.5 316 104.9 314.4 104.3 314.5 103.3 313.1 103 313.6 102 311.6 101.6 311.7 101.2 312.8 100.6 310.7 100.3 310.6 99.9 311.2 99.6 309.7 99 309.4 98.8 309.9 98.1 308.4 97.5 308.9 96.9 307.7 96.2 308.3 95.7 307.4 95.2 307.9 94.5 306.9 93.8 307.5 93.1 306.8 92.3 308.1 91.8 307.4 91.2 308 90.9 311.2 91.8Z"/>
<path fill="#3c00ff" fill-rule="evenodd" d="M314.7 101.1 314.6 101.6 314 101.9 314.2 102.1 316.5 102.3 316.5 103.3 318.4 103.7 317.9 104.4 319.7 105 319.2 105.8 320.2 106.1 318.1 107.2 317.2 106.7 317.7 106 315.8 105.5 316.3 104.7 314.5 104.3 314.7 103.2 313.3 103 313.2 102.7 313.9 101.9 312.3 101.7 311.9 101.2 313 100.9 314.7 101.1ZM313.9 100 313.5 100.3 312.6 100.5 311.3 100.4 310.7 100 311.3 99.7 312.3 99.5 313.9 100ZM311.1 91.8 310.3 92 311 92.6 309.9 93.1 310.9 93.5 311.1 93.8 310.6 94.1 310.7 94.4 311.6 94.9 310.8 95.5 312.1 96.2 311.5 96.6 311.5 96.9 312.6 97.3 311.7 98.1 313.2 98.7 312.6 99.1 311.8 99.3 309.8 99 309.6 98.7 310 98.1 308.6 97.5 309 96.9 307.9 96.1 308.5 95.7 308.4 95.5 307.4 95 308.3 94.4 307 93.7 307.7 93.3 307.7 93 306.9 92.3 308.3 91.8 307.5 91.2 308.1 91 311.1 91.8Z"/>
<path fill="#5a00ff" fill-rule="evenodd" d="M319.7 106.4 318.2 107.1 317.4 106.7 317.7 106.3 318.4 106.1 320.1 106.1 319.7 106.4ZM318.2 104 317.6 104.6 319.6 105 319.5 105.4 319 105.7 317.8 105.9 316.4 105.7 316 105.3 316.6 104.6 314.6 104.2 314.6 103.9 315.7 103.3 317.8 103.5 318.2 104ZM316.5 102.6 315.4 103.2 313.4 103 313.3 102.6 313.9 102.3 315 102.2 315.8 102.2 316.5 102.6ZM314.4 101.5 313.7 101.8 313.1 101.8 312.4 101.7 312 101.3 312.9 101 314.4 101.1 314.4 101.5ZM313.6 99.9 313.4 100.3 312.3 100.4 311.4 100.4 310.9 100 312.1 99.6 313.6 99.9ZM311 91.7 310.1 91.9 310.8 92.5 309.7 93 310.8 93.6 311 93.8 310.4 94.2 311.4 94.9 310.6 95.5 311.9 96.3 311 96.8 312.4 97.3 311.5 98.2 313.1 98.7 312.1 99.2 309.9 99 309.7 98.8 310.9 98.1 308.8 97.6 309.3 96.8 308.2 96.4 308.5 95.4 307.6 95 308.5 94.4 307.2 93.7 307.9 93.3 307.1 92.3 308.6 91.9 307.7 91.2 308.2 91 311 91.7Z"/>
<path fill="#7300ff" fill-rule="evenodd" d="M319.7 106.4 318.3 107.1 317.6 106.8 317.9 106.4 318.7 106.1 320 106.2 319.7 106.4ZM318 104 317.4 104.7 319.4 105.1 318.8 105.7 317.5 105.8 316.5 105.6 316.1 105.4 317.1 104.7 316.9 104.5 315.3 104.3 314.7 104 315.2 103.6 316.1 103.4 317.7 103.6 318 104ZM316.3 102.5 316 102.9 314.9 103.1 313.6 102.9 313.5 102.7 314 102.3 314.9 102.3 316.3 102.5ZM314.3 101.5 313.2 101.7 312.2 101.3 312.9 101.1 313.6 101.1 314.3 101.2 314.3 101.5ZM313.2 100.2 311.5 100.3 311 100.1 311.6 99.8 312.7 99.8 313.4 99.9 313.2 100.2ZM312.9 98.8 312.3 99.1 311.3 99.1 309.9 98.8 310.3 98.5 311.3 98.3 312.6 98.5 312.9 98.8ZM310.9 91.7 309.9 91.9 310.5 92.5 310.3 92.8 309.3 93.1 310.8 93.8 309.8 94.4 311 94.7 311.2 95 310.5 95.4 311.8 96.2 310.6 96.8 312.2 97.4 311.3 97.9 310.2 97.9 309 97.7 309.2 97.3 309.9 96.8 308.3 96.4 308.2 96.1 309.1 95.6 307.8 95.1 308 94.7 308.7 94.5 307.3 93.7 308.5 93.2 307.4 92.8 307.2 92.4 308.9 92 307.8 91.3 308.3 91 310.9 91.7Z"/>
<path fill="#8500ff" fill-rule="evenodd" d="M319.6 106.4 318.4 107.1 317.8 106.9 318 106.4 318.9 106.2 319.9 106.2 319.6 106.4ZM319.2 105.3 318.7 105.6 317.3 105.7 316.4 105.4 316.6 105 318 104.8 318.8 104.9 319.2 105.3ZM317.9 103.9 317.4 104.3 316.2 104.4 314.9 104 315.3 103.7 316.3 103.5 317.6 103.6 317.9 103.9ZM315.8 102.9 314.7 103 313.7 102.8 314.1 102.4 315.6 102.3 316.1 102.5 315.8 102.9ZM314.1 101.4 313.3 101.7 312.5 101.4 313.1 101.1 314.1 101.4ZM313 100.2 311.6 100.3 311.3 100.1 311.7 99.8 312.6 99.8 313 100.2ZM312.7 98.7 312.2 99 311.4 99.1 310.6 99.1 310.2 98.8 310.4 98.5 311 98.4 312.7 98.7ZM311.6 96.2 311.2 96.5 310.3 96.7 310.4 97 311.8 97.2 312 97.5 311.2 97.8 310.3 97.9 309.2 97.6 310.2 96.7 308.8 96.5 308.3 96.1 308.9 95.8 310 95.7 311.6 96.2ZM310.7 93.8 309.4 94.2 310.9 94.7 311 95.1 309.3 95.5 308.2 95.2 308.1 94.8 309.3 94.2 308 94.1 307.5 93.7 308 93.4 308.9 93.3 310.2 93.4 310.7 93.8ZM310.8 91.7 309.7 91.8 310.2 92.8 308.6 93 307.5 92.7 307.3 92.4 308 92.2 309.2 92.1 308 91.3 308.4 91 310.8 91.7Z"/>
<path fill="#9700ff" fill-rule="evenodd" d="M319.6 106.4 318.5 107 318.1 106.7 318.2 106.5 318.9 106.3 319.6 106.4ZM319.1 105.3 318.5 105.6 317.4 105.6 316.6 105.5 316.8 105.1 317.9 104.9 319.1 105.3ZM317.7 103.9 317.3 104.2 316.2 104.3 315.2 103.9 316.5 103.5 317.7 103.9ZM315.7 102.8 314.4 102.9 313.8 102.7 314.3 102.4 315.5 102.4 315.7 102.8ZM313.9 101.4 312.7 101.5 313.9 101.4ZM312.9 100.1 311.8 100.2 312 99.9 312.9 100.1ZM312.5 98.6 312 99 311.6 99 310.7 99 310.5 98.7 311.7 98.5 312.5 98.6ZM311.8 97.6 310.5 97.8 309.4 97.5 309.4 97.3 311.1 97.1 311.8 97.6ZM311.4 96.1 311.1 96.5 310 96.6 308.9 96.5 308.5 96.2 309 95.9 310.2 95.8 311.4 96.1ZM310.8 95.1 309.5 95.4 308.3 95.1 308.3 94.8 309.6 94.5 310.8 94.8 310.8 95.1ZM310.6 93.7 310.1 94 309.1 94.2 307.6 93.8 308.1 93.5 308.7 93.3 310.2 93.5 310.6 93.7ZM309.7 92.2 310.2 92.6 309.9 92.8 308.1 92.8 307.5 92.5 308.1 92.2 309.7 92.2ZM310.7 91.7 308.9 91.7 308.2 91.4 308.5 91.1 310.7 91.7Z"/>
<path fill="#a600ff" fill-rule="evenodd" d="M319.6 106.4 318.7 106.9 318.4 106.5 319.6 106.4ZM318.8 105.2 318.4 105.5 317.5 105.6 316.8 105.5 316.9 105.1 318.1 105 318.8 105.2ZM317.5 103.8 317.1 104.2 316.4 104.2 315.6 104.2 315.6 103.8 316.8 103.6 317.5 103.8ZM315.5 102.8 314.6 102.8 314.4 102.5 315.3 102.5 315.5 102.8ZM312.3 100 312.3 100ZM311.9 98.9 310.9 98.9 310.8 98.6 311.5 98.6 312.1 98.8 311.9 98.9ZM311.6 97.5 310.6 97.8 309.6 97.4 311 97.2 311.6 97.5ZM311 96 311.2 96.2 310.6 96.5 309 96.5 308.6 96.2 309.3 95.9 311 96ZM310.7 95 310 95.3 308.9 95.2 308.4 94.8 309.4 94.6 310.7 94.8 310.7 95ZM310.4 93.7 310 94 308.8 94.1 307.8 93.8 308.6 93.4 310.1 93.5 310.4 93.7ZM310 92.7 308.2 92.8 307.7 92.5 308.3 92.2 309.5 92.2 310 92.7ZM310.6 91.6 309.7 91.7 308.5 91.5 308.6 91.1 310.6 91.6Z"/>
<path fill="#b300ff" fill-rule="evenodd" d="M319.6 106.4 318.8 106.8 318.6 106.6 319.6 106.4ZM318.5 105.1 318.2 105.5 317 105.4 317.1 105.2 318.5 105.1ZM316.9 104.1 315.8 104.1 315.8 103.8 316.6 103.7 317.2 103.8 316.9 104.1ZM315.2 102.7 314.8 102.6 315.2 102.7ZM311.6 98.8 311 98.7 311.6 98.8ZM311.5 97.5 310.7 97.7 309.8 97.4 310.9 97.2 311.5 97.5ZM310.9 96.4 309 96.4 308.8 96.3 309.3 96 310.8 96 310.9 96.4ZM310.6 95 309.8 95.2 309 95.2 308.5 94.9 309.4 94.7 310.6 95ZM310.1 93.6 309.8 93.9 309 94 308.2 93.9 308.1 93.6 309.3 93.5 310.1 93.6ZM309.9 92.7 308.3 92.7 308 92.6 308.4 92.3 309.3 92.3 309.9 92.7ZM310.4 91.6 308.6 91.4 308.8 91.1 310.4 91.6Z"/>
<path fill="#b900ff" fill-rule="evenodd" d="M319 106.7 319 106.7ZM318 105.4 317.2 105.2 318.2 105.2 318 105.4ZM316.6 104.1 316 103.9 316.4 103.8 316.6 104.1ZM311.3 97.4 310.5 97.6 310 97.5 310.7 97.3 311.3 97.4ZM310.7 96.4 309.1 96.4 309.5 96 310.6 96.1 310.7 96.4ZM310.5 95 309.6 95.2 308.6 94.9 309.6 94.7 310.5 95ZM309.7 93.9 308.4 93.9 308.4 93.5 309.9 93.6 309.7 93.9ZM309.8 92.6 308.4 92.7 308.6 92.3 309.2 92.3 309.8 92.6ZM310.3 91.5 309.3 91.5 308.9 91.2 310.3 91.5Z"/>
</g>
<path d="M217.7 102.1L283.5 125.2L335.2 98.3" stroke="#555" stroke-width="0.6" fill="none"/><path d="M217.7 102.1L215.8 102.8M225 104.7L223.1 105.4M232.6 107.3L230.6 108.1M240.3 110.1L238.4 110.9M248.4 112.9L246.5 113.7M256.7 115.8L254.8 116.7M265.3 118.8L263.4 119.7M274.2 122L272.4 122.9M283.5 125.2L281.7 126.2M283.5 125.2L285.4 125.9M295.3 119.1L297.2 119.7M306.3 113.3L308.1 113.9M316.6 108L318.4 108.5M326.2 103L328 103.5M335.2 98.3L336.9 98.8" stroke="#555" stroke-width="0.5"/><text x="212.9" y="105.1" class="t3" text-anchor="middle">2</text><text x="220.2" y="107.8" class="t3" text-anchor="middle">4</text><text x="227.7" y="110.5" class="t3" text-anchor="middle">6</text><text x="235.5" y="113.3" class="t3" text-anchor="middle">8</text><text x="243.6" y="116.2" class="t3" text-anchor="middle">10</text><text x="251.9" y="119.2" class="t3" text-anchor="middle">12</text><text x="260.6" y="122.3" class="t3" text-anchor="middle">14</text><text x="269.6" y="125.5" class="t3" text-anchor="middle">16</text><text x="278.8" y="128.8" class="t3" text-anchor="middle">18</text><text x="288.1" y="128" class="t3" text-anchor="middle">0</text><text x="299.8" y="121.8" class="t3" text-anchor="middle">2</text><text x="310.7" y="115.9" class="t3" text-anchor="middle">4</text><text x="320.9" y="110.5" class="t3" text-anchor="middle">6</text><text x="330.5" y="105.4" class="t3" text-anchor="middle">8</text><text x="339.4" y="100.7" class="t3" text-anchor="middle">10</text><text transform="translate(240.2,119.1) rotate(19.4) skewX(-40)" class="a3" text-anchor="middle" dy="2">Frequency (GHz)</text><text transform="translate(322,116) rotate(-27.5) skewX(40)" class="a3b" text-anchor="middle" dy="2">Thickness (mm)</text>
<path d="M214.5 18.7L217.7 102.1" stroke="#333" stroke-width="0.9"/><path d="M214.5 18.7h-1.6M215 31.2h-1.6M215.5 43.5h-1.6M215.9 55.6h-1.6M216.4 67.5h-1.6M216.8 79.2h-1.6M217.3 90.8h-1.6M217.7 102.1h-1.6" stroke="#333" stroke-width="0.7"/><text x="212.3" y="20.2" class="z3" text-anchor="end">0</text><text x="212.8" y="32.7" class="z3" text-anchor="end">-5</text><text x="213.3" y="45" class="z3" text-anchor="end">-10</text><text x="213.7" y="57.1" class="z3" text-anchor="end">-15</text><text x="214.2" y="69" class="z3" text-anchor="end">-20</text><text x="214.6" y="80.7" class="z3" text-anchor="end">-25</text><text x="215.1" y="92.3" class="z3" text-anchor="end">-30</text><text x="215.5" y="103.6" class="z3" text-anchor="end">-35</text>
<g stroke-width="0.35" stroke-linejoin="round"><path class="k19" d="M271.8 26.7l1.4 3.1 1.2 1-1.5-3.3z"/><path class="k11" d="M271.6 13.8l.2 12.9 1.1.8-.2-13.7z"/><path class="k18" d="M270.6 25.9l1.5 2.9 1.1 1-1.4-3.1z"/><path class="k11" d="M270.4 13.8l.2 12.1 1.2.8-.2-12.9z"/><path class="k17" d="M269.4 25.2l1.5 2.6 1.2 1-1.5-2.9z"/><path class="k20" d="M270.9 27.8l1.5 4.1 1.1 1.1-1.4-4.2z"/><path class="k10" d="M269.2 13.8l.2 11.4 1.2.7-.2-12.1z"/><path class="k16" d="M268.2 24.5l1.5 2.4 1.2.9-1.5-2.6z"/><path class="k18" d="M269.7 26.9l1.5 3.8 1.2 1.2-1.5-4.1z"/><path class="k10" d="M268 13.8l.2 10.7 1.2.7-.2-11.4z"/><path class="k15" d="M267.1 23.9l1.4 2.2 1.2.8-1.5-2.4z"/><path class="k17" d="M268.5 26.1l1.5 3.6 1.2 1-1.5-3.8z"/><path class="k9" d="M266.8 13.8l.3 10.1 1.1.6-.2-10.7z"/><path class="k14" d="M265.9 23.3l1.4 2 1.2.8-1.4-2.2z"/><path class="k16" d="M267.3 25.3l1.5 3.3 1.2 1.1-1.5-3.6z"/><path class="k9" d="M265.6 13.8l.3 9.5 1.2.6-.3-10.1z"/><path class="k13" d="M264.6 22.7l1.5 1.8 1.2.8-1.4-2z"/><path class="k15" d="M266.1 24.5l1.5 3.2 1.2.9-1.5-3.3z"/><path class="k8" d="M264.4 13.8l.2 8.9 1.3.6-.3-9.5z"/><path class="k18" d="M267.6 27.7l1.5 4.5 1.2 1.1-1.5-4.7z"/><path class="k12" d="M263.4 22.2l1.5 1.6 1.2.7-1.5-1.8z"/><path class="k8" d="M263.2 13.9l.2 8.3 1.2.5-.2-8.9z"/><path class="k14" d="M264.9 23.8l1.5 2.9 1.2 1-1.5-3.2z"/><path class="k17" d="M266.4 26.7l1.5 4 1.2 1.5-1.5-4.5z"/><path class="k12" d="M262.2 21.6l1.5 1.4 1.2.8-1.5-1.6z"/><path class="k8" d="M262 13.9l.2 7.7 1.2.6-.2-8.3z"/><path class="k13" d="M263.7 23l1.5 2.2 1.2 1.5-1.5-2.9z"/><path class="k16" d="M265.2 25.2l1.5 3.3 1.2 2.2-1.5-4z"/><path class="k14" d="M288.2 25.9l1.5-.3 1.1-.3-1.5.2z"/><path class="k11" d="M261 21l1.4 1.1 1.3.9-1.5-1.4z"/><path class="k7" d="M260.7 13.9l.3 7.1 1.2.6-.2-7.7z"/><path class="k12" d="M262.4 22.1l1.5 1.8 1.3 1.3-1.5-2.2z"/><path class="k13" d="M289.7 25.6l1.6.1 1.1-.3-1.6-.1z"/><path class="k14" d="M287 26.3l1.6-.5 1.1-.2-1.5.3zM263.9 23.9l1.5 2.8 1.3 1.8-1.5-3.3z"/><path class="k17" d="M265.4 26.7l1.5 3.6 1.3 2.4-1.5-4.2z"/><path class="k7" d="M259.5 14l.2 6.5 1.3.5-.3-7.1z"/><path class="k13" d="M291.3 25.7l1.5.3 1.2-.2-1.6-.4zM288.6 25.8l1.5.1 1.2-.2-1.6-.1z"/><path class="k14" d="M285.9 26.6l1.5-.5 1.2-.3-1.6.5z"/><path class="k11" d="M261.2 21.4l1.5 1.4 1.2 1.1-1.5-1.8z"/><path class="k12" d="M262.7 22.8l1.5 2.3 1.2 1.6-1.5-2.8z"/><path class="k13" d="M292.8 26l1.6.5 1.1-.2-1.5-.5z"/><path class="k6" d="M258.2 14l.3 6.1 1.2.4-.2-6.5z"/><path class="k13" d="M290.1 25.9l1.6.3 1.1-.2-1.5-.3zM287.4 26.1l1.6 0 1.1-.2-1.5-.1z"/><path class="k15" d="M264.2 25.1l1.5 3.3 1.2 1.9-1.5-3.6z"/><path class="k14" d="M284.7 27l1.6-.6 1.1-.3-1.5.5z"/><path class="k10" d="M259.9 20.7l1.5 1.3 1.3.8-1.5-1.4z"/><path class="k14" d="M294.4 26.5l1.6.5 1.1-.1-1.6-.6z"/><path class="k13" d="M291.7 26.2l1.6.4 1.1-.1-1.6-.5z"/><path class="k9" d="M257.2 19.7l1.5.6 1.2.4-1.4-.6z"/><path class="k6" d="M256.9 14.1l.3 5.6 1.3.4-.3-6.1z"/><path class="k13" d="M289 26.1l1.5.3 1.2-.2-1.6-.3z"/><path class="k11" d="M261.4 22l1.5 1.9 1.3 1.2-1.5-2.3z"/><path class="k13" d="M286.3 26.4l1.5 0 1.2-.3-1.6 0z"/><path class="k14" d="M283.5 27.5l1.6-.7 1.2-.4-1.6.6zM296 27l1.6.8 1.1-.1-1.6-.8z"/><path class="k13" d="M262.9 23.9l1.5 2.8 1.3 1.7-1.5-3.3z"/><path class="k57" d="M307.3 70.1l.8 3.5.7 16.5-.7-3.3z"/><path class="k9" d="M258.7 20.3l1.5 1 1.2.7-1.5-1.3z"/><path class="k14" d="M293.3 26.6l1.5.5 1.2-.1-1.6-.5z"/><path class="k16" d="M264.4 26.7l1.6 3.7 1.2 2.1-1.5-4.1z"/><path class="k13" d="M290.5 26.4l1.6.5 1.2-.3-1.6-.4zM287.8 26.4l1.6.2 1.1-.2-1.5-.3z"/><path class="k8" d="M255.9 19.4l1.5.5 1.3.4-1.5-.6z"/><path class="k6" d="M255.7 14.1l.2 5.3 1.3.3-.3-5.6z"/><path class="k14" d="M282.4 28.3l1.5-1 1.2-.5-1.6.7z"/><path class="k15" d="M297.6 27.8l1.5 1.1 1.2-.1-1.6-1.1z"/><path class="k13" d="M285.1 26.8l1.6-.2 1.1-.2-1.5 0z"/><path class="k10" d="M260.2 21.3l1.5 1.7 1.2.9-1.5-1.9z"/><path class="k52" d="M306.7 63.7l.6 6.4.8 16.7-.6-11.4z"/><path class="k14" d="M294.8 27.1l1.6 1 1.2-.3-1.6-.8zM292.1 26.9l1.6.3 1.1-.1-1.5-.5z"/><path class="k12" d="M261.7 23l1.5 2.5 1.2 1.2-1.5-2.8z"/><path class="k16" d="M299.1 28.9l1.6 1.6 1.1-.1-1.5-1.6z"/><path class="k9" d="M257.4 19.9l1.5 1 1.3.4-1.5-1z"/><path class="k13" d="M289.4 26.6l1.6.2 1.1.1-1.6-.5zM286.7 26.6l1.5.1 1.2-.1-1.6-.2z"/><path class="k14" d="M263.2 25.5l1.5 3.7 1.3 1.2-1.6-3.7z"/><path class="k13" d="M283.9 27.3l1.6-.2 1.2-.5-1.6.2z"/><path class="k5" d="M254.4 14.2l.2 4.9 1.3.3-.2-5.3z"/><path class="k8" d="M254.6 19.1l1.5.5 1.3.3-1.5-.5z"/><path class="k14" d="M296.4 28.1l1.6.5 1.1.3-1.5-1.1z"/><path class="k60" d="M308.5 79.3l.8.5.9 8-.9 3.7z"/><path class="k17" d="M300.7 30.5l1.4 1.1 1.1 1.3-1.4-2.5z"/><path class="k9" d="M258.9 20.9l1.5 1.5 1.3.6-1.5-1.7z"/><path class="k14" d="M293.7 27.2l1.6.4 1.1.5-1.6-1z"/><path class="k43" d="M306 55.4l.7 8.3.8 11.7-.5-13.2z"/><path class="k13" d="M291 26.8l1.6.5 1.1-.1-1.6-.3z"/><path class="k22" d="M303.7 34.1l.8 2.9 1 4.1-.8-2.9z"/><path class="k54" d="M307.1 70.7l.6 8.9 1 4.1-.6-10.1z"/><path class="k15" d="M298 28.6l1.6.7 1.1 1.2-1.6-1.6z"/><path class="k13" d="M288.2 26.7l1.6.5 1.2-.4-1.6-.2z"/><path class="k8" d="M256.1 19.6l1.5.9 1.3.4-1.5-1z"/><path class="k11" d="M260.4 22.4l1.5 2.4 1.3.7-1.5-2.5z"/><path class="k13" d="M285.5 27.1l1.6 0 1.1-.4-1.5-.1z"/><path class="k14" d="M282.7 28.1l1.6-.7 1.2-.3-1.6.2z"/><path class="k5" d="M253.1 14.3l.2 4.5 1.3.3-.2-4.9z"/><path class="k7" d="M253.3 18.8l1.5.5 1.3.3-1.5-.5z"/><path class="k14" d="M295.3 27.6l1.6.9 1.1.1-1.6-.5z"/><path class="k13" d="M261.9 24.8l1.5 3.4 1.3 1-1.5-3.7z"/><path class="k16" d="M299.6 29.3l1.4 1.8 1.1.5-1.4-1.1z"/><path class="k14" d="M292.6 27.3l1.5.8 1.2-.5-1.6-.4z"/><path class="k9" d="M257.6 20.5l1.5 1.5 1.3.4-1.5-1.5z"/><path class="k13" d="M289.8 27.2l1.6.4 1.2-.3-1.6-.5z"/><path class="k17" d="M301 31.1l.8 1.6 1.1-.2-.8-.9z"/><path class="k13" d="M287.1 27.1l1.5.1 1.2 0-1.6-.5z"/><path class="k15" d="M296.9 28.5l1.6 1.5 1.1-.7-1.6-.7z"/><path class="k8" d="M254.8 19.3l1.5 1 1.3.2-1.5-.9z"/><path class="k14" d="M281.5 28.8l1.6-.7 1.2-.7-1.6.7z"/><path class="k13" d="M284.3 27.4l1.6-.1 1.2-.2-1.6 0z"/><path class="k18" d="M301.8 32.7l.8 2 1.1-.6-.8-1.6z"/><path class="k22" d="M303.4 36.5l.8 1.9 1 3.2-.7-4.6z"/><path class="k10" d="M259.1 22l1.5 2.2 1.3.6-1.5-2.4z"/><path class="k20" d="M302.6 34.7l.8 1.8 1.1.5-.8-2.9z"/><path class="k5" d="M251.8 14.4l.2 4.2 1.3.2-.2-4.5z"/><path class="k14" d="M294.1 28.1l1.6.6 1.2-.2-1.6-.9z"/><path class="k7" d="M252 18.6l1.5.5 1.3.2-1.5-.5z"/><path class="k14" d="M291.4 27.6l1.6.3 1.1.2-1.5-.8z"/><path class="k12" d="M260.6 24.2l1.6 3 1.2 1-1.5-3.4z"/><path class="k16" d="M298.5 30l1.4.9 1.1.2-1.4-1.8z"/><path class="k8" d="M256.3 20.3l1.5 1.3 1.3.4-1.5-1.5z"/><path class="k13" d="M288.6 27.2l1.6.4 1.2 0-1.6-.4zM285.9 27.3l1.6.4 1.1-.5-1.5-.1z"/><path class="k14" d="M280.3 30l1.6-1.4 1.2-.5-1.6.7z"/><path class="k13" d="M283.1 28.1l1.6-.3 1.2-.5-1.6.1z"/><path class="k16" d="M299.9 30.9l.8.5 1.1 1.3-.8-1.6z"/><path class="k14" d="M295.7 28.7l1.7.5 1.1.8-1.6-1.5z"/><path class="k7" d="M253.5 19.1l1.5.9 1.3.3-1.5-1z"/><path class="k10" d="M257.8 21.6l1.5 1.9 1.3.7-1.5-2.2z"/><path class="k5" d="M250.5 14.5l.2 3.9 1.3.2-.2-4.2z"/><path class="k14" d="M293 27.9l1.6.7 1.1.1-1.6-.6z"/><path class="k48" d="M307 58.4l.7 9.9.8 11-.8.3z"/><path class="k6" d="M250.7 18.4l1.5.5 1.3.2-1.5-.5z"/><path class="k20" d="M302.3 33.6l.8 2.5 1.1 2.3-.8-1.9z"/><path class="k13" d="M290.2 27.6l1.6.7 1.2-.4-1.6-.3z"/><path class="k34" d="M305.1 47.2l.7 2.9.9 13.6-.7-8.3z"/><path class="k15" d="M297.4 29.2l1.4 1.2 1.1.5-1.4-.9z"/><path class="k11" d="M259.3 23.5l1.6 2.6 1.3 1.1-1.6-3z"/><path class="k13" d="M287.5 27.7l1.6.3 1.1-.4-1.6-.4z"/><path class="k8" d="M255 20l1.5 1.2 1.3.4-1.5-1.3z"/><path class="k44" d="M306.3 55.3l.7 3.1.7 21.2-.6-8.9z"/><path class="k13" d="M284.7 27.8l1.6 0 1.2-.1-1.6-.4z"/><path class="k14" d="M281.9 28.6l1.6-.4 1.2-.4-1.6.3zM260.9 26.1l1.5 3.2 1.3 1.8-1.5-3.9z"/><path class="k55" d="M308.2 68.3l.7 9.6.9 8.2-1 4.8z"/><path class="k14" d="M294.6 28.6l1.6 1.2 1.2-.6-1.7-.5z"/><path class="k16" d="M298.8 30.4l.8 1.1 1.1-.1-.8-.5z"/><path class="k7" d="M252.2 18.9l1.5.9 1.3.2-1.5-.9z"/><path class="k52" d="M307.5 65.9l.7 2.4.6 22.6-.6-8.8z"/><path class="k14" d="M291.8 28.3l1.6.6 1.2-.3-1.6-.7z"/><path class="k9" d="M256.5 21.2l1.5 1.7 1.3.6-1.5-1.9z"/><path class="k16" d="M299.6 31.5l.8 1.3 1.1-.6-.8-.8z"/><path class="k4" d="M248.8 14.6l.2 3.5 1.7.3-.2-3.9z"/><path class="k13" d="M289.1 28l1.6.4 1.1-.1-1.6-.7z"/><path class="k6" d="M249 18.1l1.5.5 1.7.3-1.5-.5z"/><path class="k38" d="M305.5 52.2l.8 3.1.8 15.4-.6-11.8z"/><path class="k16" d="M277.9 32.6l1.6-1.7 1.2-1.5-1.6 1.6z"/><path class="k23" d="M302.8 37.3l.7 2.9 1.1 4.9-.8-4.7z"/><path class="k17" d="M300.4 32.8l.8 1.4 1.1-.6-.8-1.4z"/><path class="k13" d="M286.3 27.8l1.6.3 1.2-.1-1.6-.3z"/><path class="k15" d="M296.2 29.8l1.4.7 1.2-.1-1.4-1.2z"/><path class="k19" d="M301.2 34.2l.8 1.3 1.1.6-.8-2.5z"/><path class="k21" d="M302 35.5l.8 1.8 1 3.1-.7-4.3z"/><path class="k7" d="M253.7 19.8l1.5 1.1 1.3.3-1.5-1.2z"/><path class="k13" d="M283.5 28.2l1.6 0 1.2-.4-1.6 0z"/><path class="k14" d="M280.7 29.4l1.6-.5 1.2-.7-1.6.4z"/><path class="k11" d="M258 22.9l1.6 2.2 1.3 1-1.6-2.6z"/><path class="k14" d="M293.4 28.9l1.7.6 1.1.3-1.6-1.2z"/><path class="k27" d="M314.2 48.8l.9-2.2 1.2-4.6-.9 2.6z"/><path class="k15" d="M297.6 30.5l.8.6 1.2.4-.8-1.1z"/><path class="k46" d="M306.7 61.5l.8 4.4.7 16.2-.5-13.8z"/><path class="k58" d="M308.6 76.5l.8 2.7.8 15.5-.8-4.3z"/><path class="k13" d="M259.6 25.1l1.5 2.9 1.3 1.3-1.5-3.2z"/><path class="k14" d="M290.7 28.4l1.6.5 1.1 0-1.6-.6z"/><path class="k6" d="M250.5 18.6l1.5.9 1.7.3-1.5-.9z"/><path class="k32" d="M304.8 47.3l.7 4.9 1 6.7-.7-8.8z"/><path class="k16" d="M298.4 31.1l.8.7 1.2 1-.8-1.3z"/><path class="k8" d="M255.2 20.9l1.5 1.6 1.3.4-1.5-1.7z"/><path class="k13" d="M287.9 28.1l1.6.5 1.2-.2-1.6-.4z"/><path class="k59" d="M309.4 79.2l.8 3.7 1 2.2-1 9.6z"/><path class="k13" d="M285.1 28.2l1.6.2 1.2-.3-1.6-.3z"/><path class="k14" d="M279.5 30.9l1.6-1 1.2-1-1.6.5z"/><path class="k15" d="M295.1 29.5l1.4.8 1.1.2-1.4-.7z"/><path class="k13" d="M282.3 28.9l1.6-.2 1.2-.5-1.6 0z"/><path class="k54" d="M307.9 73l.7 3.5.8 13.9-.5-12.5z"/><path class="k10" d="M256.7 22.5l1.6 2 1.3.6-1.6-2.2z"/><path class="k24" d="M315.1 46.6l.9-1.5 1.2-7.8-.9 4.7z"/><path class="k7" d="M252 19.5l1.5 1.2 1.7.2-1.5-1.1z"/><path class="k14" d="M292.3 28.9l1.6.6 1.2 0-1.7-.6z"/><path class="k4" d="M245.9 14.8l.2 3 2.9.3-.2-3.5z"/><path class="k15" d="M296.5 30.3l.8.5 1.1.3-.8-.6z"/><path class="k39" d="M306 54.2l.7 7.3 1 6.8-.7-9.9z"/><path class="k13" d="M289.5 28.6l1.6.4 1.2-.1-1.6-.5z"/><path class="k5" d="M246.1 17.8l1.5.5 2.9.3-1.5-.5z"/><path class="k12" d="M258.3 24.5l1.5 2.4 1.3 1.1-1.5-2.9z"/><path class="k15" d="M278.3 32.7l1.5-1.5 1.3-1.3-1.6 1z"/><path class="k13" d="M286.7 28.4l1.6.4 1.2-.2-1.6-.5z"/><path class="k15" d="M297.3 30.8l.8.6 1.1.4-.8-.7z"/><path class="k13" d="M283.9 28.7l1.6.1 1.2-.4-1.6-.2z"/><path class="k14" d="M281.1 29.9l1.6-.5 1.2-.7-1.6.2z"/><path class="k8" d="M253.5 20.7l1.5 1.4 1.7.4-1.5-1.6z"/><path class="k14" d="M293.9 29.5l1.4.7 1.2.1-1.4-.8z"/><path class="k16" d="M298.1 31.4l.8.7 1.2.7-.9-1z"/><path class="k22" d="M316 45.1l.9-3.6 1.2-4.5-.9.3z"/><path class="k46" d="M307.2 62.9l.7 10.1 1 4.9-.7-9.6z"/><path class="k14" d="M291.1 29l1.6.6 1.2-.1-1.6-.6z"/><path class="k26" d="M314.8 49.4l1-5.2 1.1-2.7-.9 3.6z"/><path class="k6" d="M247.6 18.3l1.5.9 2.9.3-1.5-.9z"/><path class="k16" d="M298.9 32.1l.8.8 1.2 1.1-.8-1.2z"/><path class="k59" d="M309.9 85.3l.9-4.2.9 9.9-.9 1.4z"/><path class="k9" d="M255 22.1l1.6 1.8 1.7.6-1.6-2z"/><path class="k15" d="M295.3 30.2l.8.4 1.2.2-.8-.5z"/><path class="k13" d="M288.3 28.8l1.6.4 1.2-.2-1.6-.4z"/><path class="k29" d="M304.6 41.9l.7 4.7 1 8.7-.8-3.1z"/><path class="k13" d="M285.5 28.8l1.6.2 1.2-.2-1.6-.4z"/><path class="k14" d="M279.8 31.2l1.6-.9 1.3-.9-1.6.5z"/><path class="k13" d="M282.7 29.4l1.6-.2 1.2-.4-1.6-.1z"/><path class="k26" d="M303.8 40.5l.8 1.4.9 10.3-.7-4.9z"/><path class="k15" d="M296.1 30.6l.8.5 1.2.3-.8-.6z"/><path class="k20" d="M316.9 41.5l1-3.5 1.1-1.6-.9.6z"/><path class="k11" d="M256.6 23.9l1.5 2.1 1.7.9-1.5-2.4z"/><path class="k23" d="M303 39.3l.8 1.2 1 6.8-.7-6.1z"/><path class="k14" d="M292.7 29.6l1.4.5 1.2.1-1.4-.7z"/><path class="k6" d="M249.1 19.2l1.6 1.1 2.8.4-1.5-1.2z"/><path class="k29" d="M314.3 57.6l1-5.9 1.3-8.7-.8 1.2z"/><path class="k13" d="M289.9 29.2l1.6.5 1.2-.1-1.6-.6z"/><path class="k23" d="M315.8 44.2l.8-1.2 1.3-5-1 3.5z"/><path class="k12" d="M258.1 26l1.6 2.5 1.7 1.4-1.6-3z"/><path class="k13" d="M287.1 29l1.6.4 1.2-.2-1.6-.4z"/><path class="k14" d="M294.1 30.1l.9.1 1.1.4-.8-.4z"/><path class="k3" d="M243 15l.2 2.5 2.9.3-.2-3z"/><path class="k35" d="M305.9 47.4l.7 5.6.9 12.9-.8-4.4z"/><path class="k13" d="M284.3 29.2l1.6.1 1.2-.3-1.6-.2z"/><path class="k56" d="M310.8 81.1l.8 2.1 1.3-5.5-1.2 13.3z"/><path class="k51" d="M311.7 91l1.2-13.3 1.3-9.3-1 3.1z"/><path class="k7" d="M250.7 20.3l1.5 1.4 2.8.4-1.5-1.4z"/><path class="k14" d="M281.4 30.3l1.6-.4 1.3-.7-1.6.2z"/><path class="k5" d="M243.2 17.5l1.5.5 2.9.3-1.5-.5z"/><path class="k14" d="M295 30.2l.8.4 1.1.5-.8-.5z"/><path class="k24" d="M267.6 42.1l1.6 1.3 1.3.1-1.6-.2z"/><path class="k46" d="M307.9 58.9l.6 10 .9 10.3-.8-2.7z"/><path class="k31" d="M305.1 45.5l.8 1.9.8 14.1-.7-7.3z"/><path class="k14" d="M291.5 29.7l1.5.2 1.1.2-1.4-.5z"/><path class="k17" d="M299.4 33.2l.8 1.1 1.2.2-.8-1.4z"/><path class="k21" d="M316.6 43l.9-1.3 1.3-5.7-.9 2z"/><path class="k26" d="M315.3 51.7l1.1-6.4 1.1-3.6-.9 1.3z"/><path class="k15" d="M295.8 30.6l.8.9 1.2-.3-.9-.1z"/><path class="k8" d="M252.2 21.7l1.5 1.6 2.9.6-1.6-1.8z"/><path class="k13" d="M288.7 29.4l1.6.3 1.2 0-1.6-.5z"/><path class="k18" d="M300.2 34.3l.8.3 1.2 2.4-.8-2.5z"/><path class="k17" d="M318.8 36l.9-.3 1.1-2.3-.9 1.6z"/><path class="k27" d="M304.3 43.5l.8 2 .9 8.7-.7-7.6z"/><path class="k42" d="M307.1 55.7l.8 3.2.7 17.6-.7-3.5z"/><path class="k13" d="M285.9 29.3l1.6.2 1.2-.1-1.6-.4z"/><path class="k14" d="M280.2 31.5l1.6-.9 1.2-.7-1.6.4z"/><path class="k5" d="M244.7 18l1.5.9 2.9.3-1.5-.9z"/><path class="k14" d="M293 29.9l.8.6 1.2-.3-.9-.1z"/><path class="k13" d="M283 29.9l1.7-.2 1.2-.4-1.6-.1z"/><path class="k15" d="M296.6 31.5l.8.6 1.2-.2-.8-.7z"/><path class="k24" d="M303.5 40.3l.8 3.2 1 3.1-.7-4.7z"/><path class="k20" d="M317.5 41.7l1-2.3 1.2-3.7-.9.3z"/><path class="k38" d="M306.3 52.4l.8 3.3.8 17.3-.7-10.1z"/><path class="k10" d="M253.7 23.3l1.6 1.8 2.8.9-1.5-2.1z"/><path class="k17" d="M319.7 35.7l.8-.2 1.2-2.7-.9.6z"/><path class="k15" d="M297.4 32.1l.9.3 1.1.8-.8-1.3z"/><path class="k14" d="M293.8 30.5l.8.5 1.2-.4-.8-.4z"/><path class="k13" d="M290.3 29.7l1.5.7 1.2-.5-1.5-.2z"/><path class="k27" d="M315.1 53.2l.9-2.2 1.3-9.8-.9 4.1z"/><path class="k6" d="M246.2 18.9l1.5 1.2 3 .2-1.6-1.1z"/><path class="k13" d="M287.5 29.5l1.6.6 1.2-.4-1.6-.3z"/><path class="k14" d="M294.6 31l.8.2 1.2.3-.8-.9z"/><path class="k11" d="M255.3 25.1l1.5 1.9 2.9 1.5-1.6-2.5z"/><path class="k16" d="M320.5 35.5l.9-1 1.2-1.5-.9-.2z"/><path class="k13" d="M284.7 29.7l1.6.3 1.2-.5-1.6-.2z"/><path class="k50" d="M309.2 63.7l.6 11.4 1 6-.9 4.2z"/><path class="k19" d="M318.5 39.4l.9-2.9 1.1-1-.8.2z"/><path class="k14" d="M281.8 30.6l1.6-.1 1.3-.8-1.7.2z"/><path class="k32" d="M305.5 49.2l.8 3.2.9 10.5-.6-9.9z"/><path class="k14" d="M291.8 30.4l.8.1 1.2 0-.8-.6z"/><path class="k47" d="M308.4 61l.8 2.7.7 21.6-.8-4.1z"/><path class="k3" d="M240 15.3l.2 2 3 .2-.2-2.5z"/><path class="k17" d="M299.9 33.2l.8 1.5 1.2.4-.9-.5z"/><path class="k16" d="M321.4 34.5l.9-1.1 1.1-.2-.8-.2z"/><path class="k7" d="M247.7 20.1l1.6 1.4 2.9.2-1.5-1.4z"/><path class="k14" d="M292.6 30.5l.8 0 1.2.5-.8-.5z"/><path class="k4" d="M240.2 17.3l1.5.5 3 .2-1.5-.5z"/><path class="k13" d="M289.1 30.1l1.5.1 1.2.2-1.5-.7z"/><path class="k20" d="M317.3 41.2l.9-1.1 1.2-3.6-.9 2.9z"/><path class="k24" d="M267.5 42l1.6 1.2 1.7.1-1.6.1z"/><path class="k42" d="M307.6 58.8l.8 2.2.7 20.2-.6-12.3z"/><path class="k18" d="M300.7 34.7l.8 1.6 1.2.5-.8-1.7z"/><path class="k25" d="M316 51l.9-3.9 1.3-7-.9 1.1z"/><path class="k13" d="M286.3 30l1.6 0 1.2.1-1.6-.6z"/><path class="k21" d="M302.4 37l.8.7 1.1 5.8-.8-3.2z"/><path class="k14" d="M293.4 30.5l.9.3 1.1.4-.8-.2zM280.6 31.9l1.6-.8 1.2-.6-1.6.1z"/><path class="k13" d="M283.4 30.5l1.7-.3 1.2-.2-1.6-.3z"/><path class="k15" d="M297.1 31.7l.8.9 1.2-.2-.8 0z"/><path class="k22" d="M303.2 37.7l.8 2 1.1 5.8-.8-2z"/><path class="k8" d="M249.3 21.5l1.5 1.5 2.9.3-1.5-1.6z"/><path class="k13" d="M290.6 30.2l.8.1 1.2.2-.8-.1z"/><path class="k15" d="M297.9 32.6l.8.9 1.2-.3-.8-.8z"/><path class="k14" d="M294.3 30.8l.8.7 1.2-.3-.9 0z"/><path class="k16" d="M320.3 35.2l.9-.1 1.1-1.7-.9 1.1z"/><path class="k4" d="M241.7 17.8l1.6.9 2.9.2-1.5-.9z"/><path class="k19" d="M318.2 40.1l.9-.6 1.2-4.3-.9 1.3z"/><path class="k15" d="M323.2 33l.9.5 1.1-.9-.9.2z"/><path class="k36" d="M306.9 53.4l.7 5.4.9 10.1-.6-10z"/><path class="k14" d="M291.4 30.3l.8.5 1.2-.3-.8 0z"/><path class="k16" d="M298.7 33.5l.9.2 1.1 1-.8-1.5z"/><path class="k13" d="M287.9 30l1.5.5 1.2-.3-1.5-.1z"/><path class="k22" d="M316.9 47.1l1.1-6.1 1.1-1.5-.9.6z"/><path class="k14" d="M295.1 31.5l.8.5 1.2-.3-.8-.5z"/><path class="k9" d="M250.8 23l1.6 1.6 2.9.5-1.6-1.8z"/><path class="k26" d="M315.7 51.2l.9-1.5 1.4-8.7-1.1 6.1z"/><path class="k15" d="M324.1 33.5l.9.8 1.1-1.1-.9-.6z"/><path class="k13" d="M285.1 30.2l1.6.3 1.2-.5-1.6 0z"/><path class="k16" d="M321.2 35.1l.9.1 1.1-2.2-.9.4z"/><path class="k14" d="M282.2 31.1l1.6-.2 1.3-.7-1.7.3z"/><path class="k49" d="M309.8 65.2l.8 3.3.7 18.8-.9-1.1z"/><path class="k18" d="M319.1 39.5l.9-1.6 1.2-2.8-.9.1z"/><path class="k14" d="M292.2 30.8l.9.5 1.2-.5-.9-.3z"/><path class="k51" d="M310.6 68.5l.6 10.3 1.1 1.5-1 7z"/><path class="k15" d="M295.9 32l.8.3 1.2.3-.8-.9z"/><path class="k5" d="M243.3 18.7l1.5 1.1 2.9.3-1.5-1.2z"/><path class="k16" d="M325 34.3l.8.2 1.1.2-.8-1.5z"/><path class="k13" d="M289.4 30.5l.8.3 1.2-.5-.8-.1z"/><path class="k46" d="M309 64.1l.8 1.1.6 21-.6-11.1z"/><path class="k31" d="M306.2 46.4l.7 7 1 5.5-.8-3.2z"/><path class="k20" d="M263.1 35.8l1.6 2.3 2.8 3.9-1.5-1.9z"/><path class="k16" d="M322.1 35.2l.9-.4 1.1-1.3-.9-.5z"/><path class="k10" d="M252.4 24.6l1.5 1.6 2.9.8-1.5-1.9z"/><path class="k14" d="M293.1 31.3l.8.1 1.2.1-.8-.7z"/><path class="k17" d="M325.8 34.5l.9 1.8 1 .2-.8-1.8z"/><path class="k31" d="M331.5 51.3l.8 2.7 1 1.3-.8-2.9z"/><path class="k33" d="M332.3 54l.8 2.5 1 1-.8-2.2z"/><path class="k28" d="M305.4 43.2l.8 3.2.9 9.3-.8-3.3zM330.7 48.3l.8 3 1 1.1-.8-3.2z"/><path class="k18" d="M326.7 36.3l.8 1.9 1.1-.1-.9-1.6z"/><path class="k3" d="M237 15.6l.2 1.6 3 .1-.2-2z"/><path class="k34" d="M333.1 56.5l.8 2.3 1.1 0-.9-1.3z"/><path class="k26" d="M304.5 41.5l.9 1.7.9 9.2-.8-3.2z"/><path class="k20" d="M318 41l.9-1 1.1-2.1-.9 1.6z"/><path class="k23" d="M303.7 40.2l.8 1.3 1 7.7-.7-4.8z"/><path class="k26" d="M329.9 45.1l.8 3.2 1 .9-.7-3z"/><path class="k17" d="M320 37.9l1-2.3 1.1-.4-.9-.1z"/><path class="k13" d="M290.2 30.8l.8.2 1.2-.2-.8-.5z"/><path class="k20" d="M327.5 38.2l.8 1.9 1.1.7-.8-2.7z"/><path class="k13" d="M286.7 30.5l1.4.3 1.3-.3-1.5-.5z"/><path class="k24" d="M329.1 42.2l.8 2.9 1.1 1.1-.8-2.7z"/><path class="k21" d="M302.9 38.9l.8 1.3 1.1 4.2-.8-4.7z"/><path class="k22" d="M328.3 40.1l.8 2.1 1.1 1.3-.8-2.7z"/><path class="k16" d="M323 34.8l.9-.3 1.1-.2-.9-.8z"/><path class="k35" d="M333.9 58.8l.9 1.4 1.1-.7-.9-.7z"/><path class="k14" d="M293.9 31.4l.8.1 1.2.5-.8-.5z"/><path class="k6" d="M244.8 19.8l1.5 1.3 3 .4-1.6-1.4z"/><path class="k24" d="M316.6 49.7l1-2.3 1.3-7.4-.9 1z"/><path class="k13" d="M283.8 30.9l1.7 0 1.2-.4-1.6-.3z"/><path class="k14" d="M281 32.1l1.6-.5 1.2-.7-1.6.2z"/><path class="k21" d="M264.7 38.1l1.6 2.1 2.8 3-1.6-1.2z"/><path class="k4" d="M237.2 17.2l1.5.5 3 .1-1.5-.5z"/><path class="k14" d="M291 31l.9 0 1.2.3-.9-.5z"/><path class="k40" d="M308.2 57.9l.8 6.2.8 11-.6-11.4z"/><path class="k16" d="M323.9 34.5l.8 1.3 1.1-1.3-.8-.2z"/><path class="k35" d="M334.8 60.2l.9.1 1.1-1.1-.9.3z"/><path class="k17" d="M321 35.6l.9.4 1.1-1.2-.9.4z"/><path class="k14" d="M294.7 31.5l.9.2 1.1.6-.8-.3z"/><path class="k15" d="M298.4 32.8l.8 1 1.2.1-.8-.2z"/><path class="k13" d="M288.1 30.8l.9-.1 1.2.1-.8-.3z"/><path class="k19" d="M318.9 40l.9-.1 1.2-4.3-1 2.3z"/><path class="k33" d="M314.9 64l.9-1.9 1.5-14.6-.9 3.8z"/><path class="k17" d="M324.7 35.8l.9 1 1.1-.5-.9-1.8z"/><path class="k7" d="M246.3 21.1l1.6 1.5 2.9.4-1.5-1.5z"/><path class="k14" d="M291.9 31l.8.2 1.2.2-.8-.1z"/><path class="k16" d="M299.2 33.8l.9 1.1 1.2-.1-.9-.9z"/><path class="k14" d="M295.6 31.7l.8.7 1.2-.1-.9 0z"/><path class="k22" d="M317.6 47.4l1-4.7 1.2-2.8-.9.1z"/><path class="k18" d="M325.6 36.8l.8 1 1.1.4-.8-1.9z"/><path class="k17" d="M321.9 36l.8.4 1.2-1.9-.9.3z"/><path class="k4" d="M238.7 17.7l1.5.8 3.1.2-1.6-.9z"/><path class="k13" d="M285.5 30.9l1.4-.1 1.2 0-1.4-.3zM289 30.7l.8.2 1.2.1-.8-.2z"/><path class="k31" d="M331.3 52.7l.8 3 1 .8-.8-2.5z"/><path class="k33" d="M332.1 55.7l.8 2.4 1 .7-.8-2.3z"/><path class="k17" d="M300.1 34.9l.8.5 1.2 1.2-.8-1.8z"/><path class="k29" d="M330.5 49.7l.8 3 1 1.3-.8-2.7z"/><path class="k19" d="M326.4 37.8l.9 1.7 1 .6-.8-1.9z"/><path class="k14" d="M282.6 31.6l1.6-.4 1.3-.3-1.7 0z"/><path class="k27" d="M329.7 47.1l.8 2.6 1 1.6-.8-3z"/><path class="k26" d="M316.4 51.3l.9-3.8 1.3-4.8-1 4.7z"/><path class="k25" d="M328.9 44.6l.8 2.5 1 1.2-.8-3.2z"/><path class="k14" d="M292.7 31.2l.8.5 1.2-.2-.8-.1z"/><path class="k21" d="M327.3 39.5l.8 2.5 1 .2-.8-2.1z"/><path class="k35" d="M332.9 58.1l.9 1.6 1 .5-.9-1.4z"/><path class="k18" d="M319.8 39.9l.9-1.5 1.2-2.4-.9-.4z"/><path class="k23" d="M328.1 42l.8 2.6 1 .5-.8-2.9z"/><path class="k51" d="M311.1 71.1l.9 1.5.8 13.7-1 3.3z"/><path class="k34" d="M307.5 49.9l.7 8 1 5.8-.8-2.7z"/><path class="k49" d="M310.3 68.9l.8 2.2.7 18.5-.6-10.8z"/><path class="k15" d="M296.4 32.4l.8.8 1.2-.4-.8-.5z"/><path class="k17" d="M322.7 36.4l.9 0 1.1-.6-.8-1.3z"/><path class="k8" d="M247.9 22.6l1.5 1.5 3 .5-1.6-1.6z"/><path class="k13" d="M289.8 30.9l.8.3 1.3-.2-.9 0z"/><path class="k35" d="M333.8 59.7l.8 1.1 1.1-.5-.9-.1z"/><path class="k31" d="M306.7 46l.8 3.9.9 11.1-.8-2.2z"/><path class="k14" d="M293.5 31.7l.9.5 1.2-.5-.9-.2z"/><path class="k13" d="M286.9 30.8l.8.3 1.3-.4-.9.1z"/><path class="k28" d="M305.9 44.9l.8 1.1.9 12.8-.7-5.4z"/><path class="k15" d="M297.2 33.2l.9.4 1.1.2-.8-1z"/><path class="k51" d="M312 72.6l.6 10.4 1.2-4.4-1 7.7z"/><path class="k17" d="M323.6 36.4l.9.3 1.1.1-.9-1z"/><path class="k30" d="M315.8 62.1l1.1-7.1 1.3-7.9-.9.4z"/><path class="k4" d="M240.2 18.5l1.6 1.1 3 .2-1.5-1.1z"/><path class="k18" d="M320.7 38.4l.9-1.3 1.1-.7-.8-.4z"/><path class="k25" d="M305.1 43.6l.8 1.3 1 8.5-.7-7z"/><path class="k13" d="M290.6 31.2l.9.4 1.2-.4-.8-.2z"/><path class="k15" d="M298.1 33.6l.8 0 1.2 1.3-.9-1.1z"/><path class="k14" d="M294.4 32.2l.8.3 1.2-.1-.8-.7z"/><path class="k18" d="M324.5 36.7l.8 1.6 1.1-.5-.8-1z"/><path class="k13" d="M284.2 31.2l1.5.2 1.2-.6-1.4.1z"/><path class="k23" d="M304.3 40.2l.8 3.4 1.1 2.8-.8-3.2z"/><path class="k13" d="M287.7 31.1l.9.3 1.2-.5-.8-.2z"/><path class="k9" d="M249.4 24.1l1.6 1.4 2.9.7-1.5-1.6z"/><path class="k2" d="M233.9 16l.3 1.2 3 0-.2-1.6z"/><path class="k23" d="M317.3 47.5l.9-.4 1.3-7.1-.9 2.7z"/><path class="k43" d="M309.6 62.1l.7 6.8.9 9.9-.6-10.3z"/><path class="k19" d="M325.3 38.3l.9 1.9 1.1-.7-.9-1.7z"/><path class="k14" d="M291.5 31.6l.8.2 1.2-.1-.8-.5z"/><path class="k17" d="M321.6 37.1l.9 0 1.1-.7-.9 0z"/><path class="k20" d="M326.2 40.2l.8 1.8 1.1 0-.8-2.5z"/><path class="k30" d="M330.3 51.8l.8 2.5 1 1.4-.8-3z"/><path class="k32" d="M331.1 54.3l.8 2.4 1 1.4-.8-2.4z"/><path class="k14" d="M295.2 32.5l.8 0 1.2.7-.8-.8z"/><path class="k22" d="M327 42l.9 1.7 1 .9-.8-2.6z"/><path class="k28" d="M329.5 49l.8 2.8 1 .9-.8-3z"/><path class="k24" d="M327.9 43.7l.8 2.4 1 1-.8-2.5z"/><path class="k5" d="M241.8 19.6l1.5 1.2 3 .3-1.5-1.3z"/><path class="k26" d="M328.7 46.1l.8 2.9 1 .7-.8-2.6z"/><path class="k34" d="M331.9 56.7l.9 2.3 1 .7-.9-1.6z"/><path class="k13" d="M288.6 31.4l.8.1 1.2-.3-.8-.3z"/><path class="k3" d="M234.2 17.2l1.5.4 3 .1-1.5-.5z"/><path class="k19" d="M319.5 40l.9-.2 1.2-2.7-.9 1.3z"/><path class="k35" d="M332.8 59l.8 1.8 1 0-.8-1.1z"/><path class="k13" d="M285.7 31.4l.8.1 1.2-.4-.8-.3z"/><path class="k18" d="M322.5 37.1l.9 1.4 1.1-1.8-.9-.3z"/><path class="k14" d="M292.3 31.8l.8.1 1.3.3-.9-.5z"/><path class="k22" d="M318.2 47.1l1-1.6 1.2-5.7-.9.2z"/><path class="k27" d="M316.9 55l1.1-6.1 1.2-3.4-1 1.6z"/><path class="k13" d="M289.4 31.5l.9 0 1.2.1-.9-.4z"/><path class="k18" d="M323.4 38.5l.8 1.2 1.1-1.4-.8-1.6z"/><path class="k37" d="M308.9 53.8l.7 8.3 1 6.4-.8-3.3z"/><path class="k13" d="M283 32.1l1.4-.3 1.3-.4-1.5-.2z"/><path class="k19" d="M320.4 39.8l.9.7 1.2-3.4-.9 0z"/><path class="k13" d="M286.5 31.5l.8 0 1.3-.1-.9-.3z"/><path class="k14" d="M293.1 31.9l.9.3 1.2.3-.8-.3z"/><path class="k51" d="M311.7 74.1l.8 1.7.8 15.3-.7-8.1z"/><path class="k6" d="M243.3 20.8l1.6 1.4 3 .4-1.6-1.5z"/><path class="k19" d="M324.2 39.7l.9.8 1.1-.3-.9-1.9z"/><path class="k15" d="M296.9 32.9l.8.4 1.2.3-.8 0z"/><path class="k52" d="M312.5 75.8l.9.1.8 12.7-.9 2.5z"/><path class="k3" d="M235.7 17.6l1.5.7 3 .2-1.5-.8z"/><path class="k33" d="M308.1 48.8l.8 5 .9 11.4-.8-1.1z"/><path class="k20" d="M325.1 40.5l.9 1.1 1 .4-.8-1.8z"/><path class="k19" d="M321.3 40.5l.9-.1 1.2-1.9-.9-1.4z"/><path class="k31" d="M307.3 48.1l.8.7.9 15.3-.8-6.2z"/><path class="k21" d="M319.2 45.5l.9-2.6 1.2-2.4-.9-.7z"/><path class="k14" d="M294 32.2l.8.3 1.2 0-.8 0z"/><path class="k13" d="M287.3 31.5l.9.1 1.2-.1-.8-.1z"/><path class="k22" d="M326 41.6l.8 2.1 1.1 0-.9-1.7z"/><path class="k23" d="M326.8 43.7l.8 2.5 1.1-.1-.8-2.4z"/><path class="k25" d="M327.6 46.2l.8 2.2 1.1.6-.8-2.9z"/><path class="k13" d="M284.4 31.8l.9 0 1.2-.3-.8-.1z"/><path class="k27" d="M328.4 48.4l.9 2.3 1 1.1-.8-2.8z"/><path class="k29" d="M329.3 50.7l.8 2.3 1 1.3-.8-2.5z"/><path class="k30" d="M316.6 59.5l.9-1.5 1.4-11.5-.9 2.4z"/><path class="k31" d="M330.1 53l.8 2.6 1 1.1-.8-2.4z"/><path class="k28" d="M306.4 46.2l.9 1.9.9 9.8-.7-8z"/><path class="k33" d="M330.9 55.6l.8 2.6 1.1.8-.9-2.3z"/><path class="k13" d="M291.1 31.8l.8.2 1.2-.1-.8-.1z"/><path class="k19" d="M322.2 40.4l.9-.4 1.1-.3-.8-1.2z"/><path class="k52" d="M313.4 75.9l.6 10 1.3-6.3-1.1 9z"/><path class="k7" d="M244.9 22.2l1.5 1.3 3 .6-1.5-1.5z"/><path class="k34" d="M331.7 58.2l.9 1.9 1 .7-.8-1.8z"/><path class="k21" d="M304 38.3l.8 1 1.1 5.6-.8-1.3z"/><path class="k24" d="M318 48.9l.9-2.4 1.2-3.6-.9 2.6z"/><path class="k14" d="M294.8 32.5l.9.1 1.2.3-.9-.4z"/><path class="k13" d="M288.2 31.6l.8.1 1.3-.2-.9 0z"/><path class="k45" d="M311 64.9l.7 9.2.9 8.9-.6-10.4z"/><path class="k15" d="M298.6 33.5l.8 1 1.2 0-.8-.3z"/><path class="k24" d="M305.6 42.4l.8 3.8 1.1 3.7-.8-3.9z"/><path class="k4" d="M237.2 18.3l1.5 1 3.1.3-1.6-1.1z"/><path class="k22" d="M304.8 39.3l.8 3.1 1.1 3.6-.8-1.1z"/><path class="k13" d="M285.3 31.8l.8 0 1.2-.3-.8 0z"/><path class="k20" d="M320.1 42.9l1-1.6 1.1-.9-.9.1zM323.1 40l.9 1 1.1-.5-.9-.8z"/><path class="k13" d="M291.9 32l.9.2 1.2 0-.9-.3z"/><path class="k16" d="M299.4 34.5l.9.9 1.2.1-.9-1z"/><path class="k40" d="M315.6 79l1-6.4 1.5-12.5-.8-2.1z"/><path class="k14" d="M295.7 32.6l.8.5 1.2.2-.8-.4z"/><path class="k20" d="M324 41l.8 1.8 1.2-1.2-.9-1.1z"/><path class="k13" d="M289 31.7l.9.2 1.2-.1-.8-.3z"/><path class="k2" d="M230.8 16.3l.2.9 3.2 0-.3-1.2z"/><path class="k28" d="M317.5 58l1-4.6 1.3-6.4-.9-.5z"/><path class="k22" d="M324.8 42.8l.9 1.8 1.1-.9-.8-2.1z"/><path class="k13" d="M286.1 31.8l.8.1 1.3-.3-.9-.1z"/><path class="k14" d="M292.8 32.2l.8.1 1.2.2-.8-.3z"/><path class="k20" d="M321.1 41.3l.8.9 1.2-2.2-.9.4z"/><path class="k23" d="M318.9 46.5l.9.5 1.3-5.7-1 1.6z"/><path class="k13" d="M283.2 32.4l.8-.1 1.3-.5-.9 0z"/><path class="k23" d="M325.7 44.6l.8 1.2 1.1.4-.8-2.5z"/><path class="k14" d="M296.5 33.1l.9.7 1.2-.3-.9-.2z"/><path class="k39" d="M310.3 57.2l.7 7.7 1 7.7-.9-1.5z"/><path class="k25" d="M326.5 45.8l.9 2.2 1 .4-.8-2.2z"/><path class="k3" d="M231 17.2l1.5.5 3.2-.1-1.5-.4z"/><path class="k5" d="M238.7 19.3l1.6 1.2 3 .3-1.5-1.2z"/><path class="k13" d="M289.9 31.9l.8.1 1.2 0-.8-.2z"/><path class="k12" d="M255.7 28.7l1.6.8 2.9 2.5-1.5-1.5z"/><path class="k26" d="M327.4 48l.8 1.8 1.1.9-.9-2.3z"/><path class="k28" d="M328.2 49.8l.8 2.4 1.1.8-.8-2.3z"/><path class="k20" d="M321.9 42.2l.9 1.2 1.2-2.4-.9-1z"/><path class="k30" d="M329 52.2l.9 2.7 1 .7-.8-2.6z"/><path class="k32" d="M329.9 54.9l.8 2.1 1 1.2-.8-2.6z"/><path class="k13" d="M286.9 31.9l.9.1 1.2-.3-.8-.1z"/><path class="k14" d="M293.6 32.3l.9.6 1.2-.3-.9-.1z"/><path class="k53" d="M313.1 76.9l.9 2.3.6 16.7-.6-10z"/><path class="k36" d="M309.5 52.4l.8 4.8.8 13.9-.8-2.2z"/><path class="k15" d="M297.4 33.8l.8.4 1.2.3-.8-1z"/><path class="k33" d="M330.7 57l.9 1.6 1 1.5-.9-1.9z"/><path class="k13" d="M284 32.3l.8 0 1.3-.5-.8 0z"/><path class="k22" d="M319.8 47l.9-.6 1.2-4.2-.8-.9z"/><path class="k54" d="M314 79.2l.9-.5.7 13.1-1 4.1z"/><path class="k45" d="M316.1 82.7l.9 1.9 1.6-20.1-.8-.3z"/><path class="k21" d="M322.8 43.4l.9.5 1.1-1.1-.8-1.8z"/><path class="k33" d="M308.7 50.9l.8 1.5.8 16.5-.7-6.8z"/><path class="k13" d="M290.7 32l.8.3 1.3-.1-.9-.2z"/><path class="k14" d="M294.5 32.9l.8.4 1.2-.2-.8-.5z"/><path class="k26" d="M318.5 53.4l1-4.9 1.2-2.1-.9.6z"/><path class="k30" d="M317.3 58l.8 2.1 1.4-11.6-1 4.9z"/><path class="k13" d="M287.8 32l.8.1 1.3-.2-.9-.2z"/><path class="k37" d="M316.6 72.6l1.2-8.4 1.3-7.6-1 3.5z"/><path class="k5" d="M240.3 20.5l1.5 1.2 3.1.5-1.6-1.4z"/><path class="k22" d="M323.7 43.9l.9.3 1.1.4-.9-1.8z"/><path class="k13" d="M284.8 32.3l.9-.1 1.2-.3-.8-.1z"/><path class="k30" d="M307.8 49l.9 1.9.9 11.2-.7-8.3z"/><path class="k22" d="M320.7 46.4l1-1.7 1.1-1.3-.9-1.2z"/><path class="k3" d="M232.5 17.7l1.6.6 3.1 0-1.5-.7z"/><path class="k13" d="M291.5 32.3l.9.5 1.2-.5-.8-.1z"/><path class="k23" d="M324.6 44.2l.8 2.1 1.1-.5-.8-1.2z"/><path class="k54" d="M314.9 78.7l.6 9.5 1.2-4.2-1.1 7.8z"/><path class="k14" d="M295.3 33.3l.9.1 1.2.4-.9-.7z"/><path class="k21" d="M304.5 39.7l.9.5 1 6-.8-3.8z"/><path class="k13" d="M288.6 32.1l.9.3 1.2-.4-.8-.1z"/><path class="k44" d="M317 84.6l1.1-8.2 1.4-11.5-.9-.4z"/><path class="k24" d="M325.4 46.3l.9 1.1 1.1.6-.9-2.2z"/><path class="k22" d="M305.4 40.2l.8.9 1.1 7-.9-1.9z"/><path class="k26" d="M307.1 44.4l.7 4.6 1.1 4.8-.8-5z"/><path class="k46" d="M312.5 66.5l.6 10.4.9 9-.6-10z"/><path class="k13" d="M285.7 32.2l.8.1 1.3-.3-.9-.1z"/><path class="k25" d="M326.3 47.4l.9 2 1 .4-.8-1.8z"/><path class="k14" d="M292.4 32.8l.8.2 1.3-.1-.9-.6z"/><path class="k22" d="M321.7 44.7l.9-.5 1.1-.3-.9-.5z"/><path class="k29" d="M318.1 60.1l1-3.5 1.3-6.8-.9-1.3z"/><path class="k23" d="M306.2 41.1l.9 3.3 1 4.4-.8-.7z"/><path class="k24" d="M319.5 48.5l.9 1.3 1.3-5.1-1 1.7z"/><path class="k27" d="M327.2 49.4l.8 2.5 1 .3-.8-2.4z"/><path class="k6" d="M241.8 21.7l1.6 1.2 3 .6-1.5-1.3z"/><path class="k29" d="M328 51.9l.8 1.8 1.1 1.2-.9-2.7z"/><path class="k13" d="M289.5 32.4l.8.2 1.2-.3-.8-.3z"/><path class="k30" d="M328.8 53.7l.9 1.5 1 1.8-.8-2.1z"/><path class="k3" d="M234.1 18.3l1.5.8 3.1.2-1.5-1z"/><path class="k32" d="M329.7 55.2l.8 2.1 1.1 1.3-.9-1.6z"/><path class="k22" d="M322.6 44.2l.8 1.9 1.2-1.9-.9-.3z"/><path class="k13" d="M286.5 32.3l.9.2 1.2-.4-.8-.1zM283.6 32.8l.8 0 1.3-.6-.9.1z"/><path class="k16" d="M300.8 35.3l.9 1.1 1.1.1-.8-1z"/><path class="k2" d="M227.7 16.8l.2.6 3.1-.2-.2-.9z"/><path class="k33" d="M317.8 64.2l.8.3 1.5-12-1 4.1z"/><path class="k10" d="M251.2 26.8l1.5.6 3 1.3-1.6-.9z"/><path class="k24" d="M320.4 49.8l.9-1 1.3-4.6-.9.5z"/><path class="k13" d="M290.3 32.6l.9.1 1.2.1-.9-.5z"/><path class="k23" d="M323.4 46.1l.9.2 1.1 0-.8-2.1z"/><path class="k41" d="M311.8 58.3l.7 8.2.9 9.4-.9-.1z"/><path class="k39" d="M310.9 57.1l.9 1.2.7 17.5-.8-1.7z"/><path class="k28" d="M319.1 56.6l1-4.1 1.2-3.7-.9 1z"/><path class="k13" d="M287.4 32.5l.8.1 1.3-.2-.9-.3z"/><path class="k14" d="M294.1 32.9l.9.2 1.2.3-.9-.1z"/><path class="k24" d="M324.3 46.3l.9 1.6 1.1-.5-.9-1.1z"/><path class="k36" d="M310.1 55.5l.8 1.6.8 17-.7-9.2z"/><path class="k47" d="M317.6 86.3l.8 2.7 1.7-21.1-.9.2z"/><path class="k13" d="M284.4 32.8l.9.1 1.2-.6-.8-.1z"/><path class="k14" d="M297.9 33.8l.8.8 1.2-.2-.8-.3z"/><path class="k2" d="M227.9 17.4l1.5.3 3.1 0-1.5-.5z"/><path class="k4" d="M235.6 19.1l1.6 1 3.1.4-1.6-1.2z"/><path class="k25" d="M325.2 47.9l.8 2.1 1.2-.6-.9-2z"/><path class="k54" d="M314.6 79.1l.9 1.1.6 19.5-.6-11.5z"/><path class="k24" d="M321.3 48.8l1-1.4 1.1-1.3-.8-1.9z"/><path class="k33" d="M318.6 64.5l.9.4 1.5-12.3-.9-.1z"/><path class="k26" d="M326 50l.9 1.1 1.1.8-.8-2.5z"/><path class="k39" d="M318.1 76.4l1.1-8.3 1.4-7.8-1.1 4.6z"/><path class="k55" d="M315.5 80.2l.9.6.7 12.7-1 6.2z"/><path class="k13" d="M288.2 32.6l.9 0 1.2 0-.8-.2z"/><path class="k14" d="M295 33.1l.8.5 1.2-.2-.8 0z"/><path class="k15" d="M298.7 34.6l.9.4 1.2.3-.9-.9z"/><path class="k28" d="M326.9 51.1l.9 1 1 1.6-.8-1.8z"/><path class="k13" d="M285.3 32.9l.8-.1 1.3-.3-.9-.2z"/><path class="k10" d="M252.7 27.4l1.6.5 3 1.6-1.6-.8z"/><path class="k31" d="M309.3 50.2l.8 5.3.9 9.4-.7-7.7z"/><path class="k13" d="M292 32.7l.9.4 1.2-.2-.9.1z"/><path class="k24" d="M322.3 47.4l.9 1 1.1-2.1-.9-.2z"/><path class="k26" d="M320.1 52.5l.9.1 1.3-5.2-1 1.4z"/><path class="k29" d="M327.8 52.1l.9 2 1 1.1-.9-1.5z"/><path class="k46" d="M318.4 89l1.1-8.7 1.5-11.8-.9-.6z"/><path class="k14" d="M295.8 33.6l.9.5 1.2-.3-.9-.4z"/><path class="k15" d="M299.6 35l.9.1 1.2 1.3-.9-1.1z"/><path class="k30" d="M328.7 54.1l.8 1.9 1 1.3-.8-2.1z"/><path class="k25" d="M323.2 48.4l.8 1.9 1.2-2.4-.9-1.6z"/><path class="k32" d="M319.5 64.9l1.1-4.6 1.3-6.1-.9-1.6z"/><path class="k5" d="M237.2 20.1l1.5 1 3.1.6-1.5-1.2z"/><path class="k59" d="M317.6 101l1.1-6 1.3-5.9-.9-.2z"/><path class="k2" d="M229.4 17.7l1.5.6 3.2 0-1.6-.6z"/><path class="k13" d="M286.1 32.8l.9 0 1.2-.2-.8-.1z"/><path class="k22" d="M305.9 41.6l.9.2 1 7.2-.7-4.6z"/><path class="k13" d="M292.9 33.1l.8.4 1.3-.4-.9-.2z"/><path class="k27" d="M308.5 47.2l.8 3 1 7-.8-4.8z"/><path class="k23" d="M306.8 41.8l.9 1.3 1 7.8-.9-1.9z"/><path class="k26" d="M321 52.6l.9 1.6 1.3-5.8-.9-1zM324 50.3l.9 0 1.1-.3-.8-2.1z"/><path class="k48" d="M314 69.5l.6 9.6.9 9.1-.6-9.5z"/><path class="k14" d="M296.7 34.1l.8.1 1.2.4-.8-.8z"/><path class="k25" d="M307.7 43.1l.8 4.1 1 5.2-.8-1.5z"/><path class="k13" d="M289.9 32.8l.9.3 1.2-.4-.8 0zM287 32.8l.8.2 1.3-.4-.9 0z"/><path class="k27" d="M321.9 54.2l.9-1.7 1.2-2.2-.8-1.9z"/><path class="k26" d="M324.9 50.3l.9.1 1.1.7-.9-1.1z"/><path class="k14" d="M293.7 33.5l.9.2 1.2-.1-.8-.5z"/><path class="k49" d="M318.3 86.1l.8 2.8 1.7-18.7-1.3 10.1z"/><path class="k36" d="M319.2 68.1l.9-.2 1.5-11.8-1 4.2z"/><path class="k16" d="M301.3 35.3l.9 1.1 1.2.3-.9 0z"/><path class="k5" d="M238.7 21.1l1.6 1 3.1.8-1.6-1.2z"/><path class="k13" d="M283.6 33.5l.9 0 1.6-.7-.8.1zM290.8 33.1l.8.3 1.3-.3-.9-.4z"/><path class="k3" d="M230.9 18.3l1.5.7 3.2.1-1.5-.8z"/><path class="k27" d="M325.8 50.4l.9 1.5 1.1.2-.9-1z"/><path class="k30" d="M320.6 60.3l1-4.2 1.2-3.6-.9 1.7z"/><path class="k13" d="M287.8 33l.9.2 1.2-.4-.8-.2z"/><path class="k16" d="M302.2 36.4l.9 1.1 1.1.4-.8-1.2z"/><path class="k42" d="M313.3 60.1l.7 9.4.9 9.2-.9.5z"/><path class="k2" d="M224.5 17.2l.2.4 3.2-.2-.2-.6z"/><path class="k28" d="M326.7 51.9l.9 1.6 1.1.6-.9-2z"/><path class="k40" d="M312.4 59.3l.9.8.7 19.1-.9-2.3z"/><path class="k26" d="M322.8 52.5l1-1.5 1.1-.7-.9 0z"/><path class="k14" d="M298.4 34.2l.9.5 1.2.4-.9-.1z"/><path class="k11" d="M255.9 28.6l1.6.8 3 2.8-1.6-1.5z"/><path class="k13" d="M291.6 33.4l.9 0 1.2.1-.8-.4zM284.5 33.5l.8.1 1.7-.8-.9 0z"/><path class="k29" d="M327.6 53.5l.9.6 1 1.9-.8-1.9z"/><path class="k37" d="M311.5 57.3l.9 2 .7 17.6-.6-10.4z"/><path class="k35" d="M320.1 67.9l.9.6 1.5-12.1-.9-.3z"/><path class="k8" d="M248.1 25.8l1.6.4 3 1.2-1.5-.6z"/><path class="k13" d="M288.7 33.2l.8.2 1.3-.3-.9-.3z"/><path class="k14" d="M295.4 33.7l.9.2 1.2.3-.8-.1z"/><path class="k41" d="M319.5 80.3l1.3-10.1 1.3-7-1.1 5.3z"/><path class="k2" d="M224.7 17.6l1.5.3 3.2-.2-1.5-.3z"/><path class="k47" d="M319.1 88.9l.9.2 1.7-20.8-.9 1.9z"/><path class="k15" d="M299.3 34.7l.8.8 1.2-.2-.8-.2z"/><path class="k54" d="M316.1 80.8l.9-.1.6 20.3-.6-9.3z"/><path class="k26" d="M323.8 51l.9 1 1.1-1.6-.9-.1z"/><path class="k3" d="M232.4 19l1.6.7 3.2.4-1.6-1z"/><path class="k28" d="M321.6 56.1l.9.3 1.3-5.4-1 1.5z"/><path class="k13" d="M285.3 33.6l.9 0 1.6-.6-.8-.2z"/><path class="k55" d="M317 80.7l.9 1.7.8 12.6-1.1 6z"/><path class="k13" d="M289.5 33.4l.9-.1 1.2.1-.8-.3z"/><path class="k14" d="M296.3 33.9l.9.5 1.2-.2-.9 0z"/><path class="k15" d="M300.1 35.5l.9.5 1.2.4-.9-1.1z"/><path class="k27" d="M324.7 52l.9 1.3 1.1-1.4-.9-1.5z"/><path class="k18" d="M304.8 37.8l.9 1.3 1.1 2.7-.9-.2z"/><path class="k34" d="M321 68.5l1.1-5.3 1.3-6-.9-.8z"/><path class="k32" d="M310.8 51.3l.7 6 1 9.2-.7-8.2z"/><path class="k13" d="M293.3 33.5l.9.3 1.2-.1-.8 0z"/><path class="k28" d="M322.5 56.4l.9.8 1.3-5.2-.9-1z"/><path class="k13" d="M286.2 33.6l.8-.1 1.7-.3-.9-.2z"/><path class="k27" d="M325.6 53.3l.9-.2 1.1.4-.9-1.6z"/><path class="k25" d="M308.2 45.4l.9.7 1 9.4-.8-5.3z"/><path class="k9" d="M249.7 26.2l1.6.4 3 1.3-1.6-.5z"/><path class="k23" d="M307.4 42.5l.8 2.9 1.1 4.8-.8-3z"/><path class="k14" d="M297.2 34.4l.8.5 1.3-.2-.9-.5z"/><path class="k20" d="M306.5 41l.9 1.5 1.1 4.7-.8-4.1z"/><path class="k26" d="M309.1 46.1l.9.7.9 10.3-.8-1.6z"/><path class="k57" d="M318.5 94.3l.7 7.3 1.5-14.2-.8-1.4z"/><path class="k2" d="M226.2 17.9l1.5.5 3.2-.1-1.5-.6z"/><path class="k55" d="M317.9 82.4l.6 11.9 1.4-8.3-1.2 9z"/><path class="k49" d="M315.5 72.1l.6 8.7.9 10.9-.6-10.9z"/><path class="k28" d="M310 46.8l.8 4.5 1 7-.9-1.2z"/><path class="k4" d="M234 19.7l1.5.8 3.2.6-1.5-1z"/><path class="k13" d="M294.2 33.8l.9.5 1.2-.4-.9-.2z"/><path class="k45" d="M320 89.1l1.2-10.4 1.5-10.5-1 .1z"/><path class="k28" d="M323.4 57.2l1-1.8 1.2-2.1-.9-1.3zM326.5 53.1l1-1 1 2-.9-.6z"/><path class="k13" d="M287 33.5l.9.1 1.6-.2-.8-.2z"/><path class="k14" d="M298 34.9l.9.2 1.2.4-.8-.8z"/><path class="k13" d="M291.2 33.5l.9.3 1.2-.3-.8-.1z"/><path class="k14" d="M295.1 34.3l.8.2 1.3-.1-.9-.5z"/><path class="k36" d="M320.8 70.2l.9-1.9 1.5-10.6-1.1 5.5z"/><path class="k31" d="M322.1 63.2l1.1-5.5 1.2-2.3-1 1.8z"/><path class="k7" d="M243.4 24l1.6.6 3.1 1.2-1.6-.8z"/><path class="k9" d="M251.3 26.6l1.6.4 3 1.6-1.6-.7z"/><path class="k13" d="M287.9 33.6l.8.2 1.7-.5-.9.1zM292.1 33.8l.9.3 1.2-.3-.9-.3z"/><path class="k2" d="M227.7 18.4l1.5.5 3.2.1-1.5-.7z"/><path class="k4" d="M235.5 20.5l1.6.9 3.2.7-1.6-1z"/><path class="k43" d="M314.8 62l.7 10.1.9 8.7-.9-.6z"/><path class="k2" d="M221.2 17.7l.2.2 3.3-.3-.2-.4z"/><path class="k14" d="M282.6 35.4l.8-.1 2.8-1.7-.9 0z"/><path class="k47" d="M319.9 86l.8 1.4 1.7-18.3-1.2 9.6z"/><path class="k40" d="M314 59l.8 3 .7 18.2-.9-1.1z"/><path class="k13" d="M288.7 33.8l.9.2 1.6-.5-.8-.2z"/><path class="k37" d="M313.1 58.5l.9.5.6 20.1-.6-9.6z"/><path class="k13" d="M293 34.1l.8.1 1.3.1-.9-.5z"/><path class="k2" d="M221.4 17.9l1.5.3 3.3-.3-1.5-.3z"/><path class="k14" d="M296.8 34.5l.9.2 1.2.4-.9-.2z"/><path class="k34" d="M321.7 68.3l1-.1 1.4-11.4-.9.9z"/><path class="k27" d="M325.4 52.6l.9-.6 1.2.1-1 1z"/><path class="k14" d="M283.4 35.3l.9-.2 2.7-1.6-.8.1z"/><path class="k9" d="M252.9 27l1.6.5 3 1.9-1.6-.8z"/><path class="k15" d="M300.7 35.6l.8.6 1.3.1-.9-.4z"/><path class="k7" d="M245 24.6l1.6.4 3.1 1.2-1.6-.4z"/><path class="k29" d="M323.2 57.7l.9-.9 1.3-4.2-1 2.8z"/><path class="k13" d="M289.6 34l.9.1 1.6-.3-.9-.3z"/><path class="k54" d="M317.7 82l.9-.9.6 20.5-.7-7.3z"/><path class="k5" d="M237.1 21.4l1.6.7 3.1 1-1.5-1z"/><path class="k3" d="M229.2 18.9l1.6.6 3.2.2-1.6-.7z"/><path class="k13" d="M293.8 34.2l.9 0 1.2.3-.8-.2z"/><path class="k19" d="M306.2 40.5l.9.3 1.1 4.6-.8-2.9z"/><path class="k39" d="M321.2 78.7l1.2-9.6 1.3-6.1-1 5.2z"/><path class="k32" d="M312.3 53.2l.8 5.3.9 11-.7-9.4z"/><path class="k14" d="M297.7 34.7l.9.5 1.2-.2-.9.1z"/><path class="k15" d="M301.5 36.2l.9.5 1.2.6-.8-1z"/><path class="k20" d="M307.1 40.8l.9.2 1.1 5.1-.9-.7z"/><path class="k13" d="M284.3 35.1l.8-.2 2.8-1.3-.9-.1zM290.5 34.1l.8 0 1.7 0-.9-.3zM294.7 34.2l.9.4 1.2-.1-.9 0z"/><path class="k25" d="M309.7 46.6l.9 1 .9 9.7-.7-6z"/><path class="k33" d="M322.7 68.2l1-5.2 1.4-6-1-.2z"/><path class="k27" d="M310.6 47.6l.9.5.9 11.2-.9-2z"/><path class="k28" d="M324.1 56.8l1 .2 1.2-5-.9.6z"/><path class="k15" d="M302.4 36.7l.9.4 1.2 1-.9-.8z"/><path class="k49" d="M317 74.6l.7 7.4.8 12.3-.6-11.9z"/><path class="k14" d="M298.6 35.2l.8.3 1.3.1-.9-.6z"/><path class="k29" d="M311.5 48.1l.8 5.1 1 6.9-.9-.8z"/><path class="k20" d="M308 41l.9 2.4 1.1 3.4-.9-.7z"/><path class="k22" d="M308.9 43.4l.8 3.2 1.1 4.7-.8-4.5z"/><path class="k2" d="M222.9 18.2l1.5.4 3.3-.2-1.5-.5z"/><path class="k7" d="M246.6 25l1.6.4 3.1 1.2-1.6-.4z"/><path class="k13" d="M285.1 34.9l.9-.1 2.7-1-.8-.2zM291.3 34.1l.9.3 1.6-.2-.8-.1z"/><path class="k3" d="M230.8 19.5l1.5.6 3.2.4-1.5-.8z"/><path class="k13" d="M295.6 34.6l.9.3 1.2-.2-.9-.2z"/><path class="k14" d="M299.4 35.5l.9.4 1.2.3-.8-.6z"/><path class="k13" d="M286 34.8l.9.1 2.7-.9-.9-.2zM292.2 34.4l.9.2 1.6-.4-.9 0z"/><path class="k14" d="M296.5 34.9l.8.3 1.3 0-.9-.5zM300.3 35.9l.9.3 1.2.5-.9-.5z"/><path class="k2" d="M224.4 18.6l1.5.3 3.3 0-1.5-.5z"/><path class="k43" d="M316.3 63.8l.7 10.8.9 7.8-.9-1.7z"/><path class="k2" d="M217.9 18.2l.2.2 3.3-.5-.2-.2z"/><path class="k6" d="M240.3 22.8l1.5.6 3.2 1.2-1.6-.6z"/><path class="k7" d="M248.2 25.4l1.6.2 3.1 1.4-1.6-.4z"/><path class="k3" d="M232.3 20.1l1.6.6 3.2.7-1.6-.9z"/><path class="k13" d="M293.1 34.6l.9.2 1.6-.2-.9-.4zM286.9 34.9l.8 0 2.8-.8-.9-.1z"/><path class="k14" d="M297.3 35.2l.9.3 1.2 0-.8-.3z"/><path class="k40" d="M315.5 59.8l.8 4 .7 16.9-.9.1z"/><path class="k38" d="M314.6 60.1l.9-.3.6 21-.6-8.7z"/><path class="k2" d="M218.1 18.4l1.5.2 3.3-.4-1.5-.3z"/><path class="k13" d="M294 34.8l.8.2 1.7-.1-.9-.3z"/><path class="k14" d="M298.2 35.5l.9.2 1.2.2-.9-.4z"/><path class="k13" d="M287.7 34.9l.9.1 2.7-.9-.8 0z"/><path class="k2" d="M225.9 18.9l1.6.5 3.3.1-1.6-.6z"/><path class="k19" d="M307.7 41.5l.9.4 1.1 4.7-.8-3.2z"/><path class="k33" d="M313.8 55l.8 5.1.9 12-.7-10.1z"/><path class="k6" d="M241.8 23.4l1.6.3 3.2 1.3-1.6-.4z"/><path class="k4" d="M233.9 20.7l1.6.6 3.2.8-1.6-.7z"/><path class="k7" d="M249.8 25.6l1.6.4 3.1 1.5-1.6-.5z"/><path class="k14" d="M299.1 35.7l.9.6 1.2-.1-.9-.3z"/><path class="k13" d="M294.8 35l.9.3 1.6-.1-.8-.3zM288.6 35l.9.1 2.7-.7-.9-.3z"/><path class="k20" d="M308.6 41.9l.9.2 1.1 5.5-.9-1z"/><path class="k25" d="M311.2 47.6l.9.2 1 10.7-.8-5.3z"/><path class="k2" d="M219.6 18.6l1.5.3 3.3-.3-1.5-.4z"/><path class="k23" d="M310.4 44.8l.8 2.8 1.1 5.6-.8-5.1z"/><path class="k21" d="M309.5 42.1l.9 2.7 1.1 3.3-.9-.5z"/><path class="k14" d="M300 36.3l.9.1 1.2.6-.9-.8z"/><path class="k27" d="M312.1 47.8l.9 1.6 1 9.6-.9-.5z"/><path class="k13" d="M295.7 35.3l.9.3 1.6-.1-.9-.3z"/><path class="k29" d="M313 49.4l.8 5.6 1 7-.8-3z"/><path class="k13" d="M289.5 35.1l.9.1 2.7-.6-.9-.2z"/><path class="k2" d="M227.5 19.4l1.5.4 3.3.3-1.5-.6z"/><path class="k4" d="M235.5 21.3l1.5.5 3.3 1-1.6-.7z"/><path class="k6" d="M243.4 23.7l1.6.3 3.2 1.4-1.6-.4z"/><path class="k7" d="M251.4 26l1.7.3 3 1.8-1.6-.6z"/><path class="k14" d="M296.6 35.6l.9.3 1.6-.2-.9-.2z"/><path class="k13" d="M290.4 35.2l.8.1 2.8-.5-.9-.2z"/><path class="k2" d="M221.1 18.9l1.5.3 3.3-.3-1.5-.3z"/><path class="k1" d="M214.5 18.7l.2.2 3.4-.5-.2-.2z"/><path class="k14" d="M301.8 36.4l.9.7 1.2 0-.9-.1zM297.5 35.9l.9 0 1.6.4-.9-.6zM284.1 36.8l.8-.2 2.8-1.7-.8 0z"/><path class="k13" d="M291.2 35.3l.9.3 2.7-.6-.8-.2z"/><path class="k17" d="M306.6 39.1l.9.2 1.1 2.6-.9-.4z"/><path class="k3" d="M229 19.8l1.6.4 3.3.5-1.6-.6z"/><path class="k4" d="M237 21.8l1.6.4 3.2 1.2-1.5-.6z"/><path class="k38" d="M316.2 61.3l.9.4.6 20.3-.7-7.4z"/><path class="k40" d="M317.1 61.7l.8 2.8.7 16.6-.9.9z"/><path class="k15" d="M302.7 37.1l.8.8 1.3.1-.9-.9z"/><path class="k6" d="M245 24l1.7.3 3.1 1.3-1.6-.2z"/><path class="k8" d="M253.1 26.3l1.6.5 3.1 2-1.7-.7z"/><path class="k14" d="M298.4 35.9l.9.2 1.6.3-.9-.1z"/><path class="k2" d="M214.7 18.9l1.5.2 3.4-.5-1.5-.2z"/><path class="k13" d="M284.9 36.6l.9-.2 2.8-1.4-.9-.1z"/><path class="k17" d="M307.5 39.3l.9 1.6 1.1 1.2-.9-.2z"/><path class="k13" d="M292.1 35.6l.9.1 2.7-.4-.9-.3z"/><path class="k34" d="M315.4 56.8l.8 4.5.8 13.3-.7-10.8z"/><path class="k2" d="M222.6 19.2l1.6.3 3.3-.1-1.6-.5z"/><path class="k14" d="M299.3 36.1l.9.6 1.6-.3-.9 0z"/><path class="k19" d="M309.2 42.2l1-.1 1 5.5-.8-2.8z"/><path class="k13" d="M285.8 36.4l.9 0 2.8-1.3-.9-.1zM293 35.7l.9 0 2.7-.1-.9-.3z"/><path class="k3" d="M230.6 20.2l1.6.4 3.3.7-1.6-.6z"/><path class="k20" d="M310.2 42.1l.9 1.3 1 4.4-.9-.2z"/><path class="k6" d="M246.7 24.3l1.6.3 3.1 1.4-1.6-.4z"/><path class="k14" d="M300.2 36.7l.9.4 1.6 0-.9-.7z"/><path class="k26" d="M312.8 48.5l.9.1.9 11.5-.8-5.1z"/><path class="k2" d="M216.2 19.1l1.5.3 3.4-.5-1.5-.3z"/><path class="k23" d="M311.9 46.5l.9 2 1 6.5-.8-5.6z"/><path class="k13" d="M293.9 35.7l.9.2 2.7 0-.9-.3zM286.7 36.4l.9 0 2.8-1.2-.9-.1z"/><path class="k29" d="M314.6 50.8l.8 6 .9 7-.8-4z"/><path class="k21" d="M311.1 43.4l.8 3.1 1.1 2.9-.9-1.6z"/><path class="k27" d="M313.7 48.6l.9 2.2.9 9-.9.3z"/><path class="k14" d="M301.1 37.1l.9-.1 1.5.9-.8-.8z"/><path class="k2" d="M224.2 19.5l1.5.3 3.3 0-1.5-.4z"/><path class="k13" d="M294.8 35.9l.9.5 2.7-.5-.9 0z"/><path class="k16" d="M306.3 39l.9.7 1.2 1.2-.9-1.6z"/><path class="k13" d="M287.6 36.4l.9 0 2.7-1.1-.8-.1z"/><path class="k3" d="M232.2 20.6l1.6.4 3.2.8-1.5-.5z"/><path class="k14" d="M302 37l.9.3 1.6.5-1 .1z"/><path class="k6" d="M248.3 24.6l1.6.3 3.2 1.4-1.7-.3z"/><path class="k16" d="M307.2 39.7l.9-.1 1.1 2.6-.8-1.3z"/><path class="k2" d="M217.7 19.4l1.5.3 3.4-.5-1.5-.3z"/><path class="k13" d="M295.7 36.4l.9.2 2.7-.5-.9-.2zM288.5 36.4l.8-.1 2.8-.7-.9-.3z"/><path class="k14" d="M302.9 37.3l.9.8 1.6-.1-.9-.2z"/><path class="k17" d="M308.1 39.6l.9 1.1 1.2 1.4-1 .1z"/><path class="k2" d="M225.7 19.8l1.6.3 3.3.1-1.6-.4z"/><path class="k13" d="M296.6 36.6l.9 0 2.7.1-.9-.6z"/><path class="k3" d="M233.8 21l1.6.4 3.2.8-1.6-.4z"/><path class="k13" d="M289.3 36.3l.9.1 2.8-.7-.9-.1z"/><path class="k15" d="M303.8 38.1l.9.2 1.6.7-.9-1z"/><path class="k4" d="M241.8 22.8l1.7.3 3.2 1.2-1.7-.3z"/><path class="k6" d="M249.9 24.9l1.7.3 3.1 1.6-1.6-.5z"/><path class="k2" d="M219.2 19.7l1.6.2 3.4-.4-1.6-.3z"/><path class="k13" d="M297.5 36.6l.9.3 2.7.2-.9-.4zM290.2 36.4l.9.3 2.8-1-.9 0z"/><path class="k15" d="M304.7 38.3l.9.1 1.6 1.3-.9-.7z"/><path class="k19" d="M310.8 43.1l.9-.1 1.1 5.5-.9-2z"/><path class="k2" d="M227.3 20.1l1.6.3 3.3.2-1.6-.4z"/><path class="k14" d="M298.4 36.9l.9.4 2.7-.3-.9.1z"/><path class="k20" d="M311.7 43l.9 1.7 1.1 3.9-.9-.1z"/><path class="k26" d="M314.4 49.6l.9 0 .9 11.7-.8-4.5z"/><path class="k3" d="M235.4 21.4l1.6.3 3.2.9-1.6-.4z"/><path class="k15" d="M305.6 38.4l.9.9 1.6.3-.9.1z"/><path class="k24" d="M313.5 47.9l.9 1.7 1 7.2-.8-6z"/><path class="k13" d="M291.1 36.7l.9.1 2.8-.9-.9-.2z"/><path class="k21" d="M312.6 44.7l.9 3.2 1.1 2.9-.9-2.2z"/><path class="k4" d="M243.5 23.1l1.6.3 3.2 1.2-1.6-.3z"/><path class="k27" d="M315.3 49.6l.9 2.1.9 10-.9-.4z"/><path class="k28" d="M316.2 51.7l.9 2.1.8 10.7-.8-2.8z"/><path class="k14" d="M284.7 38.4l.9 0 2.9-2-.9 0zM299.3 37.3l.9 0 2.7 0-.9-.3z"/><path class="k2" d="M220.8 19.9l1.5.3 3.4-.4-1.5-.3z"/><path class="k15" d="M306.5 39.3l.9.8 1.6.6-.9-1.1z"/><path class="k13" d="M292 36.8l.9 0 2.8-.4-.9-.5z"/><path class="k2" d="M228.9 20.4l1.5.3 3.4.3-1.6-.4z"/><path class="k14" d="M300.2 37.3l.9.3 2.7.5-.9-.8zM285.6 38.4l.9 0 2.8-2.1-.8.1z"/><path class="k3" d="M237 21.7l1.6.3 3.2.8-1.6-.2z"/><path class="k13" d="M292.9 36.8l.9.3 2.8-.5-.9-.2z"/><path class="k16" d="M308.3 40l1 .3 1.5 2.8-.9-.7z"/><path class="k14" d="M301.1 37.6l.9.6 2.7.1-.9-.2z"/><path class="k2" d="M222.3 20.2l1.6.2 3.4-.3-1.6-.3z"/><path class="k14" d="M286.5 38.4l.9-.1 2.8-1.9-.9-.1z"/><path class="k13" d="M293.8 37.1l.9.1 2.8-.6-.9 0z"/><path class="k17" d="M309.3 40.3l.9 1.3 1.5 1.4-.9.1z"/><path class="k2" d="M230.4 20.7l1.6.3 3.4.4-1.6-.4z"/><path class="k14" d="M302 38.2l.9.3 2.7-.1-.9-.1z"/><path class="k18" d="M267.2 41.1l.9 1 3 2.8-.9-.7z"/><path class="k13" d="M287.4 38.3l.9-.1 2.8-1.5-.9-.3z"/><path class="k3" d="M238.6 22l1.6.2 3.3.9-1.7-.3z"/><path class="k13" d="M294.7 37.2l.9.1 2.8-.4-.9-.3z"/><path class="k18" d="M311.1 43l.9 0 1.5 4.9-.9-3.2z"/><path class="k14" d="M302.9 38.5l1-.1 2.6.9-.9-.9z"/><path class="k18" d="M268.1 42.1l.8.9 3 2.5-.8-.6z"/><path class="k2" d="M223.9 20.4l1.6.3 3.4-.3-1.6-.3z"/><path class="k19" d="M312 43l1 .3 1.4 6.3-.9-1.7z"/><path class="k13" d="M288.3 38.2l.9.1 2.8-1.5-.9-.1zM295.6 37.3l.9.3 2.8-.3-.9-.4z"/><path class="k14" d="M303.9 38.4l.9.3 2.6 1.4-.9-.8z"/><path class="k18" d="M268.9 43l.9.8 3 2.2-.9-.5z"/><path class="k2" d="M232 21l1.6.3 3.4.4-1.6-.3z"/><path class="k20" d="M313 43.3l.9 1 1.4 5.3-.9 0z"/><path class="k13" d="M296.5 37.6l.9.4 2.8-.7-.9 0z"/><path class="k3" d="M240.2 22.2l1.6.3 3.3.9-1.6-.3z"/><path class="k13" d="M289.2 38.3l.9 0 2.8-1.5-.9 0z"/><path class="k15" d="M304.8 38.7l.9.8 2.6.5-.9.1z"/><path class="k20" d="M313.9 44.3l.9 1 1.4 6.4-.9-2.1z"/><path class="k2" d="M225.5 20.7l1.6.3 3.3-.3-1.5-.3z"/><path class="k21" d="M314.8 45.3l.9.8 1.4 7.7-.9-2.1z"/><path class="k13" d="M297.4 38l1 0 2.7-.4-.9-.3zM290.1 38.3l.9 0 2.8-1.2-.9-.3z"/><path class="k15" d="M305.7 39.5l.9.4 2.7.4-1-.3z"/><path class="k19" d="M270.7 44.4l.9.6 2.9 1.4-.8-.1z"/><path class="k2" d="M233.6 21.3l1.6.2 3.4.5-1.6-.3z"/><path class="k13" d="M298.4 38l.9.1 2.7.1-.9-.6z"/><path class="k3" d="M241.8 22.5l1.7.3 3.2.9-1.6-.3z"/><path class="k13" d="M291 38.3l.9.2 2.8-1.3-.9-.1z"/><path class="k15" d="M306.6 39.9l1-.1 2.6 1.8-.9-1.3z"/><path class="k2" d="M227.1 21l1.6.2 3.3-.2-1.6-.3z"/><path class="k15" d="M307.6 39.8l.9.3 2.6 2.9-.9-1.4z"/><path class="k13" d="M299.3 38.1l.9.4 2.7 0-.9-.3zM291.9 38.5l.9.1 2.8-1.3-.9-.1z"/><path class="k15" d="M285.4 41.6l.9-.1 2.9-3.2-.9-.1z"/><path class="k2" d="M235.2 21.5l1.7.3 3.3.4-1.6-.2z"/><path class="k16" d="M308.5 40.1l.9.4 2.6 2.5-.9 0z"/><path class="k14" d="M300.2 38.5l.9.4 2.8-.5-1 .1z"/><path class="k13" d="M292.8 38.6l.9 0 2.8-1-.9-.3z"/><path class="k14" d="M286.3 41.5l.9-.1 2.9-3.1-.9 0z"/><path class="k16" d="M309.4 40.5l1 .4 2.6 2.4-1-.3z"/><path class="k2" d="M228.7 21.2l1.6.3 3.3-.2-1.6-.3z"/><path class="k14" d="M301.1 38.9l1 .1 2.7-.3-.9-.3z"/><path class="k13" d="M293.7 38.6l1 .1 2.7-.7-.9-.4z"/><path class="k2" d="M236.9 21.8l1.6.3 3.3.4-1.6-.3z"/><path class="k14" d="M287.2 41.4l.9-.2 2.9-2.9-.9 0z"/><path class="k16" d="M310.4 40.9l.9.3 2.6 3.1-.9-1z"/><path class="k14" d="M302.1 39l.9 0 2.7.5-.9-.8z"/><path class="k16" d="M265.9 39.8l.9.8 3 3.2-.9-.8z"/><path class="k3" d="M245.1 23.1l1.7.3 3.2 1-1.6-.4z"/><path class="k13" d="M294.7 38.7l.9.2 2.8-.9-1 0z"/><path class="k16" d="M311.3 41.2l1 .4 2.5 3.7-.9-1z"/><path class="k14" d="M288.1 41.2l.9-.2 2.9-2.5-.9-.2z"/><path class="k16" d="M266.8 40.6l.8.6 3.1 3.2-.9-.6z"/><path class="k14" d="M303 39l.9.3 2.7.6-.9-.4z"/><path class="k2" d="M230.3 21.5l1.6.3 3.3-.3-1.6-.2z"/><path class="k13" d="M295.6 38.9l.9.2 2.8-1-.9-.1z"/><path class="k17" d="M312.3 41.6l.9.3 2.5 4.2-.9-.8z"/><path class="k2" d="M238.5 22.1l1.7.3 3.3.4-1.7-.3z"/><path class="k17" d="M267.6 41.2l.9.5 3.1 3.3-.9-.6z"/><path class="k14" d="M289 41l1-.1 2.8-2.3-.9-.1zM303.9 39.3l1 .2 2.7.3-1 .1z"/><path class="k3" d="M246.8 23.4l1.7.5 3.2 1.2-1.7-.7z"/><path class="k13" d="M296.5 39.1l.9 0 2.8-.6-.9-.4z"/><path class="k17" d="M268.5 41.7l.9.6 3 3.3-.8-.6z"/><path class="k14" d="M304.9 39.5l.9.3 2.7.3-.9-.3zM290 40.9l.9.1 2.8-2.4-.9 0z"/><path class="k2" d="M231.9 21.8l1.6.3 3.4-.3-1.7-.3z"/><path class="k13" d="M297.4 39.1l1 .1 2.7-.3-.9-.4z"/><path class="k17" d="M269.4 42.3l.9.5 3 3.3-.9-.5z"/><path class="k2" d="M240.2 22.4l1.6.3 3.3.4-1.6-.3z"/><path class="k14" d="M305.8 39.8l.9.2 2.7.5-.9-.4z"/><path class="k4" d="M248.5 23.9l1.7.6 3.2 1.4-1.7-.8z"/><path class="k14" d="M290.9 41l.9-.2 2.9-2.1-1-.1z"/><path class="k13" d="M298.4 39.2l.9.2 2.8-.4-1-.1z"/><path class="k17" d="M270.3 42.8l.9.7 3 3.1-.9-.5z"/><path class="k14" d="M306.7 40l1 .3 2.7.6-1-.4z"/><path class="k2" d="M233.5 22.1l1.7.3 3.3-.3-1.6-.3z"/><path class="k14" d="M291.8 40.8l.9-.1 2.9-1.8-.9-.2z"/><path class="k18" d="M271.2 43.5l.8.6 3.1 3-.9-.5z"/><path class="k13" d="M299.3 39.4l.9.2 2.8-.6-.9 0z"/><path class="k2" d="M241.8 22.7l1.7.3 3.3.4-1.7-.3z"/><path class="k4" d="M250.2 24.5l1.7.8 3.2 1.9-1.7-1.3z"/><path class="k14" d="M307.7 40.3l.9.2 2.7.7-.9-.3z"/><path class="k16" d="M286.1 45.3l.9-.3 3-4.1-1 .1z"/><path class="k18" d="M272 44.1l.9.5 3.1 2.9-.9-.4z"/><path class="k14" d="M292.7 40.7l.9 0 2.9-1.6-.9-.2z"/><path class="k13" d="M300.2 39.6l1 .2 2.7-.5-.9-.3zM262.8 36.6l.8.8 3.2 3.2-.9-.8z"/><path class="k14" d="M308.6 40.5l1 .3 2.7.8-1-.4z"/><path class="k18" d="M272.9 44.6l.9.6 3 2.8-.8-.5z"/><path class="k2" d="M235.2 22.4l1.6.2 3.4-.2-1.7-.3z"/><path class="k16" d="M287 45l1-.3 2.9-3.7-.9-.1z"/><path class="k14" d="M293.6 40.7l1 0 2.8-1.6-.9 0z"/><path class="k13" d="M301.2 39.8l.9.2 2.8-.5-1-.2zM263.6 37.4l.9.7 3.1 3.1-.8-.6z"/><path class="k2" d="M243.5 23l1.7.3 3.3.6-1.7-.5z"/><path class="k14" d="M309.6 40.8l1 .2 2.6.9-.9-.3z"/><path class="k18" d="M273.8 45.2l.9.7 3 2.4-.9-.3z"/><path class="k13" d="M294.6 40.7l.9.1 2.9-1.6-1-.1zM302.1 40l.9.2 2.8-.4-.9-.3z"/><path class="k15" d="M288 44.7l.9-.2 2.9-3.7-.9.2z"/><path class="k14" d="M264.5 38.1l.9.5 3.1 3.1-.9-.5z"/><path class="k19" d="M274.7 45.9l.9.6 3 2.1-.9-.3z"/><path class="k2" d="M236.8 22.6l1.7.3 3.3-.2-1.6-.3z"/><path class="k14" d="M265.4 38.6l.9.4 3.1 3.3-.9-.6z"/><path class="k13" d="M303 40.2l1 .1 2.7-.3-.9-.2zM295.5 40.8l.9.1 2.9-1.5-.9-.2z"/><path class="k15" d="M288.9 44.5l.9-.2 2.9-3.6-.9.1z"/><path class="k19" d="M275.6 46.5l.9.6 3 1.7-.9-.2z"/><path class="k2" d="M245.2 23.3l1.7.4 3.3.8-1.7-.6z"/><path class="k14" d="M266.3 39l.9.4 3.1 3.4-.9-.5z"/><path class="k13" d="M304 40.3l.9.2 2.8-.2-1-.3zM296.4 40.9l1 .2 2.8-1.5-.9-.2z"/><path class="k15" d="M289.8 44.3l.9 0 2.9-3.6-.9 0z"/><path class="k19" d="M276.5 47.1l.9.5 3 1.5-.9-.3z"/><path class="k7" d="M256 28.3l.9 1 3.2 3.8-.9-1.3z"/><path class="k14" d="M267.2 39.4l.9.3 3.1 3.8-.9-.7z"/><path class="k2" d="M238.5 22.9l1.6.3 3.4-.2-1.7-.3z"/><path class="k13" d="M304.9 40.5l1 .2 2.7-.2-.9-.2z"/><path class="k8" d="M256.9 29.3l.9 1 3.2 4-.9-1.2z"/><path class="k13" d="M297.4 41.1l.9.1 2.9-1.4-1-.2z"/><path class="k3" d="M246.9 23.7l1.7.4 3.3 1.2-1.7-.8z"/><path class="k15" d="M290.7 44.3l1 0 2.9-3.6-1 0zM268.1 39.7l.8.5 3.1 3.9-.8-.6z"/><path class="k13" d="M305.9 40.7l1 .2 2.7-.1-1-.3zM298.3 41.2l1 .1 2.8-1.3-.9-.2z"/><path class="k9" d="M258.6 31.3l.9 1 3.3 4.3-.9-1.1z"/><path class="k15" d="M291.7 44.3l.9 0 2.9-3.5-.9-.1zM268.9 40.2l.9.5 3.1 3.9-.9-.5z"/><path class="k2" d="M240.1 23.2l1.7.3 3.4-.2-1.7-.3z"/><path class="k13" d="M306.9 40.9l.9.2 2.8-.1-1-.2zM299.3 41.3l.9.1 2.8-1.2-.9-.2z"/><path class="k10" d="M259.5 32.3l.9 1 3.2 4.1-.8-.8z"/><path class="k3" d="M248.6 24.1l1.5.5 3.3 1.6-1.5-.9z"/><path class="k15" d="M269.8 40.7l.9.5 3.1 4-.9-.6zM292.6 44.3l.9 0 2.9-3.4-.9-.1z"/><path class="k10" d="M260.4 33.3l.9.7 3.2 4.1-.9-.7z"/><path class="k13" d="M300.2 41.4l1 .1 2.8-1.2-1-.1z"/><path class="k17" d="M286.8 49.1l1 0 2.9-4.8-.9 0z"/><path class="k15" d="M270.7 41.2l.9.4 3.1 4.3-.9-.7z"/><path class="k3" d="M250.1 24.6l.9.3 3.3 1.9-.9-.6z"/><path class="k15" d="M293.5 44.3l1 0 2.9-3.2-1-.2z"/><path class="k10" d="M261.3 34l.9.3 3.2 4.3-.9-.5z"/><path class="k2" d="M241.8 23.5l1.7.3 3.4-.1-1.7-.4z"/><path class="k16" d="M271.6 41.6l1 .6 3 4.3-.9-.6z"/><path class="k13" d="M301.2 41.5l.9.1 2.8-1.1-.9-.2z"/><path class="k17" d="M287.8 49.1l.9 0 3-4.8-1 0z"/><path class="k3" d="M251 24.9l.8.3 3.3 2.3-.8-.7z"/><path class="k14" d="M294.5 44.3l.9 0 2.9-3.1-.9-.1z"/><path class="k10" d="M262.2 34.3l.9.3 3.2 4.4-.9-.4z"/><path class="k16" d="M272.6 42.2l.9.5 3 4.4-.9-.6z"/><path class="k13" d="M302.1 41.6l1 .2 2.8-1.1-1-.2z"/><path class="k17" d="M288.7 49.1l.9 0 3-4.8-.9 0z"/><path class="k11" d="M263.1 34.6l.9.2 3.2 4.6-.9-.4z"/><path class="k14" d="M295.4 44.3l1 0 2.9-3-1-.1z"/><path class="k16" d="M273.5 42.7l.9.6 3 4.3-.9-.5z"/><path class="k2" d="M243.5 23.8l1.7.3 3.4 0-1.7-.4z"/><path class="k4" d="M252.7 25.5l.9.5 3.3 3.3-.9-1z"/><path class="k13" d="M303.1 41.8l1 .1 2.8-1-1-.2z"/><path class="k17" d="M289.6 49.1l1 0 2.9-4.8-.9 0z"/><path class="k11" d="M264 34.8l.9.3 3.2 4.6-.9-.3z"/><path class="k14" d="M296.4 44.3l.9 0 2.9-2.9-.9-.1z"/><path class="k16" d="M274.4 43.3l.9.6 3 4.3-.9-.6z"/><path class="k4" d="M253.6 26l.9.4 3.3 3.9-.9-1z"/><path class="k13" d="M304.1 41.9l.9.1 2.8-.9-.9-.2z"/><path class="k17" d="M290.6 49.1l.9 0 3-4.8-1 0z"/><path class="k11" d="M264.9 35.1l.9.3 3.1 4.8-.8-.5z"/><path class="k5" d="M254.5 26.4l.8.6 3.3 4.3-.8-1z"/><path class="k17" d="M275.3 43.9l.9.6 3.1 4.2-1-.5z"/><path class="k2" d="M245.2 24.1l1.6.3 3.3.2-1.5-.5z"/><path class="k14" d="M297.3 44.3l1 0 2.9-2.8-1-.1z"/><path class="k5" d="M255.3 27l.9.5 3.3 4.8-.9-1z"/><path class="k17" d="M276.2 44.5l.9.6 3.1 4.1-.9-.5z"/><path class="k11" d="M265.8 35.4l.9.2 3.1 5.1-.9-.5z"/><path class="k17" d="M291.5 49.1l1 0 2.9-4.8-.9 0z"/><path class="k14" d="M298.3 44.3l.9.1 2.9-2.8-.9-.1z"/><path class="k2" d="M246.8 24.4l.8.1 3.4.4-.9-.3z"/><path class="k6" d="M256.2 27.5l.9.5 3.3 5.3-.9-1z"/><path class="k17" d="M277.1 45.1l.9.5 3.1 4.1-.9-.5z"/><path class="k11" d="M266.7 35.6l.9.3 3.1 5.3-.9-.5z"/><path class="k17" d="M292.5 49.1l.9-.1 3-4.7-1 0z"/><path class="k14" d="M299.2 44.4l1 0 2.9-2.6-1-.2z"/><path class="k6" d="M257.1 28l.9.4 3.3 5.6-.9-.7z"/><path class="k2" d="M247.6 24.5l.9.2 3.3.5-.8-.3z"/><path class="k17" d="M278 45.6l1 .4 3 4.1-.9-.4z"/><path class="k11" d="M267.6 35.9l.9.3 3.1 5.4-.9-.4z"/><path class="k16" d="M293.4 49l1 0 2.9-4.7-.9 0z"/><path class="k6" d="M258 28.4l.9.3 3.3 5.6-.9-.3z"/><path class="k14" d="M300.2 44.4l1 0 2.9-2.5-1-.1z"/><path class="k2" d="M248.5 24.7l.9.1 3.3.7-.9-.3z"/><path class="k18" d="M279 46l.9.4 3 4-.9-.3z"/><path class="k11" d="M268.5 36.2l.9.4 3.2 5.6-1-.6z"/><path class="k16" d="M294.4 49l.9 0 3-4.7-1 0z"/><path class="k6" d="M258.9 28.7l.9.1 3.3 5.8-.9-.3z"/><path class="k14" d="M301.2 44.4l.9.1 2.9-2.5-.9-.1z"/><path class="k2" d="M249.4 24.8l.8.2 3.4 1-.9-.5z"/><path class="k18" d="M279.9 46.4l.9.4 3 3.9-.9-.3z"/><path class="k12" d="M269.4 36.6l.9.3 3.2 5.8-.9-.5z"/><path class="k19" d="M288.5 52l1 .2 3-3.1-1 0z"/><path class="k16" d="M295.3 49l1-.1 2.9-4.5-.9-.1z"/><path class="k6" d="M259.8 28.8l.9.2 3.3 5.8-.9-.2z"/><path class="k2" d="M250.2 25l.9.1 3.4 1.3-.9-.4z"/><path class="k12" d="M270.3 36.9l.9.4 3.2 6-.9-.6z"/><path class="k18" d="M280.8 46.8l1 .4 3 3.8-1-.3z"/><path class="k19" d="M289.5 52.2l.9.2 3-3.4-.9.1z"/><path class="k6" d="M260.7 29l.9.2 3.3 5.9-.9-.3z"/><path class="k2" d="M251.1 25.1l.9.2 3.3 1.7-.8-.6z"/><path class="k16" d="M296.3 48.9l1 0 2.9-4.5-1 0z"/><path class="k12" d="M271.2 37.3l.9.4 3.2 6.2-.9-.6z"/><path class="k18" d="M281.8 47.2l.9.5 3 3.6-.9-.3z"/><path class="k19" d="M290.4 52.4l1 .1 3-3.5-1 0z"/><path class="k6" d="M261.6 29.2l.9.1 3.3 6.1-.9-.3z"/><path class="k3" d="M252 25.3l.9.1 3.3 2.1-.9-.5z"/><path class="k12" d="M272.1 37.7l1 .4 3.1 6.4-.9-.6z"/><path class="k18" d="M282.7 47.7l.9.4 3 3.4-.9-.2z"/><path class="k16" d="M297.3 48.9l.9 0 3-4.5-1 0z"/><path class="k19" d="M291.4 52.5l.9.2 3-3.7-.9 0z"/><path class="k13" d="M273.1 38.1l.9.4 3.1 6.6-.9-.6z"/><path class="k3" d="M252.9 25.4l.9.2 3.3 2.4-.9-.5z"/><path class="k7" d="M262.5 29.3l.9.2 3.3 6.1-.9-.2z"/><path class="k18" d="M283.6 48.1l1 .4 3 3.2-1-.2z"/><path class="k16" d="M298.2 48.9l1-.1 2.9-4.3-.9-.1z"/><path class="k13" d="M274 38.5l.9.3 3.1 6.8-.9-.5z"/><path class="k19" d="M292.3 52.7l1 .1 3-3.9-1 .1z"/><path class="k3" d="M253.8 25.6l.9.2 3.3 2.6-.9-.4z"/><path class="k7" d="M263.4 29.5l.9.2 3.3 6.2-.9-.3z"/><path class="k18" d="M284.6 48.5l.9.4 3 3.1-.9-.3z"/><path class="k13" d="M274.9 38.8l1 .3 3.1 6.9-1-.4z"/><path class="k3" d="M254.7 25.8l.9.1 3.3 2.8-.9-.3z"/><path class="k7" d="M264.3 29.7l.9.3 3.3 6.2-.9-.3z"/><path class="k18" d="M293.3 52.8l1 .1 3-4-1 0zM285.5 48.9l1 .4 3 2.9-1-.2z"/><path class="k13" d="M275.9 39.1l.9.4 3.1 6.9-.9-.4z"/><path class="k3" d="M255.6 25.9l.9.2 3.3 2.7-.9-.1z"/><path class="k7" d="M265.2 30l.9.2 3.3 6.4-.9-.4z"/><path class="k18" d="M294.3 52.9l.9.1 3-4.1-.9 0zM286.5 49.3l.9.5 3 2.6-.9-.2z"/><path class="k13" d="M276.8 39.5l.9.3 3.1 7-.9-.4z"/><path class="k7" d="M266.1 30.2l1 .2 3.2 6.5-.9-.3z"/><path class="k3" d="M256.5 26.1l.9.1 3.3 2.8-.9-.2z"/><path class="k18" d="M287.4 49.8l1 .4 3 2.3-1-.1zM295.2 53l1 .1 3-4.3-1 .1z"/><path class="k13" d="M277.7 39.8l1 .4 3.1 7-1-.4z"/><path class="k7" d="M267.1 30.4l.9.2 3.2 6.7-.9-.4z"/><path class="k3" d="M257.4 26.2l.9.2 3.3 2.8-.9-.2z"/><path class="k19" d="M288.4 50.2l1 .4 2.9 2.1-.9-.2z"/><path class="k13" d="M278.7 40.2l.9.3 3.1 7.2-.9-.5z"/><path class="k7" d="M268 30.6l.9.3 3.2 6.8-.9-.4z"/><path class="k3" d="M258.3 26.4l.9.1 3.3 2.8-.9-.1z"/><path class="k19" d="M289.4 50.6l.9.4 3 1.8-1-.1z"/><path class="k14" d="M279.6 40.5l1 .4 3 7.2-.9-.4z"/><path class="k7" d="M268.9 30.9l1 .2 3.2 7-1-.4z"/><path class="k3" d="M259.2 26.5l.9.2 3.3 2.8-.9-.2z"/><path class="k19" d="M290.3 51l1 .4 3 1.5-1-.1z"/><path class="k14" d="M280.6 40.9l.9.3 3.1 7.3-1-.4z"/><path class="k7" d="M269.9 31.1l.9.2 3.2 7.2-.9-.4z"/><path class="k3" d="M260.1 26.7l.9.2 3.3 2.8-.9-.2z"/><path class="k19" d="M291.3 51.4l1 .4 2.9 1.2-.9-.1z"/><path class="k14" d="M281.5 41.2l1 .4 3 7.3-.9-.4z"/><path class="k7" d="M270.8 31.3l.9.2 3.2 7.3-.9-.3z"/><path class="k3" d="M261 26.9l.9.1 3.3 3-.9-.3z"/><path class="k19" d="M292.3 51.8l.9.3 3 1-1-.1z"/><path class="k14" d="M282.5 41.6l.9.4 3.1 7.3-1-.4z"/><path class="k7" d="M271.7 31.5l1 .2 3.2 7.4-1-.3z"/><path class="k3" d="M261.9 27l.9.2 3.3 3-.9-.2z"/><path class="k14" d="M283.4 42l1 .4 3 7.4-.9-.5z"/><path class="k7" d="M272.7 31.7l.9.3 3.2 7.5-.9-.4z"/><path class="k3" d="M262.8 27.2l1 .2 3.3 3-1-.2z"/><path class="k14" d="M284.4 42.4l1 .4 3 7.4-1-.4z"/><path class="k8" d="M273.6 32l1 .2 3.1 7.6-.9-.3z"/><path class="k3" d="M263.8 27.4l.9.2 3.3 3-.9-.2z"/><path class="k15" d="M285.4 42.8l.9.4 3.1 7.4-1-.4z"/><path class="k8" d="M274.6 32.2l.9.2 3.2 7.8-1-.4z"/><path class="k3" d="M264.7 27.6l.9.1 3.3 3.2-.9-.3z"/><path class="k15" d="M286.3 43.2l1 .4 3 7.4-.9-.4z"/><path class="k8" d="M275.5 32.4l1 .3 3.1 7.8-.9-.3z"/><path class="k3" d="M265.6 27.7l1 .2 3.3 3.2-1-.2z"/><path class="k15" d="M287.3 43.6l1 .4 3 7.4-1-.4z"/><path class="k8" d="M276.5 32.7l.9.2 3.2 8-1-.4z"/><path class="k3" d="M266.6 27.9l.9.2 3.3 3.2-.9-.2z"/><path class="k15" d="M288.3 44l1 .4 3 7.4-1-.4z"/><path class="k8" d="M277.4 32.9l1 .3 3.1 8-.9-.3z"/><path class="k15" d="M289.3 44.4l1 .5 2.9 7.2-.9-.3z"/><path class="k3" d="M267.5 28.1l.9.2 3.3 3.2-.9-.2z"/><path class="k8" d="M278.4 33.2l1 .2 3.1 8.2-1-.4z"/><path class="k3" d="M268.4 28.3l1 .1 3.3 3.3-1-.2z"/><path class="k8" d="M279.4 33.4l.9.3 3.1 8.3-.9-.4z"/><path class="k3" d="M269.4 28.4l.9.2 3.3 3.4-.9-.3z"/><path class="k8" d="M280.3 33.7l1 .3 3.1 8.4-1-.4z"/><path class="k3" d="M270.3 28.6l1 .2 3.3 3.4-1-.2z"/><path class="k8" d="M281.3 34l1 .3 3.1 8.5-1-.4z"/><path class="k3" d="M271.3 28.8l1 .2 3.2 3.4-.9-.2z"/><path class="k8" d="M282.3 34.3l1 .2 3 8.7-.9-.4z"/><path class="k3" d="M272.3 29l.9.2 3.3 3.5-1-.3z"/><path class="k9" d="M283.3 34.5l.9.3 3.1 8.8-1-.4z"/><path class="k3" d="M273.2 29.2l1 .1 3.2 3.6-.9-.2z"/><path class="k9" d="M284.2 34.8l1 .3 3.1 8.9-1-.4z"/><path class="k3" d="M274.2 29.3l.9.2 3.3 3.7-1-.3z"/><path class="k9" d="M285.2 35.1l1 .3 3.1 9-1-.4z"/><path class="k3" d="M275.1 29.5l1 .2 3.3 3.7-1-.2z"/><path class="k9" d="M286.2 35.4l1 .3 3.1 9.2-1-.5z"/><path class="k3" d="M276.1 29.7l1 .2 3.2 3.8-.9-.3zM277.1 29.9l1 .2 3.2 3.9-1-.3z"/><path class="k4" d="M278.1 30.1l1 .2 3.2 4-1-.3zM279.1 30.3l.9.2 3.3 4-1-.2zM280 30.5l1 .2 3.2 4.1-.9-.3zM281 30.7l1 .2 3.2 4.2-1-.3zM282 30.9l1 .2 3.2 4.3-1-.3zM283 31.1l1 .2 3.2 4.4-1-.3z"/></g>
<text x="272.7" y="74.5" class="an">(13.76 GHz,</text><text x="272.7" y="81.5" class="an">8.55 mm,</text><text x="272.7" y="88.5" class="an">-31.76 dB)</text><path d="M295.9 74.4L310.9 89.4" stroke="#000" stroke-width="1.1"/><path d="M313.2 91.7L309.9 90.5L312 88.4z" fill="#000"/>
<linearGradient id="g3b" x1="0" y1="0" x2="0" y2="1"><stop offset="0.000" stop-color="#ff0000"/><stop offset="0.120" stop-color="#ff1000"/><stop offset="0.190" stop-color="#ff5000"/><stop offset="0.240" stop-color="#ff8000"/><stop offset="0.280" stop-color="#ffb000"/><stop offset="0.310" stop-color="#ffe000"/><stop offset="0.335" stop-color="#c8ff00"/><stop offset="0.370" stop-color="#00ff00"/><stop offset="0.500" stop-color="#00ff3c"/><stop offset="0.535" stop-color="#00ff96"/><stop offset="0.580" stop-color="#00ffff"/><stop offset="0.630" stop-color="#00beff"/><stop offset="0.700" stop-color="#006eff"/><stop offset="0.750" stop-color="#0000ff"/><stop offset="0.820" stop-color="#2800ff"/><stop offset="0.880" stop-color="#6e00ff"/><stop offset="0.950" stop-color="#a000ff"/><stop offset="1.000" stop-color="#b900ff"/></linearGradient><rect x="343.5" y="13.5" width="6.1" height="78.1" fill="url(#g3b)"/><text x="352.2" y="19.6" class="cb">-3.800</text><text x="352.2" y="29.3" class="cb">-7.600</text><text x="352.2" y="39.1" class="cb">-11.40</text><text x="352.2" y="48.9" class="cb">-15.20</text><text x="352.2" y="58.6" class="cb">-19.00</text><text x="352.2" y="68.4" class="cb">-22.80</text><text x="352.2" y="78.2" class="cb">-26.60</text><text x="352.2" y="87.9" class="cb">-30.40</text>
<text transform="translate(205.2,64.8) rotate(-90)" class="r3" text-anchor="middle">RL (dB)</text>
<path d="M401.1 16.3L458.7 7.3L524.6 13.4M458.7 7.3L459.4 79.5M524.6 13.4L522.1 95.6" stroke="#b8b8b8" stroke-width="0.6" fill="none"/>
<clipPath id="flc"><polygon points="404.7,100.1 470.4,122.8 522.1,95.6 459.4,79.5"/></clipPath>
<g clip-path="url(#flc)">
<polygon points="404.7,100.1 470.4,122.8 522.1,95.6 459.4,79.5" fill="#ff0800"/>
<path fill="#ff0c00" fill-rule="evenodd" d="M522.2 95.6 470.4 122.8 404.9 100.2 459.6 79.6 522.2 95.6Z"/>
<path fill="#ff0f00" fill-rule="evenodd" d="M522.2 95.6 472.4 121.8 445 111.8 442.6 110.3 439 106.4 437 104.9 427.5 101.5 425.2 100.3 424 98.8 424.2 97.2 425.5 95.6 430.2 91.6 430.2 90.6 459.6 79.6 522.2 95.6Z"/>
<path fill="#ff2000" fill-rule="evenodd" d="M522.2 95.6 473.6 121.1 446.4 111.2 444.4 109.5 442.5 104.9 441 103.1 431.8 99.8 430 98.7 429.5 97.2 430.4 95.6 433 93.4 439.5 88.8 440.2 87.8 439.8 87 459.6 79.6 522.2 95.6Z"/>
<path fill="#ff3700" fill-rule="evenodd" d="M522.2 95.6 474.6 120.6 447.7 110.6 446.2 108.9 445.4 103.6 444.3 101.8 442.8 100.9 435.7 98.2 434.4 97.3 434.4 95.9 435.3 94.6 437 93.2 443.9 88.3 446.6 85.6 446.5 84.5 459.6 79.6 522.2 95.6Z"/>
<path fill="#ff4e00" fill-rule="evenodd" d="M522.2 95.6 475.5 120.1 449.1 110 447.9 108.3 447.9 103.2 447.1 100.8 443.4 98.3 439.7 96.6 439 95.8 439.2 94.7 440.4 93.2 449.6 85.6 450.8 84.1 451.2 82.7 459.6 79.6 522.2 95.6Z"/>
<path fill="#ff6600" fill-rule="evenodd" d="M522.1 95.6 476.4 119.6 461.5 113.8 450.8 109.2 449.8 107.5 450.1 102.8 449.5 100.5 443.4 94.4 444.2 92.5 448.5 87.8 451.4 85.7 454.8 82.3 455.6 81.1 459.5 79.6 522.1 95.6Z"/>
<path fill="#ff7e00" fill-rule="evenodd" d="M475.3 83.6 470.2 86.2 467.7 88.7 469.7 93.2 470.6 97.4 474.2 103.6 480.5 107.4 481 108.1 490.5 112.2 477.4 119.1 462.7 113.2 453 108.2 452 106.5 451.5 100.2 446.8 94.1 446.5 92.8 450 87.8 452.2 86.3 454.8 83.7 457.8 81.4 459.1 79.7 459.5 79.6 475.3 83.6ZM522.1 95.6 496.1 109.3 492.7 107.5 492 106.4 489.8 106.1 489.6 105.9 490.8 105.1 488.3 104.5 489.4 103.8 488.2 103.6 488 103.3 488.6 102.9 488.3 102.7 486.3 102.3 487.2 101.4 485.1 101.1 485.3 100.6 484.4 99.7 485.1 99.1 483.1 98.6 484.3 97.9 482.3 97.3 483.4 96.7 483.4 96.4 481.6 96 482.7 95.2 482 95 481.6 94.4 480.5 94.1 481.9 93.5 480.4 92.8 481.8 92.2 479.9 91.7 481.4 91 480.3 90.6 480.4 88.9 480.9 88.6 481.9 88.5 481.5 87.6 482.5 87.4 483.1 87.2 481.9 86.5 482.8 86.3 483.4 85.7 522.1 95.6Z"/>
<path fill="#ff9b00" fill-rule="evenodd" d="M472 82.8 467.1 85.4 463.2 88.5 464.8 97.1 468.2 104.2 475.9 109.7 486.1 114.5 478.6 118.5 464.7 112.8 458.2 108.9 455 106.4 453 99.2 448.7 92.6 449.3 91 451.4 87.8 453.6 86.3 456.2 83.7 459.5 81.4 461.1 80 472 82.8ZM522.1 95.6 500.9 106.8 498.9 105.3 497.8 104.9 497.9 104.2 496.5 103.7 496.5 102.7 495.1 102.4 495.1 101.6 493.6 101 493.8 100.4 492.2 99.8 491.8 99.1 492 98.6 490.7 98 491.1 97.3 489.8 96.7 490.2 95.9 489 95.4 489.5 94.8 488.2 93.8 488.8 93.3 487.8 92.6 488.3 91.9 487.5 91.3 488 90.9 487.4 90.2 487.8 89.2 488.5 89 488.3 88.1 489 87.9 489.3 87.6 489 87.1 502 90.4 502.7 91 502.3 91.6 503.1 92 502.6 92.7 503.8 93.4 503.1 93.7 504.4 94.3 504.1 94.9 505.8 95.4 506.1 96.1 509 96 510.5 95.6 513 94.1 513.6 93.4 522.1 95.6Z"/>
<path fill="#ffbc00" fill-rule="evenodd" d="M470.5 82.4 465 85.2 461.1 88.3 461.4 96.7 464.7 105 472.7 110.8 483.3 116 480.3 117.6 467.2 112 458.3 105.8 456.5 103.2 454.9 98.4 450.8 92.5 451.1 90.6 452.4 88 454.6 86.5 457.1 84 460.5 81.7 462.3 80.3 470.5 82.4ZM522.1 95.6 502.1 106.1 501.1 105.2 500 104.8 499.7 103.9 498.3 103.2 498 102.4 497 102 497 101.5 495.6 100.9 495.4 100.1 494 99.4 493.6 98.3 492.7 97.9 492.7 97 491.8 96.6 492 95.9 491 95.3 491.2 94.8 490.1 93.7 490.5 93.1 489.8 92.6 490.1 91.9 489.3 91.3 489.7 90.7 489.2 90.2 489.2 89.6 490.2 89 490.1 88.6 490.3 88.2 490.9 88 490.9 87.6 500.3 90 500.2 90.6 500.8 91 500.5 91.6 501.2 92.1 500.9 92.7 501.7 93.3 501.4 93.7 502.5 94.4 502.3 94.9 503.5 95.6 503.5 96.4 504.8 96.8 504.9 97.6 506.2 97.8 506.4 98.2 509 98.3 510.2 98.1 511.7 97.7 513.2 96.7 515.9 94 522.1 95.6Z"/>
<path fill="#fae300" fill-rule="evenodd" d="M469.3 82.1 463.5 84.8 459.2 88.2 458.7 93.4 458 94.6 456.9 95.2 455.4 94.8 453.1 92.6 452.8 90.6 453.9 88 456.1 86.5 458.2 84.2 463.4 80.6 469.3 82.1ZM499.4 89.8 499.6 90.2 499.2 90.6 500.3 92.1 500.1 92.9 500.9 93.5 500.6 93.8 501.5 94.4 501.4 94.9 502.5 95.7 502.7 96.5 503.6 96.9 503.7 97.7 504.4 97.8 505 98.4 506.8 98.9 507.2 99.6 509.1 100.1 509.2 100.9 510.7 101.6 502.7 105.8 500.7 104.4 500.3 103.6 499.3 103.2 499.1 102.4 498 102 497.7 101.2 496.7 100.8 496 99.8 494.9 99.4 494.5 98.3 493.6 97.7 493.6 97 492.8 96.5 492.8 95.7 491.9 95.3 490.1 90.2 490.3 89.5 491.1 89 490.9 88.4 491.8 87.8 499.4 89.8ZM522.1 95.6 515 99.4 514.8 99 515.6 97.4 517.8 94.5 522.1 95.6Z"/>
<path fill="#baff00" fill-rule="evenodd" d="M498.9 89.7 499 90.1 498.6 90.4 499.3 91 499.2 91.8 500.2 93.4 500.1 93.9 500.8 94.4 501.1 95.3 501.8 95.6 501.9 96.4 502.8 96.9 503 97.6 504 98 504.5 98.7 505.7 99 506.5 99.9 507.8 100.3 508.1 101 509.5 101.7 509.5 102.2 503.1 105.6 501.5 104.5 501.2 103.7 500.2 103.2 499.6 102.2 498.5 101.7 496.7 99.9 495.4 99.2 491.7 93.8 491.9 93.2 491.3 92.3 491.5 91.9 490.9 91.3 490.7 90 490.8 89.6 491.6 89 491.5 88.5 492.3 88 498.9 89.7ZM468 81.7 465.4 83 461.1 84.4 460.7 84.2 461.1 83.8 464.5 80.9 468 81.7Z"/>
<path fill="#2bff00" fill-rule="evenodd" d="M498.6 89.6 498.2 90.3 498.7 90.9 498.7 91.6 499.3 92.2 499.7 94 500.5 94.5 500.5 95.1 501.4 95.8 502.6 97.8 503.2 98 504 98.7 505.3 99.2 505.8 99.9 506.9 100.2 507.7 101.3 508.9 102 509 102.5 503.4 105.4 500.5 103.1 500.1 102.3 499.2 101.8 498.6 101 497.4 100.4 497 99.7 495.7 99 495.6 98.3 494.6 97.5 494.6 97 493.8 96.4 493.7 95.7 493 95.2 492.9 94.4 492.1 93.7 492.3 93.1 491.7 92.5 491.9 92 491.1 90.1 491.2 89.7 492 89.1 491.9 88.7 492.6 88.1 498.6 89.6Z"/>
<path fill="#00ff08" fill-rule="evenodd" d="M498.3 89.5 497.9 90.5 498.5 91 498.3 91.6 499.4 93.4 499.3 93.9 500.2 94.6 500.2 95.1 502.1 97.2 502.2 97.8 504.6 99.1 505.5 100 507 100.7 507.4 101.4 508.4 101.9 508.7 102.6 503.7 105.3 500.7 102.9 499 101 496.3 99.2 494.1 96.3 494 95.6 493.2 95.1 491.4 90.2 491.5 89.8 492.3 89.2 492.4 88.4 492.9 88.1 498.3 89.5Z"/>
<path fill="#00ff14" fill-rule="evenodd" d="M498.1 89.5 497.7 90.6 498.3 91.1 498.1 91.6 499.2 93.5 499.1 94 499.9 94.5 500.9 96.5 501.7 97 501.9 97.7 504.4 99.2 505 99.9 506.4 100.5 507 101.4 508.1 102 508.5 102.8 503.9 105.2 500.9 102.8 500.6 102.1 499.6 101.6 497.8 99.8 496.5 99.1 494.3 96.2 494.3 95.7 493.5 95 491.7 90.2 491.8 89.8 492.5 89.2 492.6 88.4 493.1 88.2 498.1 89.5Z"/>
<path fill="#00ff1f" fill-rule="evenodd" d="M498 89.4 497.4 90.5 498 91.1 497.9 91.7 498.4 92.2 498.9 94 500.6 95.8 500.6 96.5 503.2 98.9 506.2 100.6 508.3 102.8 504.1 105.1 502.8 104.3 500.9 102.1 496.7 99 495.4 96.8 494.7 96.4 494.6 95.7 493.8 95.1 491.9 90.1 492.7 89.3 492.8 88.5 493.3 88.2 498 89.4Z"/>
<path fill="#00ff2b" fill-rule="evenodd" d="M497.8 89.4 497.6 90.1 497.2 90.4 497.8 91 498.1 92.8 498.8 94.1 499.5 94.6 499.6 95.3 500.4 95.8 500.4 96.4 501.4 97.1 501.6 97.9 506 100.7 508.2 102.9 504.3 105 501.6 103 501.3 102.2 496.8 98.9 496.6 98.2 495.8 97.7 495.7 96.9 494.9 96.4 494.7 95.6 494 95.1 492.7 92.5 492.9 91.8 492.3 91.2 492.1 90 492.8 89.3 493 88.5 493.5 88.3 497.8 89.4Z"/>
<path fill="#00ff36" fill-rule="evenodd" d="M497.6 89.3 497 90.5 497.6 91 497.5 91.8 498.1 92.3 498.6 94.2 499.3 94.7 499.3 95.2 500.3 95.9 500.2 96.4 501.2 97.2 501.5 98 505.9 100.8 508.1 103 504.4 104.9 503.1 104.1 499.8 100.9 497.3 99.1 495 96.3 494.9 95.5 494.1 95.1 493.3 93.6 493.4 93 492.9 92.4 493.1 91.9 492.5 91.3 492.3 90 493.6 88.3 497.6 89.3Z"/>
<path fill="#00ff5c" fill-rule="evenodd" d="M497.5 89.3 496.9 90.4 499.1 95.2 500 95.9 501.3 98 505.8 100.8 508 103 504.5 104.9 503.2 104.1 500.1 100.9 498.7 100.2 498.4 99.5 497.4 99.1 495.2 96.3 495 95.5 494.3 95 492.5 90 493.7 88.3 497.5 89.3Z"/>
<path fill="#00ff9c" fill-rule="evenodd" d="M497.4 89.3 496.7 90.3 498.3 93.5 498.1 94 499 94.7 499 95.2 499.8 95.8 501 97.9 503.7 99.5 504.1 100.2 505.3 100.6 507.9 103.1 504.6 104.8 502 102.8 500.2 100.9 497.5 99 495.3 96.2 495.1 95.4 494.4 94.9 492.6 90.1 493.8 88.3 497.4 89.3Z"/>
<path fill="#00ffd6" fill-rule="evenodd" d="M497.3 89.2 496.6 90.3 497.2 91.2 497 91.6 497.6 92.2 498 94 498.7 94.5 499.8 96.6 500.6 97.1 500.7 97.9 503.6 99.6 503.9 100.1 505.2 100.7 507.8 103.1 504.8 104.7 502.1 102.7 500.3 100.8 497.6 99 493.9 93.8 494 93.1 493.3 92.3 493.5 92 492.8 90.1 493.9 88.4 497.3 89.2Z"/>
<path fill="#00f5ff" fill-rule="evenodd" d="M497.2 89.2 496.5 90.3 497.5 92.2 497.4 93 498.8 95.3 499.6 95.8 499.7 96.6 500.5 97.1 500.6 97.8 503.5 99.6 503.7 100 505.1 100.7 505.5 101.5 507.7 103.2 504.9 104.7 503.9 104.2 503.3 103.3 502.2 102.7 500.4 100.8 497.7 98.9 494.1 93.8 494.1 93 493.5 92.5 493.7 92 492.9 90.1 494 88.4 497.2 89.2Z"/>
<path fill="#00d5ff" fill-rule="evenodd" d="M497.1 89.2 496.7 89.5 496.4 90.6 497 91.2 496.8 91.6 497.4 92.3 497.7 93.9 499.5 95.9 499.6 96.6 500.4 97.1 500.6 97.9 505 100.7 505.4 101.5 507.7 103.2 504.9 104.6 504 104.2 503.5 103.3 502.3 102.6 500.5 100.7 497.8 98.9 494.2 93.8 494.3 93 493.6 92.4 493.8 92 493 90.2 494.1 88.4 497.1 89.2Z"/>
<path fill="#00b5ff" fill-rule="evenodd" d="M497 89.2 496.6 89.5 496.2 90.6 496.8 91 496.6 91.5 497.3 92.3 497.1 92.9 497.8 93.5 497.6 93.9 499.4 95.9 499.5 96.6 500.3 97.2 500.5 98 504.9 100.8 505.3 101.5 507.6 103.2 505 104.6 504 104.1 503.7 103.3 502.7 102.9 500.6 100.7 497.8 98.9 494.3 93.8 494.4 93 493.8 92.5 493.9 91.9 493.1 90.2 493.2 89.8 494 89.2 494.2 88.4 497 89.2Z"/>
<path fill="#0099ff" fill-rule="evenodd" d="M497 89.2 496.5 89.4 496.1 90.6 496.7 91 496.5 91.5 497.2 92.4 497 92.9 497.6 93.5 497.4 93.9 499.3 96 499.3 96.6 500.2 97.2 500.4 98 504.8 100.8 505.2 101.6 507.5 103.3 505.1 104.6 502.8 102.8 502.3 102 501.1 101.3 500.7 100.6 499.6 100.2 499.2 99.5 497.9 98.8 494.3 93.7 494.5 93.1 493.9 92.5 494.1 91.8 493.2 90.2 493.3 89.8 494.1 89.2 494.2 88.5 497 89.2Z"/>
<path fill="#007cff" fill-rule="evenodd" d="M496.9 89.1 496.4 89.4 495.9 90.5 496.6 91.1 496.4 91.6 497.1 92.4 496.9 92.9 497.5 93.5 497.3 94 498.3 94.7 498.4 95.4 499.2 96 499.2 96.5 500.1 97.2 500.4 98.1 502.8 99.5 503.3 100.2 504.7 100.9 506.5 102.8 507.4 103.3 505.1 104.5 502.8 102.8 502.5 102 501.1 101.3 500.7 100.6 499.7 100.2 499.3 99.5 498 98.8 494.4 93.7 494.6 93.1 494 92.5 494.2 91.8 493.6 91.3 493.3 90.2 493.4 89.9 494.2 89.3 494.3 88.5 496.9 89.1Z"/>
<path fill="#0052ff" fill-rule="evenodd" d="M496.8 89.1 496.3 89.4 495.8 90.5 496.5 91.1 496.3 91.6 497 92.5 496.8 93 497.4 93.5 497.2 94 498.2 94.8 498.2 95.4 499.1 96 499 96.5 500 97.2 500.3 98.1 502.8 99.6 503.2 100.3 504.7 100.9 506.4 102.9 507.4 103.4 505.2 104.5 504.3 104 503.9 103.2 502.9 102.8 502.6 102 501.2 101.3 500.8 100.6 499.8 100.1 499.4 99.4 498.1 98.7 497.9 98 497.1 97.5 497.1 96.8 496.1 96.2 496 95.4 494.5 93.6 494.7 93.1 494 92.2 494.3 91.8 493.7 91.2 493.4 90.2 493.5 89.9 494.3 89.3 494.4 88.5 496.8 89.1Z"/>
<path fill="#001bff" fill-rule="evenodd" d="M496.7 89.1 496.2 89.4 496.2 90.1 495.7 90.5 496.4 91.1 496.2 91.7 496.9 92.4 497.1 94.1 499 96 498.9 96.6 499.8 97.1 499.9 97.9 501.1 98.6 501.2 99 502.7 99.6 503.1 100.3 504.6 101 506.3 102.9 507.3 103.4 505.3 104.5 504.3 104 504 103.2 503 102.7 502.6 102 501.4 101.3 500.9 100.5 499.9 100.1 499.5 99.4 498.2 98.7 498.1 98 497.1 97.4 497.2 96.9 496.2 96.2 495.3 94.2 494.6 93.6 494.9 93.1 494.3 92.6 494.4 91.8 493.7 91.2 493.9 90.7 493.5 90.1 494.4 89.3 494.5 88.5 496.7 89.1Z"/>
<path fill="#0700ff" fill-rule="evenodd" d="M496.6 89.1 496.1 89.3 496 90.1 495.6 90.4 496.3 91 496 91.7 496.8 92.4 497 94.1 497.8 94.6 497.9 95.4 498.9 96 498.8 96.6 499.7 97.1 499.7 97.9 500.7 98.3 501.1 99 502.6 99.6 503 100.3 504.5 101 506.3 103 507.2 103.4 505.3 104.4 504.4 103.9 504 103.1 503.1 102.7 502.7 101.9 501.5 101.3 501.3 100.8 499.9 100.1 499.6 99.3 498.2 98.7 498.3 98.1 497.2 97.4 497.3 96.9 496.4 96.2 496.5 95.6 495.4 94.9 495.5 94.2 494.7 93.6 495 93 494.3 92.5 494.6 91.8 493.8 91.2 494.1 90.7 493.6 90.1 494.5 89.3 494.6 88.5 496.6 89.1Z"/>
<path fill="#1500ff" fill-rule="evenodd" d="M496.6 89.1 496 89.3 496 90.1 495.5 90.4 496.2 91 495.9 91.8 496.7 92.4 496.9 94.2 497.7 94.6 497.8 95.4 498.8 96 498.7 96.7 499.6 97.1 499.6 98 500.6 98.4 501 99.1 502.6 99.7 502.9 100.4 504.1 100.7 504.9 101.8 505.8 102.2 506.2 103 507.2 103.5 505.4 104.4 504.5 103.9 504.1 103.1 503.1 102.7 502.8 101.9 501.7 101.4 501.4 100.7 500 100 499.7 99.3 498.3 98.6 498.4 98.1 497.3 97.4 497.5 96.8 496.6 96.3 496.6 95.6 495.5 94.8 495.7 94.3 494.8 93.6 495.1 93 494.4 92.5 494.7 91.9 493.9 91.2 494.2 90.6 493.7 90.1 494.7 89.4 494.7 88.6 496.6 89.1Z"/>
<path fill="#2400ff" fill-rule="evenodd" d="M496.5 89 495.9 89.3 495.9 90.1 495.3 90.5 496 91 495.7 91.7 496.6 92.4 496.2 92.8 497 93.7 496.8 94.2 497.7 94.6 497.6 95.5 498.6 95.9 498.6 96.7 499.5 97.2 499.5 98 500.6 98.4 500.9 99.1 502.5 99.7 502.9 100.4 504 100.8 504.7 101.7 505.8 102.2 506.1 103 507.1 103.5 505.5 104.4 504.5 103.9 504.2 103.1 503.2 102.6 502.9 101.8 501.8 101.4 501.5 100.6 500.1 100 499.8 99.2 498.4 98.6 498.6 98 497.4 97.4 497.7 96.7 496.7 96.3 496.8 95.5 495.6 94.8 495.9 94.2 494.9 93.6 495.3 92.9 494.5 92.4 494.8 91.9 494.1 91.3 494.4 90.5 493.8 90 494.8 89.4 494.5 88.9 494.7 88.6 496.5 89Z"/>
<path fill="#3c00ff" fill-rule="evenodd" d="M496.4 89 495.8 89.3 495.8 90.1 495 90.6 495.9 91 496 91.4 495.5 91.6 496.5 92.3 496 93 496.8 93.4 496.6 94.3 497.6 94.7 497.5 95.5 498.5 95.9 498.2 96.7 499.4 97.2 499.4 98.1 500.5 98.4 500.8 99.2 502.3 99.7 502.8 100.5 504 100.8 504.4 101.7 505.7 102.3 506 103.1 507 103.5 505.5 104.3 504.6 103.8 504.4 103.1 503.3 102.6 503 101.8 501.9 101.4 501.6 100.6 500.2 100 499.9 99.2 498.5 98.6 498.8 97.9 497.6 97.4 497.9 96.6 496.8 96.3 496.6 96 497 95.3 495.9 95 495.7 94.7 496.1 94.1 495 93.6 495.7 93 494.6 92.4 495.2 91.7 494.2 91.3 494.2 90.9 494.8 90.6 493.9 90 494.2 89.7 495 89.5 494.8 88.6 496.4 89Z"/>
<path fill="#5a00ff" fill-rule="evenodd" d="M502.1 99.6 502.7 100.5 503.9 100.8 504.2 101.6 505.6 102.3 505.9 103.1 507 103.6 505.6 104.3 504.7 103.8 504.6 103.1 503.3 102.6 503 101.7 502 101.3 501.8 100.5 500.4 100.1 500.2 99.5 501 99.3 502.1 99.6ZM499.4 97.5 499.2 98.2 500.4 98.5 500.6 99.2 498.8 98.8 499 97.8 497.8 97.5 497.7 97 498.9 97 499.4 97.5ZM498.3 95.8 498.4 96.3 497.3 96.5 496.8 95.9 497.4 95.6 498.3 95.8ZM496.8 93.7 496.5 94.3 497.5 94.7 497.4 95.2 496.5 95.2 496 95 495.8 94.7 496.3 94 495.2 93.7 495.3 93.3 496.3 93.2 496.8 93.7ZM496.4 92.3 496.2 92.7 495.5 92.8 494.6 92.3 495.1 92 495.6 91.9 496.4 92.3ZM495.6 90.9 495.9 91.3 495.2 91.6 494.3 91.3 494.3 90.9 495.1 90.7 495.6 90.9ZM495.7 90.1 494.7 90.4 494 90 494.3 89.7 494.8 89.6 495.5 89.6 495.7 90.1ZM496.3 89 495.3 89.3 494.9 88.6 496.3 89Z"/>
<path fill="#7300ff" fill-rule="evenodd" d="M504.1 101.1 504 101.7 505.2 102.1 505.8 103.2 506.9 103.6 505.7 104.3 504.8 103.7 504.9 103.2 503.4 102.5 503.2 101.7 502 101.3 501.9 100.5 503.3 100.7 504.1 101.1ZM502.3 100.1 501.6 100.4 500.7 100.2 500.3 99.6 501.2 99.4 501.9 99.5 502.3 100.1ZM500.5 98.7 500.3 99.1 499.4 99 498.8 98.7 498.9 98.3 499.8 98.3 500.5 98.7ZM499.3 97.5 498.7 97.8 498.4 97.7 497.9 97.5 497.8 97.1 498.9 97 499.3 97.5ZM498 95.8 498.3 96.3 497.5 96.4 496.9 95.9 498 95.8ZM497.5 94.7 497.3 95.1 496.6 95.2 495.9 94.8 496.3 94.4 497.5 94.7ZM496.7 93.7 496.2 94 495.7 93.9 495.2 93.7 495.4 93.3 496.2 93.3 496.7 93.7ZM496.3 92.3 496.1 92.6 495.6 92.7 494.7 92.3 495.5 92 496.3 92.3ZM495.8 91.3 494.9 91.5 494.4 90.9 495.4 90.8 495.8 91.3ZM495.6 90 494.8 90.3 494.2 90.2 494.4 89.7 495.4 89.7 495.6 90ZM496.3 89 495.6 89.2 495 89.1 495 88.6 496.3 89Z"/>
<path fill="#8500ff" fill-rule="evenodd" d="M506.7 103.7 505.7 104.2 504.8 103.7 505 103.3 506.4 103.4 506.7 103.7ZM504 101 503.7 101.9 505.1 102.1 505.4 102.9 504.5 102.9 503.5 102.5 503.3 101.6 502.1 101.3 502.3 100.6 504 101ZM502.2 100.1 501.4 100.2 500.7 100.1 500.4 99.6 501.8 99.6 502.2 100.1ZM500.4 98.7 500 99 499.5 99 498.9 98.7 499 98.3 500.4 98.7ZM499.2 97.4 498.4 97.7 498 97.1 498.8 97.1 499.2 97.4ZM498.2 96.3 497.6 96.4 497 95.9 497.9 95.8 498.2 96.3ZM497.3 94.7 497.2 95.1 496.6 95.1 496 94.8 496.5 94.5 497.3 94.7ZM496.6 93.6 495.8 93.9 495.5 93.3 496.1 93.3 496.6 93.6ZM496.1 92.2 495.8 92.7 494.8 92.3 495.4 92.1 496.1 92.2ZM495.7 91.3 495 91.4 494.5 91 495.3 90.9 495.7 91.3ZM495.6 90 494.9 90.2 494.3 90.2 494.5 89.7 495.3 89.7 495.6 90ZM496.2 89 495.1 89 495 88.7 496.2 89Z"/>
<path fill="#9700ff" fill-rule="evenodd" d="M506.7 103.7 505.8 104.2 505 103.7 505.2 103.3 506.3 103.4 506.7 103.7ZM505.4 102.4 505.3 102.8 503.9 102.7 503.5 102.4 503.7 101.9 504.5 102 505.4 102.4ZM503.8 101 503.8 101.5 503.5 101.5 502.2 101.2 502.1 101 502.6 100.7 503.8 101ZM502.1 100.1 500.8 100.1 500.5 99.6 501.7 99.6 502.1 100.1ZM500.3 98.6 499.5 98.9 499.2 98.3 500.3 98.6ZM499.1 97.4 498.7 97.5 498.1 97.4 498.1 97.1 498.7 97.1 499.1 97.4ZM498.1 96.2 497.7 96.3 497.1 96 497.7 95.9 498.1 96.2ZM497 94.6 497.1 95.1 496.1 94.8 497 94.6ZM496.5 93.6 495.9 93.8 495.6 93.4 496.5 93.6ZM496 92.2 495.9 92.6 495 92.4 496 92.2ZM495.6 91.3 494.6 91.2 494.6 91 495.2 90.9 495.6 91.3ZM495.4 90 494.4 90.1 494.6 89.8 495.2 89.8 495.4 90ZM496.1 88.9 495.2 89 495.2 88.7 496.1 88.9Z"/>
<path fill="#a600ff" fill-rule="evenodd" d="M506.7 103.7 505.9 104.1 505.1 103.8 505.4 103.4 506.7 103.7ZM505.3 102.4 505.1 102.8 504 102.7 503.6 102.4 503.9 102 505.3 102.4ZM503.7 101 503.6 101.5 502.8 101.4 502.2 101 502.8 100.7 503.7 101ZM502 100 500.9 100 500.6 99.7 501.6 99.7 502 100ZM500.2 98.6 499.9 98.7 499.4 98.4 500.2 98.6ZM499 97.4 498.2 97.2 499 97.4ZM498 96.2 497.2 96 498 96.2ZM496.9 95 496.3 94.9 496.9 95ZM496.4 93.6 495.7 93.4 496.4 93.6ZM495.6 92.5 495.1 92.4 495.7 92.3 495.6 92.5ZM495.5 91.2 494.7 91 495.5 91.2ZM495.2 89.9 494.6 90 494.8 89.8 495.2 89.9ZM495.9 88.9 495.4 88.9 495.3 88.7 495.9 88.9Z"/>
<path fill="#b300ff" fill-rule="evenodd" d="M506.7 103.7 505.9 104.1 505.2 103.8 505.6 103.4 506.7 103.7ZM505.1 102.3 505 102.8 503.7 102.4 504.1 102 505.1 102.3ZM503.5 101.4 502.3 101.1 503 100.8 503.6 101 503.5 101.4ZM501.8 100 501 100 500.7 99.7 501.5 99.7 501.8 100ZM499.7 98.5 499.7 98.5ZM498.7 97.3 498.4 97.2 498.7 97.3ZM497.8 96.1 497.3 96 497.8 96.1ZM495.4 92.5 495.4 92.5ZM495.2 91.2 494.8 91.1 495.2 91.2ZM495 89.9 495 89.9ZM495.7 88.8 495.5 88.8 495.7 88.8Z"/>
<path fill="#b900ff" fill-rule="evenodd" d="M506.4 103.7 506 104.1 505.4 103.8 505.8 103.5 506.4 103.7ZM504.9 102.3 504.9 102.7 503.9 102.5 504.2 102.1 504.9 102.3ZM503.4 101.4 502.4 101.1 502.8 101 503.4 101.1 503.4 101.4ZM501.6 99.9 500.9 99.7 501.6 99.9Z"/>
</g>
<path d="M404.7 100.1L470.4 122.8L522.1 95.6" stroke="#555" stroke-width="0.6" fill="none"/><path d="M404.7 100.1L402.8 100.8M411.9 102.6L410 103.3M419.3 105.1L417.4 105.9M427 107.8L425.1 108.6M435 110.6L433.1 111.4M443.3 113.4L441.4 114.3M452 116.4L450.1 117.3M461 119.5L459.1 120.5M470.4 122.8L468.6 123.8M470.4 122.8L472.4 123.5M482.3 116.5L484.2 117.2M493.3 110.7L495.2 111.3M503.6 105.3L505.5 105.9M513.2 100.3L515 100.8M522.1 95.6L523.9 96.1" stroke="#555" stroke-width="0.5"/><text x="399.9" y="103.1" class="t3" text-anchor="middle">2</text><text x="407" y="105.7" class="t3" text-anchor="middle">4</text><text x="414.5" y="108.3" class="t3" text-anchor="middle">6</text><text x="422.2" y="111" class="t3" text-anchor="middle">8</text><text x="430.2" y="113.9" class="t3" text-anchor="middle">10</text><text x="438.5" y="116.8" class="t3" text-anchor="middle">12</text><text x="447.2" y="119.9" class="t3" text-anchor="middle">14</text><text x="456.3" y="123.1" class="t3" text-anchor="middle">16</text><text x="465.7" y="126.5" class="t3" text-anchor="middle">18</text><text x="475.1" y="125.6" class="t3" text-anchor="middle">0</text><text x="486.9" y="119.2" class="t3" text-anchor="middle">2</text><text x="497.9" y="113.3" class="t3" text-anchor="middle">4</text><text x="508.1" y="107.8" class="t3" text-anchor="middle">6</text><text x="517.6" y="102.7" class="t3" text-anchor="middle">8</text><text x="526.4" y="97.9" class="t3" text-anchor="middle">10</text><text transform="translate(427.3,116.6) rotate(19.1) skewX(-40)" class="a3" text-anchor="middle" dy="2">Frequency (GHz)</text><text transform="translate(509.5,112.7) rotate(-27.7) skewX(40)" class="a3b" text-anchor="middle" dy="2">Thickness (mm)</text>
<path d="M401.1 16.3L404.7 100.1" stroke="#333" stroke-width="0.9"/><path d="M401.1 16.3h-1.6M401.8 32.2h-1.6M402.4 47.8h-1.6M403.1 63.1h-1.6M403.8 78.1h-1.6M404.4 92.8h-1.6" stroke="#333" stroke-width="0.7"/><text x="398.9" y="17.8" class="z3" text-anchor="end">0</text><text x="399.6" y="33.7" class="z3" text-anchor="end">-10</text><text x="400.2" y="49.3" class="z3" text-anchor="end">-20</text><text x="400.9" y="64.6" class="z3" text-anchor="end">-30</text><text x="401.6" y="79.6" class="z3" text-anchor="end">-40</text><text x="402.2" y="94.3" class="z3" text-anchor="end">-50</text>
<g stroke-width="0.35" stroke-linejoin="round"><path class="k14" d="M457.8 18.9l1.5 1.5 1.1.6-1.4-1.7z"/><path class="k10" d="M457.6 10.4l.2 8.5 1.2.4-.3-9z"/><path class="k16" d="M459.3 20.4l1.4 2.3 1.2.6-1.5-2.3z"/><path class="k14" d="M456.7 18.5l1.4 1.4 1.2.5-1.5-1.5z"/><path class="k18" d="M460.7 22.7l1.5 2.8 1.1.5-1.4-2.7z"/><path class="k10" d="M456.4 10.5l.3 8 1.1.4-.2-8.5z"/><path class="k15" d="M458.1 19.9l1.5 2.3 1.1.5-1.4-2.3z"/><path class="k13" d="M455.5 18.1l1.5 1.4 1.1.4-1.4-1.4z"/><path class="k17" d="M459.6 22.2l1.5 2.7 1.1.6-1.5-2.8z"/><path class="k10" d="M455.3 10.5l.2 7.6 1.2.4-.3-8z"/><path class="k15" d="M457 19.5l1.4 2.1 1.2.6-1.5-2.3z"/><path class="k13" d="M454.4 17.7l1.4 1.4 1.2.4-1.5-1.4z"/><path class="k17" d="M458.4 21.6l1.5 2.8 1.2.5-1.5-2.7z"/><path class="k9" d="M454.1 10.6l.3 7.1 1.1.4-.2-7.6z"/><path class="k14" d="M455.8 19.1l1.5 2.1 1.1.4-1.4-2.1z"/><path class="k12" d="M453.2 17.4l1.4 1.3 1.2.4-1.4-1.4z"/><path class="k16" d="M457.3 21.2l1.4 2.8 1.2.4-1.5-2.8z"/><path class="k9" d="M452.9 10.6l.3 6.8 1.2.3-.3-7.1z"/><path class="k14" d="M454.6 18.7l1.5 2 1.2.5-1.5-2.1z"/><path class="k12" d="M452 17.1l1.4 1.2 1.2.4-1.4-1.3z"/><path class="k9" d="M451.7 10.7l.3 6.4 1.2.3-.3-6.8z"/><path class="k15" d="M456.1 20.7l1.5 2.8 1.1.5-1.4-2.8z"/><path class="k18" d="M457.6 23.5l1.5 3 1.1.4-1.5-2.9z"/><path class="k13" d="M453.4 18.3l1.5 2 1.2.4-1.5-2z"/><path class="k11" d="M450.8 16.9l1.4 1.1 1.2.3-1.4-1.2z"/><path class="k9" d="M450.5 10.8l.3 6.1 1.2.2-.3-6.4z"/><path class="k15" d="M454.9 20.3l1.5 2.8 1.2.4-1.5-2.8z"/><path class="k17" d="M456.4 23.1l1.5 3.1 1.2.3-1.5-3z"/><path class="k13" d="M452.2 18l1.5 1.9 1.2.4-1.5-2z"/><path class="k11" d="M449.6 16.6l1.4 1 1.2.4-1.4-1.1z"/><path class="k8" d="M449.3 10.9l.3 5.7 1.2.3-.3-6.1z"/><path class="k14" d="M453.7 19.9l1.5 2.8 1.2.4-1.5-2.8z"/><path class="k17" d="M455.2 22.7l1.5 3.1 1.2.4-1.5-3.1z"/><path class="k12" d="M451 17.6l1.5 1.8 1.2.5-1.5-1.9z"/><path class="k8" d="M448.1 10.9l.3 5.4 1.2.3-.3-5.7z"/><path class="k11" d="M448.4 16.3l1.4.8 1.2.5-1.4-1z"/><path class="k14" d="M452.5 19.4l1.5 2.5 1.2.8-1.5-2.8zM472.6 21.8l1.5-.5 1.1-.3-1.5.4z"/><path class="k16" d="M454 21.9l1.5 2.9 1.2 1-1.5-3.1z"/><path class="k11" d="M449.8 17.1l1.5 1.6 1.2.7-1.5-1.8z"/><path class="k8" d="M446.9 11l.2 5 1.3.3-.3-5.4z"/><path class="k10" d="M447.1 16l1.5.7 1.2.4-1.4-.8z"/><path class="k13" d="M451.3 18.7l1.5 2.3 1.2.9-1.5-2.5z"/><path class="k14" d="M471.4 22.2l1.6-.6 1.1-.3-1.5.5zM474.1 21.3l1.5-.1 1.2-.2-1.6 0z"/><path class="k11" d="M448.6 16.7l1.5 1.4 1.2.6-1.5-1.6z"/><path class="k15" d="M452.8 21l1.5 2.9 1.2.9-1.5-2.9z"/><path class="k8" d="M445.6 11.1l.3 4.6 1.2.3-.2-5z"/><path class="k10" d="M445.9 15.7l1.5.7 1.2.3-1.5-.7z"/><path class="k12" d="M450.1 18.1l1.5 2.1 1.2.8-1.5-2.3z"/><path class="k14" d="M475.6 21.2l1.6.1 1.1-.2-1.5-.1zM473 21.6l1.5-.1 1.1-.3-1.5.1z"/><path class="k10" d="M447.4 16.4l1.4 1.2 1.3.5-1.5-1.4z"/><path class="k14" d="M451.6 20.2l1.5 2.8 1.2.9-1.5-2.9z"/><path class="k7" d="M444.4 11.2l.3 4.3 1.2.2-.3-4.6z"/><path class="k9" d="M444.7 15.5l1.4.6 1.3.3-1.5-.7z"/><path class="k14" d="M477.2 21.3l1.6.2 1.1-.2-1.6-.2zM474.5 21.5l1.6 0 1.1-.2-1.6-.1zM471.8 21.9l1.6-.2 1.1-.2-1.5.1z"/><path class="k12" d="M448.8 17.6l1.5 2 1.3.6-1.5-2.1z"/><path class="k10" d="M446.1 16.1l1.5 1.1 1.2.4-1.4-1.2z"/><path class="k7" d="M443.2 11.3l.2 4 1.3.2-.3-4.3z"/><path class="k13" d="M450.3 19.6l1.5 2.6 1.3.8-1.5-2.8z"/><path class="k9" d="M443.4 15.3l1.5.5 1.2.3-1.4-.6z"/><path class="k14" d="M478.8 21.5l1.5.2 1.1-.2-1.5-.2zM476.1 21.5l1.5.2 1.2-.2-1.6-.2zM473.4 21.7l1.5.1 1.2-.3-1.6 0zM470.7 22.2l1.5-.2 1.2-.3-1.6.2z"/><path class="k15" d="M451.8 22.2l1.5 3.1 1.3.8-1.5-3.1z"/><path class="k11" d="M447.6 17.2l1.5 1.8 1.2.6-1.5-2z"/><path class="k9" d="M444.9 15.8l1.4 1.1 1.3.3-1.5-1.1z"/><path class="k7" d="M441.9 11.4l.2 3.7 1.3.2-.2-4z"/><path class="k14" d="M480.3 21.7l1.6.3 1.1-.2-1.6-.3z"/><path class="k13" d="M449.1 19l1.5 2.5 1.2.7-1.5-2.6z"/><path class="k9" d="M442.1 15.1l1.5.6 1.3.1-1.5-.5z"/><path class="k14" d="M477.6 21.7l1.6.3 1.1-.3-1.5-.2zM474.9 21.8l1.6.2 1.1-.3-1.5-.2z"/><path class="k15" d="M466.8 23.7l1.6-.8 1.1-.4-1.5.7z"/><path class="k14" d="M472.2 22l1.6 0 1.1-.2-1.5-.1zM469.5 22.5l1.6-.3 1.1-.2-1.5.2z"/><path class="k15" d="M450.6 21.5l1.5 3.1 1.2.7-1.5-3.1z"/><path class="k10" d="M446.3 16.9l1.5 1.7 1.3.4-1.5-1.8z"/><path class="k14" d="M481.9 22l1.6.4 1.1-.2-1.6-.4z"/><path class="k9" d="M443.6 15.7l1.5 1 1.2.2-1.4-1.1z"/><path class="k7" d="M440.6 11.5l.3 3.5 1.2.1-.2-3.7z"/><path class="k14" d="M479.2 22l1.6.3 1.1-.3-1.6-.3zM476.5 22l1.6.2 1.1-.2-1.6-.3z"/><path class="k15" d="M465.7 24.5l1.5-1.1 1.2-.5-1.6.8z"/><path class="k8" d="M440.9 15l1.4.5 1.3.2-1.5-.6z"/><path class="k14" d="M473.8 22l1.6.1 1.1-.1-1.6-.2z"/><path class="k12" d="M447.8 18.6l1.5 2.5 1.3.4-1.5-2.5z"/><path class="k14" d="M471.1 22.2l1.5 0 1.2-.2-1.6 0zM468.4 22.9l1.5-.3 1.2-.4-1.6.3z"/><path class="k10" d="M445.1 16.7l1.5 1.6 1.2.3-1.5-1.7z"/><path class="k14" d="M449.3 21.1l1.6 3.1 1.2.4-1.5-3.1zM483.5 22.4l1.6.5 1.1-.2-1.6-.5zM480.8 22.3l1.6.3 1.1-.2-1.6-.4z"/><path class="k7" d="M439.3 11.6l.3 3.3 1.3.1-.3-3.5z"/><path class="k9" d="M442.3 15.5l1.5 1 1.3.2-1.5-1z"/><path class="k14" d="M478.1 22.2l1.6.2 1.1-.1-1.6-.3zM475.4 22.1l1.5.2 1.2-.1-1.6-.2zM472.6 22.2l1.6.2 1.2-.3-1.6-.1zM467.2 23.4l1.5-.5 1.2-.3-1.5.3z"/><path class="k8" d="M439.6 14.9l1.5.4 1.2.2-1.4-.5z"/><path class="k14" d="M469.9 22.6l1.6-.1 1.1-.3-1.5 0z"/><path class="k11" d="M446.6 18.3l1.5 2.4 1.2.4-1.5-2.5z"/><path class="k14" d="M485.1 22.9l1.6.6 1.1-.1-1.6-.7z"/><path class="k10" d="M443.8 16.5l1.5 1.5 1.3.3-1.5-1.6z"/><path class="k13" d="M448.1 20.7l1.5 3 1.3.5-1.6-3.1z"/><path class="k14" d="M482.4 22.6l1.6.3 1.1 0-1.6-.5zM479.7 22.4l1.5.3 1.2-.1-1.6-.3z"/><path class="k6" d="M438.1 11.7l.2 3 1.3.2-.3-3.3z"/><path class="k14" d="M476.9 22.3l1.6.4 1.2-.3-1.6-.2z"/><path class="k8" d="M441.1 15.3l1.4 1 1.3.2-1.5-1z"/><path class="k14" d="M474.2 22.4l1.6.2 1.1-.3-1.5-.2zM466 24l1.6-.6 1.1-.5-1.5.5zM471.5 22.5l1.5.1 1.2-.2-1.6-.2zM468.7 22.9l1.6-.1 1.2-.3-1.6.1z"/><path class="k8" d="M438.3 14.7l1.5.5 1.3.1-1.5-.4z"/><path class="k51" d="M493.8 56.1l.7 14.3 1 5.1-.9 8.5z"/><path class="k11" d="M445.3 18l1.5 2.2 1.3.5-1.5-2.4z"/><path class="k15" d="M486.7 23.5l1.4.4 1.1.6-1.4-1.1z"/><path class="k14" d="M484 22.9l1.6.5 1.1.1-1.6-.6z"/><path class="k9" d="M442.5 16.3l1.5 1.4 1.3.3-1.5-1.5z"/><path class="k14" d="M481.2 22.7l1.7.5 1.1-.3-1.6-.3z"/><path class="k13" d="M446.8 20.2l1.5 2.6 1.3.9-1.5-3z"/><path class="k14" d="M478.5 22.7l1.6.3 1.1-.3-1.5-.3z"/><path class="k15" d="M488.1 23.9l.8.5 1.1.9-.8-.8z"/><path class="k14" d="M475.8 22.6l1.6.2 1.1-.1-1.6-.4z"/><path class="k45" d="M493.1 48.8l.7 7.3.8 27.9-.7-16.7z"/><path class="k6" d="M436.8 11.8l.2 2.8 1.3.1-.2-3z"/><path class="k14" d="M473 22.6l1.6.2 1.2-.2-1.6-.2z"/><path class="k8" d="M439.8 15.2l1.4.9 1.3.2-1.4-1z"/><path class="k15" d="M464.8 24.6l1.6-.8 1.2-.4-1.6.6z"/><path class="k14" d="M470.3 22.8l1.6.1 1.1-.3-1.5-.1zM467.6 23.4l1.5-.3 1.2-.3-1.6.1z"/><path class="k7" d="M437 14.6l1.5.5 1.3.1-1.5-.5z"/><path class="k16" d="M488.9 24.4l.8.8 1.1.9-.8-.8z"/><path class="k10" d="M444 17.7l1.5 1.9 1.3.6-1.5-2.2z"/><path class="k15" d="M485.6 23.4l1.4.8 1.1-.3-1.4-.4z"/><path class="k16" d="M489.7 25.2l.9 1.4 1 .7-.8-1.2z"/><path class="k14" d="M482.9 23.2l1.6.4 1.1-.2-1.6-.5zM480.1 23l1.6.2 1.2 0-1.7-.5z"/><path class="k9" d="M441.2 16.1l1.5 1.3 1.3.3-1.5-1.4z"/><path class="k18" d="M490.6 26.6l.8 2 1 .5-.8-1.8z"/><path class="k14" d="M477.4 22.8l1.6.3 1.1-.1-1.6-.3z"/><path class="k20" d="M491.4 28.6l.7 3.3 1.1 1-.8-3.8z"/><path class="k14" d="M474.6 22.8l1.6.3 1.2-.3-1.6-.2z"/><path class="k12" d="M445.5 19.6l1.6 2.3 1.2.9-1.5-2.6z"/><path class="k15" d="M487 24.2l.8.6 1.1-.4-.8-.5z"/><path class="k14" d="M471.9 22.9l1.6.2 1.1-.3-1.6-.2zM469.1 23.1l1.6.1 1.2-.3-1.6-.1zM466.4 23.8l1.5-.3 1.2-.4-1.5.3z"/><path class="k8" d="M438.5 15.1l1.4.8 1.3.2-1.4-.9z"/><path class="k6" d="M435.1 12l.2 2.5 1.7.1-.2-2.8z"/><path class="k48" d="M493.6 55.3l.7 10.4.8 18.1-.6-13.4z"/><path class="k15" d="M487.8 24.8l.8.5 1.1-.1-.8-.8z"/><path class="k7" d="M435.3 14.5l1.5.4 1.7.2-1.5-.5z"/><path class="k14" d="M484.5 23.6l1.4.4 1.1.2-1.4-.8z"/><path class="k10" d="M442.7 17.4l1.5 1.6 1.3.6-1.5-1.9z"/><path class="k14" d="M447.1 21.9l1.5 2.7 1.3 1.1-1.6-2.9z"/><path class="k35" d="M492.3 39.6l.8 9.2.8 18.5-.6-18.3z"/><path class="k14" d="M481.7 23.2l1.6.4 1.2 0-1.6-.4z"/><path class="k16" d="M488.6 25.3l.9.6 1.1.7-.9-1.4z"/><path class="k14" d="M479 23.1l1.6.4 1.1-.3-1.6-.2zM476.2 23.1l1.6.3 1.2-.3-1.6-.3z"/><path class="k9" d="M439.9 15.9l1.5 1.2 1.3.3-1.5-1.3z"/><path class="k15" d="M462.4 26l1.6-.8 1.2-1-1.6 1z"/><path class="k14" d="M473.5 23.1l1.5.2 1.2-.2-1.6-.3zM470.7 23.2l1.6.1 1.2-.2-1.6-.2z"/><path class="k17" d="M489.5 25.9l.8.8 1.1 1.9-.8-2z"/><path class="k14" d="M465.2 24.2l1.5-.2 1.2-.5-1.5.3z"/><path class="k15" d="M485.9 24l.8.3 1.1.5-.8-.6z"/><path class="k14" d="M467.9 23.5l1.6 0 1.2-.3-1.6-.1z"/><path class="k11" d="M444.2 19l1.6 2.1 1.3.8-1.6-2.3z"/><path class="k18" d="M490.3 26.7l.8 1.5 1 3.7-.7-3.3z"/><path class="k8" d="M436.8 14.9l1.5.9 1.6.1-1.4-.8z"/><path class="k15" d="M486.7 24.3l.8.5 1.1.5-.8-.5z"/><path class="k14" d="M483.3 23.6l1.5.6 1.1-.2-1.4-.4z"/><path class="k9" d="M441.4 17.1l1.5 1.6 1.3.3-1.5-1.6z"/><path class="k14" d="M480.6 23.5l1.6.4 1.1-.3-1.6-.4z"/><path class="k13" d="M445.8 21.1l1.5 2.5 1.3 1-1.5-2.7z"/><path class="k14" d="M477.8 23.4l1.6.3 1.2-.2-1.6-.4z"/><path class="k38" d="M492.9 43.3l.7 12 .9 15.1-.7-14.3z"/><path class="k15" d="M487.5 24.8l.8.8 1.2.3-.9-.6z"/><path class="k14" d="M475 23.3l1.6.3 1.2-.2-1.6-.3z"/><path class="k6" d="M432.2 12.3l.3 2.1 2.8.1-.2-2.5z"/><path class="k14" d="M472.3 23.3l1.6.2 1.1-.2-1.5-.2zM464 25.2l1.5-.5 1.2-.7-1.5.2zM469.5 23.5l1.6.1 1.2-.3-1.6-.1zM466.7 24l1.6-.1 1.2-.4-1.6 0z"/><path class="k8" d="M438.3 15.8l1.5 1.1 1.6.2-1.5-1.2z"/><path class="k14" d="M484.8 24.2l.8.5 1.1-.4-.8-.3z"/><path class="k16" d="M488.3 25.6l.9 1.1 1.1 0-.8-.8z"/><path class="k7" d="M432.5 14.4l1.4.4 2.9.1-1.5-.4z"/><path class="k11" d="M442.9 18.7l1.6 1.9 1.3.5-1.6-2.1z"/><path class="k17" d="M489.2 26.7l.8 1.5 1.1 0-.8-1.5z"/><path class="k15" d="M485.6 24.7l.8.4 1.1-.3-.8-.5z"/><path class="k14" d="M482.2 23.9l1.4.4 1.2-.1-1.5-.6z"/><path class="k18" d="M490 28.2l.8 2.1 1.1.8-.8-2.9z"/><path class="k14" d="M479.4 23.7l1.6.3 1.2-.1-1.6-.4zM476.6 23.6l1.7.3 1.1-.2-1.6-.3z"/><path class="k9" d="M439.8 16.9l1.5 1.5 1.6.3-1.5-1.6z"/><path class="k14" d="M473.9 23.5l1.6.3 1.1-.2-1.6-.3z"/><path class="k12" d="M444.5 20.6l1.5 2.2 1.3.8-1.5-2.5z"/><path class="k15" d="M486.4 25.1l.8.4 1.1.1-.8-.8z"/><path class="k14" d="M471.1 23.6l1.6.2 1.2-.3-1.6-.2zM465.5 24.7l1.6-.3 1.2-.5-1.6.1zM468.3 23.9l1.6 0 1.2-.3-1.6-.1z"/><path class="k30" d="M492.1 35.2l.8 8.1.9 12.8-.7-7.3z"/><path class="k7" d="M433.9 14.8l1.5.8 2.9.2-1.5-.9z"/><path class="k14" d="M483.6 24.3l.8.3 1.2.1-.8-.5z"/><path class="k40" d="M493.4 43.5l.7 13.6.9 16.1-.7-7.5z"/><path class="k15" d="M487.2 25.5l.8.7 1.2.5-.9-1.1z"/><path class="k14" d="M481 24l1.5.4 1.1-.1-1.4-.4z"/><path class="k15" d="M484.4 24.6l.9.3 1.1.2-.8-.4z"/><path class="k10" d="M441.3 18.4l1.5 1.7 1.7.5-1.6-1.9z"/><path class="k16" d="M488 26.2l.9.9 1.1 1.1-.8-1.5z"/><path class="k25" d="M491.3 31.5l.8 3.7 1 13.6-.8-9.2z"/><path class="k14" d="M478.3 23.9l1.6.3 1.1-.2-1.6-.3zM475.5 23.8l1.6.3 1.2-.2-1.7-.3zM472.7 23.8l1.6.2 1.2-.2-1.6-.3z"/><path class="k21" d="M498.7 39.3l1-7.6 1.1-2.7-.9 2.6z"/><path class="k8" d="M435.4 15.6l1.5 1.2 2.9.1-1.5-1.1z"/><path class="k14" d="M464.3 25.6l1.6-.5 1.2-.7-1.6.3zM469.9 23.9l1.6.2 1.2-.3-1.6-.2z"/><path class="k15" d="M485.3 24.9l.8.4 1.1.2-.8-.4z"/><path class="k14" d="M467.1 24.4l1.6 0 1.2-.5-1.6 0z"/><path class="k21" d="M490.5 30l.8 1.5 1 8.1-.7-6.2z"/><path class="k6" d="M429.3 12.6l.3 1.7 2.9.1-.3-2.1z"/><path class="k14" d="M482.5 24.4l.8.2 1.1 0-.8-.3z"/><path class="k12" d="M442.8 20.1l1.5 2 1.7.7-1.5-2.2z"/><path class="k33" d="M492.7 36.9l.7 6.6.9 22.2-.7-10.4z"/><path class="k45" d="M494 47l.7 10.3.8 26.6-.8-8.1z"/><path class="k15" d="M486.1 25.3l.8.5 1.1.4-.8-.7z"/><path class="k6" d="M429.6 14.3l1.4.4 2.9.1-1.4-.4z"/><path class="k14" d="M479.9 24.2l1.4.3 1.2-.1-1.5-.4zM483.3 24.6l.8.3 1.2 0-.9-.3z"/><path class="k9" d="M436.9 16.8l1.5 1.3 2.9.3-1.5-1.5z"/><path class="k14" d="M477.1 24.1l1.6.3 1.2-.2-1.6-.3z"/><path class="k16" d="M486.9 25.8l.8.6 1.2.7-.9-.9z"/><path class="k14" d="M474.3 24l1.6.3 1.2-.2-1.6-.3zM471.5 24.1l1.6.2 1.2-.3-1.6-.2z"/><path class="k18" d="M499.7 31.7l.9-1.7 1.1-2.2-.9 1.2z"/><path class="k14" d="M465.9 25.1l1.6-.2 1.2-.5-1.6 0zM468.7 24.4l1.6 0 1.2-.3-1.6-.2z"/><path class="k22" d="M498.4 43.1l1-5.9 1.2-7.2-.9 1.7z"/><path class="k15" d="M484.1 24.9l.8.3 1.2.1-.8-.4z"/><path class="k27" d="M491.9 34.3l.8 2.6.9 18.4-.7-12z"/><path class="k52" d="M495.2 64.8l.8 7.7 1 7.2-1 10.8z"/><path class="k16" d="M487.7 26.4l.9.3 1.1 1.6-.8-1.2z"/><path class="k14" d="M481.3 24.5l.8.2 1.2-.1-.8-.2z"/><path class="k7" d="M431 14.7l1.5.8 2.9.1-1.5-.8z"/><path class="k10" d="M438.4 18.1l1.6 1.6 2.8.4-1.5-1.7z"/><path class="k49" d="M494.5 54.7l.7 10.1.8 25.7-.7-13z"/><path class="k15" d="M484.9 25.2l.9.1 1.1.5-.8-.5z"/><path class="k37" d="M493.2 41.4l.8 5.6.7 28.8-.6-18.7z"/><path class="k17" d="M500.6 30l.9-.8 1.1-2.1-.9.7z"/><path class="k14" d="M478.7 24.4l1.5.2 1.1-.1-1.4-.3z"/><path class="k23" d="M491 31.8l.9 2.5 1 9-.8-8.1z"/><path class="k14" d="M475.9 24.3l1.6.2 1.2-.1-1.6-.3zM473.1 24.3l1.6.2 1.2-.2-1.6-.3zM464.7 26l1.6-.4 1.2-.7-1.6.2z"/><path class="k15" d="M485.8 25.3l.8.4 1.1.7-.8-.6z"/><path class="k14" d="M470.3 24.4l1.6.1 1.2-.2-1.6-.2zM467.5 24.9l1.6-.1 1.2-.4-1.6 0z"/><path class="k20" d="M499.4 37.2l.9-4.8 1.2-3.2-.9.8z"/><path class="k11" d="M440 19.7l1.5 1.7 2.8.7-1.5-2z"/><path class="k14" d="M483 24.8l.8.2 1.1.2-.8-.3z"/><path class="k7" d="M432.5 15.5l1.5 1.2 2.9.1-1.5-1.2z"/><path class="k16" d="M501.5 29.2l.8-1 1.1-2-.8.9z"/><path class="k14" d="M480.2 24.6l.8.1 1.1 0-.8-.2z"/><path class="k15" d="M486.6 25.7l.8.7 1.2.3-.9-.3z"/><path class="k5" d="M426.4 12.9l.2 1.4 3 0-.3-1.7z"/><path class="k14" d="M483.8 25l.8.4 1.2-.1-.9-.1zM477.5 24.5l1.5.3 1.2-.2-1.5-.2z"/><path class="k16" d="M487.4 26.4l.9.9 1.1.1-.8-.7z"/><path class="k14" d="M481 24.7l.8.3 1.2-.2-.9-.1z"/><path class="k6" d="M426.6 14.3l1.5.4 2.9 0-1.4-.4z"/><path class="k12" d="M441.5 21.4l1.5 1.7 2.9 1.1-1.6-2.1z"/><path class="k14" d="M474.7 24.5l1.7.3 1.1-.3-1.6-.2z"/><path class="k28" d="M492.4 36.8l.8 4.6.9 15.7-.7-13.6z"/><path class="k16" d="M502.3 28.2l.9-1.2 1.1-.8-.9 0z"/><path class="k14" d="M471.9 24.5l1.6.3 1.2-.3-1.6-.2zM466.3 25.6l1.6-.2 1.2-.6-1.6.1zM469.1 24.8l1.6.1 1.2-.4-1.6-.1z"/><path class="k8" d="M434 16.7l1.5 1.3 2.9.1-1.5-1.3z"/><path class="k53" d="M495.8 68.8l.7 6.6 1 8.9-.9 1.2z"/><path class="k15" d="M484.6 25.4l.9.5 1.1-.2-.8-.4z"/><path class="k16" d="M488.3 27.3l.8.6 1.1 1.5-.8-2z"/><path class="k39" d="M493.7 45.7l.8 9 .8 22.8-.6-20.2z"/><path class="k14" d="M481.8 25l.8.3 1.2-.3-.8-.2z"/><path class="k47" d="M496.6 85.5l.9-1.2 1.6-33.7-1 9.1z"/><path class="k14" d="M479 24.8l.8.2 1.2-.3-.8-.1z"/><path class="k21" d="M499.1 39l.9-3.2 1.2-6.3-.9 2.9z"/><path class="k15" d="M503.2 27l.9-.6 1.1-.5-.9.3zM485.5 25.9l.8.3 1.1.2-.8-.7z"/><path class="k23" d="M491.6 32.3l.8 4.5 1 6.7-.7-6.6z"/><path class="k14" d="M482.6 25.3l.9.2 1.1-.1-.8-.4z"/><path class="k6" d="M428.1 14.7l1.5.8 2.9 0-1.5-.8z"/><path class="k14" d="M476.4 24.8l1.4.2 1.2-.2-1.5-.3z"/><path class="k9" d="M435.5 18l1.6 1.5 2.9.2-1.6-1.6z"/><path class="k14" d="M479.8 25l.8.2 1.2-.2-.8-.3z"/><path class="k47" d="M495.1 55.7l.7 13.1.8 16.7-.6-13z"/><path class="k51" d="M496.5 75.4l.8 3.5 1.3-11-1.1 16.4z"/><path class="k14" d="M473.5 24.8l1.7.2 1.2-.2-1.7-.3zM470.7 24.9l1.6.2 1.2-.3-1.6-.3zM467.9 25.4l1.6-.1 1.2-.4-1.6-.1z"/><path class="k15" d="M504.1 26.4l.9-.2 1.1-.7-.9.4z"/><path class="k19" d="M500 35.8l.9-2.8 1.2-4.4-.9.9z"/><path class="k14" d="M480.6 25.2l.9.1 1.1 0-.8-.3z"/><path class="k16" d="M502.1 28.6l.9-.3 1.1-1.9-.9.6z"/><path class="k14" d="M477.8 25l.8.1 1.2-.1-.8-.2z"/><path class="k10" d="M437.1 19.5l1.5 1.5 2.9.4-1.5-1.7z"/><path class="k7" d="M429.6 15.5l1.5 1.1 2.9.1-1.5-1.2z"/><path class="k15" d="M505 26.2l.9.1 1-1-.8.2z"/><path class="k14" d="M484.3 25.6l.8.2 1.2.4-.8-.3z"/><path class="k5" d="M423.4 13.2l.2 1.1 3 0-.2-1.4z"/><path class="k16" d="M488 26.7l.8 1 1.1.6-.8-.4z"/><path class="k14" d="M481.5 25.3l.8.1 1.2.1-.9-.2zM475.2 25l1.4.1 1.2-.1-1.4-.2zM478.6 25.1l.9.1 1.1 0-.8-.2zM472.3 25.1l1.7.1 1.2-.2-1.7-.2z"/><path class="k15" d="M503 28.3l.9-.5 1.1-1.6-.9.2z"/><path class="k14" d="M469.5 25.3l1.6.1 1.2-.3-1.6-.2zM466.6 26.1l1.7-.3 1.2-.5-1.6.1z"/><path class="k18" d="M500.9 33l1-2.6 1.1-2.1-.9.3z"/><path class="k15" d="M485.1 25.8l.9.4 1.1.1-.8-.1z"/><path class="k14" d="M505.9 26.3l.8-.1 1.1-.9-.9 0z"/><path class="k16" d="M488.8 27.7l.8 1.2 1.2.6-.9-1.2z"/><path class="k6" d="M423.6 14.3l1.5.4 3 0-1.5-.4z"/><path class="k41" d="M497.5 84.3l1.1-16.4 1.4-21.7-.9 4.4z"/><path class="k38" d="M494.4 43.4l.7 12.3.9 16.8-.8-7.7z"/><path class="k14" d="M482.3 25.4l.8.3 1.2-.1-.8-.1z"/><path class="k11" d="M438.6 21l1.6 1.5 2.8.6-1.5-1.7z"/><path class="k24" d="M492.2 32.6l.8 4.8 1 9.6-.8-5.6z"/><path class="k8" d="M431.1 16.6l1.5 1.2 2.9.2-1.5-1.3z"/><path class="k14" d="M479.5 25.2l.8.2 1.2-.1-.9-.1zM476.6 25.1l.8.2 1.2-.2-.8-.1z"/><path class="k15" d="M503.9 27.8l.9-.8 1.1-.7-.9-.1zM486 26.2l.8.7 1.2-.2-.9-.4z"/><path class="k21" d="M491.3 30.6l.9 2 1 8.8-.8-4.6z"/><path class="k20" d="M499.8 37.2l.9-3.5 1.2-3.3-1 2.6z"/><path class="k14" d="M506.7 26.2l.9-.3 1.1-.4-.9-.2zM483.1 25.7l.9.3 1.1-.2-.8-.2z"/><path class="k16" d="M501.9 30.4l.9-1.8 1.1-.8-.9.5z"/><path class="k14" d="M480.3 25.4l.8.3 1.2-.3-.8-.1zM474 25.2l1.4.3 1.2-.4-1.4-.1z"/><path class="k15" d="M486.8 26.9l.9.4 1.1.4-.8-1z"/><path class="k14" d="M477.4 25.3l.9.2 1.2-.3-.9-.1zM471.1 25.4l1.6.2 1.3-.4-1.7-.1zM468.3 25.8l1.6 0 1.2-.4-1.6-.1z"/><path class="k6" d="M425.1 14.7l1.5.8 3 0-1.5-.8z"/><path class="k15" d="M504.8 27l.8-.5 1.1-.3-.8.1z"/><path class="k14" d="M507.6 25.9l.9-.2 1.1-.2-.9 0z"/><path class="k9" d="M432.6 17.8l1.5 1.4 3 .3-1.6-1.5z"/><path class="k14" d="M484 26l.8.3 1.2-.1-.9-.4z"/><path class="k32" d="M493.6 37.6l.8 5.8.8 21.4-.7-10.1z"/><path class="k16" d="M487.7 27.3l.8.2 1.1 1.4-.8-1.2z"/><path class="k14" d="M481.1 25.7l.9.2 1.1-.2-.8-.3z"/><path class="k16" d="M502.8 28.6l.8-.6 1.2-1-.9.8z"/><path class="k14" d="M478.3 25.5l.8.2 1.2-.3-.8-.2z"/><path class="k44" d="M495.7 51l.7 15.2.9 12.7-.8-3.5z"/><path class="k18" d="M500.7 33.7l.9-1.5 1.2-3.6-.9 1.8z"/><path class="k23" d="M499.4 46l1-7.5 1.2-6.3-.9 1.5z"/><path class="k14" d="M475.4 25.5l.8.1 1.2-.3-.8-.2z"/><path class="k15" d="M505.6 26.5l.9-.1 1.1-.5-.9.3zM484.8 26.3l.9.1 1.1.5-.8-.7z"/><path class="k14" d="M508.5 25.7l.9.1 1.1-.4-.9.1zM482 25.9l.8.1 1.2 0-.9-.3z"/><path class="k27" d="M492.7 34.8l.9 2.8.9 17.1-.8-9z"/><path class="k6" d="M426.6 15.5l1.5 1 3 .1-1.5-1.1z"/><path class="k14" d="M472.7 25.6l1.5.1 1.2-.2-1.4-.3zM479.1 25.7l.8.1 1.2-.1-.8-.3z"/><path class="k9" d="M434.1 19.2l1.6 1.4 2.9.4-1.5-1.5z"/><path class="k5" d="M420.4 13.6l.2.8 3-.1-.2-1.1z"/><path class="k14" d="M476.2 25.6l.9.1 1.2-.2-.9-.2z"/><path class="k15" d="M503.6 28l.9-.1 1.1-1.4-.8.5z"/><path class="k14" d="M469.9 25.8l1.6.1 1.2-.3-1.6-.2zM467 26.5l1.7-.2 1.2-.5-1.6 0z"/><path class="k15" d="M485.7 26.4l.8.2 1.2.7-.9-.4z"/><path class="k14" d="M509.4 25.8l.9.2 1.1-.5-.9-.1zM506.5 26.4l.9.1 1.1-.8-.9.2z"/><path class="k17" d="M501.6 32.2l.9-1.3 1.1-2.9-.8.6z"/><path class="k22" d="M491.9 32.7l.8 2.1 1 10.9-.7-8.3z"/><path class="k38" d="M495 42.4l.7 8.6.8 24.4-.7-6.6z"/><path class="k14" d="M479.9 25.8l.9.1 1.2 0-.9-.2z"/><path class="k5" d="M420.6 14.4l1.5.4 3-.1-1.5-.4z"/><path class="k19" d="M491 31l.9 1.7 1.1 4.7-.8-4.8z"/><path class="k14" d="M477.1 25.7l.8.1 1.2-.1-.8-.2z"/><path class="k15" d="M486.5 26.6l.8.6 1.2.3-.8-.2zM504.5 27.9l.9-.2 1.1-1.3-.9.1z"/><path class="k14" d="M474.2 25.7l.8.1 1.2-.2-.8-.1zM510.3 26l.9.1 1.1-.3-.9-.3zM507.4 26.5l.9 0 1.1-.7-.9-.1z"/><path class="k20" d="M500.4 38.5l1-5.2 1.1-2.4-.9 1.3z"/><path class="k10" d="M435.7 20.6l1.5 1.4 3 .5-1.6-1.5z"/><path class="k7" d="M428.1 16.5l1.5 1.1 3 .2-1.5-1.2z"/><path class="k14" d="M483.6 26.1l.9.3 1.2 0-.9-.1z"/><path class="k16" d="M502.5 30.9l.9-2 1.1-1-.9.1z"/><path class="k15" d="M487.3 27.2l.9.8 1.2-.1-.9-.4z"/><path class="k14" d="M471.5 25.9l1.5.1 1.2-.3-1.5-.1zM477.9 25.8l.8.1 1.2-.1-.8-.1zM468.7 26.3l1.6 0 1.2-.4-1.6-.1zM511.2 26.1l.9.5 1-.2-.8-.6zM475 25.8l.9.1 1.2-.2-.9-.1z"/><path class="k15" d="M505.4 27.7l.9-.8 1.1-.4-.9-.1z"/><path class="k32" d="M494.1 39.4l.9 3 .8 26.4-.7-13.1z"/><path class="k14" d="M508.3 26.5l.9-.2 1.1-.3-.9-.2zM484.5 26.4l.8.5 1.2-.3-.8-.2z"/><path class="k16" d="M488.2 28l.9.6 1.1.6-.8-1.3z"/><path class="k6" d="M422.1 14.8l1.5.7 3 0-1.5-.8z"/><path class="k14" d="M481.6 26.1l.9.3 1.1-.3-.8-.1zM478.7 25.9l.9.3 1.2-.3-.9-.1z"/><path class="k16" d="M503.4 28.9l.9-.5 1.1-.7-.9.2z"/><path class="k15" d="M512.1 26.6l.9.5 1-.3-.9-.4z"/><path class="k8" d="M429.6 17.6l1.6 1.3 2.9.3-1.5-1.4z"/><path class="k14" d="M475.9 25.9l.8.2 1.2-.3-.8-.1z"/><path class="k18" d="M501.4 33.3l.9-1 1.1-3.4-.9 2z"/><path class="k23" d="M500 46.2l1-5.8 1.3-8.1-.9 1z"/><path class="k44" d="M496.4 48.8l.7 10.9.8 22.5-.8-.8z"/><path class="k14" d="M473 26l.8.1 1.2-.3-.8-.1z"/><path class="k15" d="M506.3 26.9l.9.1 1.1-.5-.9 0z"/><path class="k14" d="M509.2 26.3l.9.4 1.1-.6-.9-.1z"/><path class="k15" d="M485.3 26.9l.9.3 1.1 0-.8-.6z"/><path class="k14" d="M482.5 26.4l.8.2 1.2-.2-.9-.3z"/><path class="k15" d="M513 27.1l.9.6 1 0-.9-.9z"/><path class="k26" d="M493.3 36.2l.8 3.2 1 16.3-.7-12.3z"/><path class="k14" d="M479.6 26.2l.8.2 1.2-.3-.8-.2zM470.3 26.3l1.4.1 1.3-.4-1.5-.1zM476.7 26.1l.8.1 1.2-.3-.8-.1z"/><path class="k15" d="M504.3 28.4l.9.1 1.1-1.6-.9.8zM486.2 27.2l.8.2 1.2.6-.9-.8z"/><path class="k14" d="M510.1 26.7l.9.3 1.1-.4-.9-.5zM473.8 26.1l.8.1 1.3-.3-.9-.1z"/><path class="k15" d="M507.2 27l.9.2 1.1-.9-.9.2z"/><path class="k6" d="M423.6 15.5l1.5.9 3 .1-1.5-1z"/><path class="k17" d="M502.3 32.3l.9-.8 1.1-3.1-.9.5z"/><path class="k5" d="M417.3 14l.2.6 3.1-.2-.2-.8z"/><path class="k15" d="M513.9 27.7l.8.7 1.1.1-.9-.8z"/><path class="k14" d="M483.3 26.6l.8.1 1.2.2-.8-.5z"/><path class="k9" d="M431.2 18.9l1.5 1.3 3 .4-1.6-1.4z"/><path class="k38" d="M495.6 44.4l.8 4.4.7 32.6-.7-15.2z"/><path class="k22" d="M492.5 32.9l.8 3.3 1.1 7.2-.8-5.8z"/><path class="k14" d="M480.4 26.4l.9 0 1.2 0-.9-.3z"/><path class="k19" d="M491.6 30.5l.9 2.4 1.1 4.7-.9-2.8z"/><path class="k15" d="M487 27.4l.9.4 1.2.8-.9-.6z"/><path class="k14" d="M477.5 26.2l.9.1 1.2-.1-.9-.3z"/><path class="k15" d="M511 27l.9.3 1.1-.2-.9-.5zM505.2 28.5l.9-.3 1.1-1.2-.9-.1z"/><path class="k14" d="M474.6 26.2l.9.1 1.2-.2-.8-.2z"/><path class="k20" d="M501 40.4l1-5.4 1.2-3.5-.9.8z"/><path class="k14" d="M508.1 27.2l.9 0 1.1-.5-.9-.4z"/><path class="k16" d="M514.7 28.4l.9.9 1.1.1-.9-.9z"/><path class="k14" d="M471.7 26.4l.9 0 1.2-.3-.8-.1z"/><path class="k5" d="M417.5 14.6l1.5.3 3.1-.1-1.5-.4z"/><path class="k14" d="M484.1 26.7l.9.3 1.2.2-.9-.3z"/><path class="k16" d="M503.2 31.5l.9-1.4 1.1-1.6-.9-.1z"/><path class="k14" d="M481.3 26.4l.8.2 1.2 0-.8-.2z"/><path class="k15" d="M511.9 27.3l.9.5 1.1-.1-.9-.6z"/><path class="k49" d="M497.8 57.7l.7 13.8.9 11.9-1 7.4z"/><path class="k14" d="M478.4 26.3l.8.2 1.2-.1-.8-.2z"/><path class="k17" d="M515.6 29.3l.9 1 1.1.1-.9-1z"/><path class="k14" d="M469.1 26.8l1.4-.1 1.2-.3-1.4-.1z"/><path class="k7" d="M425.1 16.4l1.5 1 3 .2-1.5-1.1z"/><path class="k14" d="M475.5 26.3l.8.1 1.2-.2-.8-.1z"/><path class="k15" d="M506.1 28.2l.9-.5 1.1-.5-.9-.2zM509 27.2l.9 0 1.1-.2-.9-.3z"/><path class="k14" d="M472.6 26.4l.8.1 1.2-.3-.8-.1zM485 27l.9.2 1.1.2-.8-.2z"/><path class="k17" d="M516.5 30.3l.9 1.1 1.1.2-.9-1.2z"/><path class="k15" d="M512.8 27.8l.9.8 1-.2-.8-.7z"/><path class="k45" d="M497 52l.8 5.7.6 33.1-.7-11.2z"/><path class="k31" d="M494.7 40.2l.9 4.2.8 21.8-.7-15.2z"/><path class="k16" d="M504.1 30.1l.9-1.2 1.1-.7-.9.3z"/><path class="k14" d="M479.2 26.5l.9.1 1.2-.2-.9 0z"/><path class="k18" d="M502 35l.9-2.7 1.2-2.2-.9 1.4z"/><path class="k15" d="M509.9 27.2l.9.5 1.1-.4-.9-.3z"/><path class="k14" d="M476.3 26.4l.9.1 1.2-.2-.9-.1z"/><path class="k22" d="M500.7 45.1l1-3.8 1.2-9-.9 2.7z"/><path class="k15" d="M507 27.7l.9-.1 1.1-.4-.9 0z"/><path class="k14" d="M473.4 26.5l.8.1 1.3-.3-.9-.1z"/><path class="k5" d="M419 14.9l1.5.6 3.1 0-1.5-.7z"/><path class="k18" d="M517.4 31.4l.9 1 1.1.3-.9-1.1z"/><path class="k15" d="M485.9 27.2l.8.2 1.2.4-.9-.4z"/><path class="k14" d="M470.5 26.7l.8.1 1.3-.4-.9 0z"/><path class="k16" d="M513.7 28.6l.9.8 1-.1-.9-.9z"/><path class="k14" d="M483 26.8l.8.1 1.2.1-.9-.3z"/><path class="k7" d="M426.6 17.4l1.5 1.1 3.1.4-1.6-1.3z"/><path class="k14" d="M480.1 26.6l.8.2 1.2-.2-.8-.2z"/><path class="k15" d="M510.8 27.7l.9.6 1.1-.5-.9-.5z"/><path class="k19" d="M518.3 32.4l.9 1 1 .2-.8-.9z"/><path class="k13" d="M441.9 24.7l1.6.6 2.9 1.8-1.6-1z"/><path class="k14" d="M477.2 26.5l.8.2 1.2-.2-.8-.2z"/><path class="k15" d="M505 28.9l.9-.2 1.1-1-.9.5z"/><path class="k16" d="M514.6 29.4l.9.8 1 .1-.9-1z"/><path class="k15" d="M486.7 27.4l.9.5 1.2.1-.9-.2zM507.9 27.6l.9.3 1.1-.7-.9 0z"/><path class="k14" d="M474.2 26.6l.9.1 1.2-.3-.8-.1zM471.3 26.8l.9 0 1.2-.3-.8-.1z"/><path class="k25" d="M493.9 35.2l.8 5 1 10.8-.7-8.6z"/><path class="k17" d="M502.9 32.3l.9-.8 1.2-2.6-.9 1.2z"/><path class="k14" d="M483.8 26.9l.9.3 1.2 0-.9-.2z"/><path class="k19" d="M519.2 33.4l.9 1 1.1 0-1-.8z"/><path class="k15" d="M511.7 28.3l.9.6 1.1-.3-.9-.8z"/><path class="k14" d="M480.9 26.8l.9.1 1.2-.1-.9-.2z"/><path class="k20" d="M492.2 31.2l.9 1.1 1 7.1-.8-3.2z"/><path class="k17" d="M515.5 30.2l.9.9 1 .3-.9-1.1z"/><path class="k5" d="M414.2 14.4l.2.4 3.1-.2-.2-.6z"/><path class="k14" d="M478 26.7l.8.1 1.3-.2-.9-.1z"/><path class="k21" d="M493.1 32.3l.8 2.9 1.1 7.2-.9-3z"/><path class="k6" d="M420.5 15.5l1.5.7 3.1.2-1.5-.9z"/><path class="k15" d="M487.6 27.9l.8.6 1.2.1-.8-.6z"/><path class="k20" d="M501.7 41.3l.9-3.9 1.2-5.9-.9.8z"/><path class="k15" d="M508.8 27.9l.9.5 1.1-.7-.9-.5zM505.9 28.7l.9.2 1.1-1.3-.9.1z"/><path class="k14" d="M475.1 26.7l.8.1 1.3-.3-.9-.1z"/><path class="k37" d="M496.2 45.6l.8 6.4.7 27.6-.6-19.9z"/><path class="k14" d="M472.2 26.8l.8.1 1.2-.3-.8-.1z"/><path class="k8" d="M428.1 18.5l1.6 1.2 3 .5-1.5-1.3z"/><path class="k14" d="M469.3 27.2l.8 0 1.2-.4-.8-.1z"/><path class="k20" d="M520.1 34.4l.9.8 1.1-.2-.9-.6z"/><path class="k14" d="M484.7 27.2l.8.4 1.2-.2-.8-.2z"/><path class="k16" d="M512.6 28.9l.9.5 1.1 0-.9-.8z"/><path class="k18" d="M516.4 31.1l.9 1 1 .3-.9-1z"/><path class="k16" d="M503.8 31.5l.9-.3 1.2-2.5-.9.2z"/><path class="k14" d="M481.8 26.9l.8.2 1.2-.2-.8-.1z"/><path class="k15" d="M488.4 28.5l.9.3 1.2 1-.9-1.2z"/><path class="k49" d="M498.4 59l.8 3.8.7 32.6-.8-6.2z"/><path class="k15" d="M509.7 28.4l.9.3 1.1-.4-.9-.6z"/><path class="k5" d="M414.4 14.8l1.4.3 3.2-.2-1.5-.3z"/><path class="k14" d="M478.8 26.8l.9.1 1.2-.1-.8-.2z"/><path class="k15" d="M506.8 28.9l.9.1 1.1-1.1-.9-.3z"/><path class="k14" d="M475.9 26.8l.9.1 1.2-.2-.8-.2z"/><path class="k18" d="M517.3 32.1l.9 1.1 1 .2-.9-1z"/><path class="k20" d="M521 35.2l.9.4 1.1-.3-.9-.3z"/><path class="k14" d="M473 26.9l.8 0 1.3-.2-.9-.1z"/><path class="k16" d="M513.5 29.4l.9.8 1.1 0-.9-.8z"/><path class="k14" d="M470.1 27.2l.8 0 1.3-.4-.9 0zM485.5 27.6l.9.3 1.2 0-.9-.5z"/><path class="k50" d="M499.2 62.8l.8 9.5 1 9-1.1 14.1z"/><path class="k14" d="M482.6 27.1l.9.3 1.2-.2-.9-.3z"/><path class="k6" d="M422 16.2l1.5.9 3.1.3-1.5-1z"/><path class="k16" d="M504.7 31.2l1-1 1.1-1.3-.9-.2z"/><path class="k19" d="M502.6 37.4l1-3.9 1.1-2.3-.9.3z"/><path class="k15" d="M510.6 28.7l.9.3 1.1-.1-.9-.6z"/><path class="k19" d="M518.2 33.2l.9 1 1 .2-.9-1z"/><path class="k14" d="M479.7 26.9l.8.3 1.3-.3-.9-.1z"/><path class="k15" d="M507.7 29l.9-.2 1.1-.4-.9-.5z"/><path class="k17" d="M514.4 30.2l.9.9 1.1 0-.9-.9z"/><path class="k14" d="M476.8 26.9l.8.1 1.2-.2-.8-.1z"/><path class="k23" d="M501.4 45.5l.9-4.9 1.3-7.1-1 3.9z"/><path class="k20" d="M521.9 35.6l1 .2 1-.6-.9.1z"/><path class="k11" d="M437.4 23.2l1.5.5 3 1-1.5-.6z"/><path class="k14" d="M473.8 26.9l.9.1 1.2-.2-.8-.1zM470.9 27.2l.9 0 1.2-.3-.8-.1zM483.5 27.4l.8.2 1.2 0-.8-.4z"/><path class="k19" d="M519.1 34.2l.9.8 1 .2-.9-.8z"/><path class="k16" d="M511.5 29l.9.7 1.1-.3-.9-.5z"/><path class="k17" d="M515.3 31.1l.9 1 1.1 0-.9-1z"/><path class="k29" d="M495.4 38.8l.8 6.8.9 14.1-.7-10.9z"/><path class="k5" d="M415.8 15.1l1.5.5 3.2-.1-1.5-.6z"/><path class="k42" d="M497.6 50.7l.8 8.3.7 30.2-.6-17.7z"/><path class="k14" d="M480.5 27.2l.9.2 1.2-.3-.8-.2z"/><path class="k16" d="M505.7 30.2l.9-.7 1.1-.5-.9-.1z"/><path class="k15" d="M508.6 28.8l.9.3 1.1-.4-.9-.3z"/><path class="k14" d="M477.6 27l.9.2 1.2-.3-.9-.1z"/><path class="k15" d="M487.3 28l.8.2 1.2.6-.9-.3z"/><path class="k14" d="M474.7 27l.8.2 1.3-.3-.9-.1z"/><path class="k17" d="M503.6 33.5l.9-1.6 1.2-1.7-1 1z"/><path class="k14" d="M471.8 27.2l.8.1 1.2-.4-.8 0z"/><path class="k20" d="M520 35l.9.7 1-.1-.9-.4z"/><path class="k7" d="M423.5 17.1l1.5 1 3.1.4-1.5-1.1z"/><path class="k16" d="M512.4 29.7l.9.8 1.1-.3-.9-.8z"/><path class="k18" d="M516.2 32.1l.9.9 1.1.2-.9-1.1z"/><path class="k14" d="M484.3 27.6l.9 0 1.2.3-.9-.3zM481.4 27.4l.9 0 1.2 0-.9-.3z"/><path class="k15" d="M509.5 29.1l.9.6 1.1-.7-.9-.3z"/><path class="k24" d="M494.5 34.5l.9 4.3 1 10-.8-4.4z"/><path class="k19" d="M492.8 32.3l.9.6 1 7.3-.8-5z"/><path class="k15" d="M506.6 29.5l.9.2 1.1-.9-.9.2z"/><path class="k21" d="M493.7 32.9l.8 1.6 1.1 9.9-.9-4.2z"/><path class="k14" d="M478.5 27.2l.8.1 1.2-.1-.8-.3z"/><path class="k15" d="M488.1 28.2l.9.5 1.2.2-.9-.1z"/><path class="k11" d="M438.9 23.7l1.6.3 3 1.3-1.6-.6z"/><path class="k20" d="M502.3 40.6l1-1.9 1.2-6.8-.9 1.6z"/><path class="k19" d="M517.1 33l.9.9 1.1.3-.9-1z"/><path class="k17" d="M513.3 30.5l.9.8 1.1-.2-.9-.9z"/><path class="k14" d="M475.5 27.2l.9.1 1.2-.3-.8-.1z"/><path class="k20" d="M520.9 35.7l.9.5 1.1-.4-1-.2z"/><path class="k14" d="M472.6 27.3l.8.1 1.3-.4-.9-.1z"/><path class="k4" d="M411 14.8l.2.3 3.2-.3-.2-.4z"/><path class="k14" d="M485.2 27.6l.9.3 1.2.1-.9-.1z"/><path class="k16" d="M504.5 31.9l.9-.1 1.2-2.3-.9.7z"/><path class="k5" d="M417.3 15.6l1.5.6 3.2 0-1.5-.7z"/><path class="k16" d="M510.4 29.7l.9.6 1.1-.6-.9-.7z"/><path class="k19" d="M518 33.9l.9 1 1.1.1-.9-.8z"/><path class="k16" d="M507.5 29.7l.9.5 1.1-1.1-.9-.3z"/><path class="k15" d="M489 28.7l.9.8 1.1.2-.8-.8z"/><path class="k17" d="M514.2 31.3l.9.7 1.1.1-.9-1z"/><path class="k14" d="M479.3 27.3l.9.1 1.2 0-.9-.2z"/><path class="k7" d="M425 18.1l1.6.9 3.1.7-1.6-1.2z"/><path class="k14" d="M476.4 27.3l.8.1 1.3-.2-.9-.2zM473.4 27.4l.9.1 1.2-.3-.8-.2z"/><path class="k10" d="M432.8 21.6l1.5.7 3.1.9-1.6-.8z"/><path class="k14" d="M470.5 27.7l.8 0 1.3-.4-.8-.1zM486.1 27.9l.8.4 1.2-.1-.8-.2z"/><path class="k24" d="M501.9 51.2l1.1-9.3 1.2-6-.9 2.8z"/><path class="k16" d="M511.3 30.3l.9.4 1.1-.2-.9-.8z"/><path class="k5" d="M411.2 15.1l1.4.3 3.2-.3-1.4-.3z"/><path class="k34" d="M496.8 43.8l.8 6.9.9 20.8-.7-13.8z"/><path class="k20" d="M518.9 34.9l.9.9 1.1-.1-.9-.7z"/><path class="k19" d="M503.3 38.7l.9-2.8 1.2-4.1-.9.1z"/><path class="k18" d="M515.1 32l.9.8 1.1.2-.9-.9z"/><path class="k16" d="M489.9 29.5l.8.3 1.2 1.2-.9-1.3zM505.4 31.8l.9 0 1.2-2.1-.9-.2z"/><path class="k14" d="M483.1 27.5l.9.3 1.2-.2-.9 0z"/><path class="k16" d="M508.4 30.2l.9.3 1.1-.8-.9-.6z"/><path class="k12" d="M440.5 24l1.6.5 3 1.6-1.6-.8z"/><path class="k49" d="M500 57.8l.8 3.5.6 36.8-.8-6.8z"/><path class="k14" d="M477.2 27.4l.9.1 1.2-.2-.8-.1zM474.3 27.5l.8 0 1.3-.2-.9-.1z"/><path class="k17" d="M512.2 30.7l.9.8 1.1-.2-.9-.8z"/><path class="k15" d="M486.9 28.3l.9.4 1.2 0-.9-.5z"/><path class="k50" d="M500.8 61.3l.8 9.7.8 16.7-1 10.4z"/><path class="k14" d="M471.3 27.7l.9 0 1.2-.3-.8-.1z"/><path class="k18" d="M516 32.8l.9 1 1.1.1-.9-.9z"/><path class="k6" d="M418.8 16.2l1.5.7 3.2.2-1.5-.9z"/><path class="k20" d="M519.8 35.8l1 .5 1-.1-.9-.5z"/><path class="k14" d="M484 27.8l.9.3 1.2-.2-.9-.3z"/><path class="k16" d="M509.3 30.5l.9.1 1.1-.3-.9-.6zM506.3 31.8l1-.6 1.1-1-.9-.5z"/><path class="k14" d="M481 27.6l.9.2 1.2-.3-.8-.1z"/><path class="k18" d="M504.2 35.9l1-2.4 1.1-1.7-.9 0z"/><path class="k17" d="M513.1 31.5l1 .5 1 0-.9-.7z"/><path class="k19" d="M516.9 33.8l1 1 1 .1-.9-1z"/><path class="k14" d="M478.1 27.5l.9.2 1.2-.3-.9-.1z"/><path class="k28" d="M496 37.5l.8 6.3 1 13.9-.8-5.7z"/><path class="k10" d="M434.3 22.3l1.6.4 3 1-1.5-.5z"/><path class="k14" d="M475.1 27.5l.9.1 1.2-.2-.8-.1zM472.2 27.7l.8.1 1.3-.3-.9-.1z"/><path class="k5" d="M412.6 15.4l1.5.3 3.2-.1-1.5-.5z"/><path class="k16" d="M510.2 30.6l.9.7 1.1-.6-.9-.4z"/><path class="k14" d="M484.9 28.1l.8.2 1.2 0-.8-.4z"/><path class="k16" d="M507.3 31.2l.9-.3 1.1-.4-.9-.3z"/><path class="k24" d="M495.1 35.3l.9 2.2 1 14.5-.8-6.4z"/><path class="k19" d="M517.9 34.8l.9.8 1 .2-.9-.9z"/><path class="k14" d="M481.9 27.8l.9.2 1.2-.2-.9-.3z"/><path class="k17" d="M514.1 32l.9.9 1-.1-.9-.8z"/><path class="k21" d="M503 41.9l1-3.3 1.2-5.1-1 2.4z"/><path class="k42" d="M499.2 50.8l.8 7 .6 33.5-.6-19z"/><path class="k14" d="M479 27.7l.8.2 1.2-.3-.8-.2z"/><path class="k21" d="M494.3 34.1l.8 1.2 1.1 10.3-.8-6.8z"/><path class="k15" d="M488.7 28.7l.9.3 1.1.8-.8-.3z"/><path class="k19" d="M493.4 32.6l.9 1.5 1.1 4.7-.9-4.3z"/><path class="k6" d="M420.3 16.9l1.6.7 3.1.5-1.5-1z"/><path class="k14" d="M476 27.6l.9.2 1.2-.3-.9-.1zM473 27.8l.9.1 1.2-.4-.8 0z"/><path class="k16" d="M511.1 31.3l.9.3 1.1-.1-.9-.8z"/><path class="k17" d="M505.2 33.5l.9-1.1 1.2-1.2-1 .6z"/><path class="k14" d="M485.7 28.3l.9.1 1.2.3-.9-.4z"/><path class="k18" d="M515 32.9l.9 1 1-.1-.9-1z"/><path class="k26" d="M502.5 57.5l1.1-9.7 1.3-9.7-.9.5z"/><path class="k20" d="M518.8 35.6l.9.6 1.1.1-1-.5z"/><path class="k16" d="M508.2 30.9l.9.7 1.1-1-.9-.1z"/><path class="k14" d="M469.7 28.4l.9 0 1.6-.7-.9 0zM482.8 28l.9.1 1.2 0-.9-.3z"/><path class="k4" d="M407.7 15.3l.2.2 3.3-.4-.2-.3z"/><path class="k15" d="M489.6 29l.9.7 1.1.2-.9-.1z"/><path class="k14" d="M479.8 27.9l.9.1 1.2-.2-.9-.2z"/><path class="k10" d="M435.9 22.7l1.6.2 3 1.1-1.6-.3z"/><path class="k14" d="M476.9 27.8l.8.2 1.3-.3-.9-.2z"/><path class="k17" d="M512 31.6l1 .7 1.1-.3-1-.5z"/><path class="k5" d="M414.1 15.7l1.5.5 3.2 0-1.5-.6z"/><path class="k19" d="M515.9 33.9l.9.7 1.1.2-1-1z"/><path class="k14" d="M473.9 27.9l.8.1 1.3-.4-.9-.1z"/><path class="k34" d="M502.9 73.3l1.1-9.5 1.5-20.3-.9.8z"/><path class="k14" d="M486.6 28.4l.9.2 1.2.1-.9 0z"/><path class="k19" d="M504 38.6l.9-.5 1.2-5.7-.9 1.1z"/><path class="k17" d="M506.1 32.4l.9.7 1.2-2.2-.9.3z"/><path class="k16" d="M509.1 31.6l.9 0 1.1-.3-.9-.7z"/><path class="k14" d="M470.6 28.4l.8 0 1.6-.6-.8-.1zM483.7 28.1l.8.1 1.2.1-.8-.2z"/><path class="k15" d="M490.5 29.7l.8.8 1.2.3-.9-.9z"/><path class="k7" d="M421.9 17.6l1.5.7 3.2.7-1.6-.9z"/><path class="k14" d="M480.7 28l.9.1 1.2-.1-.9-.2z"/><path class="k17" d="M513 32.3l.9.9 1.1-.3-.9-.9z"/><path class="k4" d="M407.9 15.5l1.5.2 3.2-.3-1.4-.3z"/><path class="k19" d="M516.8 34.6l.9.7 1.1.3-.9-.8z"/><path class="k14" d="M477.7 28l.9 0 1.2-.1-.8-.2z"/><path class="k9" d="M429.7 20.7l1.5.5 3.1 1.1-1.5-.7z"/><path class="k14" d="M474.7 28l.9.1 1.3-.3-.9-.2zM487.5 28.6l.9.6 1.2-.2-.9-.3z"/><path class="k17" d="M510 31.6l.9.5 1.1-.5-.9-.3zM507 33.1l1-.7 1.1-.8-.9-.7z"/><path class="k34" d="M498.4 42.3l.8 8.5.8 21.5-.8-9.5z"/><path class="k40" d="M503.4 81.5l1 0 1.7-33.1-1 4z"/><path class="k14" d="M471.4 28.4l.9 0 1.6-.5-.9-.1zM484.5 28.2l.9.3 1.2-.1-.9-.1z"/><path class="k18" d="M513.9 33.2l.9.6 1.1.1-.9-1z"/><path class="k19" d="M504.9 38.1l.9-2.6 1.2-2.4-.9-.7zM517.7 35.3l.9.8 1.1.1-.9-.6z"/><path class="k23" d="M503.6 47.8l1-3.5 1.2-8.8-.9 2.6z"/><path class="k14" d="M481.6 28.1l.8.1 1.3-.1-.9-.1z"/><path class="k10" d="M437.5 22.9l1.6.3 3 1.3-1.6-.5z"/><path class="k5" d="M415.6 16.2l1.5.5 3.2.2-1.5-.7z"/><path class="k14" d="M478.6 28l.9.1 1.2-.1-.9-.1z"/><path class="k15" d="M488.4 29.2l.9.3 1.2.2-.9-.7z"/><path class="k17" d="M510.9 32.1l.9.8 1.2-.6-1-.7z"/><path class="k14" d="M475.6 28.1l.9.1 1.2-.2-.8-.2z"/><path class="k50" d="M502.5 60.7l.7 12.3.8 17.5-1.1 8.3z"/><path class="k30" d="M497.5 39.5l.9 2.8.8 20.5-.8-3.8z"/><path class="k17" d="M508 32.4l.9.3 1.1-1.1-.9 0z"/><path class="k18" d="M514.8 33.8l.9.5 1.1.3-.9-.7z"/><path class="k47" d="M501.6 57.3l.9 3.4.4 38.1-.7-8.2z"/><path class="k14" d="M485.4 28.5l.9.4 1.2-.3-.9-.2z"/><path class="k7" d="M423.4 18.3l1.6.7 3.1.9-1.5-.9z"/><path class="k27" d="M496.6 38.4l.9 1.1.9 19.5-.8-8.3z"/><path class="k14" d="M472.3 28.4l.8 0 1.6-.4-.8-.1z"/><path class="k46" d="M504 90.5l1-4.4 1.7-30-1.2 13.2z"/><path class="k14" d="M482.4 28.2l.9.3 1.2-.3-.8-.1z"/><path class="k17" d="M493.1 31.1l.9 1.2 1.1 3-.8-1.2z"/><path class="k5" d="M409.4 15.7l1.5.3 3.2-.3-1.5-.3z"/><path class="k18" d="M505.8 35.5l1-.5 1.2-2.6-1 .7z"/><path class="k17" d="M511.8 32.9l1 .4 1.1-.1-.9-.9z"/><path class="k14" d="M479.5 28.1l.8.2 1.3-.2-.9-.1z"/><path class="k15" d="M489.3 29.5l.8.1 1.2.9-.8-.8z"/><path class="k24" d="M495.8 36l.8 2.4 1 12.3-.8-6.9z"/><path class="k9" d="M431.2 21.2l1.6.4 3.1 1.1-1.6-.4z"/><path class="k14" d="M476.5 28.2l.8.1 1.3-.3-.9 0z"/><path class="k19" d="M515.7 34.3l.9.8 1.1.2-.9-.7z"/><path class="k17" d="M508.9 32.7l.9.7 1.1-1.3-.9-.5z"/><path class="k29" d="M504 63.8l1.1-11.4 1.4-11.5-1 2.6z"/><path class="k18" d="M494 32.3l.9 1.8 1.1 3.4-.9-2.2z"/><path class="k20" d="M494.9 34.1l.9 1.9 1 7.8-.8-6.3z"/><path class="k22" d="M504.6 44.3l.9-.8 1.3-8.5-1 .5z"/><path class="k14" d="M486.3 28.9l.9.1 1.2.2-.9-.6zM473.1 28.4l.9.1 1.6-.4-.9-.1z"/><path class="k54" d="M504.5 102.1l1.1-10.6 1.6-22.6-1.2 13.4z"/><path class="k14" d="M483.3 28.5l.9.2 1.2-.2-.9-.3z"/><path class="k11" d="M439.1 23.2l1.6.4 3 1.5-1.6-.6z"/><path class="k6" d="M417.1 16.7l1.6.5 3.2.4-1.6-.7z"/><path class="k18" d="M512.8 33.3l.9.3 1.1.2-.9-.6z"/><path class="k15" d="M490.1 29.6l.9.3 1.2 1-.9-.4z"/><path class="k37" d="M504.4 81.5l1.1-12.2 1.6-22.2-1 1.3z"/><path class="k14" d="M480.3 28.3l.9.3 1.2-.4-.8-.1z"/><path class="k18" d="M506.8 35l.9.5 1.2-2.8-.9-.3z"/><path class="k19" d="M516.6 35.1l1 .8 1 .2-.9-.8z"/><path class="k17" d="M509.8 33.4l.9.1 1.1-.6-.9-.8z"/><path class="k14" d="M477.3 28.3l.9.2 1.3-.4-.9-.1z"/><path class="k7" d="M425 19l1.5.6 3.2 1.1-1.6-.8z"/><path class="k4" d="M404.4 15.8l.2.1 3.3-.4-.2-.2z"/><path class="k41" d="M500.8 50.3l.8 7 .6 33.3-.6-19.6z"/><path class="k14" d="M474 28.5l.8.1 1.7-.4-.9-.1z"/><path class="k18" d="M513.7 33.6l.9.7 1.1 0-.9-.5z"/><path class="k21" d="M505.5 43.5l1-2.6 1.2-5.4-.9-.5z"/><path class="k14" d="M484.2 28.7l.9.1 1.2.1-.9-.4z"/><path class="k5" d="M410.9 16l1.5.3 3.2-.1-1.5-.5z"/><path class="k14" d="M481.2 28.6l.9.1 1.2-.2-.9-.3z"/><path class="k18" d="M507.7 35.5l.9-.6 1.2-1.5-.9-.7z"/><path class="k9" d="M432.8 21.6l1.6.2 3.1 1.1-1.6-.2z"/><path class="k17" d="M510.7 33.5l1-.1 1.1-.1-1-.4z"/><path class="k14" d="M478.2 28.5l.9.1 1.2-.3-.8-.2zM488.1 29.1l.8.3 1.2.2-.8-.1z"/><path class="k4" d="M404.6 15.9l1.5.2 3.3-.4-1.5-.2z"/><path class="k18" d="M514.6 34.3l.9.8 1.1 0-.9-.8z"/><path class="k14" d="M474.8 28.6l.9.1 1.6-.4-.8-.1z"/><path class="k6" d="M418.7 17.2l1.5.5 3.2.6-1.5-.7z"/><path class="k14" d="M485.1 28.8l.9.1 1.2.1-.9-.1z"/><path class="k11" d="M440.7 23.6l1.6.4 3 1.8-1.6-.7z"/><path class="k14" d="M482.1 28.7l.9 0 1.2 0-.9-.2z"/><path class="k17" d="M511.7 33.4l.9.5 1.1-.3-.9-.3z"/><path class="k25" d="M505.1 52.4l1-4 1.4-10.8-1 3.3z"/><path class="k18" d="M508.6 34.9l1-.7 1.1-.7-.9-.1z"/><path class="k41" d="M505 86.1l1-3.8 1.8-33-1.1 6.8z"/><path class="k14" d="M469.5 29.8l.9-.1 2.7-1.3-.8 0zM479.1 28.6l.9.1 1.2-.1-.9-.3z"/><path class="k20" d="M506.5 40.9l1-3.3 1.1-2.7-.9.6z"/><path class="k8" d="M426.5 19.6l1.6.5 3.1 1.1-1.5-.5z"/><path class="k15" d="M488.9 29.4l.9.5 1.2 0-.9-.3z"/><path class="k19" d="M515.5 35.1l1 .5 1.1.3-1-.8z"/><path class="k57" d="M505.2 98.1l.9 4.4 1.6-22.3-1 4z"/><path class="k54" d="M504.7 77.2l.5 20.9 1.5-13.9-1.1 7.3z"/><path class="k14" d="M475.7 28.7l.9.1 1.6-.3-.9-.2zM486 28.9l.8.4 1.3-.2-.9-.1z"/><path class="k5" d="M412.4 16.3l1.5.3 3.2.1-1.5-.5z"/><path class="k51" d="M504.1 62.8l.6 14.4.9 14.3-1.1 10.6z"/><path class="k18" d="M512.6 33.9l.9.7 1.1-.3-.9-.7z"/><path class="k14" d="M483 28.7l.8.2 1.3-.1-.9-.1z"/><path class="k9" d="M434.4 21.8l1.6.2 3.1 1.2-1.6-.3z"/><path class="k33" d="M500 42.8l.8 7.5.8 20.7-.8-9.7z"/><path class="k14" d="M480 28.7l.8.1 1.3-.1-.9-.1z"/><path class="k48" d="M503.2 58.1l.9 4.7.4 39.3-.8-8.1z"/><path class="k18" d="M509.6 34.2l.9.3 1.2-1.1-1 .1z"/><path class="k14" d="M470.4 29.7l.8-.1 2.8-1.1-.9-.1z"/><path class="k15" d="M489.8 29.9l.9.3 1.2.5-.9-.8z"/><path class="k31" d="M505.5 69.3l1.2-13.2 1.4-12.8-1 3.8z"/><path class="k4" d="M406.1 16.1l1.5.2 3.3-.3-1.5-.3z"/><path class="k6" d="M420.2 17.7l1.5.5 3.3.8-1.6-.7z"/><path class="k18" d="M494.6 33l.9.1 1.1 5.3-.8-2.4z"/><path class="k14" d="M476.6 28.8l.9.1 1.6-.3-.9-.1zM486.8 29.3l.9.2 1.2-.1-.8-.3z"/><path class="k19" d="M507.5 37.6l.9-.4 1.2-3-1 .7z"/><path class="k18" d="M513.5 34.6l1 .3 1 .2-.9-.8z"/><path class="k23" d="M506.1 48.4l1-1.3 1.3-9.9-.9.4z"/><path class="k29" d="M499.1 39.6l.9 3.2.8 18.5-.8-3.5z"/><path class="k14" d="M483.8 28.9l.9.3 1.3-.3-.9-.1z"/><path class="k26" d="M498.2 38.7l.9.9.9 18.2-.8-7z"/><path class="k18" d="M510.5 34.5l.9.6 1.2-1.2-.9-.5z"/><path class="k15" d="M490.7 30.2l.9.4 1.2.7-.9-.6z"/><path class="k14" d="M480.8 28.8l.9.2 1.3-.3-.9 0z"/><path class="k8" d="M428.1 20.1l1.6.3 3.1 1.2-1.6-.4z"/><path class="k14" d="M471.2 29.6l.9 0 2.7-1-.8-.1z"/><path class="k19" d="M495.5 33.1l.9.8 1.1 5.6-.9-1.1z"/><path class="k45" d="M505.6 91.5l1.1-7.3 1.7-29.3-1.2 14z"/><path class="k23" d="M497.3 36.4l.9 2.3 1 12.1-.8-8.5z"/><path class="k14" d="M487.7 29.5l.9.3 1.2.1-.9-.5zM477.5 28.9l.8.1 1.7-.3-.9-.1z"/><path class="k5" d="M413.9 16.6l1.5.4 3.3.2-1.6-.5z"/><path class="k18" d="M514.5 34.9l.9.2 1.1.5-1-.5z"/><path class="k20" d="M496.4 33.9l.9 2.5 1.1 5.9-.9-2.8z"/><path class="k19" d="M508.4 37.2l.9.3 1.2-3-.9-.3z"/><path class="k14" d="M484.7 29.2l.9.2 1.2-.1-.8-.4z"/><path class="k18" d="M511.4 35.1l1-.1 1.1-.4-.9-.7z"/><path class="k9" d="M436 22l1.6.3 3.1 1.3-1.6-.4z"/><path class="k4" d="M401.1 16.3l.2.1 3.3-.5-.2-.1z"/><path class="k14" d="M481.7 29l.9.2 1.2-.3-.8-.2zM472.1 29.6l.9 0 2.7-.9-.9-.1z"/><path class="k36" d="M506 82.3l1.2-13.4 1.5-21.6-.9 2z"/><path class="k22" d="M507.1 47.1l1-3.8 1.2-5.8-.9-.3z"/><path class="k41" d="M502.4 52.4l.8 5.7.5 35.9-.5-21z"/><path class="k4" d="M407.6 16.3l1.5.2 3.3-.2-1.5-.3z"/><path class="k14" d="M488.6 29.8l.9.2 1.2.2-.9-.3zM478.3 29l.9.2 1.6-.4-.8-.1z"/><path class="k19" d="M509.3 37.5l1-.9 1.1-1.5-.9-.6z"/><path class="k14" d="M485.6 29.4l.9.2 1.2-.1-.9-.2z"/><path class="k18" d="M512.4 35l.9-.1 1.2 0-1-.3z"/><path class="k14" d="M482.6 29.2l.9.1 1.2-.1-.9-.3z"/><path class="k4" d="M401.3 16.4l1.4.2 3.4-.5-1.5-.2z"/><path class="k8" d="M429.7 20.4l1.5.2 3.2 1.2-1.6-.2z"/><path class="k14" d="M473 29.6l.9 0 2.7-.8-.9-.1z"/><path class="k15" d="M489.5 30l.9.4 1.2.2-.9-.4z"/><path class="k5" d="M415.4 17l1.5.3 3.3.4-1.5-.5z"/><path class="k14" d="M479.2 29.2l.9.1 1.6-.3-.9-.2z"/><path class="k26" d="M506.7 56.1l1.1-6.8 1.3-9.7-1 3.7z"/><path class="k14" d="M486.5 29.6l.9.2 1.2 0-.9-.3z"/><path class="k18" d="M510.3 36.6l1-.8 1.1-.8-1 .1z"/><path class="k9" d="M437.6 22.3l1.6.3 3.1 1.4-1.6-.4z"/><path class="k21" d="M508.1 43.3l1-3.7 1.2-3-1 .9z"/><path class="k18" d="M513.3 34.9l1-.2 1.1.4-.9-.2z"/><path class="k14" d="M483.5 29.3l.9.2 1.2-.1-.9-.2zM473.9 29.6l.8.1 2.8-.8-.9-.1z"/><path class="k7" d="M423.3 18.7l1.6.4 3.2 1-1.6-.5z"/><path class="k15" d="M490.4 30.4l.9 0 1.2.8-.9-.6z"/><path class="k5" d="M409.1 16.5l1.5.3 3.3-.2-1.5-.3z"/><path class="k14" d="M480.1 29.3l.9.2 1.6-.3-.9-.2zM487.4 29.8l.9.3 1.2-.1-.9-.2z"/><path class="k49" d="M504.8 59.6l.9 5.6.4 37.3-.9-4.4z"/><path class="k39" d="M506.7 84.2l1-4 1.8-31-1.1 5.7z"/><path class="k14" d="M484.4 29.5l.9.2 1.2-.1-.9-.2z"/><path class="k33" d="M501.6 44.5l.8 7.9.8 20.6-.7-12.3z"/><path class="k18" d="M511.3 35.8l.9-.7 1.1-.2-.9.1z"/><path class="k4" d="M402.7 16.6l1.5.2 3.4-.5-1.5-.2z"/><path class="k8" d="M431.2 20.6l1.6.2 3.2 1.2-1.6-.2z"/><path class="k14" d="M474.7 29.7l.9.1 2.7-.8-.8-.1z"/><path class="k5" d="M416.9 17.3l1.6.4 3.2.5-1.5-.5z"/><path class="k14" d="M481 29.5l.9.1 1.6-.3-.9-.1z"/><path class="k19" d="M509.1 39.6l1-1.7 1.2-2.1-1 .8z"/><path class="k14" d="M488.3 30.1l.9 0 1.2.3-.9-.4z"/><path class="k18" d="M496.2 33.7l.9 0 1.1 5-.9-2.3z"/><path class="k9" d="M439.2 22.6l1.6.3 3.1 1.6-1.6-.5z"/><path class="k23" d="M507.8 49.3l.9-2 1.4-9.4-1 1.7z"/><path class="k30" d="M507.2 68.9l1.2-14 1.4-11-1.1 3.4z"/><path class="k14" d="M485.3 29.7l.9.2 1.2-.1-.9-.2z"/><path class="k18" d="M512.2 35.1l1 .3 1.1-.7-1 .2z"/><path class="k28" d="M500.7 39.7l.9 4.8.9 16.2-.9-3.4z"/><path class="k14" d="M475.6 29.8l.9 0 2.7-.6-.9-.2z"/><path class="k15" d="M492.2 30.6l.9.7 1.2.3-.9-.4z"/><path class="k7" d="M424.9 19.1l1.5.2 3.3 1.1-1.6-.3z"/><path class="k5" d="M410.6 16.8l1.5.2 3.3 0-1.5-.4z"/><path class="k25" d="M499.8 39.2l.9.5.9 17.6-.8-7z"/><path class="k19" d="M497.1 33.7l.9 1 1.1 4.9-.9-.9z"/><path class="k14" d="M481.9 29.6l.9.2 1.6-.3-.9-.2z"/><path class="k22" d="M498.9 37.1l.9 2.1 1 11.1-.8-7.5z"/><path class="k43" d="M504 54.4l.8 5.2.4 38.5-.5-20.9z"/><path class="k19" d="M510.1 37.9l.9 0 1.2-2.8-.9.7z"/><path class="k20" d="M498 34.7l.9 2.4 1.1 5.7-.9-3.2z"/><path class="k14" d="M486.2 29.9l.9.1 1.2.1-.9-.3z"/><path class="k4" d="M404.2 16.8l1.5.2 3.4-.5-1.5-.2z"/><path class="k15" d="M493.1 31.3l1 .6 1.1.8-.9-1.1z"/><path class="k8" d="M432.8 20.8l1.6.3 3.2 1.2-1.6-.3z"/><path class="k14" d="M476.5 29.8l.9.1 2.7-.6-.9-.1z"/><path class="k5" d="M418.5 17.7l1.5.3 3.3.7-1.6-.5z"/><path class="k22" d="M508.7 47.3l1.1-3.4 1.2-6-.9 0z"/><path class="k14" d="M482.8 29.8l.9.2 1.6-.3-.9-.2zM470.2 31.1l.9-.1 2.8-1.4-.9 0zM490.1 30.3l.9.4 1.2-.1-.9-.2z"/><path class="k18" d="M511 37.9l1-.7 1.2-1.8-1-.3z"/><path class="k14" d="M477.4 29.9l.9.2 2.7-.6-.9-.2z"/><path class="k7" d="M426.4 19.3l1.6.2 3.2 1.1-1.5-.2z"/><path class="k5" d="M412.1 17l1.5.2 3.3.1-1.5-.3z"/><path class="k14" d="M483.7 30l.9 0 1.6-.1-.9-.2z"/><path class="k15" d="M491 30.7l.9.4 1.2.2-.9-.7z"/><path class="k14" d="M471.1 31l.8-.1 2.8-1.2-.8-.1zM488 30.1l.9.4 1.2-.2-.9-.2z"/><path class="k4" d="M405.7 17l1.5.2 3.4-.4-1.5-.3z"/><path class="k8" d="M434.4 21.1l1.7.2 3.1 1.3-1.6-.3z"/><path class="k25" d="M508.4 54.9l1.1-5.7 1.3-9.4-1 4.1z"/><path class="k21" d="M509.8 43.9l1-4.1 1.2-2.6-1 .7z"/><path class="k14" d="M478.3 30.1l.9.1 2.7-.6-.9-.1z"/><path class="k6" d="M420 18l1.6.3 3.3.8-1.6-.4z"/><path class="k14" d="M484.6 30l.9.1 1.6-.1-.9-.1z"/><path class="k34" d="M503.2 46.4l.8 8 .7 22.8-.6-14.4z"/><path class="k14" d="M471.9 30.9l.9-.1 2.8-1-.9-.1zM488.9 30.5l.9.3 1.2-.1-.9-.4zM479.2 30.2l.9.1 2.7-.5-.9-.2z"/><path class="k7" d="M428 19.5l1.6.3 3.2 1-1.6-.2z"/><path class="k5" d="M413.6 17.2l1.6.3 3.3.2-1.6-.4z"/><path class="k17" d="M496.8 33.5l.9.4 1.2 3.2-.9-2.4z"/><path class="k14" d="M485.5 30.1l.9.4 1.6-.4-.9-.1zM472.8 30.8l.9 0 2.8-1-.9 0z"/><path class="k18" d="M497.7 33.9l1 .3 1.1 5-.9-2.1z"/><path class="k4" d="M407.2 17.2l1.5.2 3.4-.4-1.5-.2z"/><path class="k8" d="M436.1 21.3l1.6.2 3.1 1.4-1.6-.3z"/><path class="k29" d="M502.3 40.9l.9 5.5.9 16.4-.9-4.7z"/><path class="k14" d="M480.1 30.3l.9.1 2.7-.4-.9-.2z"/><path class="k6" d="M421.6 18.3l1.6.2 3.2.8-1.5-.2z"/><path class="k15" d="M493.8 31.3l.9.8 1.2.2-.9-.4z"/><path class="k14" d="M486.4 30.5l.9.1 1.6-.1-.9-.4z"/><path class="k26" d="M501.4 39.7l.9 1.2.9 17.2-.8-5.7z"/><path class="k19" d="M498.7 34.2l.9 1.6 1.1 3.9-.9-.5z"/><path class="k23" d="M500.5 38.3l.9 1.4 1 12.7-.8-7.9z"/><path class="k14" d="M473.7 30.8l.9.1 2.8-1-.9-.1zM490.7 30.8l.9.1 1.3.2-1 0z"/><path class="k20" d="M499.6 35.8l.9 2.5 1.1 6.2-.9-4.8z"/><path class="k14" d="M481 30.4l.9.2 2.7-.6-.9 0z"/><path class="k15" d="M494.7 32.1l.9.1 1.2 1.3-.9-1.2z"/><path class="k7" d="M429.6 19.8l1.6.2 3.2 1.1-1.6-.3z"/><path class="k5" d="M415.2 17.5l1.5.2 3.3.3-1.5-.3z"/><path class="k14" d="M487.3 30.6l.9.1 1.6.1-.9-.3zM491.6 30.9l1 .5 1.2-.1-.9-.2zM474.6 30.9l.9 0 2.8-.8-.9-.2z"/><path class="k8" d="M437.7 21.5l1.6.5 3.2 1.5-1.7-.6z"/><path class="k4" d="M408.7 17.4l1.6.2 3.3-.4-1.5-.2z"/><path class="k14" d="M481.9 30.6l.9.1 2.7-.6-.9-.1zM488.2 30.7l.9.2 1.6-.1-.9 0z"/><path class="k15" d="M492.6 31.4l.9.1 1.2.6-.9-.8z"/><path class="k14" d="M475.5 30.9l.9 0 2.8-.7-.9-.1zM482.8 30.7l.9.1 2.7-.3-.9-.4z"/><path class="k7" d="M431.2 20l1.7.2 3.2 1.1-1.7-.2z"/><path class="k5" d="M416.7 17.7l1.6.2 3.3.4-1.6-.3z"/><path class="k14" d="M489.1 30.9l.9.3 1.6-.3-.9-.1z"/><path class="k15" d="M493.5 31.5l.9.3 1.2.4-.9-.1z"/><path class="k14" d="M476.4 30.9l.9.2 2.8-.8-.9-.1z"/><path class="k4" d="M410.3 17.6l1.5.2 3.4-.3-1.6-.3z"/><path class="k14" d="M483.7 30.8l.9.2 2.7-.4-.9-.1zM490 31.2l1 0 1.6.2-1-.5z"/><path class="k17" d="M498.4 34.4l.9.2 1.2 3.7-.9-2.5z"/><path class="k15" d="M494.4 31.8l.9.6 1.2 0-.9-.2z"/><path class="k14" d="M477.3 31.1l.9.1 2.8-.8-.9-.1z"/><path class="k18" d="M499.3 34.6l1 .4 1.1 4.7-.9-1.4z"/><path class="k29" d="M504 42.1l.9 4.8.8 18.3-.9-5.6z"/><path class="k14" d="M484.6 31l.9.2 2.7-.5-.9-.1zM470.9 32.5l.9-.1 2.8-1.5-.9-.1z"/><path class="k7" d="M432.9 20.2l1.6.2 3.2 1.1-1.6-.2z"/><path class="k5" d="M418.3 17.9l1.6.2 3.3.4-1.6-.2z"/><path class="k14" d="M491 31.2l.9.4 1.6-.1-.9-.1z"/><path class="k26" d="M503 40.6l1 1.5.8 17.5-.8-5.2z"/><path class="k15" d="M495.3 32.4l1 .5 1.2.5-1-1z"/><path class="k23" d="M502.1 39.3l.9 1.3 1 13.8-.8-8z"/><path class="k19" d="M500.3 35l.9 1.9 1.1 4-.9-1.2z"/><path class="k14" d="M478.2 31.2l.9 0 2.8-.6-.9-.2z"/><path class="k20" d="M501.2 36.9l.9 2.4 1.1 7.1-.9-5.5z"/><path class="k4" d="M411.8 17.8l1.5.2 3.4-.3-1.5-.2z"/><path class="k14" d="M485.5 31.2l.9.1 2.7-.4-.9-.2zM471.8 32.4l.9 0 2.8-1.5-.9 0zM491.9 31.6l.9.4 1.6-.2-.9-.3zM479.1 31.2l.9.2 2.8-.7-.9-.1zM486.4 31.3l1 .2 2.6-.3-.9-.3z"/><path class="k7" d="M434.5 20.4l1.6.4 3.2 1.2-1.6-.5z"/><path class="k14" d="M492.8 32l1 .1 1.5.3-.9-.6z"/><path class="k16" d="M497.2 32.9l.9.3 1.2 1.4-.9-.2z"/><path class="k5" d="M419.9 18.1l1.5.3 3.4.3-1.6-.2z"/><path class="k14" d="M472.7 32.4l.9 0 2.8-1.5-.9 0zM480 31.4l.9.2 2.8-.8-.9-.1z"/><path class="k4" d="M413.3 18l1.6.2 3.4-.3-1.6-.2z"/><path class="k14" d="M487.4 31.5l.9.3 2.7-.6-1 0z"/><path class="k16" d="M498.1 33.2l1 1.1 1.2.7-1-.4z"/><path class="k14" d="M473.6 32.4l.9 0 2.8-1.3-.9-.2zM480.9 31.6l.9 0 2.8-.6-.9-.2z"/><path class="k7" d="M436.1 20.8l1.7.5 3.2 1.4-1.7-.7z"/><path class="k15" d="M494.7 32.2l.9.4 1.6.3-.9 0z"/><path class="k14" d="M488.3 31.8l.9 0 2.7-.2-.9-.4zM474.5 32.4l.9 0 2.8-1.2-.9-.1z"/><path class="k17" d="M500 35.2l1 .2 1.1 3.9-.9-2.4z"/><path class="k14" d="M481.8 31.6l1 .2 2.7-.6-.9-.2z"/><path class="k4" d="M414.9 18.2l1.6.2 3.4-.3-1.6-.2z"/><path class="k15" d="M495.6 32.6l1 .6 1.5 0-.9-.3z"/><path class="k14" d="M489.2 31.8l.9.1 2.7.1-.9-.4z"/><path class="k18" d="M501 35.4l.9.5 1.1 4.7-.9-1.3z"/><path class="k14" d="M475.4 32.4l.9.1 2.8-1.3-.9 0zM482.8 31.8l.9.1 2.7-.6-.9-.1z"/><path class="k19" d="M501.9 35.9l1 1.5 1.1 4.7-1-1.5z"/><path class="k15" d="M496.6 33.2l.9.2 1.6.9-1-1.1z"/><path class="k14" d="M490.1 31.9l1 .3 2.7-.1-1-.1z"/><path class="k20" d="M502.9 37.4l.9 1.2 1.1 8.3-.9-4.8z"/><path class="k5" d="M423 18.6l1.7.2 3.3.3-1.6-.2z"/><path class="k14" d="M476.3 32.5l.9 0 2.8-1.1-.9-.2zM483.7 31.9l.9.1 2.8-.5-1-.2z"/><path class="k4" d="M416.5 18.4l1.6.2 3.3-.2-1.5-.3z"/><path class="k14" d="M491.1 32.2l.9.3 2.7-.3-.9-.1z"/><path class="k6" d="M431.2 19.6l1.7.3 3.2.9-1.6-.4z"/><path class="k14" d="M477.2 32.5l.9.1 2.8-1-.9-.2z"/><path class="k16" d="M498.5 33.4l.9.6 1.6 1.4-1-.2z"/><path class="k14" d="M484.6 32l.9.2 2.8-.4-.9-.3zM492 32.5l1 .1 2.6 0-.9-.4z"/><path class="k5" d="M424.7 18.8l1.6.2 3.3.4-1.6-.3z"/><path class="k14" d="M478.1 32.6l.9 0 2.8-1-.9 0z"/><path class="k15" d="M471.6 34.8l.9 0 2.9-2.4-.9 0z"/><path class="k16" d="M499.4 34l1 .5 1.5 1.4-.9-.5z"/><path class="k14" d="M485.5 32.2l1 .2 2.7-.6-.9 0zM493 32.6l.9.1 2.7.5-1-.6z"/><path class="k4" d="M418.1 18.6l1.6.2 3.3-.2-1.6-.2z"/><path class="k14" d="M479 32.6l1 .1 2.8-.9-1-.2z"/><path class="k16" d="M500.4 34.5l1 .4 1.5 2.5-1-1.5z"/><path class="k15" d="M472.5 34.8l.9-.1 2.9-2.2-.9-.1z"/><path class="k14" d="M486.5 32.4l.9.2 2.7-.7-.9-.1zM493.9 32.7l1 .3 2.6.4-.9-.2z"/><path class="k15" d="M452 33.9l.9.5 3.1 2-.9-.5z"/><path class="k17" d="M501.4 34.9l.9.4 1.5 3.3-.9-1.2z"/><path class="k5" d="M426.3 19l1.6.2 3.3.4-1.6-.2z"/><path class="k14" d="M480 32.7l.9.1 2.8-.9-.9-.1zM473.4 34.7l.9-.1 2.9-2.1-.9 0zM487.4 32.6l1 0 2.7-.4-1-.3zM494.9 33l.9.2 2.7.2-1 0z"/><path class="k16" d="M452.9 34.4l.9.5 3 1.9-.8-.4z"/><path class="k4" d="M419.7 18.8l1.6.2 3.4-.2-1.7-.2z"/><path class="k6" d="M434.6 20.2l1.6.5 3.3 1.4-1.7-.8z"/><path class="k14" d="M480.9 32.8l.9.1 2.8-.9-.9-.1zM474.3 34.6l1-.1 2.8-1.9-.9-.1zM488.4 32.6l.9.2 2.7-.3-.9-.3z"/><path class="k16" d="M453.8 34.9l.8.4 3.1 2-.9-.5z"/><path class="k15" d="M495.8 33.2l1 .2 2.6.6-.9-.6z"/><path class="k5" d="M427.9 19.2l1.7.2 3.3.5-1.7-.3z"/><path class="k14" d="M481.8 32.9l.9.1 2.8-.8-.9-.2zM475.3 34.5l.9 0 2.8-1.9-.9 0zM489.3 32.8l1 .2 2.7-.4-1-.1z"/><path class="k16" d="M454.6 35.3l.9.4 3.1 2-.9-.4z"/><path class="k15" d="M496.8 33.4l1 .3 2.6.8-1-.5z"/><path class="k4" d="M421.3 19l1.6.2 3.4-.2-1.6-.2z"/><path class="k14" d="M482.7 33l1 .1 2.8-.7-1-.2z"/><path class="k16" d="M455.5 35.7l.9.4 3.1 1.9-.9-.3z"/><path class="k15" d="M497.8 33.7l.9.2 2.7 1-1-.4z"/><path class="k14" d="M490.3 33l.9.1 2.7-.4-.9-.1zM476.2 34.5l.9 0 2.9-1.8-1-.1z"/><path class="k5" d="M429.6 19.4l1.6.3 3.4.5-1.7-.3z"/><path class="k14" d="M483.7 33.1l.9.1 2.8-.6-.9-.2z"/><path class="k16" d="M456.4 36.1l.9.4 3.1 1.9-.9-.4z"/><path class="k15" d="M498.7 33.9l1 .2 2.6 1.2-.9-.4z"/><path class="k14" d="M491.2 33.1l1 .2 2.7-.3-1-.3zM477.1 34.5l.9-.1 2.9-1.6-.9-.1z"/><path class="k4" d="M422.9 19.2l1.7.3 3.3-.3-1.6-.2z"/><path class="k14" d="M484.6 33.2l1 .2 2.8-.8-1 0z"/><path class="k13" d="M448.8 31.5l.9.7 3.2 2.2-.9-.5z"/><path class="k16" d="M457.3 36.5l.9.4 3 1.8-.8-.3z"/><path class="k14" d="M492.2 33.3l.9.2 2.7-.3-.9-.2zM478 34.4l1 0 2.8-1.5-.9-.1z"/><path class="k5" d="M431.2 19.7l1.7.3 3.3.7-1.6-.5z"/><path class="k14" d="M449.7 32.2l.9.6 3.2 2.1-.9-.5zM485.6 33.4l.9.1 2.8-.7-.9-.2z"/><path class="k17" d="M458.2 36.9l.9.4 3 1.8-.9-.4z"/><path class="k14" d="M493.1 33.5l1 .1 2.7-.2-1-.2z"/><path class="k15" d="M472.4 37.5l.9-.1 2.9-2.9-.9 0z"/><path class="k14" d="M479 34.4l.9 0 2.8-1.4-.9-.1z"/><path class="k4" d="M424.6 19.5l1.6.2 3.4-.3-1.7-.2z"/><path class="k14" d="M450.6 32.8l.9.3 3.1 2.2-.8-.4zM486.5 33.5l1 .1 2.8-.6-1-.2zM494.1 33.6l1 .2 2.7-.1-1-.3zM479.9 34.4l.9.1 2.9-1.4-1-.1z"/><path class="k15" d="M473.3 37.4l.9-.1 2.9-2.8-.9 0z"/><path class="k5" d="M432.9 20l1.7.4 3.3 1-1.7-.7z"/><path class="k9" d="M442 24.1l.9.9 3.3 3.4-.9-1.1z"/><path class="k14" d="M451.5 33.1l.9.3 3.1 2.3-.9-.4z"/><path class="k17" d="M460 37.8l.9.4 3 1.4-.9-.2z"/><path class="k14" d="M487.5 33.6l.9.2 2.8-.7-.9-.1zM495.1 33.8l.9.2 2.7-.1-.9-.2zM480.8 34.5l1 .1 2.8-1.4-.9-.1z"/><path class="k15" d="M474.2 37.3l.9-.2 2.9-2.7-.9.1z"/><path class="k4" d="M426.2 19.7l1.7.2 3.3-.2-1.6-.3z"/><path class="k14" d="M452.4 33.4l.9.3 3.1 2.4-.9-.4zM488.4 33.8l1 .1 2.8-.6-1-.2z"/><path class="k10" d="M443.8 25.9l.9.9 3.3 3.8-.9-1.1z"/><path class="k14" d="M496 34l1 .1 2.7 0-1-.2z"/><path class="k5" d="M434.6 20.4l1.5.3 3.3 1.5-1.5-.8z"/><path class="k14" d="M481.8 34.6l.9.1 2.9-1.3-1-.2z"/><path class="k15" d="M475.1 37.1l1-.1 2.9-2.6-1 0z"/><path class="k14" d="M453.3 33.7l.9.3 3.1 2.5-.9-.4z"/><path class="k17" d="M461.8 38.6l.9.4 3 1-.9-.2z"/><path class="k11" d="M444.7 26.8l.9 1 3.2 3.7-.8-.9z"/><path class="k14" d="M489.4 33.9l1 .2 2.7-.6-.9-.2zM482.7 34.7l1 .1 2.8-1.3-.9-.1z"/><path class="k15" d="M454.2 34l.9.3 3.1 2.6-.9-.4z"/><path class="k5" d="M427.9 19.9l1.7.2 3.3-.1-1.7-.3z"/><path class="k15" d="M476.1 37l.9.1 2.9-2.7-.9 0z"/><path class="k6" d="M436.1 20.7l.9.3 3.3 1.7-.9-.5z"/><path class="k11" d="M445.6 27.8l.9.8 3.2 3.6-.9-.7z"/><path class="k14" d="M490.4 34.1l.9.1 2.8-.6-1-.1zM483.7 34.8l.9 0 2.9-1.2-1-.1z"/><path class="k15" d="M455.1 34.3l.9.3 3.1 2.7-.9-.4z"/><path class="k11" d="M446.5 28.6l.9.6 3.2 3.6-.9-.6z"/><path class="k6" d="M437 21l.9.2 3.3 2.2-.9-.7z"/><path class="k15" d="M477 37.1l1 0 2.8-2.6-.9-.1z"/><path class="k14" d="M491.3 34.2l1 .1 2.8-.5-1-.2z"/><path class="k15" d="M456 34.6l.9.4 3.1 2.8-.9-.5z"/><path class="k12" d="M447.4 29.2l.9.3 3.2 3.6-.9-.3z"/><path class="k14" d="M484.6 34.8l1 .1 2.8-1.1-.9-.2z"/><path class="k6" d="M437.9 21.2l.8.4 3.3 2.5-.8-.7z"/><path class="k5" d="M429.6 20.1l1.7.2 3.3.1-1.7-.4z"/><path class="k15" d="M478 37.1l.9 0 2.9-2.5-1-.1z"/><path class="k14" d="M492.3 34.3l1 .2 2.7-.5-.9-.2z"/><path class="k15" d="M456.9 35l.9.3 3.1 2.9-.9-.4z"/><path class="k6" d="M438.7 21.6l.9.3 3.3 3.1-.9-.9z"/><path class="k12" d="M448.3 29.5l.8.2 3.3 3.7-.9-.3z"/><path class="k14" d="M485.6 34.9l1 .1 2.8-1.1-1-.1z"/><path class="k15" d="M478.9 37.1l.9 0 2.9-2.4-.9-.1z"/><path class="k14" d="M493.3 34.5l1 .1 2.7-.5-1-.1z"/><path class="k7" d="M439.6 21.9l.9.4 3.3 3.6-.9-.9z"/><path class="k15" d="M457.8 35.3l.9.4 3.1 2.9-.9-.4z"/><path class="k12" d="M449.1 29.7l.9.2 3.3 3.8-.9-.3z"/><path class="k5" d="M431.3 20.3l1.5.2 3.3.2-1.5-.3z"/><path class="k14" d="M486.6 35l.9.1 2.9-1-1-.2z"/><path class="k15" d="M479.8 37.1l1 0 2.9-2.3-1-.1z"/><path class="k7" d="M440.5 22.3l.9.5 3.3 4-.9-.9z"/><path class="k15" d="M458.7 35.7l.9.4 3.1 2.9-.9-.4z"/><path class="k12" d="M450 29.9l.9.2 3.3 3.9-.9-.3z"/><path class="k14" d="M487.5 35.1l1 .1 2.8-1-.9-.1z"/><path class="k16" d="M474.1 40.4l.9 0 3-3.3-1 0z"/><path class="k5" d="M432.8 20.5l.8.2 3.4.3-.9-.3z"/><path class="k15" d="M480.8 37.1l1 .1 2.8-2.4-.9 0z"/><path class="k7" d="M441.4 22.8l.8.4 3.4 4.6-.9-1z"/><path class="k15" d="M459.6 36.1l.9.4 3.1 2.9-.9-.4z"/><path class="k12" d="M450.9 30.1l.9.2 3.3 4-.9-.3z"/><path class="k14" d="M488.5 35.2l1 .2 2.8-1.1-1-.1z"/><path class="k16" d="M475 40.4l1 .1 2.9-3.4-.9 0z"/><path class="k5" d="M433.6 20.7l.9.1 3.4.4-.9-.2z"/><path class="k8" d="M442.2 23.2l.9.5 3.4 4.9-.9-.8z"/><path class="k15" d="M481.8 37.2l.9 0 2.9-2.3-1-.1z"/><path class="k16" d="M460.5 36.5l.9.4 3.1 2.9-.9-.4z"/><path class="k12" d="M451.8 30.3l.9.2 3.3 4.1-.9-.3z"/><path class="k14" d="M489.5 35.4l1 .1 2.8-1-1-.2z"/><path class="k8" d="M443.1 23.7l.9.3 3.4 5.2-.9-.6z"/><path class="k16" d="M476 40.5l.9 0 2.9-3.4-.9 0z"/><path class="k5" d="M434.5 20.8l.9.1 3.3.7-.8-.4z"/><path class="k14" d="M482.7 37.2l1 0 2.9-2.2-1-.1z"/><path class="k16" d="M461.4 36.9l1 .4 3.1 2.9-1-.4z"/><path class="k12" d="M452.7 30.5l.9.2 3.3 4.3-.9-.4z"/><path class="k14" d="M490.5 35.5l1 .1 2.8-1-1-.1z"/><path class="k8" d="M444 24l.9.3 3.4 5.2-.9-.3z"/><path class="k5" d="M435.4 20.9l.8.1 3.4.9-.9-.3z"/><path class="k16" d="M476.9 40.5l1 0 2.9-3.4-1 0z"/><path class="k14" d="M483.7 37.2l1 .1 2.8-2.2-.9-.1z"/><path class="k16" d="M462.4 37.3l.9.4 3.1 2.9-.9-.4z"/><path class="k12" d="M453.6 30.7l1 .2 3.2 4.4-.9-.3z"/><path class="k8" d="M444.9 24.3l.9.1 3.3 5.3-.8-.2z"/><path class="k5" d="M436.2 21l.9.1 3.4 1.2-.9-.4z"/><path class="k16" d="M477.9 40.5l.9 0 3-3.3-1-.1zM463.3 37.7l.9.4 3.1 2.8-.9-.3z"/><path class="k14" d="M484.7 37.3l.9 0 2.9-2.1-1-.1z"/><path class="k12" d="M454.6 30.9l.9.3 3.2 4.5-.9-.4z"/><path class="k8" d="M445.8 24.4l.9.1 3.3 5.4-.9-.2z"/><path class="k5" d="M437.1 21.1l.9.1 3.4 1.6-.9-.5z"/><path class="k16" d="M478.8 40.5l1 .1 2.9-3.4-.9 0zM464.2 38.1l1 .3 3 2.8-.9-.3z"/><path class="k14" d="M485.6 37.3l1 .1 2.9-2-1-.2z"/><path class="k12" d="M455.5 31.2l.9.2 3.2 4.7-.9-.4z"/><path class="k8" d="M446.7 24.5l.9.2 3.3 5.4-.9-.2z"/><path class="k5" d="M438 21.2l.9.2 3.3 1.8-.8-.4z"/><path class="k16" d="M465.2 38.4l.9.3 3.1 2.7-1-.2zM479.8 40.6l1 0 2.9-3.4-1 0z"/><path class="k14" d="M486.6 37.4l1 0 2.9-1.9-1-.1z"/><path class="k13" d="M456.4 31.4l.9.3 3.2 4.8-.9-.4z"/><path class="k8" d="M447.6 24.7l.9.1 3.3 5.5-.9-.2z"/><path class="k5" d="M438.9 21.4l.9.1 3.3 2.2-.9-.5z"/><path class="k16" d="M466.1 38.7l.9.3 3.1 2.6-.9-.2zM480.8 40.6l.9 0 3-3.3-1-.1z"/><path class="k14" d="M487.6 37.4l1 .1 2.9-1.9-1-.1z"/><path class="k13" d="M457.3 31.7l.9.3 3.2 4.9-.9-.4z"/><path class="k5" d="M439.8 21.5l.8.1 3.4 2.4-.9-.3z"/><path class="k8" d="M448.5 24.8l.9.2 3.3 5.5-.9-.2z"/><path class="k16" d="M467 39l1 .3 3.1 2.5-1-.2z"/><path class="k17" d="M474.9 42.6l.9.2 3-2.3-.9 0z"/><path class="k16" d="M481.7 40.6l1 0 2.9-3.3-.9 0z"/><path class="k13" d="M458.2 32l1 .3 3.2 5-1-.4z"/><path class="k5" d="M440.6 21.6l.9.1 3.4 2.6-.9-.3z"/><path class="k8" d="M449.4 25l.9.1 3.3 5.6-.9-.2z"/><path class="k17" d="M468 39.3l.9.3 3.1 2.5-.9-.3zM475.8 42.8l1 .1 3-2.3-1-.1z"/><path class="k13" d="M459.2 32.3l.9.2 3.2 5.2-.9-.4z"/><path class="k16" d="M482.7 40.6l1 0 2.9-3.2-1-.1z"/><path class="k5" d="M441.5 21.7l.9.1 3.4 2.6-.9-.1z"/><path class="k9" d="M450.3 25.1l.9.2 3.4 5.6-1-.2z"/><path class="k17" d="M468.9 39.6l1 .3 3.1 2.3-1-.1zM476.8 42.9l1 .2 3-2.5-1 0z"/><path class="k13" d="M460.1 32.5l.9.3 3.2 5.3-.9-.4z"/><path class="k15" d="M483.7 40.6l1 0 2.9-3.2-1 0z"/><path class="k5" d="M442.4 21.8l.9.2 3.4 2.5-.9-.1z"/><path class="k9" d="M451.2 25.3l1 .1 3.3 5.8-.9-.3z"/><path class="k17" d="M469.9 39.9l1 .3 3 2.2-.9-.2z"/><path class="k13" d="M461 32.8l1 .2 3.2 5.4-1-.3z"/><path class="k17" d="M477.8 43.1l.9.1 3-2.6-.9 0z"/><path class="k15" d="M484.7 40.6l1 0 2.9-3.1-1-.1z"/><path class="k9" d="M452.2 25.4l.9.2 3.3 5.8-.9-.2z"/><path class="k5" d="M443.3 22l.9.1 3.4 2.6-.9-.2z"/><path class="k17" d="M470.9 40.2l.9.3 3.1 2.1-1-.2z"/><path class="k13" d="M462 33l.9.2 3.2 5.5-.9-.3z"/><path class="k17" d="M478.7 43.2l1 .1 3-2.7-1 0z"/><path class="k9" d="M453.1 25.6l.9.2 3.3 5.9-.9-.3z"/><path class="k5" d="M444.2 22.1l.9.1 3.4 2.6-.9-.1z"/><path class="k17" d="M471.8 40.5l1 .3 3 2-.9-.2z"/><path class="k13" d="M462.9 33.2l1 .3 3.1 5.5-.9-.3z"/><path class="k17" d="M479.7 43.3l1 .1 3-2.8-1 0z"/><path class="k9" d="M454 25.8l1 .1 3.2 6.1-.9-.3z"/><path class="k5" d="M445.1 22.2l1 .1 3.3 2.7-.9-.2z"/><path class="k17" d="M472.8 40.8l1 .3 3 1.8-1-.1z"/><path class="k13" d="M463.9 33.5l.9.2 3.2 5.6-1-.3z"/><path class="k17" d="M480.7 43.4l1 .1 3-2.9-1 0z"/><path class="k9" d="M455 25.9l.9.2 3.3 6.2-1-.3z"/><path class="k5" d="M446.1 22.3l.9.2 3.3 2.6-.9-.1z"/><path class="k17" d="M473.8 41.1l.9.3 3.1 1.7-1-.2z"/><path class="k13" d="M464.8 33.7l1 .3 3.1 5.6-.9-.3z"/><path class="k17" d="M481.7 43.5l1 .1 3-3-1 0z"/><path class="k9" d="M455.9 26.1l.9.2 3.3 6.2-.9-.2z"/><path class="k5" d="M447 22.5l.9.1 3.3 2.7-.9-.2z"/><path class="k17" d="M474.7 41.4l1 .3 3 1.5-.9-.1z"/><path class="k14" d="M465.8 34l1 .3 3.1 5.6-1-.3z"/><path class="k9" d="M456.8 26.3l1 .1 3.2 6.4-.9-.3z"/><path class="k5" d="M447.9 22.6l.9.1 3.4 2.7-1-.1z"/><path class="k17" d="M475.7 41.7l1 .3 3 1.3-1-.1z"/><path class="k14" d="M466.8 34.3l.9.2 3.2 5.7-1-.3z"/><path class="k9" d="M457.8 26.4l.9.2 3.3 6.4-1-.2z"/><path class="k5" d="M448.8 22.7l.9.2 3.4 2.7-.9-.2z"/><path class="k17" d="M476.7 42l1 .3 3 1.1-1-.1z"/><path class="k14" d="M467.7 34.5l1 .3 3.1 5.7-.9-.3z"/><path class="k9" d="M458.7 26.6l1 .2 3.2 6.4-.9-.2z"/><path class="k6" d="M449.7 22.9l1 .1 3.3 2.8-.9-.2z"/><path class="k17" d="M477.7 42.3l1 .3 3 .9-1-.1z"/><path class="k14" d="M468.7 34.8l1 .3 3.1 5.7-1-.3z"/><path class="k9" d="M459.7 26.8l.9.1 3.3 6.6-1-.3z"/><path class="k6" d="M450.7 23l.9.1 3.4 2.8-1-.1z"/><path class="k14" d="M469.7 35.1l.9.3 3.2 5.7-1-.3z"/><path class="k17" d="M478.7 42.6l1 .2 3 .8-1-.1z"/><path class="k9" d="M460.6 26.9l1 .2 3.2 6.6-.9-.2z"/><path class="k6" d="M451.6 23.1l1 .2 3.3 2.8-.9-.2z"/><path class="k14" d="M470.6 35.4l1 .3 3.1 5.7-.9-.3z"/><path class="k9" d="M461.6 27.1l1 .2 3.2 6.7-1-.3z"/><path class="k6" d="M452.6 23.3l.9.1 3.3 2.9-.9-.2z"/><path class="k14" d="M471.6 35.7l1 .3 3.1 5.7-1-.3z"/><path class="k9" d="M462.6 27.3l.9.2 3.3 6.8-1-.3z"/><path class="k14" d="M472.6 36l1 .3 3.1 5.7-1-.3z"/><path class="k6" d="M453.5 23.4l.9.1 3.4 2.9-1-.1z"/><path class="k9" d="M463.5 27.5l1 .2 3.2 6.8-.9-.2z"/><path class="k14" d="M473.6 36.3l1 .2 3.1 5.8-1-.3z"/><path class="k6" d="M454.4 23.5l1 .2 3.3 2.9-.9-.2z"/><path class="k9" d="M464.5 27.7l1 .2 3.2 6.9-1-.3z"/><path class="k14" d="M474.6 36.5l1 .4 3.1 5.7-1-.3z"/><path class="k6" d="M455.4 23.7l1 .1 3.3 3-1-.2z"/><path class="k9" d="M465.5 27.9l1 .2 3.2 7-1-.3z"/><path class="k14" d="M475.6 36.9l1 .3 3.1 5.6-1-.2z"/><path class="k6" d="M456.4 23.8l.9.1 3.3 3-.9-.1z"/><path class="k9" d="M466.5 28.1l.9.2 3.2 7.1-.9-.3z"/><path class="k6" d="M457.3 23.9l1 .2 3.3 3-1-.2z"/><path class="k9" d="M467.4 28.3l1 .2 3.2 7.2-1-.3z"/><path class="k6" d="M458.3 24.1l.9.1 3.4 3.1-1-.2z"/><path class="k10" d="M468.4 28.5l1 .2 3.2 7.3-1-.3z"/><path class="k6" d="M459.2 24.2l1 .2 3.3 3.1-.9-.2z"/><path class="k10" d="M469.4 28.7l1 .2 3.2 7.4-1-.3z"/><path class="k6" d="M460.2 24.4l1 .1 3.3 3.2-1-.2z"/><path class="k10" d="M470.4 28.9l1 .2 3.2 7.4-1-.2z"/><path class="k6" d="M461.2 24.5l1 .1 3.3 3.3-1-.2z"/><path class="k10" d="M471.4 29.1l1 .2 3.2 7.6-1-.4z"/><path class="k6" d="M462.2 24.6l1 .2 3.3 3.3-1-.2z"/><path class="k10" d="M472.4 29.3l1 .3 3.2 7.6-1-.3z"/><path class="k6" d="M463.2 24.8l1 .1 3.2 3.4-.9-.2zM464.2 24.9l1 .2 3.2 3.4-1-.2zM465.2 25.1l.9.1 3.3 3.5-1-.2zM466.1 25.2l1.1.2 3.2 3.5-1-.2zM467.2 25.4l1 .2 3.2 3.5-1-.2zM468.2 25.6l1 .1 3.2 3.6-1-.2zM469.2 25.7l1 .2 3.2 3.7-1-.3z"/></g>
<text x="457.6" y="71.5" class="an">(16.80 GHz,</text><text x="457.6" y="77.9" class="an">6.95 mm,</text><text x="457.6" y="84.3" class="an">-50.76 dB)</text><path d="M485.3 81.7L499.7 93.4" stroke="#000" stroke-width="1.1"/><path d="M502.2 95.4L498.8 94.6L500.7 92.2z" fill="#000"/>
<linearGradient id="g3c" x1="0" y1="0" x2="0" y2="1"><stop offset="0.000" stop-color="#ff0000"/><stop offset="0.120" stop-color="#ff1000"/><stop offset="0.190" stop-color="#ff5000"/><stop offset="0.240" stop-color="#ff8000"/><stop offset="0.280" stop-color="#ffb000"/><stop offset="0.310" stop-color="#ffe000"/><stop offset="0.335" stop-color="#c8ff00"/><stop offset="0.370" stop-color="#00ff00"/><stop offset="0.500" stop-color="#00ff3c"/><stop offset="0.535" stop-color="#00ff96"/><stop offset="0.580" stop-color="#00ffff"/><stop offset="0.630" stop-color="#00beff"/><stop offset="0.700" stop-color="#006eff"/><stop offset="0.750" stop-color="#0000ff"/><stop offset="0.820" stop-color="#2800ff"/><stop offset="0.880" stop-color="#6e00ff"/><stop offset="0.950" stop-color="#a000ff"/><stop offset="1.000" stop-color="#b900ff"/></linearGradient><rect x="531" y="13.1" width="6.2" height="75.9" fill="url(#g3c)"/><text x="539.8" y="19" class="cb">-6.000</text><text x="539.8" y="28.5" class="cb">-12.00</text><text x="539.8" y="38" class="cb">-18.00</text><text x="539.8" y="47.5" class="cb">-24.00</text><text x="539.8" y="57" class="cb">-30.00</text><text x="539.8" y="66.5" class="cb">-36.00</text><text x="539.8" y="76" class="cb">-42.00</text><text x="539.8" y="85.5" class="cb">-48.00</text>
<text transform="translate(394.3,62.8) rotate(-90)" class="r3" text-anchor="middle">RL (dB)</text>
</svg></body></html>
